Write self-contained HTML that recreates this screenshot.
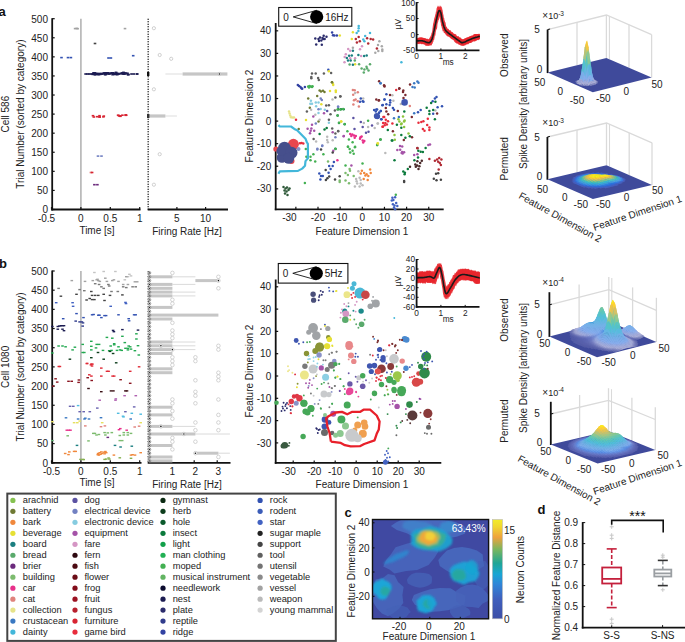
<!DOCTYPE html>
<html><head><meta charset="utf-8"><style>
html,body{margin:0;padding:0;background:#fff;width:685px;height:642px;overflow:hidden}
svg{display:block}
text{font-family:"Liberation Sans",sans-serif}
</style></head><body>
<svg width="685" height="642" viewBox="0 0 685 642">
<rect width="685" height="642" fill="#fff"/>
<text x="-1.5" y="16.0" font-size="13" text-anchor="start" fill="#111" font-weight="bold">a</text>
<text x="-1.0" y="268.0" font-size="13" text-anchor="start" fill="#111" font-weight="bold">b</text>
<text x="344.5" y="517.0" font-size="13" text-anchor="start" fill="#111" font-weight="bold">c</text>
<text x="537.5" y="514.0" font-size="13" text-anchor="start" fill="#111" font-weight="bold">d</text>
<line x1="80.90" y1="18.70" x2="80.90" y2="209.50" stroke="#b4b4b4" stroke-width="1.6"/>
<line x1="52.20" y1="18.20" x2="52.20" y2="210.50" stroke="#111" stroke-width="1.8"/>
<line x1="51.20" y1="209.50" x2="140.50" y2="209.50" stroke="#111" stroke-width="1.8"/>
<line x1="52.20" y1="209.50" x2="54.70" y2="209.50" stroke="#111" stroke-width="1.2"/>
<text x="48.0" y="213.3" font-size="10" text-anchor="end" fill="#222" font-weight="normal">0</text>
<line x1="52.20" y1="190.42" x2="54.70" y2="190.42" stroke="#111" stroke-width="1.2"/>
<text x="48.0" y="194.2" font-size="10" text-anchor="end" fill="#222" font-weight="normal">50</text>
<line x1="52.20" y1="171.34" x2="54.70" y2="171.34" stroke="#111" stroke-width="1.2"/>
<text x="48.0" y="175.1" font-size="10" text-anchor="end" fill="#222" font-weight="normal">100</text>
<line x1="52.20" y1="152.26" x2="54.70" y2="152.26" stroke="#111" stroke-width="1.2"/>
<text x="48.0" y="156.1" font-size="10" text-anchor="end" fill="#222" font-weight="normal">150</text>
<line x1="52.20" y1="133.18" x2="54.70" y2="133.18" stroke="#111" stroke-width="1.2"/>
<text x="48.0" y="137.0" font-size="10" text-anchor="end" fill="#222" font-weight="normal">200</text>
<line x1="52.20" y1="114.10" x2="54.70" y2="114.10" stroke="#111" stroke-width="1.2"/>
<text x="48.0" y="117.9" font-size="10" text-anchor="end" fill="#222" font-weight="normal">250</text>
<line x1="52.20" y1="95.02" x2="54.70" y2="95.02" stroke="#111" stroke-width="1.2"/>
<text x="48.0" y="98.8" font-size="10" text-anchor="end" fill="#222" font-weight="normal">300</text>
<line x1="52.20" y1="75.94" x2="54.70" y2="75.94" stroke="#111" stroke-width="1.2"/>
<text x="48.0" y="79.7" font-size="10" text-anchor="end" fill="#222" font-weight="normal">350</text>
<line x1="52.20" y1="56.86" x2="54.70" y2="56.86" stroke="#111" stroke-width="1.2"/>
<text x="48.0" y="60.7" font-size="10" text-anchor="end" fill="#222" font-weight="normal">400</text>
<line x1="52.20" y1="37.78" x2="54.70" y2="37.78" stroke="#111" stroke-width="1.2"/>
<text x="48.0" y="41.6" font-size="10" text-anchor="end" fill="#222" font-weight="normal">450</text>
<line x1="52.20" y1="18.70" x2="54.70" y2="18.70" stroke="#111" stroke-width="1.2"/>
<text x="48.0" y="22.5" font-size="10" text-anchor="end" fill="#222" font-weight="normal">500</text>
<line x1="51.50" y1="209.50" x2="51.50" y2="207.00" stroke="#111" stroke-width="1.2"/>
<text x="46.5" y="221.5" font-size="10" text-anchor="middle" fill="#222" font-weight="normal">-0.5</text>
<line x1="80.90" y1="209.50" x2="80.90" y2="207.00" stroke="#111" stroke-width="1.2"/>
<text x="80.9" y="221.5" font-size="10" text-anchor="middle" fill="#222" font-weight="normal">0</text>
<line x1="110.30" y1="209.50" x2="110.30" y2="207.00" stroke="#111" stroke-width="1.2"/>
<text x="110.3" y="221.5" font-size="10" text-anchor="middle" fill="#222" font-weight="normal">0.5</text>
<line x1="139.70" y1="209.50" x2="139.70" y2="207.00" stroke="#111" stroke-width="1.2"/>
<text x="139.7" y="221.5" font-size="10" text-anchor="middle" fill="#222" font-weight="normal">1</text>
<text x="97.0" y="234.0" font-size="10" text-anchor="middle" fill="#222" font-weight="normal">Time [s]</text>
<text x="24.0" y="114.1" font-size="10" text-anchor="middle" fill="#222" font-weight="normal" transform="rotate(-90 24 114.1)">Trial Number (sorted by category)</text>
<text x="9.5" y="114.1" font-size="10" text-anchor="middle" fill="#222" font-weight="normal" transform="rotate(-90 9.5 114.1)">Cell 586</text>
<line x1="148.2" y1="18.7" x2="148.2" y2="209.5" stroke="#111" stroke-width="1.5" stroke-dasharray="1.1,1.4"/>
<line x1="147.70" y1="209.50" x2="228.00" y2="209.50" stroke="#111" stroke-width="1.8"/>
<line x1="176.90" y1="209.50" x2="176.90" y2="207.00" stroke="#111" stroke-width="1.2"/>
<text x="176.9" y="221.5" font-size="10" text-anchor="middle" fill="#222" font-weight="normal">5</text>
<line x1="205.60" y1="209.50" x2="205.60" y2="207.00" stroke="#111" stroke-width="1.2"/>
<text x="205.6" y="221.5" font-size="10" text-anchor="middle" fill="#222" font-weight="normal">10</text>
<text x="187.0" y="235.0" font-size="10" text-anchor="middle" fill="#222" font-weight="normal">Firing Rate [Hz]</text>
<line x1="80.90" y1="271.00" x2="80.90" y2="462.80" stroke="#b4b4b4" stroke-width="1.6"/>
<line x1="52.20" y1="270.50" x2="52.20" y2="463.80" stroke="#111" stroke-width="1.8"/>
<line x1="51.20" y1="462.80" x2="141.50" y2="462.80" stroke="#111" stroke-width="1.8"/>
<line x1="52.20" y1="462.80" x2="54.70" y2="462.80" stroke="#111" stroke-width="1.2"/>
<text x="48.0" y="466.6" font-size="10" text-anchor="end" fill="#222" font-weight="normal">0</text>
<line x1="52.20" y1="443.62" x2="54.70" y2="443.62" stroke="#111" stroke-width="1.2"/>
<text x="48.0" y="447.4" font-size="10" text-anchor="end" fill="#222" font-weight="normal">50</text>
<line x1="52.20" y1="424.44" x2="54.70" y2="424.44" stroke="#111" stroke-width="1.2"/>
<text x="48.0" y="428.2" font-size="10" text-anchor="end" fill="#222" font-weight="normal">100</text>
<line x1="52.20" y1="405.26" x2="54.70" y2="405.26" stroke="#111" stroke-width="1.2"/>
<text x="48.0" y="409.1" font-size="10" text-anchor="end" fill="#222" font-weight="normal">150</text>
<line x1="52.20" y1="386.08" x2="54.70" y2="386.08" stroke="#111" stroke-width="1.2"/>
<text x="48.0" y="389.9" font-size="10" text-anchor="end" fill="#222" font-weight="normal">200</text>
<line x1="52.20" y1="366.90" x2="54.70" y2="366.90" stroke="#111" stroke-width="1.2"/>
<text x="48.0" y="370.7" font-size="10" text-anchor="end" fill="#222" font-weight="normal">250</text>
<line x1="52.20" y1="347.72" x2="54.70" y2="347.72" stroke="#111" stroke-width="1.2"/>
<text x="48.0" y="351.5" font-size="10" text-anchor="end" fill="#222" font-weight="normal">300</text>
<line x1="52.20" y1="328.54" x2="54.70" y2="328.54" stroke="#111" stroke-width="1.2"/>
<text x="48.0" y="332.3" font-size="10" text-anchor="end" fill="#222" font-weight="normal">350</text>
<line x1="52.20" y1="309.36" x2="54.70" y2="309.36" stroke="#111" stroke-width="1.2"/>
<text x="48.0" y="313.2" font-size="10" text-anchor="end" fill="#222" font-weight="normal">400</text>
<line x1="52.20" y1="290.18" x2="54.70" y2="290.18" stroke="#111" stroke-width="1.2"/>
<text x="48.0" y="294.0" font-size="10" text-anchor="end" fill="#222" font-weight="normal">450</text>
<line x1="52.20" y1="271.00" x2="54.70" y2="271.00" stroke="#111" stroke-width="1.2"/>
<text x="48.0" y="274.8" font-size="10" text-anchor="end" fill="#222" font-weight="normal">500</text>
<line x1="51.50" y1="462.80" x2="51.50" y2="460.30" stroke="#111" stroke-width="1.2"/>
<text x="51.5" y="474.8" font-size="10" text-anchor="middle" fill="#222" font-weight="normal">-0.5</text>
<line x1="80.90" y1="462.80" x2="80.90" y2="460.30" stroke="#111" stroke-width="1.2"/>
<text x="80.9" y="474.8" font-size="10" text-anchor="middle" fill="#222" font-weight="normal">0</text>
<line x1="110.30" y1="462.80" x2="110.30" y2="460.30" stroke="#111" stroke-width="1.2"/>
<text x="110.3" y="474.8" font-size="10" text-anchor="middle" fill="#222" font-weight="normal">0.5</text>
<line x1="139.70" y1="462.80" x2="139.70" y2="460.30" stroke="#111" stroke-width="1.2"/>
<text x="139.7" y="474.8" font-size="10" text-anchor="middle" fill="#222" font-weight="normal">1</text>
<text x="97.0" y="486.1" font-size="10" text-anchor="middle" fill="#222" font-weight="normal">Time [s]</text>
<text x="24.0" y="366.9" font-size="10" text-anchor="middle" fill="#222" font-weight="normal" transform="rotate(-90 24 366.9)">Trial Number (sorted by category)</text>
<text x="9.5" y="366.9" font-size="10" text-anchor="middle" fill="#222" font-weight="normal" transform="rotate(-90 9.5 366.9)">Cell 1080</text>
<line x1="148.2" y1="271.0" x2="148.2" y2="462.8" stroke="#111" stroke-width="1.0" stroke-dasharray="1.1,1.4"/>
<line x1="147.70" y1="462.80" x2="230.50" y2="462.80" stroke="#111" stroke-width="1.8"/>
<line x1="171.20" y1="462.80" x2="171.20" y2="460.30" stroke="#111" stroke-width="1.2"/>
<text x="172.2" y="474.8" font-size="10" text-anchor="middle" fill="#222" font-weight="normal">1</text>
<line x1="194.20" y1="462.80" x2="194.20" y2="460.30" stroke="#111" stroke-width="1.2"/>
<text x="195.2" y="474.8" font-size="10" text-anchor="middle" fill="#222" font-weight="normal">2</text>
<line x1="217.20" y1="462.80" x2="217.20" y2="460.30" stroke="#111" stroke-width="1.2"/>
<text x="218.2" y="474.8" font-size="10" text-anchor="middle" fill="#222" font-weight="normal">3</text>
<text x="187.0" y="487.5" font-size="10" text-anchor="middle" fill="#222" font-weight="normal">Firing Rate [Hz]</text>
<rect x="73.8" y="27.8" width="2.6" height="1.6" fill="#a2a2a2"/>
<rect x="76.3" y="27.9" width="2.6" height="1.6" fill="#a2a2a2"/>
<rect x="75.5" y="27.6" width="2.6" height="1.6" fill="#a2a2a2"/>
<rect x="123.7" y="27.8" width="2.6" height="1.6" fill="#a2a2a2"/>
<rect x="93.7" y="42.7" width="2.6" height="1.6" fill="#444444"/>
<rect x="60.2" y="56.8" width="2.6" height="1.6" fill="#3252b2"/>
<rect x="66.7" y="56.8" width="2.6" height="1.6" fill="#3252b2"/>
<rect x="69.6" y="56.8" width="2.6" height="1.6" fill="#3252b2"/>
<rect x="107.2" y="57.2" width="2.6" height="1.6" fill="#3252b2"/>
<rect x="109.6" y="57.2" width="2.6" height="1.6" fill="#3252b2"/>
<rect x="131.9" y="54.9" width="2.6" height="1.6" fill="#3252b2"/>
<rect x="93.5" y="72.8" width="2.6" height="1.6" fill="#1c1c52"/>
<rect x="92.7" y="73.0" width="2.6" height="1.6" fill="#1c1c52"/>
<rect x="93.9" y="73.8" width="2.6" height="1.6" fill="#1c1c52"/>
<rect x="106.8" y="72.1" width="2.6" height="1.6" fill="#1c1c52"/>
<rect x="95.9" y="73.5" width="2.6" height="1.6" fill="#1c1c52"/>
<rect x="114.2" y="71.8" width="2.6" height="1.6" fill="#1c1c52"/>
<rect x="112.4" y="73.1" width="2.6" height="1.6" fill="#1c1c52"/>
<rect x="127.0" y="73.9" width="2.6" height="1.6" fill="#1c1c52"/>
<rect x="122.7" y="73.3" width="2.6" height="1.6" fill="#1c1c52"/>
<rect x="96.6" y="73.7" width="2.6" height="1.6" fill="#1c1c52"/>
<rect x="102.6" y="72.1" width="2.6" height="1.6" fill="#1c1c52"/>
<rect x="97.9" y="72.7" width="2.6" height="1.6" fill="#1c1c52"/>
<rect x="114.7" y="73.1" width="2.6" height="1.6" fill="#1c1c52"/>
<rect x="111.3" y="73.9" width="2.6" height="1.6" fill="#1c1c52"/>
<rect x="93.5" y="73.5" width="2.6" height="1.6" fill="#1c1c52"/>
<rect x="116.2" y="73.0" width="2.6" height="1.6" fill="#1c1c52"/>
<rect x="102.8" y="72.7" width="2.6" height="1.6" fill="#1c1c52"/>
<rect x="107.9" y="73.3" width="2.6" height="1.6" fill="#1c1c52"/>
<rect x="120.3" y="72.4" width="2.6" height="1.6" fill="#1c1c52"/>
<rect x="100.3" y="72.7" width="2.6" height="1.6" fill="#1c1c52"/>
<rect x="110.5" y="72.0" width="2.6" height="1.6" fill="#1c1c52"/>
<rect x="118.0" y="73.3" width="2.6" height="1.6" fill="#1c1c52"/>
<rect x="127.1" y="73.7" width="2.6" height="1.6" fill="#1c1c52"/>
<rect x="106.6" y="72.3" width="2.6" height="1.6" fill="#1c1c52"/>
<rect x="96.9" y="72.9" width="2.6" height="1.6" fill="#1c1c52"/>
<rect x="92.8" y="72.5" width="2.6" height="1.6" fill="#1c1c52"/>
<rect x="119.2" y="72.7" width="2.6" height="1.6" fill="#1c1c52"/>
<rect x="123.3" y="73.3" width="2.6" height="1.6" fill="#1c1c52"/>
<rect x="116.7" y="72.6" width="2.6" height="1.6" fill="#1c1c52"/>
<rect x="112.5" y="73.0" width="2.6" height="1.6" fill="#1c1c52"/>
<rect x="122.0" y="71.8" width="2.6" height="1.6" fill="#1c1c52"/>
<rect x="108.6" y="72.5" width="2.6" height="1.6" fill="#1c1c52"/>
<rect x="93.6" y="72.4" width="2.6" height="1.6" fill="#1c1c52"/>
<rect x="115.0" y="71.7" width="2.6" height="1.6" fill="#1c1c52"/>
<rect x="121.3" y="73.3" width="2.6" height="1.6" fill="#1c1c52"/>
<rect x="105.4" y="72.5" width="2.6" height="1.6" fill="#1c1c52"/>
<rect x="92.2" y="72.9" width="2.6" height="1.6" fill="#1c1c52"/>
<rect x="97.5" y="73.7" width="2.6" height="1.6" fill="#1c1c52"/>
<rect x="93.5" y="72.2" width="2.6" height="1.6" fill="#1c1c52"/>
<rect x="96.1" y="73.4" width="2.6" height="1.6" fill="#1c1c52"/>
<rect x="105.6" y="72.0" width="2.6" height="1.6" fill="#1c1c52"/>
<rect x="94.3" y="73.0" width="2.6" height="1.6" fill="#1c1c52"/>
<rect x="111.4" y="72.0" width="2.6" height="1.6" fill="#1c1c52"/>
<rect x="121.2" y="72.0" width="2.6" height="1.6" fill="#1c1c52"/>
<rect x="101.5" y="73.0" width="2.6" height="1.6" fill="#1c1c52"/>
<rect x="104.4" y="72.0" width="2.6" height="1.6" fill="#1c1c52"/>
<rect x="126.3" y="73.6" width="2.6" height="1.6" fill="#1c1c52"/>
<rect x="97.8" y="73.5" width="2.6" height="1.6" fill="#1c1c52"/>
<rect x="99.9" y="72.9" width="2.6" height="1.6" fill="#1c1c52"/>
<rect x="112.8" y="73.4" width="2.6" height="1.6" fill="#1c1c52"/>
<rect x="91.5" y="73.0" width="2.6" height="1.6" fill="#1c1c52"/>
<rect x="104.8" y="72.7" width="2.6" height="1.6" fill="#1c1c52"/>
<rect x="126.1" y="72.4" width="2.6" height="1.6" fill="#1c1c52"/>
<rect x="110.2" y="72.6" width="2.6" height="1.6" fill="#1c1c52"/>
<rect x="116.0" y="73.9" width="2.6" height="1.6" fill="#1c1c52"/>
<rect x="124.2" y="72.2" width="2.6" height="1.6" fill="#1c1c52"/>
<rect x="123.2" y="72.2" width="2.6" height="1.6" fill="#1c1c52"/>
<rect x="105.7" y="73.1" width="2.6" height="1.6" fill="#1c1c52"/>
<rect x="95.1" y="72.5" width="2.6" height="1.6" fill="#1c1c52"/>
<rect x="93.6" y="73.8" width="2.6" height="1.6" fill="#1c1c52"/>
<rect x="99.0" y="73.6" width="2.6" height="1.6" fill="#1c1c52"/>
<rect x="103.8" y="73.9" width="2.6" height="1.6" fill="#1c1c52"/>
<rect x="91.4" y="73.6" width="2.6" height="1.6" fill="#1c1c52"/>
<rect x="95.1" y="73.2" width="2.6" height="1.6" fill="#1c1c52"/>
<rect x="92.3" y="72.0" width="2.6" height="1.6" fill="#1c1c52"/>
<rect x="113.7" y="73.7" width="2.6" height="1.6" fill="#1c1c52"/>
<rect x="100.6" y="73.2" width="2.6" height="1.6" fill="#1c1c52"/>
<rect x="104.6" y="73.7" width="2.6" height="1.6" fill="#1c1c52"/>
<rect x="122.3" y="71.7" width="2.6" height="1.6" fill="#1c1c52"/>
<rect x="108.3" y="72.9" width="2.6" height="1.6" fill="#1c1c52"/>
<rect x="84.3" y="73.2" width="2.6" height="1.6" fill="#1c1c52"/>
<rect x="86.1" y="73.2" width="2.6" height="1.6" fill="#1c1c52"/>
<rect x="87.8" y="73.2" width="2.6" height="1.6" fill="#1c1c52"/>
<rect x="89.6" y="73.2" width="2.6" height="1.6" fill="#1c1c52"/>
<rect x="130.2" y="73.2" width="2.6" height="1.6" fill="#1c1c52"/>
<rect x="132.5" y="73.2" width="2.6" height="1.6" fill="#1c1c52"/>
<rect x="135.5" y="73.2" width="2.6" height="1.6" fill="#1c1c52"/>
<rect x="136.0" y="73.2" width="2.6" height="1.6" fill="#1c1c52"/>
<rect x="92.5" y="116.2" width="2.6" height="1.6" fill="#d82432"/>
<rect x="95.8" y="115.9" width="2.6" height="1.6" fill="#d82432"/>
<rect x="102.1" y="116.1" width="2.6" height="1.6" fill="#d82432"/>
<rect x="91.7" y="114.9" width="2.6" height="1.6" fill="#d82432"/>
<rect x="98.2" y="116.1" width="2.6" height="1.6" fill="#d82432"/>
<rect x="98.4" y="116.3" width="2.6" height="1.6" fill="#d82432"/>
<rect x="98.2" y="114.9" width="2.6" height="1.6" fill="#d82432"/>
<rect x="102.5" y="115.3" width="2.6" height="1.6" fill="#d82432"/>
<rect x="118.0" y="115.0" width="2.6" height="1.6" fill="#d82432"/>
<rect x="116.8" y="114.4" width="2.6" height="1.6" fill="#d82432"/>
<rect x="121.1" y="114.4" width="2.6" height="1.6" fill="#d82432"/>
<rect x="118.8" y="115.2" width="2.6" height="1.6" fill="#d82432"/>
<rect x="124.4" y="114.1" width="2.6" height="1.6" fill="#d82432"/>
<rect x="124.9" y="114.4" width="2.6" height="1.6" fill="#d82432"/>
<rect x="124.5" y="114.5" width="2.6" height="1.6" fill="#d82432"/>
<rect x="117.5" y="114.8" width="2.6" height="1.6" fill="#d82432"/>
<rect x="119.1" y="115.5" width="2.6" height="1.6" fill="#d82432"/>
<rect x="96.7" y="155.3" width="2.6" height="1.6" fill="#7281c2"/>
<rect x="100.2" y="155.3" width="2.6" height="1.6" fill="#7281c2"/>
<rect x="89.6" y="171.7" width="2.6" height="1.6" fill="#e0827c"/>
<rect x="90.8" y="171.7" width="2.6" height="1.6" fill="#d82432"/>
<rect x="93.1" y="183.9" width="2.6" height="1.6" fill="#6b2a7c"/>
<rect x="96.1" y="183.9" width="2.6" height="1.6" fill="#6b2a7c"/>
<circle cx="153.9" cy="28.2" r="1.6" fill="#fff" stroke="#bdbdbd" stroke-width="0.7"/>
<circle cx="159.7" cy="55.0" r="1.6" fill="#fff" stroke="#bdbdbd" stroke-width="0.7"/>
<circle cx="171.2" cy="58.8" r="1.6" fill="#fff" stroke="#bdbdbd" stroke-width="0.7"/>
<line x1="165.4" y1="74.0" x2="182.6" y2="74.0" stroke="#d4d4d4" stroke-width="0.8"/>
<rect x="182.6" y="72.4" width="44.8" height="3.2" fill="#c6c6c6"/>
<circle cx="219.4" cy="74.0" r="1.6" fill="#fff" stroke="#bdbdbd" stroke-width="0.7"/>
<circle cx="219.4" cy="74.0" r="0.8" fill="#111"/>
<circle cx="153.9" cy="89.3" r="1.6" fill="#fff" stroke="#bdbdbd" stroke-width="0.7"/>
<line x1="165.4" y1="116.0" x2="176.9" y2="116.0" stroke="#d4d4d4" stroke-width="0.8"/>
<rect x="148.2" y="114.4" width="17.2" height="3.2" fill="#c6c6c6"/>
<circle cx="159.7" cy="154.2" r="1.6" fill="#fff" stroke="#bdbdbd" stroke-width="0.7"/>
<circle cx="153.9" cy="184.7" r="1.6" fill="#fff" stroke="#bdbdbd" stroke-width="0.7"/>
<rect x="147" y="72.0" width="2.4" height="4" fill="#111"/>
<rect x="147" y="114.0" width="2.4" height="4" fill="#333"/>
<rect x="57.5" y="365.8" width="2.6" height="1.4" fill="#e02a36"/>
<rect x="58.6" y="365.8" width="2.6" height="1.4" fill="#e02a36"/>
<rect x="85.6" y="362.9" width="2.6" height="1.4" fill="#e02a36"/>
<rect x="89.6" y="364.2" width="2.6" height="1.4" fill="#e02a36"/>
<rect x="90.7" y="365.3" width="2.6" height="1.4" fill="#e02a36"/>
<rect x="100.0" y="367.4" width="2.6" height="1.4" fill="#e02a36"/>
<rect x="105.7" y="370.6" width="2.6" height="1.4" fill="#e02a36"/>
<rect x="107.3" y="370.6" width="2.6" height="1.4" fill="#e02a36"/>
<rect x="128.9" y="370.6" width="2.6" height="1.4" fill="#e02a36"/>
<rect x="137.8" y="366.1" width="2.6" height="1.4" fill="#e02a36"/>
<rect x="88.0" y="374.1" width="2.6" height="1.4" fill="#e02a36"/>
<rect x="90.1" y="375.4" width="2.6" height="1.4" fill="#e02a36"/>
<rect x="100.0" y="375.4" width="2.6" height="1.4" fill="#e02a36"/>
<rect x="111.3" y="375.4" width="2.6" height="1.4" fill="#e02a36"/>
<rect x="112.9" y="375.4" width="2.6" height="1.4" fill="#e02a36"/>
<rect x="54.3" y="378.1" width="2.6" height="1.4" fill="#8a1420"/>
<rect x="55.9" y="381.4" width="2.6" height="1.4" fill="#8a1420"/>
<rect x="67.2" y="380.6" width="2.6" height="1.4" fill="#8a1420"/>
<rect x="70.4" y="380.6" width="2.6" height="1.4" fill="#8a1420"/>
<rect x="77.6" y="379.3" width="2.6" height="1.4" fill="#8a1420"/>
<rect x="77.3" y="381.7" width="2.6" height="1.4" fill="#8a1420"/>
<rect x="86.4" y="377.0" width="2.6" height="1.4" fill="#8a1420"/>
<rect x="90.4" y="379.8" width="2.6" height="1.4" fill="#8a1420"/>
<rect x="119.3" y="379.0" width="2.6" height="1.4" fill="#8a1420"/>
<rect x="128.9" y="382.6" width="2.6" height="1.4" fill="#8a1420"/>
<rect x="51.9" y="385.4" width="2.6" height="1.4" fill="#8a1420"/>
<rect x="87.2" y="387.8" width="2.6" height="1.4" fill="#3a1015"/>
<rect x="100.0" y="391.0" width="2.6" height="1.4" fill="#3a1015"/>
<rect x="109.7" y="390.2" width="2.6" height="1.4" fill="#3a1015"/>
<rect x="112.1" y="390.2" width="2.6" height="1.4" fill="#3a1015"/>
<rect x="124.1" y="390.2" width="2.6" height="1.4" fill="#3a1015"/>
<rect x="125.7" y="390.2" width="2.6" height="1.4" fill="#3a1015"/>
<rect x="98.4" y="399.5" width="2.6" height="1.4" fill="#b060b0"/>
<rect x="114.5" y="398.2" width="2.6" height="1.4" fill="#b060b0"/>
<rect x="114.2" y="399.5" width="2.6" height="1.4" fill="#b060b0"/>
<rect x="123.3" y="395.0" width="2.6" height="1.4" fill="#b060b0"/>
<rect x="134.5" y="395.0" width="2.6" height="1.4" fill="#b060b0"/>
<rect x="68.8" y="405.6" width="2.6" height="1.4" fill="#6a64b0"/>
<rect x="72.0" y="405.6" width="2.6" height="1.4" fill="#6a64b0"/>
<rect x="96.0" y="407.4" width="2.6" height="1.4" fill="#6a64b0"/>
<rect x="132.9" y="406.2" width="2.6" height="1.4" fill="#6a64b0"/>
<rect x="78.4" y="411.0" width="2.6" height="1.4" fill="#6a64b0"/>
<rect x="82.4" y="411.0" width="2.6" height="1.4" fill="#6a64b0"/>
<rect x="88.5" y="411.0" width="2.6" height="1.4" fill="#6a64b0"/>
<rect x="124.1" y="411.0" width="2.6" height="1.4" fill="#6a64b0"/>
<rect x="76.8" y="404.9" width="2.6" height="1.4" fill="#50bce0"/>
<rect x="116.9" y="412.6" width="2.6" height="1.4" fill="#50bce0"/>
<rect x="121.7" y="415.5" width="2.6" height="1.4" fill="#50bce0"/>
<rect x="122.2" y="416.2" width="2.6" height="1.4" fill="#50bce0"/>
<rect x="130.5" y="412.6" width="2.6" height="1.4" fill="#50bce0"/>
<rect x="139.4" y="413.5" width="2.6" height="1.4" fill="#50bce0"/>
<rect x="64.7" y="417.1" width="2.6" height="1.4" fill="#3a78c2"/>
<rect x="76.8" y="418.3" width="2.6" height="1.4" fill="#3a78c2"/>
<rect x="83.2" y="418.3" width="2.6" height="1.4" fill="#3a78c2"/>
<rect x="84.0" y="417.5" width="2.6" height="1.4" fill="#3a78c2"/>
<rect x="87.7" y="418.3" width="2.6" height="1.4" fill="#3a78c2"/>
<rect x="99.7" y="417.0" width="2.6" height="1.4" fill="#3a78c2"/>
<rect x="129.4" y="418.3" width="2.6" height="1.4" fill="#3a78c2"/>
<rect x="72.8" y="422.0" width="2.6" height="1.4" fill="#e6e060"/>
<rect x="76.0" y="422.0" width="2.6" height="1.4" fill="#e6e060"/>
<rect x="78.4" y="420.4" width="2.6" height="1.4" fill="#e6e060"/>
<rect x="100.9" y="422.0" width="2.6" height="1.4" fill="#e6e060"/>
<rect x="139.4" y="422.0" width="2.6" height="1.4" fill="#e6e060"/>
<rect x="51.1" y="421.0" width="2.6" height="1.4" fill="#e6e060"/>
<rect x="84.0" y="425.2" width="2.6" height="1.4" fill="#e0827c"/>
<rect x="99.7" y="426.0" width="2.6" height="1.4" fill="#e0827c"/>
<rect x="103.6" y="425.2" width="2.6" height="1.4" fill="#e0827c"/>
<rect x="133.4" y="426.3" width="2.6" height="1.4" fill="#e0827c"/>
<rect x="137.8" y="425.5" width="2.6" height="1.4" fill="#e0827c"/>
<rect x="65.5" y="429.5" width="2.6" height="1.4" fill="#e8308a"/>
<rect x="67.6" y="429.5" width="2.6" height="1.4" fill="#e8308a"/>
<rect x="69.2" y="429.5" width="2.6" height="1.4" fill="#e8308a"/>
<rect x="117.7" y="429.0" width="2.6" height="1.4" fill="#e8308a"/>
<rect x="119.0" y="427.9" width="2.6" height="1.4" fill="#e8308a"/>
<rect x="125.4" y="429.5" width="2.6" height="1.4" fill="#e8308a"/>
<rect x="92.0" y="432.7" width="2.6" height="1.4" fill="#7cbb6e"/>
<rect x="93.6" y="432.7" width="2.6" height="1.4" fill="#7cbb6e"/>
<rect x="95.2" y="434.3" width="2.6" height="1.4" fill="#7cbb6e"/>
<rect x="97.6" y="433.8" width="2.6" height="1.4" fill="#7cbb6e"/>
<rect x="103.3" y="431.9" width="2.6" height="1.4" fill="#7cbb6e"/>
<rect x="104.1" y="434.3" width="2.6" height="1.4" fill="#7cbb6e"/>
<rect x="106.5" y="432.2" width="2.6" height="1.4" fill="#7cbb6e"/>
<rect x="110.5" y="431.9" width="2.6" height="1.4" fill="#7cbb6e"/>
<rect x="118.5" y="434.8" width="2.6" height="1.4" fill="#7cbb6e"/>
<rect x="122.5" y="431.9" width="2.6" height="1.4" fill="#7cbb6e"/>
<rect x="122.5" y="434.3" width="2.6" height="1.4" fill="#7cbb6e"/>
<rect x="126.5" y="431.9" width="2.6" height="1.4" fill="#7cbb6e"/>
<rect x="126.5" y="434.3" width="2.6" height="1.4" fill="#7cbb6e"/>
<rect x="129.7" y="432.7" width="2.6" height="1.4" fill="#7cbb6e"/>
<rect x="66.4" y="435.1" width="2.6" height="1.4" fill="#7cbb6e"/>
<rect x="87.2" y="440.2" width="2.6" height="1.4" fill="#7cbb6e"/>
<rect x="118.5" y="439.9" width="2.6" height="1.4" fill="#7cbb6e"/>
<rect x="120.9" y="439.9" width="2.6" height="1.4" fill="#7cbb6e"/>
<rect x="106.5" y="436.7" width="2.6" height="1.4" fill="#6b2a7c"/>
<rect x="75.7" y="444.7" width="2.6" height="1.4" fill="#1b7f80"/>
<rect x="113.7" y="444.7" width="2.6" height="1.4" fill="#1b7f80"/>
<rect x="119.3" y="446.3" width="2.6" height="1.4" fill="#1b7f80"/>
<rect x="130.5" y="445.5" width="2.6" height="1.4" fill="#1b7f80"/>
<rect x="51.1" y="439.9" width="2.6" height="1.4" fill="#5aaa6c"/>
<rect x="63.9" y="452.8" width="2.6" height="1.4" fill="#f0883c"/>
<rect x="68.0" y="451.2" width="2.6" height="1.4" fill="#f0883c"/>
<rect x="67.2" y="453.9" width="2.6" height="1.4" fill="#f0883c"/>
<rect x="72.8" y="450.7" width="2.6" height="1.4" fill="#f0883c"/>
<rect x="74.4" y="450.7" width="2.6" height="1.4" fill="#f0883c"/>
<rect x="96.8" y="452.8" width="2.6" height="1.4" fill="#f0883c"/>
<rect x="97.6" y="454.4" width="2.6" height="1.4" fill="#f0883c"/>
<rect x="98.4" y="452.0" width="2.6" height="1.4" fill="#f0883c"/>
<rect x="100.0" y="451.2" width="2.6" height="1.4" fill="#f0883c"/>
<rect x="102.5" y="451.5" width="2.6" height="1.4" fill="#f0883c"/>
<rect x="103.3" y="453.1" width="2.6" height="1.4" fill="#f0883c"/>
<rect x="104.9" y="452.0" width="2.6" height="1.4" fill="#f0883c"/>
<rect x="104.1" y="450.8" width="2.6" height="1.4" fill="#f0883c"/>
<rect x="99.2" y="453.6" width="2.6" height="1.4" fill="#f0883c"/>
<rect x="96.5" y="454.0" width="2.6" height="1.4" fill="#f0883c"/>
<rect x="100.9" y="452.8" width="2.6" height="1.4" fill="#f0883c"/>
<rect x="112.6" y="454.4" width="2.6" height="1.4" fill="#f0883c"/>
<rect x="129.7" y="454.4" width="2.6" height="1.4" fill="#f0883c"/>
<rect x="131.3" y="454.0" width="2.6" height="1.4" fill="#f0883c"/>
<rect x="133.7" y="454.4" width="2.6" height="1.4" fill="#f0883c"/>
<rect x="139.4" y="452.0" width="2.6" height="1.4" fill="#f0883c"/>
<rect x="79.2" y="458.7" width="2.6" height="1.4" fill="#86b050"/>
<rect x="81.6" y="458.7" width="2.6" height="1.4" fill="#86b050"/>
<rect x="103.3" y="458.7" width="2.6" height="1.4" fill="#86b050"/>
<rect x="104.9" y="458.4" width="2.6" height="1.4" fill="#86b050"/>
<rect x="107.3" y="457.3" width="2.6" height="1.4" fill="#86b050"/>
<rect x="108.1" y="458.4" width="2.6" height="1.4" fill="#86b050"/>
<rect x="118.5" y="457.1" width="2.6" height="1.4" fill="#86b050"/>
<rect x="129.7" y="457.6" width="2.6" height="1.4" fill="#86b050"/>
<rect x="82.4" y="458.9" width="2.6" height="1.4" fill="#86b050"/>
<rect x="93.1" y="271.8" width="2.6" height="1.4" fill="#c4c4c4"/>
<rect x="102.4" y="270.8" width="2.6" height="1.4" fill="#c4c4c4"/>
<rect x="114.1" y="270.8" width="2.6" height="1.4" fill="#c4c4c4"/>
<rect x="123.5" y="279.1" width="2.6" height="1.4" fill="#c4c4c4"/>
<rect x="128.1" y="273.6" width="2.6" height="1.4" fill="#c4c4c4"/>
<rect x="129.7" y="275.2" width="2.6" height="1.4" fill="#c4c4c4"/>
<rect x="126.6" y="276.0" width="2.6" height="1.4" fill="#c4c4c4"/>
<rect x="70.5" y="279.9" width="2.6" height="1.4" fill="#a2a2a2"/>
<rect x="83.7" y="280.7" width="2.6" height="1.4" fill="#a2a2a2"/>
<rect x="91.5" y="279.9" width="2.6" height="1.4" fill="#a2a2a2"/>
<rect x="95.4" y="279.1" width="2.6" height="1.4" fill="#a2a2a2"/>
<rect x="97.0" y="279.9" width="2.6" height="1.4" fill="#a2a2a2"/>
<rect x="98.5" y="280.7" width="2.6" height="1.4" fill="#a2a2a2"/>
<rect x="96.2" y="278.6" width="2.6" height="1.4" fill="#a2a2a2"/>
<rect x="104.0" y="277.5" width="2.6" height="1.4" fill="#a2a2a2"/>
<rect x="105.6" y="280.7" width="2.6" height="1.4" fill="#a2a2a2"/>
<rect x="111.0" y="279.9" width="2.6" height="1.4" fill="#a2a2a2"/>
<rect x="112.6" y="279.1" width="2.6" height="1.4" fill="#a2a2a2"/>
<rect x="117.2" y="280.7" width="2.6" height="1.4" fill="#a2a2a2"/>
<rect x="125.0" y="276.0" width="2.6" height="1.4" fill="#a2a2a2"/>
<rect x="133.6" y="281.1" width="2.6" height="1.4" fill="#a2a2a2"/>
<rect x="135.9" y="281.1" width="2.6" height="1.4" fill="#a2a2a2"/>
<rect x="121.9" y="283.8" width="2.6" height="1.4" fill="#a2a2a2"/>
<rect x="126.6" y="283.8" width="2.6" height="1.4" fill="#a2a2a2"/>
<rect x="57.3" y="287.7" width="2.6" height="1.4" fill="#7a7a7a"/>
<rect x="78.3" y="288.9" width="2.6" height="1.4" fill="#7a7a7a"/>
<rect x="83.0" y="290.0" width="2.6" height="1.4" fill="#7a7a7a"/>
<rect x="93.9" y="283.0" width="2.6" height="1.4" fill="#7a7a7a"/>
<rect x="97.8" y="283.8" width="2.6" height="1.4" fill="#7a7a7a"/>
<rect x="107.1" y="283.8" width="2.6" height="1.4" fill="#7a7a7a"/>
<rect x="107.9" y="285.3" width="2.6" height="1.4" fill="#7a7a7a"/>
<rect x="100.1" y="286.1" width="2.6" height="1.4" fill="#7a7a7a"/>
<rect x="102.4" y="287.7" width="2.6" height="1.4" fill="#7a7a7a"/>
<rect x="110.2" y="290.8" width="2.6" height="1.4" fill="#7a7a7a"/>
<rect x="116.5" y="290.8" width="2.6" height="1.4" fill="#7a7a7a"/>
<rect x="121.9" y="286.1" width="2.6" height="1.4" fill="#7a7a7a"/>
<rect x="125.0" y="286.9" width="2.6" height="1.4" fill="#7a7a7a"/>
<rect x="131.3" y="286.1" width="2.6" height="1.4" fill="#7a7a7a"/>
<rect x="134.4" y="286.1" width="2.6" height="1.4" fill="#7a7a7a"/>
<rect x="59.6" y="295.5" width="2.6" height="1.4" fill="#444444"/>
<rect x="75.2" y="293.6" width="2.6" height="1.4" fill="#444444"/>
<rect x="85.3" y="299.3" width="2.6" height="1.4" fill="#444444"/>
<rect x="88.4" y="297.8" width="2.6" height="1.4" fill="#444444"/>
<rect x="90.0" y="290.8" width="2.6" height="1.4" fill="#444444"/>
<rect x="90.8" y="294.7" width="2.6" height="1.4" fill="#444444"/>
<rect x="93.9" y="294.7" width="2.6" height="1.4" fill="#444444"/>
<rect x="97.0" y="294.7" width="2.6" height="1.4" fill="#444444"/>
<rect x="90.8" y="298.9" width="2.6" height="1.4" fill="#444444"/>
<rect x="93.1" y="298.9" width="2.6" height="1.4" fill="#444444"/>
<rect x="102.4" y="293.6" width="2.6" height="1.4" fill="#444444"/>
<rect x="108.7" y="294.7" width="2.6" height="1.4" fill="#444444"/>
<rect x="103.2" y="299.8" width="2.6" height="1.4" fill="#444444"/>
<rect x="121.1" y="294.2" width="2.6" height="1.4" fill="#444444"/>
<rect x="54.9" y="302.0" width="2.6" height="1.4" fill="#4262c2"/>
<rect x="71.3" y="302.0" width="2.6" height="1.4" fill="#4262c2"/>
<rect x="71.8" y="305.6" width="2.6" height="1.4" fill="#4262c2"/>
<rect x="109.4" y="305.6" width="2.6" height="1.4" fill="#4262c2"/>
<rect x="124.2" y="301.7" width="2.6" height="1.4" fill="#4262c2"/>
<rect x="124.7" y="302.9" width="2.6" height="1.4" fill="#4262c2"/>
<rect x="61.9" y="318.0" width="2.6" height="1.4" fill="#3252b2"/>
<rect x="75.2" y="312.9" width="2.6" height="1.4" fill="#3252b2"/>
<rect x="82.2" y="316.9" width="2.6" height="1.4" fill="#3252b2"/>
<rect x="90.8" y="314.1" width="2.6" height="1.4" fill="#3252b2"/>
<rect x="92.3" y="313.8" width="2.6" height="1.4" fill="#3252b2"/>
<rect x="97.0" y="314.5" width="2.6" height="1.4" fill="#3252b2"/>
<rect x="98.2" y="314.5" width="2.6" height="1.4" fill="#3252b2"/>
<rect x="100.1" y="316.9" width="2.6" height="1.4" fill="#3252b2"/>
<rect x="103.2" y="314.9" width="2.6" height="1.4" fill="#3252b2"/>
<rect x="104.8" y="314.9" width="2.6" height="1.4" fill="#3252b2"/>
<rect x="117.2" y="314.1" width="2.6" height="1.4" fill="#3252b2"/>
<rect x="127.4" y="318.0" width="2.6" height="1.4" fill="#3252b2"/>
<rect x="127.8" y="320.1" width="2.6" height="1.4" fill="#3252b2"/>
<rect x="132.8" y="314.1" width="2.6" height="1.4" fill="#3252b2"/>
<rect x="134.4" y="314.1" width="2.6" height="1.4" fill="#3252b2"/>
<rect x="74.4" y="320.4" width="2.6" height="1.4" fill="#313c8c"/>
<rect x="78.3" y="321.2" width="2.6" height="1.4" fill="#313c8c"/>
<rect x="80.6" y="321.2" width="2.6" height="1.4" fill="#313c8c"/>
<rect x="81.7" y="322.2" width="2.6" height="1.4" fill="#313c8c"/>
<rect x="81.4" y="325.4" width="2.6" height="1.4" fill="#313c8c"/>
<rect x="51.0" y="325.8" width="2.6" height="1.4" fill="#1c1c52"/>
<rect x="56.5" y="325.8" width="2.6" height="1.4" fill="#1c1c52"/>
<rect x="58.0" y="325.4" width="2.6" height="1.4" fill="#1c1c52"/>
<rect x="59.6" y="325.0" width="2.6" height="1.4" fill="#1c1c52"/>
<rect x="61.2" y="325.0" width="2.6" height="1.4" fill="#1c1c52"/>
<rect x="62.7" y="325.0" width="2.6" height="1.4" fill="#1c1c52"/>
<rect x="56.5" y="328.5" width="2.6" height="1.4" fill="#1c1c52"/>
<rect x="61.2" y="328.5" width="2.6" height="1.4" fill="#1c1c52"/>
<rect x="62.7" y="330.0" width="2.6" height="1.4" fill="#1c1c52"/>
<rect x="121.1" y="328.9" width="2.6" height="1.4" fill="#1c1c52"/>
<rect x="136.7" y="329.4" width="2.6" height="1.4" fill="#1c1c52"/>
<rect x="111.8" y="329.7" width="2.6" height="1.4" fill="#1c1c52"/>
<rect x="112.6" y="331.0" width="2.6" height="1.4" fill="#1c1c52"/>
<rect x="51.0" y="352.3" width="2.6" height="1.4" fill="#22a850"/>
<rect x="57.3" y="345.3" width="2.6" height="1.4" fill="#22a850"/>
<rect x="61.2" y="345.3" width="2.6" height="1.4" fill="#22a850"/>
<rect x="64.3" y="346.1" width="2.6" height="1.4" fill="#22a850"/>
<rect x="71.3" y="349.2" width="2.6" height="1.4" fill="#22a850"/>
<rect x="73.6" y="346.5" width="2.6" height="1.4" fill="#22a850"/>
<rect x="81.4" y="343.7" width="2.6" height="1.4" fill="#22a850"/>
<rect x="90.0" y="340.6" width="2.6" height="1.4" fill="#22a850"/>
<rect x="90.0" y="345.6" width="2.6" height="1.4" fill="#22a850"/>
<rect x="90.0" y="349.2" width="2.6" height="1.4" fill="#22a850"/>
<rect x="94.7" y="347.2" width="2.6" height="1.4" fill="#22a850"/>
<rect x="95.4" y="343.7" width="2.6" height="1.4" fill="#22a850"/>
<rect x="97.8" y="343.7" width="2.6" height="1.4" fill="#22a850"/>
<rect x="101.7" y="349.7" width="2.6" height="1.4" fill="#22a850"/>
<rect x="105.6" y="336.7" width="2.6" height="1.4" fill="#22a850"/>
<rect x="109.4" y="345.3" width="2.6" height="1.4" fill="#22a850"/>
<rect x="107.9" y="350.0" width="2.6" height="1.4" fill="#22a850"/>
<rect x="110.2" y="349.7" width="2.6" height="1.4" fill="#22a850"/>
<rect x="111.0" y="337.5" width="2.6" height="1.4" fill="#22a850"/>
<rect x="112.9" y="344.1" width="2.6" height="1.4" fill="#22a850"/>
<rect x="112.9" y="343.0" width="2.6" height="1.4" fill="#22a850"/>
<rect x="117.2" y="346.1" width="2.6" height="1.4" fill="#22a850"/>
<rect x="115.7" y="349.7" width="2.6" height="1.4" fill="#22a850"/>
<rect x="118.8" y="349.2" width="2.6" height="1.4" fill="#22a850"/>
<rect x="120.4" y="349.7" width="2.6" height="1.4" fill="#22a850"/>
<rect x="121.1" y="335.6" width="2.6" height="1.4" fill="#22a850"/>
<rect x="123.5" y="341.9" width="2.6" height="1.4" fill="#22a850"/>
<rect x="124.2" y="347.6" width="2.6" height="1.4" fill="#22a850"/>
<rect x="126.6" y="347.6" width="2.6" height="1.4" fill="#22a850"/>
<rect x="127.4" y="345.3" width="2.6" height="1.4" fill="#22a850"/>
<rect x="128.9" y="346.1" width="2.6" height="1.4" fill="#22a850"/>
<rect x="126.6" y="349.2" width="2.6" height="1.4" fill="#22a850"/>
<rect x="129.7" y="348.4" width="2.6" height="1.4" fill="#22a850"/>
<rect x="133.6" y="350.0" width="2.6" height="1.4" fill="#22a850"/>
<rect x="135.1" y="338.3" width="2.6" height="1.4" fill="#22a850"/>
<rect x="135.1" y="333.1" width="2.6" height="1.4" fill="#22a850"/>
<rect x="136.7" y="345.0" width="2.6" height="1.4" fill="#22a850"/>
<rect x="137.5" y="354.3" width="2.6" height="1.4" fill="#22a850"/>
<rect x="81.4" y="351.8" width="2.6" height="1.4" fill="#22a850"/>
<rect x="83.0" y="351.8" width="2.6" height="1.4" fill="#22a850"/>
<rect x="68.6" y="358.5" width="2.6" height="1.4" fill="#0d3d1c"/>
<rect x="90.0" y="357.0" width="2.6" height="1.4" fill="#0d3d1c"/>
<rect x="96.7" y="351.8" width="2.6" height="1.4" fill="#0d3d1c"/>
<rect x="102.4" y="358.5" width="2.6" height="1.4" fill="#0d3d1c"/>
<rect x="111.8" y="352.8" width="2.6" height="1.4" fill="#0d3d1c"/>
<rect x="114.9" y="362.1" width="2.6" height="1.4" fill="#0d3d1c"/>
<rect x="108.7" y="350.7" width="2.6" height="1.4" fill="#0d3d1c"/>
<rect x="85.8" y="362.7" width="2.6" height="1.4" fill="#e02a36"/>
<rect x="90.0" y="363.4" width="2.6" height="1.4" fill="#e02a36"/>
<rect x="91.1" y="363.4" width="2.6" height="1.4" fill="#e02a36"/>
<line x1="172.4" y1="276.8" x2="195.4" y2="276.8" stroke="#d0d0d0" stroke-width="0.8"/>
<line x1="172.4" y1="284.4" x2="195.4" y2="284.4" stroke="#d0d0d0" stroke-width="0.8"/>
<line x1="172.4" y1="292.1" x2="195.4" y2="292.1" stroke="#d0d0d0" stroke-width="0.8"/>
<line x1="172.4" y1="295.9" x2="195.4" y2="295.9" stroke="#d0d0d0" stroke-width="0.8"/>
<line x1="172.4" y1="342.0" x2="195.4" y2="342.0" stroke="#d0d0d0" stroke-width="0.8"/>
<line x1="172.4" y1="345.8" x2="195.4" y2="345.8" stroke="#d0d0d0" stroke-width="0.8"/>
<line x1="172.4" y1="349.6" x2="195.4" y2="349.6" stroke="#d0d0d0" stroke-width="0.8"/>
<line x1="172.4" y1="426.4" x2="195.4" y2="426.4" stroke="#d0d0d0" stroke-width="0.8"/>
<line x1="195.4" y1="434.0" x2="229.9" y2="434.0" stroke="#d0d0d0" stroke-width="0.8"/>
<line x1="218.4" y1="453.2" x2="229.9" y2="453.2" stroke="#d0d0d0" stroke-width="0.8"/>
<rect x="149.4" y="275.3" width="23.0" height="3.0" fill="#c6c6c6"/>
<rect x="195.4" y="279.1" width="23.0" height="3.0" fill="#c6c6c6"/>
<rect x="149.4" y="282.9" width="23.0" height="3.0" fill="#c6c6c6"/>
<rect x="149.4" y="286.8" width="23.0" height="3.0" fill="#c6c6c6"/>
<rect x="149.4" y="290.6" width="23.0" height="3.0" fill="#c6c6c6"/>
<rect x="149.4" y="294.4" width="23.0" height="3.0" fill="#c6c6c6"/>
<rect x="149.4" y="305.9" width="23.0" height="3.0" fill="#c6c6c6"/>
<rect x="149.4" y="313.6" width="69.0" height="3.0" fill="#c6c6c6"/>
<rect x="149.4" y="317.5" width="23.0" height="3.0" fill="#c6c6c6"/>
<rect x="149.4" y="340.5" width="23.0" height="3.0" fill="#c6c6c6"/>
<rect x="149.4" y="344.3" width="23.0" height="3.0" fill="#c6c6c6"/>
<rect x="149.4" y="348.1" width="23.0" height="3.0" fill="#c6c6c6"/>
<rect x="149.4" y="352.0" width="23.0" height="3.0" fill="#c6c6c6"/>
<rect x="149.4" y="367.3" width="23.0" height="3.0" fill="#c6c6c6"/>
<rect x="149.4" y="371.2" width="23.0" height="3.0" fill="#c6c6c6"/>
<rect x="149.4" y="405.7" width="23.0" height="3.0" fill="#c6c6c6"/>
<rect x="149.4" y="413.4" width="23.0" height="3.0" fill="#c6c6c6"/>
<rect x="149.4" y="424.9" width="23.0" height="3.0" fill="#c6c6c6"/>
<rect x="149.4" y="432.5" width="46.0" height="3.0" fill="#c6c6c6"/>
<rect x="149.4" y="444.0" width="23.0" height="3.0" fill="#c6c6c6"/>
<rect x="195.4" y="451.7" width="23.0" height="3.0" fill="#c6c6c6"/>
<rect x="149.4" y="455.5" width="23.0" height="3.0" fill="#c6c6c6"/>
<rect x="149.4" y="459.4" width="23.0" height="3.0" fill="#c6c6c6"/>
<circle cx="172.4" cy="272.9" r="1.8" fill="#fff" stroke="#b8b8b8" stroke-width="0.6"/>
<circle cx="218.4" cy="276.8" r="1.8" fill="#fff" stroke="#b8b8b8" stroke-width="0.6"/>
<circle cx="218.4" cy="280.6" r="1.8" fill="#fff" stroke="#b8b8b8" stroke-width="0.6"/>
<circle cx="218.4" cy="280.6" r="0.8" fill="#111"/>
<circle cx="218.4" cy="288.3" r="1.8" fill="#fff" stroke="#b8b8b8" stroke-width="0.6"/>
<circle cx="172.4" cy="299.8" r="1.8" fill="#fff" stroke="#b8b8b8" stroke-width="0.6"/>
<circle cx="172.4" cy="303.6" r="1.8" fill="#fff" stroke="#b8b8b8" stroke-width="0.6"/>
<circle cx="172.4" cy="322.8" r="1.8" fill="#fff" stroke="#b8b8b8" stroke-width="0.6"/>
<circle cx="172.4" cy="330.5" r="1.8" fill="#fff" stroke="#b8b8b8" stroke-width="0.6"/>
<circle cx="172.4" cy="334.3" r="1.8" fill="#fff" stroke="#b8b8b8" stroke-width="0.6"/>
<circle cx="172.4" cy="338.1" r="1.8" fill="#fff" stroke="#b8b8b8" stroke-width="0.6"/>
<circle cx="160.9" cy="345.8" r="1.8" fill="#fff" stroke="#b8b8b8" stroke-width="0.6"/>
<circle cx="160.9" cy="345.8" r="0.8" fill="#111"/>
<circle cx="218.4" cy="345.8" r="1.8" fill="#fff" stroke="#b8b8b8" stroke-width="0.6"/>
<circle cx="172.4" cy="349.6" r="1.8" fill="#fff" stroke="#b8b8b8" stroke-width="0.6"/>
<circle cx="172.4" cy="349.6" r="0.8" fill="#111"/>
<circle cx="218.4" cy="349.6" r="1.8" fill="#fff" stroke="#b8b8b8" stroke-width="0.6"/>
<circle cx="195.4" cy="357.3" r="1.8" fill="#fff" stroke="#b8b8b8" stroke-width="0.6"/>
<circle cx="172.4" cy="357.3" r="1.8" fill="#fff" stroke="#b8b8b8" stroke-width="0.6"/>
<circle cx="172.4" cy="361.1" r="1.8" fill="#fff" stroke="#b8b8b8" stroke-width="0.6"/>
<circle cx="195.4" cy="361.1" r="1.8" fill="#fff" stroke="#b8b8b8" stroke-width="0.6"/>
<circle cx="172.4" cy="365.0" r="1.8" fill="#fff" stroke="#b8b8b8" stroke-width="0.6"/>
<circle cx="218.4" cy="372.7" r="1.8" fill="#fff" stroke="#b8b8b8" stroke-width="0.6"/>
<circle cx="218.4" cy="376.5" r="1.8" fill="#fff" stroke="#b8b8b8" stroke-width="0.6"/>
<circle cx="195.4" cy="380.3" r="1.8" fill="#fff" stroke="#b8b8b8" stroke-width="0.6"/>
<circle cx="218.4" cy="380.3" r="1.8" fill="#fff" stroke="#b8b8b8" stroke-width="0.6"/>
<circle cx="195.4" cy="391.8" r="1.8" fill="#fff" stroke="#b8b8b8" stroke-width="0.6"/>
<circle cx="195.4" cy="395.7" r="1.8" fill="#fff" stroke="#b8b8b8" stroke-width="0.6"/>
<circle cx="172.4" cy="399.5" r="1.8" fill="#fff" stroke="#b8b8b8" stroke-width="0.6"/>
<circle cx="218.4" cy="399.5" r="1.8" fill="#fff" stroke="#b8b8b8" stroke-width="0.6"/>
<circle cx="172.4" cy="403.3" r="1.8" fill="#fff" stroke="#b8b8b8" stroke-width="0.6"/>
<circle cx="195.4" cy="403.3" r="1.8" fill="#fff" stroke="#b8b8b8" stroke-width="0.6"/>
<circle cx="172.4" cy="411.0" r="1.8" fill="#fff" stroke="#b8b8b8" stroke-width="0.6"/>
<circle cx="218.4" cy="414.9" r="1.8" fill="#fff" stroke="#b8b8b8" stroke-width="0.6"/>
<circle cx="172.4" cy="418.7" r="1.8" fill="#fff" stroke="#b8b8b8" stroke-width="0.6"/>
<circle cx="195.4" cy="422.5" r="1.8" fill="#fff" stroke="#b8b8b8" stroke-width="0.6"/>
<circle cx="218.4" cy="422.5" r="1.8" fill="#fff" stroke="#b8b8b8" stroke-width="0.6"/>
<circle cx="160.9" cy="426.4" r="1.8" fill="#fff" stroke="#b8b8b8" stroke-width="0.6"/>
<circle cx="160.9" cy="426.4" r="0.8" fill="#111"/>
<circle cx="195.4" cy="430.2" r="1.8" fill="#fff" stroke="#b8b8b8" stroke-width="0.6"/>
<circle cx="218.4" cy="430.2" r="1.8" fill="#fff" stroke="#b8b8b8" stroke-width="0.6"/>
<circle cx="183.9" cy="434.0" r="1.8" fill="#fff" stroke="#b8b8b8" stroke-width="0.6"/>
<circle cx="183.9" cy="434.0" r="0.8" fill="#111"/>
<circle cx="172.4" cy="437.9" r="1.8" fill="#fff" stroke="#b8b8b8" stroke-width="0.6"/>
<circle cx="172.4" cy="441.7" r="1.8" fill="#fff" stroke="#b8b8b8" stroke-width="0.6"/>
<circle cx="195.4" cy="441.7" r="1.8" fill="#fff" stroke="#b8b8b8" stroke-width="0.6"/>
<circle cx="172.4" cy="449.4" r="1.8" fill="#fff" stroke="#b8b8b8" stroke-width="0.6"/>
<circle cx="195.4" cy="453.2" r="1.8" fill="#fff" stroke="#b8b8b8" stroke-width="0.6"/>
<circle cx="195.4" cy="453.2" r="0.8" fill="#111"/>
<circle cx="218.4" cy="457.0" r="1.8" fill="#fff" stroke="#b8b8b8" stroke-width="0.6"/>
<circle cx="149.4" cy="272.9" r="1.4" fill="#fff" stroke="#555" stroke-width="0.6"/>
<circle cx="149.4" cy="272.9" r="0.6" fill="#111"/>
<circle cx="149.4" cy="276.8" r="1.4" fill="#fff" stroke="#555" stroke-width="0.6"/>
<circle cx="149.4" cy="276.8" r="0.6" fill="#111"/>
<circle cx="149.4" cy="280.6" r="1.4" fill="#fff" stroke="#555" stroke-width="0.6"/>
<circle cx="149.4" cy="280.6" r="0.6" fill="#111"/>
<circle cx="149.4" cy="284.4" r="1.4" fill="#fff" stroke="#555" stroke-width="0.6"/>
<circle cx="149.4" cy="284.4" r="0.6" fill="#111"/>
<circle cx="149.4" cy="288.3" r="1.4" fill="#fff" stroke="#555" stroke-width="0.6"/>
<circle cx="149.4" cy="288.3" r="0.6" fill="#111"/>
<circle cx="149.4" cy="292.1" r="1.4" fill="#fff" stroke="#555" stroke-width="0.6"/>
<circle cx="149.4" cy="292.1" r="0.6" fill="#111"/>
<circle cx="149.4" cy="295.9" r="1.4" fill="#fff" stroke="#555" stroke-width="0.6"/>
<circle cx="149.4" cy="295.9" r="0.6" fill="#111"/>
<circle cx="149.4" cy="299.8" r="1.4" fill="#fff" stroke="#555" stroke-width="0.6"/>
<circle cx="149.4" cy="299.8" r="0.6" fill="#111"/>
<circle cx="149.4" cy="303.6" r="1.4" fill="#fff" stroke="#555" stroke-width="0.6"/>
<circle cx="149.4" cy="303.6" r="0.6" fill="#111"/>
<circle cx="149.4" cy="307.4" r="1.4" fill="#fff" stroke="#555" stroke-width="0.6"/>
<circle cx="149.4" cy="307.4" r="0.6" fill="#111"/>
<circle cx="149.4" cy="311.3" r="1.4" fill="#fff" stroke="#555" stroke-width="0.6"/>
<circle cx="149.4" cy="311.3" r="0.6" fill="#111"/>
<circle cx="149.4" cy="315.1" r="1.4" fill="#fff" stroke="#555" stroke-width="0.6"/>
<circle cx="149.4" cy="315.1" r="0.6" fill="#111"/>
<circle cx="149.4" cy="319.0" r="1.4" fill="#fff" stroke="#555" stroke-width="0.6"/>
<circle cx="149.4" cy="319.0" r="0.6" fill="#111"/>
<circle cx="149.4" cy="322.8" r="1.4" fill="#fff" stroke="#555" stroke-width="0.6"/>
<circle cx="149.4" cy="322.8" r="0.6" fill="#111"/>
<circle cx="149.4" cy="326.6" r="1.4" fill="#fff" stroke="#555" stroke-width="0.6"/>
<circle cx="149.4" cy="326.6" r="0.6" fill="#111"/>
<circle cx="149.4" cy="330.5" r="1.4" fill="#fff" stroke="#555" stroke-width="0.6"/>
<circle cx="149.4" cy="330.5" r="0.6" fill="#111"/>
<circle cx="149.4" cy="334.3" r="1.4" fill="#fff" stroke="#555" stroke-width="0.6"/>
<circle cx="149.4" cy="334.3" r="0.6" fill="#111"/>
<circle cx="149.4" cy="338.1" r="1.4" fill="#fff" stroke="#555" stroke-width="0.6"/>
<circle cx="149.4" cy="338.1" r="0.6" fill="#111"/>
<circle cx="149.4" cy="342.0" r="1.4" fill="#fff" stroke="#555" stroke-width="0.6"/>
<circle cx="149.4" cy="342.0" r="0.6" fill="#111"/>
<circle cx="149.4" cy="345.8" r="1.4" fill="#fff" stroke="#555" stroke-width="0.6"/>
<circle cx="149.4" cy="345.8" r="0.6" fill="#111"/>
<circle cx="149.4" cy="349.6" r="1.4" fill="#fff" stroke="#555" stroke-width="0.6"/>
<circle cx="149.4" cy="349.6" r="0.6" fill="#111"/>
<circle cx="149.4" cy="353.5" r="1.4" fill="#fff" stroke="#555" stroke-width="0.6"/>
<circle cx="149.4" cy="353.5" r="0.6" fill="#111"/>
<circle cx="149.4" cy="357.3" r="1.4" fill="#fff" stroke="#555" stroke-width="0.6"/>
<circle cx="149.4" cy="357.3" r="0.6" fill="#111"/>
<circle cx="149.4" cy="361.1" r="1.4" fill="#fff" stroke="#555" stroke-width="0.6"/>
<circle cx="149.4" cy="361.1" r="0.6" fill="#111"/>
<circle cx="149.4" cy="365.0" r="1.4" fill="#fff" stroke="#555" stroke-width="0.6"/>
<circle cx="149.4" cy="365.0" r="0.6" fill="#111"/>
<circle cx="149.4" cy="368.8" r="1.4" fill="#fff" stroke="#555" stroke-width="0.6"/>
<circle cx="149.4" cy="368.8" r="0.6" fill="#111"/>
<circle cx="149.4" cy="372.7" r="1.4" fill="#fff" stroke="#555" stroke-width="0.6"/>
<circle cx="149.4" cy="372.7" r="0.6" fill="#111"/>
<circle cx="149.4" cy="376.5" r="1.4" fill="#fff" stroke="#555" stroke-width="0.6"/>
<circle cx="149.4" cy="376.5" r="0.6" fill="#111"/>
<circle cx="149.4" cy="380.3" r="1.4" fill="#fff" stroke="#555" stroke-width="0.6"/>
<circle cx="149.4" cy="380.3" r="0.6" fill="#111"/>
<circle cx="149.4" cy="384.2" r="1.4" fill="#fff" stroke="#555" stroke-width="0.6"/>
<circle cx="149.4" cy="384.2" r="0.6" fill="#111"/>
<circle cx="149.4" cy="388.0" r="1.4" fill="#fff" stroke="#555" stroke-width="0.6"/>
<circle cx="149.4" cy="388.0" r="0.6" fill="#111"/>
<circle cx="149.4" cy="391.8" r="1.4" fill="#fff" stroke="#555" stroke-width="0.6"/>
<circle cx="149.4" cy="391.8" r="0.6" fill="#111"/>
<circle cx="149.4" cy="395.7" r="1.4" fill="#fff" stroke="#555" stroke-width="0.6"/>
<circle cx="149.4" cy="395.7" r="0.6" fill="#111"/>
<circle cx="149.4" cy="399.5" r="1.4" fill="#fff" stroke="#555" stroke-width="0.6"/>
<circle cx="149.4" cy="399.5" r="0.6" fill="#111"/>
<circle cx="149.4" cy="403.3" r="1.4" fill="#fff" stroke="#555" stroke-width="0.6"/>
<circle cx="149.4" cy="403.3" r="0.6" fill="#111"/>
<circle cx="149.4" cy="407.2" r="1.4" fill="#fff" stroke="#555" stroke-width="0.6"/>
<circle cx="149.4" cy="407.2" r="0.6" fill="#111"/>
<circle cx="149.4" cy="411.0" r="1.4" fill="#fff" stroke="#555" stroke-width="0.6"/>
<circle cx="149.4" cy="411.0" r="0.6" fill="#111"/>
<circle cx="149.4" cy="414.9" r="1.4" fill="#fff" stroke="#555" stroke-width="0.6"/>
<circle cx="149.4" cy="414.9" r="0.6" fill="#111"/>
<circle cx="149.4" cy="418.7" r="1.4" fill="#fff" stroke="#555" stroke-width="0.6"/>
<circle cx="149.4" cy="418.7" r="0.6" fill="#111"/>
<circle cx="149.4" cy="422.5" r="1.4" fill="#fff" stroke="#555" stroke-width="0.6"/>
<circle cx="149.4" cy="422.5" r="0.6" fill="#111"/>
<circle cx="149.4" cy="426.4" r="1.4" fill="#fff" stroke="#555" stroke-width="0.6"/>
<circle cx="149.4" cy="426.4" r="0.6" fill="#111"/>
<circle cx="149.4" cy="430.2" r="1.4" fill="#fff" stroke="#555" stroke-width="0.6"/>
<circle cx="149.4" cy="430.2" r="0.6" fill="#111"/>
<circle cx="149.4" cy="434.0" r="1.4" fill="#fff" stroke="#555" stroke-width="0.6"/>
<circle cx="149.4" cy="434.0" r="0.6" fill="#111"/>
<circle cx="149.4" cy="437.9" r="1.4" fill="#fff" stroke="#555" stroke-width="0.6"/>
<circle cx="149.4" cy="437.9" r="0.6" fill="#111"/>
<circle cx="149.4" cy="441.7" r="1.4" fill="#fff" stroke="#555" stroke-width="0.6"/>
<circle cx="149.4" cy="441.7" r="0.6" fill="#111"/>
<circle cx="149.4" cy="445.5" r="1.4" fill="#fff" stroke="#555" stroke-width="0.6"/>
<circle cx="149.4" cy="445.5" r="0.6" fill="#111"/>
<circle cx="149.4" cy="449.4" r="1.4" fill="#fff" stroke="#555" stroke-width="0.6"/>
<circle cx="149.4" cy="449.4" r="0.6" fill="#111"/>
<circle cx="149.4" cy="453.2" r="1.4" fill="#fff" stroke="#555" stroke-width="0.6"/>
<circle cx="149.4" cy="453.2" r="0.6" fill="#111"/>
<circle cx="149.4" cy="457.0" r="1.4" fill="#fff" stroke="#555" stroke-width="0.6"/>
<circle cx="149.4" cy="457.0" r="0.6" fill="#111"/>
<circle cx="149.4" cy="460.9" r="1.4" fill="#fff" stroke="#555" stroke-width="0.6"/>
<circle cx="149.4" cy="460.9" r="0.6" fill="#111"/>
<line x1="275.70" y1="23.00" x2="275.70" y2="210.20" stroke="#111" stroke-width="1.8"/>
<line x1="274.80" y1="209.30" x2="443.70" y2="209.30" stroke="#111" stroke-width="1.8"/>
<line x1="275.70" y1="188.81" x2="278.20" y2="188.81" stroke="#111" stroke-width="1.2"/>
<text x="271.2" y="192.4" font-size="10" text-anchor="end" fill="#222" font-weight="normal">-30</text>
<line x1="275.70" y1="166.24" x2="278.20" y2="166.24" stroke="#111" stroke-width="1.2"/>
<text x="271.2" y="169.8" font-size="10" text-anchor="end" fill="#222" font-weight="normal">-20</text>
<line x1="275.70" y1="143.67" x2="278.20" y2="143.67" stroke="#111" stroke-width="1.2"/>
<text x="271.2" y="147.3" font-size="10" text-anchor="end" fill="#222" font-weight="normal">-10</text>
<line x1="275.70" y1="121.10" x2="278.20" y2="121.10" stroke="#111" stroke-width="1.2"/>
<text x="271.2" y="124.7" font-size="10" text-anchor="end" fill="#222" font-weight="normal">0</text>
<line x1="275.70" y1="98.53" x2="278.20" y2="98.53" stroke="#111" stroke-width="1.2"/>
<text x="271.2" y="102.1" font-size="10" text-anchor="end" fill="#222" font-weight="normal">10</text>
<line x1="275.70" y1="75.96" x2="278.20" y2="75.96" stroke="#111" stroke-width="1.2"/>
<text x="271.2" y="79.6" font-size="10" text-anchor="end" fill="#222" font-weight="normal">20</text>
<line x1="275.70" y1="53.39" x2="278.20" y2="53.39" stroke="#111" stroke-width="1.2"/>
<text x="271.2" y="57.0" font-size="10" text-anchor="end" fill="#222" font-weight="normal">30</text>
<line x1="275.70" y1="30.82" x2="278.20" y2="30.82" stroke="#111" stroke-width="1.2"/>
<text x="271.2" y="34.4" font-size="10" text-anchor="end" fill="#222" font-weight="normal">40</text>
<line x1="295.85" y1="209.30" x2="295.85" y2="206.80" stroke="#111" stroke-width="1.2"/>
<text x="289.4" y="221.3" font-size="10" text-anchor="middle" fill="#222" font-weight="normal">-30</text>
<line x1="318.00" y1="209.30" x2="318.00" y2="206.80" stroke="#111" stroke-width="1.2"/>
<text x="318.0" y="221.3" font-size="10" text-anchor="middle" fill="#222" font-weight="normal">-20</text>
<line x1="340.15" y1="209.30" x2="340.15" y2="206.80" stroke="#111" stroke-width="1.2"/>
<text x="340.2" y="221.3" font-size="10" text-anchor="middle" fill="#222" font-weight="normal">-10</text>
<line x1="362.30" y1="209.30" x2="362.30" y2="206.80" stroke="#111" stroke-width="1.2"/>
<text x="362.3" y="221.3" font-size="10" text-anchor="middle" fill="#222" font-weight="normal">0</text>
<line x1="384.45" y1="209.30" x2="384.45" y2="206.80" stroke="#111" stroke-width="1.2"/>
<text x="384.4" y="221.3" font-size="10" text-anchor="middle" fill="#222" font-weight="normal">10</text>
<line x1="406.60" y1="209.30" x2="406.60" y2="206.80" stroke="#111" stroke-width="1.2"/>
<text x="406.6" y="221.3" font-size="10" text-anchor="middle" fill="#222" font-weight="normal">20</text>
<line x1="428.75" y1="209.30" x2="428.75" y2="206.80" stroke="#111" stroke-width="1.2"/>
<text x="428.8" y="221.3" font-size="10" text-anchor="middle" fill="#222" font-weight="normal">30</text>
<text x="362.0" y="234.8" font-size="10" text-anchor="middle" fill="#222" font-weight="normal">Feature Dimension 1</text>
<text x="253.0" y="116.0" font-size="10" text-anchor="middle" fill="#222" font-weight="normal" transform="rotate(-90 253 116)">Feature Dimension 2</text>
<line x1="275.70" y1="279.50" x2="275.70" y2="463.80" stroke="#111" stroke-width="1.8"/>
<line x1="274.80" y1="462.90" x2="441.30" y2="462.90" stroke="#111" stroke-width="1.8"/>
<line x1="275.70" y1="442.90" x2="278.20" y2="442.90" stroke="#111" stroke-width="1.2"/>
<text x="271.2" y="446.5" font-size="10" text-anchor="end" fill="#222" font-weight="normal">-30</text>
<line x1="275.70" y1="420.60" x2="278.20" y2="420.60" stroke="#111" stroke-width="1.2"/>
<text x="271.2" y="424.2" font-size="10" text-anchor="end" fill="#222" font-weight="normal">-20</text>
<line x1="275.70" y1="398.30" x2="278.20" y2="398.30" stroke="#111" stroke-width="1.2"/>
<text x="271.2" y="401.9" font-size="10" text-anchor="end" fill="#222" font-weight="normal">-10</text>
<line x1="275.70" y1="376.00" x2="278.20" y2="376.00" stroke="#111" stroke-width="1.2"/>
<text x="271.2" y="379.6" font-size="10" text-anchor="end" fill="#222" font-weight="normal">0</text>
<line x1="275.70" y1="353.70" x2="278.20" y2="353.70" stroke="#111" stroke-width="1.2"/>
<text x="271.2" y="357.3" font-size="10" text-anchor="end" fill="#222" font-weight="normal">10</text>
<line x1="275.70" y1="331.40" x2="278.20" y2="331.40" stroke="#111" stroke-width="1.2"/>
<text x="271.2" y="335.0" font-size="10" text-anchor="end" fill="#222" font-weight="normal">20</text>
<line x1="275.70" y1="309.10" x2="278.20" y2="309.10" stroke="#111" stroke-width="1.2"/>
<text x="271.2" y="312.7" font-size="10" text-anchor="end" fill="#222" font-weight="normal">30</text>
<line x1="275.70" y1="286.80" x2="278.20" y2="286.80" stroke="#111" stroke-width="1.2"/>
<text x="271.2" y="290.4" font-size="10" text-anchor="end" fill="#222" font-weight="normal">40</text>
<line x1="293.20" y1="462.90" x2="293.20" y2="460.40" stroke="#111" stroke-width="1.2"/>
<text x="288.7" y="474.9" font-size="10" text-anchor="middle" fill="#222" font-weight="normal">-30</text>
<line x1="314.20" y1="462.90" x2="314.20" y2="460.40" stroke="#111" stroke-width="1.2"/>
<text x="314.2" y="474.9" font-size="10" text-anchor="middle" fill="#222" font-weight="normal">-20</text>
<line x1="335.20" y1="462.90" x2="335.20" y2="460.40" stroke="#111" stroke-width="1.2"/>
<text x="335.2" y="474.9" font-size="10" text-anchor="middle" fill="#222" font-weight="normal">-10</text>
<line x1="356.20" y1="462.90" x2="356.20" y2="460.40" stroke="#111" stroke-width="1.2"/>
<text x="356.2" y="474.9" font-size="10" text-anchor="middle" fill="#222" font-weight="normal">0</text>
<line x1="377.20" y1="462.90" x2="377.20" y2="460.40" stroke="#111" stroke-width="1.2"/>
<text x="377.2" y="474.9" font-size="10" text-anchor="middle" fill="#222" font-weight="normal">10</text>
<line x1="398.20" y1="462.90" x2="398.20" y2="460.40" stroke="#111" stroke-width="1.2"/>
<text x="398.2" y="474.9" font-size="10" text-anchor="middle" fill="#222" font-weight="normal">20</text>
<line x1="419.20" y1="462.90" x2="419.20" y2="460.40" stroke="#111" stroke-width="1.2"/>
<text x="419.2" y="474.9" font-size="10" text-anchor="middle" fill="#222" font-weight="normal">30</text>
<text x="362.0" y="488.4" font-size="10" text-anchor="middle" fill="#222" font-weight="normal">Feature Dimension 1</text>
<text x="253.0" y="371.0" font-size="10" text-anchor="middle" fill="#222" font-weight="normal" transform="rotate(-90 253 371)">Feature Dimension 2</text>
<rect x="278.70" y="7.50" width="73.10" height="18.70" fill="#fff" stroke="#111" stroke-width="1.1"/>
<text x="283.2" y="20.5" font-size="10" text-anchor="start" fill="#222" font-weight="normal">0</text>
<path d="M293.2,16.9 L316.7,10.3 L316.7,23.5 Z" fill="#fff" stroke="#111" stroke-width="0.9"/>
<circle cx="316.70" cy="16.85" r="6.60" fill="#000"/>
<text x="325.2" y="20.5" font-size="10" text-anchor="start" fill="#222" font-weight="normal">16Hz</text>
<rect x="278.30" y="263.50" width="69.60" height="19.60" fill="#fff" stroke="#111" stroke-width="1.1"/>
<text x="282.8" y="276.9" font-size="10" text-anchor="start" fill="#222" font-weight="normal">0</text>
<path d="M292.8,273.3 L316.3,266.7 L316.3,279.9 Z" fill="#fff" stroke="#111" stroke-width="0.9"/>
<circle cx="316.30" cy="273.30" r="6.60" fill="#000"/>
<text x="324.8" y="276.9" font-size="10" text-anchor="start" fill="#222" font-weight="normal">5Hz</text>
<circle cx="315.3" cy="38.6" r="1.25" fill="#2b2c6c"/>
<circle cx="318.5" cy="39.0" r="1.25" fill="#2b2c6c"/>
<circle cx="319.0" cy="40.9" r="1.25" fill="#2b2c6c"/>
<circle cx="321.3" cy="40.4" r="1.25" fill="#2b2c6c"/>
<circle cx="323.2" cy="39.0" r="1.25" fill="#2b2c6c"/>
<circle cx="324.6" cy="39.0" r="1.25" fill="#2b2c6c"/>
<circle cx="323.7" cy="35.7" r="1.25" fill="#2b2c6c"/>
<circle cx="326.5" cy="36.7" r="1.25" fill="#2b2c6c"/>
<circle cx="316.2" cy="44.6" r="1.25" fill="#2b2c6c"/>
<circle cx="321.8" cy="44.8" r="1.25" fill="#2b2c6c"/>
<circle cx="320.0" cy="37.5" r="1.25" fill="#2b2c6c"/>
<circle cx="322.5" cy="38.0" r="1.25" fill="#2b2c6c"/>
<circle cx="332.1" cy="32.5" r="1.25" fill="#3242a2"/>
<circle cx="333.0" cy="35.3" r="1.25" fill="#3242a2"/>
<circle cx="334.4" cy="35.5" r="1.25" fill="#3242a2"/>
<circle cx="336.9" cy="35.5" r="1.25" fill="#3242a2"/>
<circle cx="312.0" cy="73.4" r="1.25" fill="#5f5f5f"/>
<circle cx="315.7" cy="73.4" r="1.25" fill="#5f5f5f"/>
<circle cx="323.9" cy="73.6" r="1.25" fill="#5f5f5f"/>
<circle cx="331.1" cy="73.1" r="1.25" fill="#5f5f5f"/>
<circle cx="311.3" cy="76.9" r="1.25" fill="#5f5f5f"/>
<circle cx="311.3" cy="78.3" r="1.25" fill="#5f5f5f"/>
<circle cx="318.1" cy="78.1" r="1.25" fill="#5f5f5f"/>
<circle cx="318.8" cy="80.1" r="1.25" fill="#5f5f5f"/>
<circle cx="328.3" cy="69.7" r="1.25" fill="#3252b2"/>
<circle cx="328.8" cy="71.3" r="1.25" fill="#e6e034"/>
<circle cx="333.0" cy="83.9" r="1.25" fill="#e6e034"/>
<circle cx="339.8" cy="35.5" r="1.25" fill="#e6e034"/>
<circle cx="352.9" cy="32.2" r="1.25" fill="#e6e034"/>
<circle cx="351.8" cy="39.1" r="1.25" fill="#e6e034"/>
<circle cx="355.1" cy="64.2" r="1.25" fill="#e6e034"/>
<circle cx="332.1" cy="82.2" r="1.25" fill="#6f7a33"/>
<circle cx="331.9" cy="82.2" r="1.25" fill="#6f7a33"/>
<circle cx="319.6" cy="90.4" r="1.25" fill="#6f7a33"/>
<circle cx="321.0" cy="91.5" r="1.25" fill="#6f7a33"/>
<circle cx="323.0" cy="90.8" r="1.25" fill="#6f7a33"/>
<circle cx="324.5" cy="92.0" r="1.25" fill="#6f7a33"/>
<circle cx="317.2" cy="96.1" r="1.25" fill="#6f7a33"/>
<circle cx="308.2" cy="98.5" r="1.25" fill="#6f7a33"/>
<circle cx="309.8" cy="107.8" r="1.25" fill="#6f7a33"/>
<circle cx="318.5" cy="121.4" r="1.25" fill="#6f7a33"/>
<circle cx="298.7" cy="129.1" r="1.25" fill="#6f7a33"/>
<circle cx="297.8" cy="84.9" r="1.25" fill="#3242a2"/>
<circle cx="299.0" cy="86.0" r="1.25" fill="#3242a2"/>
<circle cx="300.5" cy="87.0" r="1.25" fill="#3242a2"/>
<circle cx="301.5" cy="88.2" r="1.25" fill="#3242a2"/>
<circle cx="302.2" cy="88.7" r="1.25" fill="#3242a2"/>
<circle cx="304.9" cy="87.1" r="1.25" fill="#3242a2"/>
<circle cx="308.2" cy="86.6" r="1.25" fill="#43b052"/>
<circle cx="309.5" cy="86.0" r="1.25" fill="#43b052"/>
<circle cx="310.8" cy="86.5" r="1.25" fill="#43b052"/>
<circle cx="312.0" cy="87.0" r="1.25" fill="#43b052"/>
<circle cx="312.5" cy="86.2" r="1.25" fill="#43b052"/>
<circle cx="309.0" cy="87.6" r="1.25" fill="#43b052"/>
<circle cx="333.2" cy="84.9" r="1.25" fill="#e6e034"/>
<circle cx="330.0" cy="90.9" r="1.25" fill="#e6e034"/>
<circle cx="335.8" cy="90.5" r="1.25" fill="#e6e034"/>
<circle cx="335.8" cy="92.0" r="1.25" fill="#e6e034"/>
<circle cx="321.3" cy="104.2" r="1.25" fill="#e6e034"/>
<circle cx="306.0" cy="120.1" r="1.25" fill="#e6e034"/>
<circle cx="341.2" cy="121.4" r="1.25" fill="#e6e034"/>
<circle cx="289.0" cy="111.6" r="1.25" fill="#e6e38a"/>
<circle cx="289.6" cy="113.5" r="1.25" fill="#e6e38a"/>
<circle cx="290.2" cy="115.5" r="1.25" fill="#e6e38a"/>
<circle cx="291.0" cy="117.2" r="1.25" fill="#e6e38a"/>
<circle cx="292.5" cy="117.4" r="1.25" fill="#e6e38a"/>
<circle cx="294.0" cy="117.6" r="1.25" fill="#e6e38a"/>
<circle cx="296.0" cy="119.8" r="1.25" fill="#e82c3c"/>
<circle cx="300.0" cy="143.2" r="1.25" fill="#e82c3c"/>
<circle cx="301.6" cy="143.0" r="1.25" fill="#e82c3c"/>
<circle cx="303.3" cy="143.4" r="1.25" fill="#e82c3c"/>
<circle cx="335.4" cy="97.4" r="1.25" fill="#5f5f5f"/>
<circle cx="340.3" cy="96.4" r="1.25" fill="#5f5f5f"/>
<circle cx="326.2" cy="105.6" r="1.25" fill="#5f5f5f"/>
<circle cx="328.9" cy="105.3" r="1.25" fill="#5f5f5f"/>
<circle cx="306.9" cy="111.6" r="1.25" fill="#5f5f5f"/>
<circle cx="334.9" cy="110.5" r="1.25" fill="#5f5f5f"/>
<circle cx="330.5" cy="114.3" r="1.25" fill="#5f5f5f"/>
<circle cx="328.9" cy="119.8" r="1.25" fill="#5f5f5f"/>
<circle cx="332.2" cy="128.5" r="1.25" fill="#5f5f5f"/>
<circle cx="335.4" cy="133.4" r="1.25" fill="#5f5f5f"/>
<circle cx="338.2" cy="131.2" r="1.25" fill="#5f5f5f"/>
<circle cx="313.6" cy="138.9" r="1.25" fill="#5f5f5f"/>
<circle cx="340.4" cy="96.3" r="1.25" fill="#5f5f5f"/>
<circle cx="338.2" cy="131.0" r="1.25" fill="#5f5f5f"/>
<circle cx="332.5" cy="99.4" r="1.25" fill="#bababa"/>
<circle cx="311.1" cy="109.7" r="1.25" fill="#bababa"/>
<circle cx="315.3" cy="114.7" r="1.25" fill="#bababa"/>
<circle cx="319.6" cy="119.8" r="1.25" fill="#bababa"/>
<circle cx="327.2" cy="136.7" r="1.25" fill="#bababa"/>
<circle cx="327.2" cy="140.0" r="1.25" fill="#bababa"/>
<circle cx="332.7" cy="140.2" r="1.25" fill="#bababa"/>
<circle cx="316.1" cy="141.6" r="1.25" fill="#bababa"/>
<circle cx="327.8" cy="142.2" r="1.25" fill="#bababa"/>
<circle cx="355.1" cy="93.1" r="1.25" fill="#bababa"/>
<circle cx="363.2" cy="98.5" r="1.25" fill="#bababa"/>
<circle cx="363.8" cy="123.0" r="1.25" fill="#bababa"/>
<circle cx="368.1" cy="127.1" r="1.25" fill="#bababa"/>
<circle cx="374.7" cy="127.9" r="1.25" fill="#bababa"/>
<circle cx="377.9" cy="123.6" r="1.25" fill="#bababa"/>
<circle cx="392.4" cy="95.3" r="1.25" fill="#bababa"/>
<circle cx="393.4" cy="100.7" r="1.25" fill="#bababa"/>
<circle cx="400.9" cy="104.0" r="1.25" fill="#bababa"/>
<circle cx="377.6" cy="123.6" r="1.25" fill="#bababa"/>
<circle cx="435.4" cy="110.5" r="1.25" fill="#bababa"/>
<circle cx="385.3" cy="153.1" r="1.25" fill="#bababa"/>
<circle cx="310.9" cy="100.7" r="1.25" fill="#86cce0"/>
<circle cx="310.3" cy="103.8" r="1.25" fill="#86cce0"/>
<circle cx="312.0" cy="103.8" r="1.25" fill="#86cce0"/>
<circle cx="315.8" cy="102.4" r="1.25" fill="#86cce0"/>
<circle cx="318.5" cy="102.4" r="1.25" fill="#86cce0"/>
<circle cx="316.1" cy="106.2" r="1.25" fill="#86cce0"/>
<circle cx="320.7" cy="108.9" r="1.25" fill="#86cce0"/>
<circle cx="324.8" cy="109.7" r="1.25" fill="#86cce0"/>
<circle cx="318.5" cy="112.9" r="1.25" fill="#86cce0"/>
<circle cx="328.9" cy="122.7" r="1.25" fill="#86cce0"/>
<circle cx="320.7" cy="98.5" r="1.25" fill="#7281c2"/>
<circle cx="321.8" cy="100.0" r="1.25" fill="#7281c2"/>
<circle cx="318.5" cy="109.2" r="1.25" fill="#7281c2"/>
<circle cx="338.2" cy="106.7" r="1.25" fill="#7281c2"/>
<circle cx="315.8" cy="123.6" r="1.25" fill="#7281c2"/>
<circle cx="335.4" cy="137.2" r="1.25" fill="#7281c2"/>
<circle cx="322.3" cy="145.4" r="1.25" fill="#7281c2"/>
<circle cx="317.4" cy="148.7" r="1.25" fill="#7281c2"/>
<circle cx="338.0" cy="106.7" r="1.25" fill="#7281c2"/>
<circle cx="317.3" cy="149.4" r="1.25" fill="#7281c2"/>
<circle cx="322.2" cy="145.9" r="1.25" fill="#7281c2"/>
<circle cx="327.2" cy="111.1" r="1.25" fill="#5b52a2"/>
<circle cx="353.4" cy="118.1" r="1.25" fill="#5b52a2"/>
<circle cx="360.8" cy="121.9" r="1.25" fill="#5b52a2"/>
<circle cx="362.7" cy="127.1" r="1.25" fill="#5b52a2"/>
<circle cx="372.0" cy="125.5" r="1.25" fill="#5b52a2"/>
<circle cx="354.5" cy="129.0" r="1.25" fill="#5b52a2"/>
<circle cx="366.0" cy="132.8" r="1.25" fill="#5b52a2"/>
<circle cx="368.5" cy="131.7" r="1.25" fill="#5b52a2"/>
<circle cx="324.0" cy="113.3" r="1.25" fill="#a553a8"/>
<circle cx="313.3" cy="116.5" r="1.25" fill="#a553a8"/>
<circle cx="312.0" cy="124.7" r="1.25" fill="#a553a8"/>
<circle cx="307.6" cy="128.8" r="1.25" fill="#a553a8"/>
<circle cx="311.4" cy="128.5" r="1.25" fill="#a553a8"/>
<circle cx="314.2" cy="130.7" r="1.25" fill="#a553a8"/>
<circle cx="310.7" cy="130.7" r="1.25" fill="#a553a8"/>
<circle cx="310.0" cy="133.2" r="1.25" fill="#a553a8"/>
<circle cx="332.7" cy="132.3" r="1.25" fill="#a553a8"/>
<circle cx="343.6" cy="136.2" r="1.25" fill="#a553a8"/>
<circle cx="343.8" cy="136.1" r="1.25" fill="#a553a8"/>
<circle cx="333.3" cy="150.8" r="1.25" fill="#a553a8"/>
<circle cx="351.4" cy="165.4" r="1.25" fill="#a553a8"/>
<circle cx="338.2" cy="109.2" r="1.25" fill="#0b7a3c"/>
<circle cx="340.9" cy="109.2" r="1.25" fill="#0b7a3c"/>
<circle cx="343.6" cy="109.2" r="1.25" fill="#0b7a3c"/>
<circle cx="337.6" cy="115.4" r="1.25" fill="#0b7a3c"/>
<circle cx="339.0" cy="123.1" r="1.25" fill="#0b7a3c"/>
<circle cx="344.7" cy="124.2" r="1.25" fill="#0b7a3c"/>
<circle cx="324.5" cy="129.6" r="1.25" fill="#0b7a3c"/>
<circle cx="326.7" cy="128.0" r="1.25" fill="#0b7a3c"/>
<circle cx="319.6" cy="134.0" r="1.25" fill="#0b7a3c"/>
<circle cx="335.4" cy="148.7" r="1.25" fill="#0b7a3c"/>
<circle cx="358.7" cy="26.0" r="1.25" fill="#43b7da"/>
<circle cx="358.7" cy="28.2" r="1.25" fill="#43b7da"/>
<circle cx="358.4" cy="30.9" r="1.25" fill="#43b7da"/>
<circle cx="356.7" cy="33.1" r="1.25" fill="#43b7da"/>
<circle cx="370.0" cy="32.9" r="1.25" fill="#43b7da"/>
<circle cx="365.2" cy="36.1" r="1.25" fill="#43b7da"/>
<circle cx="363.3" cy="39.6" r="1.25" fill="#43b7da"/>
<circle cx="364.4" cy="41.3" r="1.25" fill="#43b7da"/>
<circle cx="401.4" cy="62.3" r="1.25" fill="#43b7da"/>
<circle cx="355.8" cy="39.1" r="1.25" fill="#b02a34"/>
<circle cx="358.7" cy="36.9" r="1.25" fill="#b02a34"/>
<circle cx="356.9" cy="42.4" r="1.25" fill="#b02a34"/>
<circle cx="359.8" cy="41.3" r="1.25" fill="#b02a34"/>
<circle cx="367.1" cy="38.3" r="1.25" fill="#b02a34"/>
<circle cx="370.7" cy="39.1" r="1.25" fill="#b02a34"/>
<circle cx="373.1" cy="39.4" r="1.25" fill="#b02a34"/>
<circle cx="368.2" cy="43.4" r="1.25" fill="#b02a34"/>
<circle cx="376.9" cy="48.6" r="1.25" fill="#b02a34"/>
<circle cx="379.4" cy="41.3" r="1.25" fill="#a8a8a8"/>
<circle cx="378.0" cy="44.9" r="1.25" fill="#a8a8a8"/>
<circle cx="381.8" cy="46.2" r="1.25" fill="#a8a8a8"/>
<circle cx="382.3" cy="49.4" r="1.25" fill="#a8a8a8"/>
<circle cx="378.3" cy="51.1" r="1.25" fill="#a8a8a8"/>
<circle cx="375.3" cy="52.7" r="1.25" fill="#a8a8a8"/>
<circle cx="382.3" cy="51.1" r="1.25" fill="#a8a8a8"/>
<circle cx="352.9" cy="47.8" r="1.25" fill="#a8a8a8"/>
<circle cx="362.0" cy="46.2" r="1.25" fill="#d596c4"/>
<circle cx="360.0" cy="49.2" r="1.25" fill="#d596c4"/>
<circle cx="348.2" cy="48.9" r="1.25" fill="#d596c4"/>
<circle cx="350.2" cy="50.7" r="1.25" fill="#d596c4"/>
<circle cx="345.8" cy="54.3" r="1.25" fill="#d596c4"/>
<circle cx="344.7" cy="56.9" r="1.25" fill="#d596c4"/>
<circle cx="350.2" cy="58.2" r="1.25" fill="#d596c4"/>
<circle cx="355.1" cy="58.2" r="1.25" fill="#d596c4"/>
<circle cx="361.1" cy="56.0" r="1.25" fill="#d596c4"/>
<circle cx="344.5" cy="62.3" r="1.25" fill="#d596c4"/>
<circle cx="352.9" cy="50.7" r="1.25" fill="#1b7f80"/>
<circle cx="349.1" cy="55.8" r="1.25" fill="#1b7f80"/>
<circle cx="351.8" cy="55.4" r="1.25" fill="#1b7f80"/>
<circle cx="346.9" cy="57.9" r="1.25" fill="#1b7f80"/>
<circle cx="348.0" cy="60.6" r="1.25" fill="#1b7f80"/>
<circle cx="350.7" cy="60.6" r="1.25" fill="#1b7f80"/>
<circle cx="358.4" cy="55.1" r="1.25" fill="#1b7f80"/>
<circle cx="364.1" cy="56.0" r="1.25" fill="#1b7f80"/>
<circle cx="366.7" cy="55.4" r="1.25" fill="#1b7f80"/>
<circle cx="352.9" cy="64.7" r="1.25" fill="#1b7f80"/>
<circle cx="354.8" cy="60.6" r="1.25" fill="#5aaa6c"/>
<circle cx="349.6" cy="64.5" r="1.25" fill="#5aaa6c"/>
<circle cx="359.1" cy="64.2" r="1.25" fill="#5aaa6c"/>
<circle cx="370.0" cy="64.2" r="1.25" fill="#5aaa6c"/>
<circle cx="361.6" cy="68.5" r="1.25" fill="#5aaa6c"/>
<circle cx="364.4" cy="69.6" r="1.25" fill="#5aaa6c"/>
<circle cx="366.5" cy="66.7" r="1.25" fill="#5aaa6c"/>
<circle cx="368.5" cy="70.4" r="1.25" fill="#5aaa6c"/>
<circle cx="363.8" cy="72.6" r="1.25" fill="#5aaa6c"/>
<circle cx="367.1" cy="68.5" r="1.25" fill="#5aaa6c"/>
<circle cx="379.1" cy="81.3" r="1.25" fill="#7a2a30"/>
<circle cx="384.0" cy="85.4" r="1.25" fill="#7a2a30"/>
<circle cx="384.5" cy="86.5" r="1.25" fill="#7a2a30"/>
<circle cx="399.2" cy="88.7" r="1.25" fill="#7a2a30"/>
<circle cx="384.2" cy="85.5" r="1.25" fill="#7a2a30"/>
<circle cx="399.4" cy="88.2" r="1.25" fill="#7a2a30"/>
<circle cx="403.3" cy="90.4" r="1.25" fill="#7a2a30"/>
<circle cx="403.0" cy="92.0" r="1.25" fill="#7a2a30"/>
<circle cx="410.0" cy="84.6" r="1.25" fill="#7a2a30"/>
<circle cx="405.4" cy="95.0" r="1.25" fill="#7a2a30"/>
<circle cx="403.5" cy="98.0" r="1.25" fill="#7a2a30"/>
<circle cx="390.0" cy="95.0" r="1.25" fill="#7a2a30"/>
<circle cx="378.7" cy="100.5" r="1.25" fill="#7a2a30"/>
<circle cx="385.8" cy="108.1" r="1.25" fill="#7a2a30"/>
<circle cx="386.4" cy="111.6" r="1.25" fill="#7a2a30"/>
<circle cx="388.2" cy="114.3" r="1.25" fill="#7a2a30"/>
<circle cx="397.8" cy="111.1" r="1.25" fill="#7a2a30"/>
<circle cx="411.8" cy="117.1" r="1.25" fill="#7a2a30"/>
<circle cx="392.9" cy="131.2" r="1.25" fill="#7a2a30"/>
<circle cx="403.8" cy="140.0" r="1.25" fill="#7a2a30"/>
<circle cx="412.0" cy="137.2" r="1.25" fill="#7a2a30"/>
<circle cx="437.1" cy="113.6" r="1.25" fill="#7a2a30"/>
<circle cx="417.4" cy="148.1" r="1.25" fill="#7a2a30"/>
<circle cx="376.3" cy="99.6" r="1.25" fill="#7a2a30"/>
<circle cx="379.0" cy="100.2" r="1.25" fill="#7a2a30"/>
<circle cx="380.7" cy="83.2" r="1.25" fill="#3a78c2"/>
<circle cx="380.4" cy="83.3" r="1.25" fill="#3a78c2"/>
<circle cx="414.2" cy="83.3" r="1.25" fill="#3a78c2"/>
<circle cx="417.4" cy="81.6" r="1.25" fill="#3a78c2"/>
<circle cx="418.5" cy="82.7" r="1.25" fill="#3a78c2"/>
<circle cx="412.5" cy="87.1" r="1.25" fill="#3a78c2"/>
<circle cx="414.7" cy="87.6" r="1.25" fill="#3a78c2"/>
<circle cx="414.2" cy="113.3" r="1.25" fill="#3a78c2"/>
<circle cx="394.0" cy="118.2" r="1.25" fill="#3a78c2"/>
<circle cx="398.9" cy="117.1" r="1.25" fill="#3a78c2"/>
<circle cx="386.4" cy="94.2" r="1.25" fill="#3252b2"/>
<circle cx="384.5" cy="99.6" r="1.25" fill="#3252b2"/>
<circle cx="390.2" cy="100.2" r="1.25" fill="#3252b2"/>
<circle cx="390.2" cy="102.4" r="1.25" fill="#3252b2"/>
<circle cx="386.4" cy="104.2" r="1.25" fill="#3252b2"/>
<circle cx="382.3" cy="105.3" r="1.25" fill="#3252b2"/>
<circle cx="389.6" cy="105.1" r="1.25" fill="#3252b2"/>
<circle cx="392.9" cy="108.1" r="1.25" fill="#3252b2"/>
<circle cx="394.0" cy="109.7" r="1.25" fill="#3252b2"/>
<circle cx="377.1" cy="109.4" r="1.25" fill="#3252b2"/>
<circle cx="379.1" cy="112.7" r="1.25" fill="#3252b2"/>
<circle cx="380.9" cy="111.1" r="1.25" fill="#3252b2"/>
<circle cx="381.5" cy="119.3" r="1.25" fill="#3252b2"/>
<circle cx="418.0" cy="112.2" r="1.25" fill="#3252b2"/>
<circle cx="420.7" cy="110.0" r="1.25" fill="#3252b2"/>
<circle cx="432.7" cy="101.3" r="1.25" fill="#3252b2"/>
<circle cx="434.9" cy="98.5" r="1.25" fill="#3252b2"/>
<circle cx="436.5" cy="96.9" r="1.25" fill="#3252b2"/>
<circle cx="437.6" cy="107.3" r="1.25" fill="#3252b2"/>
<circle cx="442.0" cy="106.2" r="1.25" fill="#3252b2"/>
<circle cx="433.2" cy="113.8" r="1.25" fill="#3252b2"/>
<circle cx="360.8" cy="98.5" r="1.25" fill="#3252b2"/>
<circle cx="360.0" cy="101.8" r="1.25" fill="#3252b2"/>
<circle cx="362.7" cy="101.2" r="1.25" fill="#3252b2"/>
<circle cx="363.5" cy="101.8" r="1.25" fill="#3252b2"/>
<circle cx="374.1" cy="110.0" r="1.25" fill="#3252b2"/>
<circle cx="376.3" cy="109.4" r="1.25" fill="#3252b2"/>
<circle cx="375.8" cy="111.6" r="1.25" fill="#3252b2"/>
<circle cx="379.0" cy="112.7" r="1.25" fill="#3252b2"/>
<circle cx="380.7" cy="111.0" r="1.25" fill="#3252b2"/>
<circle cx="377.4" cy="117.6" r="1.25" fill="#3252b2"/>
<circle cx="381.2" cy="119.2" r="1.25" fill="#3252b2"/>
<circle cx="384.5" cy="99.6" r="1.25" fill="#3252b2"/>
<circle cx="382.8" cy="105.1" r="1.25" fill="#3252b2"/>
<circle cx="396.2" cy="90.0" r="1.25" fill="#e82c3c"/>
<circle cx="384.2" cy="117.1" r="1.25" fill="#e82c3c"/>
<circle cx="385.8" cy="119.8" r="1.25" fill="#e82c3c"/>
<circle cx="388.0" cy="121.2" r="1.25" fill="#e82c3c"/>
<circle cx="383.1" cy="123.1" r="1.25" fill="#e82c3c"/>
<circle cx="385.3" cy="123.1" r="1.25" fill="#e82c3c"/>
<circle cx="386.9" cy="124.5" r="1.25" fill="#e82c3c"/>
<circle cx="382.5" cy="126.7" r="1.25" fill="#e82c3c"/>
<circle cx="384.7" cy="125.3" r="1.25" fill="#e82c3c"/>
<circle cx="392.4" cy="123.6" r="1.25" fill="#e82c3c"/>
<circle cx="418.5" cy="122.7" r="1.25" fill="#e82c3c"/>
<circle cx="421.3" cy="122.0" r="1.25" fill="#e82c3c"/>
<circle cx="423.4" cy="121.2" r="1.25" fill="#e82c3c"/>
<circle cx="427.8" cy="118.7" r="1.25" fill="#e82c3c"/>
<circle cx="427.2" cy="124.9" r="1.25" fill="#e82c3c"/>
<circle cx="429.4" cy="127.4" r="1.25" fill="#e82c3c"/>
<circle cx="422.9" cy="129.1" r="1.25" fill="#e82c3c"/>
<circle cx="424.5" cy="130.7" r="1.25" fill="#e82c3c"/>
<circle cx="429.4" cy="129.9" r="1.25" fill="#e82c3c"/>
<circle cx="383.4" cy="117.0" r="1.25" fill="#e82c3c"/>
<circle cx="382.8" cy="126.8" r="1.25" fill="#e82c3c"/>
<circle cx="409.8" cy="106.0" r="1.25" fill="#e0827c"/>
<circle cx="352.9" cy="90.0" r="1.25" fill="#e0827c"/>
<circle cx="354.7" cy="90.3" r="1.25" fill="#e0827c"/>
<circle cx="357.8" cy="92.2" r="1.25" fill="#e0827c"/>
<circle cx="353.2" cy="94.7" r="1.25" fill="#e0827c"/>
<circle cx="354.0" cy="100.2" r="1.25" fill="#e0827c"/>
<circle cx="355.6" cy="99.4" r="1.25" fill="#e0827c"/>
<circle cx="357.8" cy="101.2" r="1.25" fill="#e0827c"/>
<circle cx="353.4" cy="104.5" r="1.25" fill="#e0827c"/>
<circle cx="358.9" cy="106.4" r="1.25" fill="#e0827c"/>
<circle cx="398.4" cy="119.3" r="1.25" fill="#8cc43c"/>
<circle cx="399.4" cy="121.4" r="1.25" fill="#8cc43c"/>
<circle cx="401.6" cy="123.6" r="1.25" fill="#8cc43c"/>
<circle cx="404.1" cy="121.4" r="1.25" fill="#8cc43c"/>
<circle cx="404.6" cy="120.6" r="1.25" fill="#8cc43c"/>
<circle cx="403.0" cy="116.5" r="1.25" fill="#8cc43c"/>
<circle cx="401.1" cy="124.2" r="1.25" fill="#8cc43c"/>
<circle cx="404.1" cy="126.9" r="1.25" fill="#8cc43c"/>
<circle cx="394.5" cy="135.1" r="1.25" fill="#8cc43c"/>
<circle cx="394.8" cy="139.8" r="1.25" fill="#8cc43c"/>
<circle cx="408.5" cy="133.4" r="1.25" fill="#8cc43c"/>
<circle cx="404.3" cy="111.6" r="1.25" fill="#0b7a3c"/>
<circle cx="396.9" cy="124.7" r="1.25" fill="#0b7a3c"/>
<circle cx="401.3" cy="127.8" r="1.25" fill="#0b7a3c"/>
<circle cx="387.8" cy="129.9" r="1.25" fill="#0b7a3c"/>
<circle cx="401.3" cy="135.1" r="1.25" fill="#0b7a3c"/>
<circle cx="405.4" cy="137.8" r="1.25" fill="#0b7a3c"/>
<circle cx="409.8" cy="136.2" r="1.25" fill="#0b7a3c"/>
<circle cx="391.8" cy="140.5" r="1.25" fill="#0b7a3c"/>
<circle cx="380.4" cy="139.4" r="1.25" fill="#0b7a3c"/>
<circle cx="426.7" cy="107.8" r="1.25" fill="#0b7a3c"/>
<circle cx="429.4" cy="111.1" r="1.25" fill="#0b7a3c"/>
<circle cx="429.4" cy="114.0" r="1.25" fill="#0b7a3c"/>
<circle cx="433.2" cy="110.0" r="1.25" fill="#0b7a3c"/>
<circle cx="434.9" cy="119.3" r="1.25" fill="#0b7a3c"/>
<circle cx="435.4" cy="101.8" r="1.25" fill="#0b7a3c"/>
<circle cx="431.1" cy="102.9" r="1.25" fill="#0b7a3c"/>
<circle cx="377.1" cy="144.9" r="1.25" fill="#0b7a3c"/>
<circle cx="392.4" cy="140.5" r="1.25" fill="#0b7a3c"/>
<circle cx="394.5" cy="160.2" r="1.25" fill="#0b7a3c"/>
<circle cx="418.3" cy="150.7" r="1.25" fill="#0b7a3c"/>
<circle cx="420.7" cy="151.8" r="1.25" fill="#0b7a3c"/>
<circle cx="422.9" cy="152.0" r="1.25" fill="#0b7a3c"/>
<circle cx="418.0" cy="157.4" r="1.25" fill="#0b7a3c"/>
<circle cx="414.4" cy="160.2" r="1.25" fill="#0b7a3c"/>
<circle cx="425.6" cy="147.9" r="1.25" fill="#0b7a3c"/>
<circle cx="403.3" cy="171.6" r="1.25" fill="#0b7a3c"/>
<circle cx="404.9" cy="172.7" r="1.25" fill="#0b7a3c"/>
<circle cx="404.6" cy="174.3" r="1.25" fill="#0b7a3c"/>
<circle cx="407.8" cy="168.9" r="1.25" fill="#0b7a3c"/>
<circle cx="400.0" cy="146.0" r="1.25" fill="#a553a8"/>
<circle cx="402.2" cy="146.5" r="1.25" fill="#a553a8"/>
<circle cx="397.3" cy="150.0" r="1.25" fill="#a553a8"/>
<circle cx="400.2" cy="149.8" r="1.25" fill="#a553a8"/>
<circle cx="402.2" cy="152.0" r="1.25" fill="#a553a8"/>
<circle cx="404.1" cy="152.2" r="1.25" fill="#a553a8"/>
<circle cx="402.7" cy="153.6" r="1.25" fill="#a553a8"/>
<circle cx="401.6" cy="153.1" r="1.25" fill="#a553a8"/>
<circle cx="414.2" cy="155.0" r="1.25" fill="#a553a8"/>
<circle cx="417.4" cy="154.2" r="1.25" fill="#a553a8"/>
<circle cx="428.3" cy="144.9" r="1.25" fill="#a553a8"/>
<circle cx="430.0" cy="144.4" r="1.25" fill="#a553a8"/>
<circle cx="417.4" cy="148.2" r="1.25" fill="#b02a34"/>
<circle cx="429.4" cy="159.1" r="1.25" fill="#b02a34"/>
<circle cx="434.9" cy="160.7" r="1.25" fill="#b02a34"/>
<circle cx="437.1" cy="159.6" r="1.25" fill="#b02a34"/>
<circle cx="439.2" cy="158.0" r="1.25" fill="#b02a34"/>
<circle cx="441.4" cy="159.4" r="1.25" fill="#b02a34"/>
<circle cx="438.2" cy="161.8" r="1.25" fill="#b02a34"/>
<circle cx="439.8" cy="163.1" r="1.25" fill="#b02a34"/>
<circle cx="440.9" cy="165.1" r="1.25" fill="#b02a34"/>
<circle cx="438.7" cy="169.4" r="1.25" fill="#b02a34"/>
<circle cx="417.4" cy="161.3" r="1.25" fill="#4a2a2a"/>
<circle cx="420.2" cy="162.9" r="1.25" fill="#4a2a2a"/>
<circle cx="421.8" cy="160.7" r="1.25" fill="#4a2a2a"/>
<circle cx="415.3" cy="164.5" r="1.25" fill="#4a2a2a"/>
<circle cx="417.2" cy="165.6" r="1.25" fill="#4a2a2a"/>
<circle cx="419.4" cy="166.2" r="1.25" fill="#4a2a2a"/>
<circle cx="415.8" cy="166.7" r="1.25" fill="#4a2a2a"/>
<circle cx="418.5" cy="168.9" r="1.25" fill="#4a2a2a"/>
<circle cx="410.0" cy="166.7" r="1.25" fill="#4a2a2a"/>
<circle cx="436.0" cy="173.8" r="1.25" fill="#444444"/>
<circle cx="438.2" cy="173.3" r="1.25" fill="#444444"/>
<circle cx="433.8" cy="178.7" r="1.25" fill="#444444"/>
<circle cx="436.5" cy="180.3" r="1.25" fill="#444444"/>
<circle cx="440.9" cy="179.8" r="1.25" fill="#444444"/>
<circle cx="404.1" cy="180.9" r="1.25" fill="#444444"/>
<circle cx="404.1" cy="182.0" r="1.25" fill="#444444"/>
<circle cx="392.4" cy="197.8" r="1.25" fill="#4262c2"/>
<circle cx="395.1" cy="197.2" r="1.25" fill="#4262c2"/>
<circle cx="391.8" cy="200.5" r="1.25" fill="#4262c2"/>
<circle cx="393.4" cy="200.0" r="1.25" fill="#4262c2"/>
<circle cx="392.9" cy="204.3" r="1.25" fill="#4262c2"/>
<circle cx="396.2" cy="203.0" r="1.25" fill="#4262c2"/>
<circle cx="394.5" cy="205.4" r="1.25" fill="#4262c2"/>
<circle cx="397.3" cy="206.0" r="1.25" fill="#4262c2"/>
<circle cx="394.0" cy="207.6" r="1.25" fill="#4262c2"/>
<circle cx="395.1" cy="209.2" r="1.25" fill="#4262c2"/>
<circle cx="395.8" cy="194.7" r="1.25" fill="#43b052"/>
<circle cx="337.6" cy="109.4" r="1.25" fill="#43b052"/>
<circle cx="340.4" cy="109.4" r="1.25" fill="#43b052"/>
<circle cx="343.1" cy="108.9" r="1.25" fill="#43b052"/>
<circle cx="337.6" cy="115.4" r="1.25" fill="#43b052"/>
<circle cx="339.0" cy="122.7" r="1.25" fill="#43b052"/>
<circle cx="344.7" cy="124.1" r="1.25" fill="#43b052"/>
<circle cx="347.4" cy="131.2" r="1.25" fill="#43b052"/>
<circle cx="348.9" cy="139.4" r="1.25" fill="#43b052"/>
<circle cx="352.6" cy="142.3" r="1.25" fill="#43b052"/>
<circle cx="348.0" cy="146.7" r="1.25" fill="#43b052"/>
<circle cx="355.1" cy="146.7" r="1.25" fill="#43b052"/>
<circle cx="368.1" cy="120.8" r="1.25" fill="#43b052"/>
<circle cx="380.7" cy="139.4" r="1.25" fill="#43b052"/>
<circle cx="377.2" cy="145.1" r="1.25" fill="#43b052"/>
<circle cx="341.2" cy="121.4" r="1.25" fill="#e6e034"/>
<circle cx="377.9" cy="143.4" r="1.25" fill="#e6e034"/>
<circle cx="377.6" cy="143.2" r="1.25" fill="#e6e034"/>
<circle cx="350.2" cy="133.9" r="1.25" fill="#e8308a"/>
<circle cx="352.3" cy="134.5" r="1.25" fill="#e8308a"/>
<circle cx="351.3" cy="136.1" r="1.25" fill="#e8308a"/>
<circle cx="354.0" cy="135.6" r="1.25" fill="#e8308a"/>
<circle cx="355.8" cy="136.1" r="1.25" fill="#e8308a"/>
<circle cx="354.7" cy="137.7" r="1.25" fill="#e8308a"/>
<circle cx="360.5" cy="137.2" r="1.25" fill="#e8308a"/>
<circle cx="361.6" cy="136.6" r="1.25" fill="#e8308a"/>
<circle cx="360.0" cy="138.8" r="1.25" fill="#e8308a"/>
<circle cx="362.7" cy="140.5" r="1.25" fill="#e8308a"/>
<circle cx="364.3" cy="141.0" r="1.25" fill="#e8308a"/>
<circle cx="363.2" cy="142.6" r="1.25" fill="#e8308a"/>
<circle cx="337.4" cy="160.2" r="1.25" fill="#e8308a"/>
<circle cx="347.9" cy="146.8" r="1.25" fill="#43b052"/>
<circle cx="349.6" cy="149.1" r="1.25" fill="#43b052"/>
<circle cx="352.6" cy="150.8" r="1.25" fill="#43b052"/>
<circle cx="354.9" cy="147.3" r="1.25" fill="#43b052"/>
<circle cx="350.2" cy="152.6" r="1.25" fill="#43b052"/>
<circle cx="353.7" cy="153.8" r="1.25" fill="#43b052"/>
<circle cx="305.8" cy="149.1" r="1.25" fill="#43b052"/>
<circle cx="313.4" cy="154.3" r="1.25" fill="#43b052"/>
<circle cx="310.5" cy="156.7" r="1.25" fill="#43b052"/>
<circle cx="306.4" cy="156.7" r="1.25" fill="#43b052"/>
<circle cx="310.5" cy="160.2" r="1.25" fill="#43b052"/>
<circle cx="315.2" cy="161.4" r="1.25" fill="#43b052"/>
<circle cx="323.4" cy="154.3" r="1.25" fill="#43b052"/>
<circle cx="335.6" cy="149.1" r="1.25" fill="#43b052"/>
<circle cx="345.5" cy="165.4" r="1.25" fill="#43b052"/>
<circle cx="362.5" cy="163.5" r="1.25" fill="#43b052"/>
<circle cx="304.9" cy="183.0" r="1.25" fill="#43b052"/>
<circle cx="328.0" cy="161.4" r="1.25" fill="#7cbb6e"/>
<circle cx="349.6" cy="168.9" r="1.25" fill="#7cbb6e"/>
<circle cx="350.0" cy="170.7" r="1.25" fill="#7cbb6e"/>
<circle cx="345.5" cy="173.0" r="1.25" fill="#7cbb6e"/>
<circle cx="347.9" cy="175.1" r="1.25" fill="#7cbb6e"/>
<circle cx="353.7" cy="176.0" r="1.25" fill="#7cbb6e"/>
<circle cx="345.5" cy="180.6" r="1.25" fill="#7cbb6e"/>
<circle cx="349.0" cy="183.3" r="1.25" fill="#7cbb6e"/>
<circle cx="339.7" cy="180.6" r="1.25" fill="#7cbb6e"/>
<circle cx="339.7" cy="182.1" r="1.25" fill="#7cbb6e"/>
<circle cx="321.0" cy="149.4" r="1.25" fill="#444444"/>
<circle cx="325.7" cy="170.1" r="1.25" fill="#444444"/>
<circle cx="329.2" cy="176.5" r="1.25" fill="#444444"/>
<circle cx="327.4" cy="178.3" r="1.25" fill="#444444"/>
<circle cx="325.9" cy="180.0" r="1.25" fill="#444444"/>
<circle cx="335.0" cy="179.5" r="1.25" fill="#444444"/>
<circle cx="339.7" cy="176.3" r="1.25" fill="#444444"/>
<circle cx="332.7" cy="152.6" r="1.25" fill="#444444"/>
<circle cx="333.9" cy="161.9" r="1.25" fill="#3252b2"/>
<circle cx="329.2" cy="166.0" r="1.25" fill="#3252b2"/>
<circle cx="332.7" cy="166.0" r="1.25" fill="#3252b2"/>
<circle cx="330.6" cy="168.9" r="1.25" fill="#3252b2"/>
<circle cx="328.6" cy="172.8" r="1.25" fill="#3252b2"/>
<circle cx="319.3" cy="173.6" r="1.25" fill="#3252b2"/>
<circle cx="321.0" cy="175.9" r="1.25" fill="#3252b2"/>
<circle cx="322.8" cy="175.9" r="1.25" fill="#3252b2"/>
<circle cx="320.4" cy="179.5" r="1.25" fill="#3252b2"/>
<circle cx="358.4" cy="171.3" r="1.25" fill="#bababa"/>
<circle cx="356.1" cy="178.9" r="1.25" fill="#bababa"/>
<circle cx="359.6" cy="177.7" r="1.25" fill="#bababa"/>
<circle cx="360.7" cy="180.0" r="1.25" fill="#bababa"/>
<circle cx="357.2" cy="183.5" r="1.25" fill="#bababa"/>
<circle cx="362.5" cy="185.3" r="1.25" fill="#bababa"/>
<circle cx="354.9" cy="186.5" r="1.25" fill="#bababa"/>
<circle cx="359.6" cy="186.5" r="1.25" fill="#bababa"/>
<circle cx="356.6" cy="181.2" r="1.25" fill="#bababa"/>
<circle cx="360.7" cy="183.5" r="1.25" fill="#bababa"/>
<circle cx="361.9" cy="170.7" r="1.25" fill="#f0883c"/>
<circle cx="364.2" cy="173.0" r="1.25" fill="#f0883c"/>
<circle cx="366.6" cy="174.2" r="1.25" fill="#f0883c"/>
<circle cx="368.3" cy="175.9" r="1.25" fill="#f0883c"/>
<circle cx="370.1" cy="169.5" r="1.25" fill="#f0883c"/>
<circle cx="370.7" cy="173.0" r="1.25" fill="#f0883c"/>
<circle cx="363.7" cy="178.9" r="1.25" fill="#f0883c"/>
<circle cx="367.7" cy="180.0" r="1.25" fill="#f0883c"/>
<circle cx="360.7" cy="173.6" r="1.25" fill="#f0883c"/>
<circle cx="365.4" cy="175.6" r="1.25" fill="#f0883c"/>
<circle cx="283.5" cy="187.0" r="1.25" fill="#2f5a3a"/>
<circle cx="285.5" cy="188.5" r="1.25" fill="#2f5a3a"/>
<circle cx="287.0" cy="187.5" r="1.25" fill="#2f5a3a"/>
<circle cx="284.5" cy="190.5" r="1.25" fill="#2f5a3a"/>
<circle cx="286.5" cy="191.5" r="1.25" fill="#2f5a3a"/>
<circle cx="288.5" cy="190.0" r="1.25" fill="#2f5a3a"/>
<circle cx="285.0" cy="193.5" r="1.25" fill="#2f5a3a"/>
<circle cx="287.5" cy="195.0" r="1.25" fill="#2f5a3a"/>
<circle cx="289.5" cy="188.5" r="1.25" fill="#2f5a3a"/>
<circle cx="293.4" cy="144.3" r="5.5" fill="#e8474e"/>
<circle cx="291.5" cy="161.1" r="3" fill="#e8474e"/>
<circle cx="275.9" cy="149" r="2.6" fill="#e8474e"/>
<circle cx="298.5" cy="149" r="2" fill="#8a94cc"/>
<circle cx="284.5" cy="148" r="6.3" fill="#464f8c"/>
<circle cx="291.5" cy="152.7" r="6" fill="#464f8c"/>
<circle cx="282" cy="157.4" r="5.3" fill="#464f8c"/>
<circle cx="288.7" cy="158.3" r="5.5" fill="#464f8c"/>
<circle cx="281" cy="151" r="4.6" fill="#464f8c"/>
<polyline points="278.4,125.1 279.8,126.5 291,126.5 294.3,128.9 297.1,130.3 305.5,138.7 306.9,142.4 307.9,143.8 307.9,158.3 305.5,161.1 305,165.8 302.2,168.6 298,170.9 279.8,171.4 278.4,173.7" fill="none" stroke="#43b7da" stroke-width="2.2" stroke-linejoin="round"/>
<circle cx="404.6" cy="102.4" r="3.3" fill="#3f56b0"/>
<circle cx="376.8" cy="116" r="3" fill="#3f56b0"/>
<circle cx="377.3" cy="116.5" r="2.8" fill="#3f56b0"/>
<circle cx="313.1" cy="294.2" r="2.7" fill="#4a4f7a"/>
<circle cx="313.6" cy="300.2" r="2.6" fill="#4a4f7a"/>
<circle cx="313.1" cy="328.0" r="4.9" fill="#a0a3a6"/>
<circle cx="308.7" cy="332.3" r="2.5" fill="#a0a3a6"/>
<circle cx="316.3" cy="335.6" r="4.3" fill="#a0a3a6"/>
<circle cx="327.8" cy="328.5" r="2.6" fill="#a0a3a6"/>
<circle cx="296.2" cy="340.5" r="2.4" fill="#3f56b0"/>
<circle cx="328.3" cy="337.2" r="2.3" fill="#8a9436"/>
<circle cx="319.6" cy="346.5" r="4.0" fill="#8a9436"/>
<circle cx="319.6" cy="347.2" r="4.5" fill="#8a9436"/>
<circle cx="315.3" cy="351.0" r="3.0" fill="#8a9436"/>
<circle cx="306.5" cy="353.5" r="2.7" fill="#8a9436"/>
<circle cx="329.4" cy="339.4" r="2.7" fill="#e6e034"/>
<circle cx="326.7" cy="346.0" r="2.6" fill="#e6e034"/>
<circle cx="327.2" cy="346.3" r="3.0" fill="#e6e034"/>
<circle cx="304.4" cy="375.0" r="4.5" fill="#ece68a"/>
<circle cx="354.0" cy="283.8" r="2.5" fill="#4bb8d6"/>
<circle cx="352.4" cy="288.2" r="2.5" fill="#4bb8d6"/>
<circle cx="360.0" cy="293.1" r="5.5" fill="#4bb8d6"/>
<circle cx="346.9" cy="294.7" r="3.4" fill="#ece68a"/>
<circle cx="365.4" cy="294.7" r="4.3" fill="#c84646"/>
<circle cx="375.8" cy="303.4" r="4.0" fill="#a0a3a6"/>
<circle cx="370.3" cy="306.2" r="2.8" fill="#a0a3a6"/>
<circle cx="344.7" cy="311.1" r="2.5" fill="#1b8a8a"/>
<circle cx="361.1" cy="311.1" r="2.7" fill="#1b8a8a"/>
<circle cx="345.8" cy="313.8" r="3.4" fill="#d596c4"/>
<circle cx="345.3" cy="319.8" r="3.3" fill="#5aaa6c"/>
<circle cx="361.6" cy="324.2" r="2.8" fill="#5aaa6c"/>
<circle cx="404.7" cy="338.9" r="3.0" fill="#4a8ad0"/>
<circle cx="406.5" cy="339.8" r="3.0" fill="#4a8ad0"/>
<circle cx="406.0" cy="368.2" r="2.7" fill="#4a8ad0"/>
<circle cx="349.1" cy="344.9" r="3.8" fill="#e8888a"/>
<circle cx="351.0" cy="355.5" r="3.0" fill="#e8888a"/>
<circle cx="353.8" cy="361.4" r="2.7" fill="#e8888a"/>
<circle cx="402.2" cy="361.1" r="2.7" fill="#e8888a"/>
<circle cx="379.8" cy="349.6" r="2.5" fill="#3f56b0"/>
<circle cx="383.1" cy="357.5" r="2.6" fill="#3f56b0"/>
<circle cx="383.1" cy="360.0" r="2.6" fill="#3f56b0"/>
<circle cx="369.7" cy="366.0" r="2.8" fill="#3f56b0"/>
<circle cx="374.4" cy="365.6" r="2.8" fill="#3f56b0"/>
<circle cx="371.3" cy="371.5" r="2.6" fill="#3f56b0"/>
<circle cx="379.0" cy="349.7" r="2.0" fill="#3f56b0"/>
<circle cx="394.0" cy="358.9" r="4.8" fill="#c8cacc"/>
<circle cx="381.5" cy="368.7" r="4.3" fill="#8a3a3a"/>
<circle cx="390.7" cy="366.5" r="3.4" fill="#8a3a3a"/>
<circle cx="377.6" cy="371.4" r="2.8" fill="#e05050"/>
<circle cx="378.3" cy="371.5" r="2.8" fill="#e05050"/>
<circle cx="416.3" cy="382.3" r="4.5" fill="#d84848"/>
<circle cx="420.2" cy="381.8" r="3.0" fill="#d84848"/>
<circle cx="418.5" cy="373.6" r="2.3" fill="#d84848"/>
<circle cx="426.2" cy="356.7" r="5.0" fill="#2f8a4a"/>
<circle cx="420.7" cy="366.5" r="2.7" fill="#2f8a4a"/>
<circle cx="424.5" cy="373.1" r="5.3" fill="#2f8a4a"/>
<circle cx="397.3" cy="375.8" r="4.5" fill="#9cc84a"/>
<circle cx="397.8" cy="380.2" r="2.0" fill="#9cc84a"/>
<circle cx="389.6" cy="379.6" r="3.6" fill="#46a858"/>
<circle cx="394.0" cy="382.3" r="2.6" fill="#46a858"/>
<circle cx="381.5" cy="384.5" r="2.7" fill="#46a858"/>
<circle cx="394.0" cy="389.4" r="2.7" fill="#46a858"/>
<circle cx="401.6" cy="390.5" r="4.5" fill="#46a858"/>
<circle cx="319.1" cy="355.0" r="2.7" fill="#8a92c8"/>
<circle cx="334.3" cy="361.1" r="2.3" fill="#8a92c8"/>
<circle cx="296.2" cy="403.3" r="2.5" fill="#8a92c8"/>
<circle cx="325.6" cy="377.2" r="3.5" fill="#8cd0e4"/>
<circle cx="304.9" cy="366.3" r="2.7" fill="#7a7a7a"/>
<circle cx="327.2" cy="369.5" r="2.5" fill="#7a7a7a"/>
<circle cx="331.6" cy="365.2" r="3.5" fill="#7a7a7a"/>
<circle cx="313.1" cy="369.0" r="4.5" fill="#c8cacc"/>
<circle cx="324.0" cy="394.1" r="3.5" fill="#c8cacc"/>
<circle cx="328.9" cy="394.6" r="2.6" fill="#c8cacc"/>
<circle cx="358.8" cy="377.7" r="2.5" fill="#c8cacc"/>
<circle cx="321.3" cy="367.9" r="2.6" fill="#a553a8"/>
<circle cx="335.4" cy="364.1" r="2.2" fill="#46a858"/>
<circle cx="362.7" cy="375.8" r="2.7" fill="#46a858"/>
<circle cx="374.4" cy="392.9" r="2.5" fill="#46a858"/>
<circle cx="299.4" cy="398.2" r="3.2" fill="#e03a48"/>
<circle cx="291.3" cy="401.5" r="2.7" fill="#e03a48"/>
<circle cx="294.0" cy="396.5" r="2.2" fill="#e03a48"/>
<circle cx="297.0" cy="396.0" r="2.2" fill="#e03a48"/>
<circle cx="303.8" cy="403.3" r="3.5" fill="#46a858"/>
<circle cx="310.9" cy="408.8" r="3.3" fill="#46a858"/>
<circle cx="305.4" cy="411.5" r="3.0" fill="#46a858"/>
<circle cx="276.5" cy="402.8" r="2.3" fill="#46a858"/>
<circle cx="304.0" cy="403.2" r="3.5" fill="#46a858"/>
<circle cx="311.0" cy="408.4" r="3.5" fill="#46a858"/>
<circle cx="307.5" cy="412.5" r="3.0" fill="#46a858"/>
<circle cx="303.1" cy="436.5" r="2.7" fill="#46a858"/>
<circle cx="341.4" cy="419.5" r="4.0" fill="#46a858"/>
<circle cx="347.2" cy="404.9" r="3.5" fill="#46a858"/>
<circle cx="374.5" cy="393.6" r="2.7" fill="#46a858"/>
<circle cx="401.5" cy="392.2" r="4.0" fill="#46a858"/>
<circle cx="394.2" cy="390.7" r="2.5" fill="#46a858"/>
<circle cx="349.1" cy="346.6" r="3.5" fill="#e8888a"/>
<circle cx="349.9" cy="383.9" r="2.7" fill="#6a58a8"/>
<circle cx="362.7" cy="386.3" r="2.8" fill="#6a58a8"/>
<circle cx="349.9" cy="391.0" r="3.5" fill="#e84898"/>
<circle cx="348.9" cy="392.2" r="3.0" fill="#e84898"/>
<circle cx="325.0" cy="419.5" r="3.3" fill="#3f56b0"/>
<circle cx="329.1" cy="422.4" r="2.3" fill="#3f56b0"/>
<circle cx="324.5" cy="426.5" r="3.0" fill="#3f56b0"/>
<circle cx="324.5" cy="432.4" r="3.5" fill="#6a6a6a"/>
<circle cx="332.1" cy="433.0" r="2.3" fill="#6a6a6a"/>
<circle cx="428.5" cy="427.2" r="2.5" fill="#6a6a6a"/>
<circle cx="345.5" cy="426.0" r="3.5" fill="#8cc890"/>
<circle cx="340.2" cy="433.5" r="3.5" fill="#8cc890"/>
<circle cx="335.6" cy="435.3" r="2.5" fill="#8cc890"/>
<circle cx="325.0" cy="414.9" r="2.0" fill="#8cc890"/>
<circle cx="333.2" cy="413.7" r="3.0" fill="#a553a8"/>
<circle cx="397.1" cy="406.4" r="2.7" fill="#a553a8"/>
<circle cx="284.8" cy="445.2" r="3.3" fill="#3a5a40"/>
<circle cx="283.0" cy="446.0" r="2.5" fill="#3a5a40"/>
<circle cx="364.2" cy="422.8" r="3.3" fill="#f0a050"/>
<circle cx="365.0" cy="426.5" r="3.3" fill="#f0a050"/>
<circle cx="357.7" cy="425.0" r="3.5" fill="#f0a050"/>
<circle cx="362.8" cy="433.8" r="4.0" fill="#f0a050"/>
<circle cx="354.8" cy="430.1" r="2.5" fill="#f0a050"/>
<circle cx="351.9" cy="434.7" r="5.0" fill="#c8cacc"/>
<circle cx="351.8" cy="435.3" r="6.5" fill="#c8cacc"/>
<circle cx="357.7" cy="438.2" r="4.0" fill="#c8cacc"/>
<circle cx="409.5" cy="404.6" r="3.3" fill="#2f8a4a"/>
<circle cx="412.4" cy="415.5" r="5.0" fill="#5a3a3a"/>
<circle cx="427.8" cy="413.4" r="4.6" fill="#8a3a3a"/>
<circle cx="385.4" cy="462.3" r="2.5" fill="#4262c2"/>
<circle cx="320.7" cy="290.9" r="0.95" fill="#2b2c6c"/>
<circle cx="322.9" cy="292.0" r="0.95" fill="#2b2c6c"/>
<circle cx="319.6" cy="295.3" r="0.95" fill="#2b2c6c"/>
<circle cx="321.8" cy="294.7" r="0.95" fill="#2b2c6c"/>
<circle cx="319.1" cy="296.9" r="0.95" fill="#2b2c6c"/>
<circle cx="318.7" cy="300.2" r="0.95" fill="#2b2c6c"/>
<circle cx="328.9" cy="287.6" r="0.95" fill="#3f56b0"/>
<circle cx="329.4" cy="290.9" r="0.95" fill="#3f56b0"/>
<circle cx="333.2" cy="291.4" r="0.95" fill="#3f56b0"/>
<circle cx="324.9" cy="324.7" r="0.95" fill="#3f56b0"/>
<circle cx="298.9" cy="343.8" r="0.95" fill="#3f56b0"/>
<circle cx="303.3" cy="342.2" r="0.95" fill="#3f56b0"/>
<circle cx="336.0" cy="291.1" r="0.95" fill="#e6e034"/>
<circle cx="325.0" cy="326.0" r="0.95" fill="#e6e034"/>
<circle cx="320.9" cy="329.1" r="0.95" fill="#7a7a7a"/>
<circle cx="307.1" cy="342.2" r="0.95" fill="#46a858"/>
<circle cx="309.8" cy="341.9" r="0.95" fill="#46a858"/>
<circle cx="332.2" cy="345.4" r="0.95" fill="#e6e034"/>
<circle cx="332.5" cy="346.1" r="0.95" fill="#e6e034"/>
<circle cx="337.6" cy="376.6" r="0.95" fill="#e6e034"/>
<circle cx="296.9" cy="387.3" r="0.95" fill="#e6e034"/>
<circle cx="318.5" cy="359.2" r="0.95" fill="#e6e034"/>
<circle cx="337.4" cy="376.5" r="0.95" fill="#e6e034"/>
<circle cx="348.0" cy="287.9" r="0.95" fill="#e6e034"/>
<circle cx="336.5" cy="290.9" r="0.95" fill="#e6e034"/>
<circle cx="350.2" cy="319.8" r="0.95" fill="#e6e034"/>
<circle cx="351.3" cy="294.7" r="0.95" fill="#e03040"/>
<circle cx="353.4" cy="292.9" r="0.95" fill="#e03040"/>
<circle cx="355.1" cy="296.9" r="0.95" fill="#e03040"/>
<circle cx="352.1" cy="298.0" r="0.95" fill="#e03040"/>
<circle cx="362.7" cy="299.6" r="0.95" fill="#e03040"/>
<circle cx="373.1" cy="296.9" r="0.95" fill="#a0a3a6"/>
<circle cx="372.0" cy="300.7" r="0.95" fill="#a0a3a6"/>
<circle cx="348.5" cy="303.1" r="0.95" fill="#a0a3a6"/>
<circle cx="344.2" cy="304.0" r="0.95" fill="#d596c4"/>
<circle cx="346.4" cy="306.2" r="0.95" fill="#d596c4"/>
<circle cx="355.1" cy="304.9" r="0.95" fill="#d596c4"/>
<circle cx="356.7" cy="301.8" r="0.95" fill="#d596c4"/>
<circle cx="342.0" cy="309.4" r="0.95" fill="#d596c4"/>
<circle cx="340.9" cy="312.7" r="0.95" fill="#d596c4"/>
<circle cx="340.4" cy="317.6" r="0.95" fill="#d596c4"/>
<circle cx="355.6" cy="311.6" r="0.95" fill="#d596c4"/>
<circle cx="353.4" cy="310.7" r="0.95" fill="#1b8a8a"/>
<circle cx="348.5" cy="306.4" r="0.95" fill="#1b8a8a"/>
<circle cx="354.3" cy="319.5" r="0.95" fill="#5aaa6c"/>
<circle cx="364.6" cy="319.8" r="0.95" fill="#5aaa6c"/>
<circle cx="356.2" cy="324.2" r="0.95" fill="#5aaa6c"/>
<circle cx="358.4" cy="327.8" r="0.95" fill="#5aaa6c"/>
<circle cx="350.2" cy="315.4" r="0.95" fill="#5aaa6c"/>
<circle cx="394.3" cy="318.0" r="0.95" fill="#43b7da"/>
<circle cx="373.1" cy="336.7" r="0.95" fill="#7a3030"/>
<circle cx="378.0" cy="340.5" r="0.95" fill="#7a3030"/>
<circle cx="377.4" cy="342.2" r="0.95" fill="#7a3030"/>
<circle cx="392.2" cy="343.8" r="0.95" fill="#7a3030"/>
<circle cx="395.4" cy="345.4" r="0.95" fill="#7a3030"/>
<circle cx="394.9" cy="346.5" r="0.95" fill="#7a3030"/>
<circle cx="402.0" cy="340.0" r="0.95" fill="#7a3030"/>
<circle cx="378.0" cy="340.9" r="0.95" fill="#7a3030"/>
<circle cx="392.4" cy="344.0" r="0.95" fill="#7a3030"/>
<circle cx="395.6" cy="345.3" r="0.95" fill="#7a3030"/>
<circle cx="397.8" cy="350.2" r="0.95" fill="#7a3030"/>
<circle cx="396.2" cy="352.9" r="0.95" fill="#7a3030"/>
<circle cx="402.2" cy="340.0" r="0.95" fill="#7a3030"/>
<circle cx="383.6" cy="350.2" r="0.95" fill="#7a3030"/>
<circle cx="403.8" cy="372.0" r="0.95" fill="#7a3030"/>
<circle cx="396.7" cy="394.9" r="0.95" fill="#7a3030"/>
<circle cx="386.4" cy="386.2" r="0.95" fill="#7a3030"/>
<circle cx="427.8" cy="368.7" r="0.95" fill="#7a3030"/>
<circle cx="399.8" cy="339.8" r="0.95" fill="#7a3030"/>
<circle cx="374.2" cy="338.9" r="0.95" fill="#4a8ad0"/>
<circle cx="389.4" cy="345.4" r="0.95" fill="#e03040"/>
<circle cx="389.1" cy="345.3" r="0.95" fill="#e03040"/>
<circle cx="352.4" cy="346.5" r="0.95" fill="#e8888a"/>
<circle cx="348.7" cy="359.4" r="0.95" fill="#e8888a"/>
<circle cx="377.6" cy="354.9" r="0.95" fill="#3f56b0"/>
<circle cx="378.2" cy="357.3" r="0.95" fill="#3f56b0"/>
<circle cx="380.4" cy="360.0" r="0.95" fill="#3f56b0"/>
<circle cx="386.4" cy="363.3" r="0.95" fill="#3f56b0"/>
<circle cx="376.0" cy="366.0" r="0.95" fill="#3f56b0"/>
<circle cx="409.8" cy="367.1" r="0.95" fill="#3f56b0"/>
<circle cx="412.0" cy="364.9" r="0.95" fill="#3f56b0"/>
<circle cx="426.7" cy="351.8" r="0.95" fill="#3f56b0"/>
<circle cx="422.9" cy="356.2" r="0.95" fill="#3f56b0"/>
<circle cx="424.0" cy="358.9" r="0.95" fill="#3f56b0"/>
<circle cx="427.8" cy="362.2" r="0.95" fill="#3f56b0"/>
<circle cx="432.2" cy="361.4" r="0.95" fill="#3f56b0"/>
<circle cx="424.0" cy="368.7" r="0.95" fill="#3f56b0"/>
<circle cx="355.7" cy="353.6" r="0.95" fill="#3f56b0"/>
<circle cx="355.3" cy="356.7" r="0.95" fill="#3f56b0"/>
<circle cx="357.9" cy="356.7" r="0.95" fill="#3f56b0"/>
<circle cx="376.0" cy="359.8" r="0.95" fill="#3f56b0"/>
<circle cx="378.1" cy="354.7" r="0.95" fill="#3f56b0"/>
<circle cx="375.0" cy="374.2" r="0.95" fill="#3f56b0"/>
<circle cx="386.9" cy="372.5" r="0.95" fill="#3f56b0"/>
<circle cx="391.8" cy="371.7" r="0.95" fill="#3f56b0"/>
<circle cx="385.8" cy="350.2" r="0.95" fill="#c8cacc"/>
<circle cx="386.9" cy="356.2" r="0.95" fill="#c8cacc"/>
<circle cx="409.8" cy="377.4" r="0.95" fill="#e03040"/>
<circle cx="412.0" cy="376.9" r="0.95" fill="#e03040"/>
<circle cx="414.2" cy="376.3" r="0.95" fill="#e03040"/>
<circle cx="385.8" cy="378.0" r="0.95" fill="#e03040"/>
<circle cx="380.4" cy="376.3" r="0.95" fill="#e03040"/>
<circle cx="378.7" cy="379.6" r="0.95" fill="#e03040"/>
<circle cx="380.9" cy="380.2" r="0.95" fill="#e03040"/>
<circle cx="376.5" cy="377.4" r="0.95" fill="#e03040"/>
<circle cx="382.0" cy="375.8" r="0.95" fill="#e03040"/>
<circle cx="376.7" cy="377.7" r="0.95" fill="#e03040"/>
<circle cx="376.0" cy="381.0" r="0.95" fill="#e03040"/>
<circle cx="379.0" cy="379.3" r="0.95" fill="#e03040"/>
<circle cx="372.8" cy="355.5" r="0.95" fill="#e03040"/>
<circle cx="418.0" cy="362.7" r="0.95" fill="#2f8a4a"/>
<circle cx="424.5" cy="364.9" r="0.95" fill="#2f8a4a"/>
<circle cx="427.2" cy="365.4" r="0.95" fill="#2f8a4a"/>
<circle cx="421.0" cy="351.0" r="0.95" fill="#3f56b0"/>
<circle cx="424.0" cy="354.0" r="0.95" fill="#3f56b0"/>
<circle cx="425.0" cy="363.0" r="0.95" fill="#3f56b0"/>
<circle cx="390.7" cy="374.2" r="0.95" fill="#9cc84a"/>
<circle cx="387.4" cy="389.8" r="0.95" fill="#9cc84a"/>
<circle cx="387.8" cy="394.3" r="0.95" fill="#9cc84a"/>
<circle cx="396.7" cy="366.5" r="0.95" fill="#46a858"/>
<circle cx="384.7" cy="395.4" r="0.95" fill="#46a858"/>
<circle cx="376.0" cy="393.8" r="0.95" fill="#46a858"/>
<circle cx="419.6" cy="398.7" r="0.95" fill="#7a3aa0"/>
<circle cx="313.6" cy="378.3" r="0.95" fill="#8a92c8"/>
<circle cx="308.7" cy="385.9" r="0.95" fill="#8a92c8"/>
<circle cx="319.6" cy="400.1" r="0.95" fill="#8a92c8"/>
<circle cx="314.7" cy="403.9" r="0.95" fill="#8a92c8"/>
<circle cx="331.6" cy="391.9" r="0.95" fill="#8a92c8"/>
<circle cx="288.0" cy="366.3" r="0.95" fill="#ece68a"/>
<circle cx="289.1" cy="370.1" r="0.95" fill="#ece68a"/>
<circle cx="288.0" cy="371.2" r="0.95" fill="#ece68a"/>
<circle cx="292.4" cy="372.8" r="0.95" fill="#ece68a"/>
<circle cx="295.1" cy="374.4" r="0.95" fill="#e03040"/>
<circle cx="307.8" cy="362.4" r="0.95" fill="#8a9436"/>
<circle cx="316.1" cy="376.1" r="0.95" fill="#8a9436"/>
<circle cx="297.6" cy="383.7" r="0.95" fill="#8a9436"/>
<circle cx="308.7" cy="355.9" r="0.95" fill="#8cd0e4"/>
<circle cx="308.2" cy="359.2" r="0.95" fill="#8cd0e4"/>
<circle cx="309.8" cy="359.0" r="0.95" fill="#8cd0e4"/>
<circle cx="313.6" cy="357.5" r="0.95" fill="#8cd0e4"/>
<circle cx="315.8" cy="357.0" r="0.95" fill="#8cd0e4"/>
<circle cx="313.6" cy="361.1" r="0.95" fill="#8cd0e4"/>
<circle cx="317.4" cy="363.5" r="0.95" fill="#8cd0e4"/>
<circle cx="316.9" cy="366.8" r="0.95" fill="#8cd0e4"/>
<circle cx="322.9" cy="364.6" r="0.95" fill="#8cd0e4"/>
<circle cx="331.6" cy="352.6" r="0.95" fill="#7a7a7a"/>
<circle cx="336.5" cy="351.8" r="0.95" fill="#7a7a7a"/>
<circle cx="329.2" cy="354.3" r="0.95" fill="#7a7a7a"/>
<circle cx="323.4" cy="360.3" r="0.95" fill="#7a7a7a"/>
<circle cx="325.6" cy="360.3" r="0.95" fill="#7a7a7a"/>
<circle cx="310.9" cy="393.5" r="0.95" fill="#7a7a7a"/>
<circle cx="328.3" cy="383.4" r="0.95" fill="#7a7a7a"/>
<circle cx="331.6" cy="388.1" r="0.95" fill="#7a7a7a"/>
<circle cx="334.9" cy="385.9" r="0.95" fill="#7a7a7a"/>
<circle cx="318.3" cy="403.9" r="0.95" fill="#7a7a7a"/>
<circle cx="332.0" cy="352.8" r="0.95" fill="#7a7a7a"/>
<circle cx="336.6" cy="351.6" r="0.95" fill="#7a7a7a"/>
<circle cx="370.1" cy="354.7" r="0.95" fill="#7a7a7a"/>
<circle cx="334.7" cy="385.9" r="0.95" fill="#7a7a7a"/>
<circle cx="332.0" cy="388.2" r="0.95" fill="#7a7a7a"/>
<circle cx="329.4" cy="407.2" r="0.95" fill="#7a7a7a"/>
<circle cx="313.6" cy="395.7" r="0.95" fill="#c8cacc"/>
<circle cx="316.9" cy="374.4" r="0.95" fill="#c8cacc"/>
<circle cx="372.1" cy="378.5" r="0.95" fill="#c8cacc"/>
<circle cx="363.1" cy="381.6" r="0.95" fill="#c8cacc"/>
<circle cx="369.3" cy="382.8" r="0.95" fill="#c8cacc"/>
<circle cx="378.8" cy="407.5" r="0.95" fill="#c8cacc"/>
<circle cx="309.8" cy="379.9" r="0.95" fill="#a553a8"/>
<circle cx="306.0" cy="383.2" r="0.95" fill="#a553a8"/>
<circle cx="309.3" cy="383.2" r="0.95" fill="#a553a8"/>
<circle cx="312.0" cy="385.1" r="0.95" fill="#a553a8"/>
<circle cx="308.2" cy="387.7" r="0.95" fill="#a553a8"/>
<circle cx="329.4" cy="387.0" r="0.95" fill="#a553a8"/>
<circle cx="339.8" cy="390.8" r="0.95" fill="#a553a8"/>
<circle cx="339.2" cy="364.1" r="0.95" fill="#46a858"/>
<circle cx="333.8" cy="370.6" r="0.95" fill="#46a858"/>
<circle cx="335.4" cy="377.5" r="0.95" fill="#46a858"/>
<circle cx="340.3" cy="379.0" r="0.95" fill="#46a858"/>
<circle cx="324.0" cy="382.6" r="0.95" fill="#46a858"/>
<circle cx="321.6" cy="384.0" r="0.95" fill="#46a858"/>
<circle cx="317.2" cy="388.6" r="0.95" fill="#46a858"/>
<circle cx="343.6" cy="386.2" r="0.95" fill="#46a858"/>
<circle cx="332.2" cy="403.7" r="0.95" fill="#46a858"/>
<circle cx="320.7" cy="408.2" r="0.95" fill="#46a858"/>
<circle cx="339.3" cy="363.7" r="0.95" fill="#46a858"/>
<circle cx="333.9" cy="370.3" r="0.95" fill="#46a858"/>
<circle cx="335.3" cy="377.7" r="0.95" fill="#46a858"/>
<circle cx="340.5" cy="379.1" r="0.95" fill="#46a858"/>
<circle cx="343.6" cy="386.3" r="0.95" fill="#46a858"/>
<circle cx="344.8" cy="394.1" r="0.95" fill="#46a858"/>
<circle cx="293.4" cy="395.7" r="0.95" fill="#e03040"/>
<circle cx="295.1" cy="396.0" r="0.95" fill="#e03040"/>
<circle cx="288.5" cy="404.4" r="0.95" fill="#e03040"/>
<circle cx="292.4" cy="406.6" r="0.95" fill="#e03040"/>
<circle cx="291.0" cy="413.2" r="0.95" fill="#e03040"/>
<circle cx="290.6" cy="413.1" r="0.95" fill="#e03040"/>
<circle cx="292.4" cy="406.1" r="0.95" fill="#e03040"/>
<circle cx="303.8" cy="395.4" r="0.95" fill="#46a858"/>
<circle cx="312.8" cy="415.8" r="0.95" fill="#46a858"/>
<circle cx="321.0" cy="408.8" r="0.95" fill="#46a858"/>
<circle cx="332.1" cy="403.8" r="0.95" fill="#46a858"/>
<circle cx="357.7" cy="417.4" r="0.95" fill="#46a858"/>
<circle cx="370.8" cy="399.5" r="0.95" fill="#46a858"/>
<circle cx="384.7" cy="395.1" r="0.95" fill="#46a858"/>
<circle cx="388.3" cy="394.4" r="0.95" fill="#46a858"/>
<circle cx="283.6" cy="402.8" r="0.95" fill="#2b2c6c"/>
<circle cx="285.8" cy="404.4" r="0.95" fill="#2b2c6c"/>
<circle cx="285.3" cy="406.1" r="0.95" fill="#2b2c6c"/>
<circle cx="282.5" cy="406.6" r="0.95" fill="#2b2c6c"/>
<circle cx="286.9" cy="408.2" r="0.95" fill="#2b2c6c"/>
<circle cx="290.2" cy="406.1" r="0.95" fill="#2b2c6c"/>
<circle cx="284.7" cy="410.4" r="0.95" fill="#2b2c6c"/>
<circle cx="281.5" cy="411.0" r="0.95" fill="#2b2c6c"/>
<circle cx="290.7" cy="409.9" r="0.95" fill="#2b2c6c"/>
<circle cx="287.0" cy="403.0" r="0.95" fill="#2b2c6c"/>
<circle cx="283.0" cy="408.5" r="0.95" fill="#2b2c6c"/>
<circle cx="348.7" cy="373.2" r="0.95" fill="#6a58a8"/>
<circle cx="355.7" cy="376.8" r="0.95" fill="#6a58a8"/>
<circle cx="357.4" cy="381.8" r="0.95" fill="#6a58a8"/>
<circle cx="366.0" cy="380.2" r="0.95" fill="#6a58a8"/>
<circle cx="339.7" cy="391.0" r="0.95" fill="#6a58a8"/>
<circle cx="356.1" cy="391.7" r="0.95" fill="#e84898"/>
<circle cx="344.8" cy="389.0" r="0.95" fill="#e84898"/>
<circle cx="356.2" cy="392.2" r="0.95" fill="#e84898"/>
<circle cx="358.4" cy="396.6" r="0.95" fill="#e84898"/>
<circle cx="316.3" cy="428.3" r="0.95" fill="#2b2c6c"/>
<circle cx="318.6" cy="430.0" r="0.95" fill="#2b2c6c"/>
<circle cx="317.8" cy="433.0" r="0.95" fill="#2b2c6c"/>
<circle cx="316.9" cy="428.9" r="0.95" fill="#2b2c6c"/>
<circle cx="319.8" cy="429.5" r="0.95" fill="#2b2c6c"/>
<circle cx="289.4" cy="442.9" r="0.95" fill="#3a5a40"/>
<circle cx="288.8" cy="445.8" r="0.95" fill="#3a5a40"/>
<circle cx="389.8" cy="404.6" r="0.95" fill="#a553a8"/>
<circle cx="392.7" cy="401.0" r="0.95" fill="#a553a8"/>
<circle cx="394.9" cy="401.0" r="0.95" fill="#a553a8"/>
<circle cx="392.7" cy="403.9" r="0.95" fill="#a553a8"/>
<circle cx="405.9" cy="409.0" r="0.95" fill="#a553a8"/>
<circle cx="420.5" cy="399.1" r="0.95" fill="#a553a8"/>
<circle cx="416.8" cy="402.0" r="0.95" fill="#2f8a4a"/>
<circle cx="387.6" cy="414.1" r="0.95" fill="#2f8a4a"/>
<circle cx="405.9" cy="414.1" r="0.95" fill="#2f8a4a"/>
<circle cx="396.4" cy="425.8" r="0.95" fill="#2f8a4a"/>
<circle cx="397.1" cy="428.0" r="0.95" fill="#2f8a4a"/>
<circle cx="400.7" cy="422.4" r="0.95" fill="#2f8a4a"/>
<circle cx="407.3" cy="419.9" r="0.95" fill="#5a3a3a"/>
<circle cx="402.2" cy="421.0" r="0.95" fill="#5a3a3a"/>
<circle cx="410.2" cy="423.3" r="0.95" fill="#5a3a3a"/>
<circle cx="420.5" cy="412.6" r="0.95" fill="#8a3a3a"/>
<circle cx="430.7" cy="419.2" r="0.95" fill="#8a3a3a"/>
<circle cx="429.2" cy="423.6" r="0.95" fill="#8a3a3a"/>
<circle cx="424.8" cy="433.1" r="0.95" fill="#6a6a6a"/>
<circle cx="427.0" cy="433.8" r="0.95" fill="#6a6a6a"/>
<circle cx="431.4" cy="433.8" r="0.95" fill="#6a6a6a"/>
<circle cx="396.4" cy="435.3" r="0.95" fill="#6a6a6a"/>
<circle cx="388.3" cy="448.4" r="0.95" fill="#46a858"/>
<circle cx="386.7" cy="451.0" r="0.95" fill="#4262c2"/>
<circle cx="388.0" cy="453.2" r="0.95" fill="#4262c2"/>
<circle cx="385.0" cy="454.7" r="0.95" fill="#4262c2"/>
<circle cx="387.0" cy="457.8" r="0.95" fill="#4262c2"/>
<circle cx="389.8" cy="457.2" r="0.95" fill="#4262c2"/>
<circle cx="385.5" cy="460.0" r="0.95" fill="#4262c2"/>
<circle cx="388.3" cy="461.5" r="0.95" fill="#4262c2"/>
<circle cx="384.7" cy="463.0" r="0.95" fill="#4262c2"/>
<polyline points="330.9,441.7 329.7,433.5 327.4,426.5 326.2,418.4 328,416.6 335.6,412.5 342,411.9 347.2,414.3 351.8,411.9 359.9,411.9 363.5,409.7 370.1,409.7 376.7,415.5 379.6,421.4 378.8,429.4 376.7,433.8 374.5,440.4 364.2,444 359.9,446.2 350.7,446.4 344.9,445.2 340.8,442.9 330.9,441.7" fill="none" stroke="#e8202a" stroke-width="2.3" stroke-linejoin="round"/>
<clipPath id="ic50"><rect x="416.6" y="-7.4" width="63.39999999999998" height="57.8"/></clipPath><g clip-path="url(#ic50)">
<path d="M415.3 38.4 415.8 38.3 416.4 37.9 417.2 38.7 418.0 38.3 418.9 37.3 419.8 37.5 420.6 37.8 421.4 37.9 422.1 38.2 422.7 38.2 423.4 38.3 424.0 39.2 424.6 38.6 425.2 39.0 425.8 39.2 426.2 39.8 426.7 39.8 427.0 39.3 427.3 40.4 427.6 39.2 427.9 39.7 428.1 39.7 428.4 39.8 428.7 39.2 429.0 38.8 429.3 38.2 429.5 38.2 429.8 37.5 430.1 36.9 430.4 36.5 430.8 35.5 431.1 35.2 431.5 33.1 431.9 32.5 432.3 30.3 432.7 27.1 433.1 23.8 433.5 22.4 433.9 20.3 434.3 18.3 434.6 17.6 434.9 16.5 435.3 14.4 435.6 13.8 435.9 11.6 436.2 11.7 436.4 10.0 436.7 7.8 436.9 8.0 437.1 7.1 437.3 6.8 437.5 5.6 437.6 6.5 437.8 6.8 438.0 5.1 438.1 6.1 438.3 6.4 438.5 7.4 438.7 6.2 438.9 6.4 439.0 6.7 439.2 7.0 439.4 9.1 439.6 8.3 439.8 10.0 440.0 10.3 440.2 11.9 440.4 13.0 440.6 14.4 440.8 14.6 441.0 16.3 441.3 18.0 441.6 17.9 441.9 20.4 442.2 20.4 442.5 22.3 442.9 22.2 443.3 25.0 443.7 26.7 444.2 26.8 444.8 28.5 445.4 28.7 446.1 29.0 446.8 30.4 447.5 30.1 448.3 30.7 449.2 32.2 450.0 32.0 451.0 33.4 452.2 34.1 453.4 34.3 454.6 36.5 455.8 36.1 457.0 37.6 458.0 37.6 458.8 38.4 459.4 38.9 459.8 39.7 460.1 40.1 460.3 39.7 460.4 39.4 460.7 39.3 461.1 39.2 461.7 39.1 462.5 40.1 463.5 39.5 464.6 38.3 465.8 38.1 467.0 37.2 468.2 37.2 469.4 36.3 470.5 36.1 471.6 35.4 472.7 35.6 473.9 34.1 475.0 33.9 476.1 33.9 477.1 34.4 477.9 33.9 478.5 33.4 478.5 39.0 477.9 39.2 477.1 39.1 476.1 40.2 475.0 39.4 473.9 40.8 472.7 41.2 471.6 41.6 470.5 41.1 469.4 42.4 468.2 43.0 467.0 42.9 465.8 44.3 464.6 44.2 463.5 44.4 462.5 45.4 461.7 45.5 461.1 46.1 460.7 45.8 460.4 44.9 460.3 45.2 460.1 44.7 459.8 44.9 459.4 44.8 458.8 44.9 458.0 43.5 457.0 43.8 455.8 43.1 454.6 42.1 453.4 40.1 452.2 39.6 451.0 38.7 450.0 37.8 449.2 37.1 448.3 36.6 447.5 36.4 446.8 35.4 446.1 35.6 445.4 34.0 444.8 33.3 444.2 33.0 443.7 32.4 443.3 30.7 442.9 31.6 442.5 30.4 442.2 28.8 441.9 28.4 441.6 26.9 441.3 25.8 441.0 25.8 440.8 23.0 440.6 22.6 440.4 21.8 440.2 20.0 440.0 18.9 439.8 18.2 439.6 18.6 439.4 15.9 439.2 16.9 439.0 15.6 438.9 15.5 438.7 14.3 438.5 15.4 438.3 15.2 438.1 13.9 438.0 15.1 437.8 14.7 437.6 15.7 437.5 15.5 437.3 16.1 437.1 16.4 436.9 16.9 436.7 17.3 436.4 19.5 436.2 20.3 435.9 19.9 435.6 21.8 435.3 22.4 434.9 24.0 434.6 27.5 434.3 29.0 433.9 29.3 433.5 30.5 433.1 32.4 432.7 36.0 432.3 35.3 431.9 38.1 431.5 40.0 431.1 40.0 430.8 41.8 430.4 42.1 430.1 43.3 429.8 44.3 429.5 43.6 429.3 45.1 429.0 45.3 428.7 45.6 428.4 45.4 428.1 45.3 427.9 45.2 427.6 45.5 427.3 45.1 427.0 44.9 426.7 46.0 426.2 45.8 425.8 45.8 425.2 45.6 424.6 44.8 424.0 43.9 423.4 44.5 422.7 43.5 422.1 44.2 421.4 44.3 420.6 43.2 419.8 43.6 418.9 43.6 418.0 43.3 417.2 44.2 416.4 43.1 415.8 43.9 415.3 43.8Z" fill="#e8262c" opacity="0.9"/>
<path d="M417.9 38.4 418.4 38.3 419.0 37.9 419.8 38.7 420.6 38.3 421.5 37.3 422.4 37.5 423.2 37.8 424.0 37.9 424.7 38.2 425.3 38.2 426.0 38.3 426.6 39.2 427.2 38.6 427.8 39.0 428.4 39.2 428.8 39.8 429.3 39.8 429.6 39.3 429.9 40.4 430.2 39.2 430.5 39.7 430.7 39.7 431.0 39.8 431.3 39.2 431.6 38.8 431.9 38.2 432.1 38.2 432.4 37.5 432.7 36.9 433.0 36.5 433.4 35.5 433.7 35.2 434.1 33.1 434.5 32.5 434.9 30.3 435.3 27.1 435.7 23.8 436.1 22.4 436.5 20.3 436.9 18.3 437.2 17.6 437.5 16.5 437.9 14.4 438.2 13.8 438.5 11.6 438.8 11.7 439.0 10.0 439.3 7.8 439.5 8.0 439.7 7.1 439.9 6.8 440.1 5.6 440.2 6.5 440.4 6.8 440.6 5.1 440.7 6.1 440.9 6.4 441.1 7.4 441.3 6.2 441.5 6.4 441.6 6.7 441.8 7.0 442.0 9.1 442.2 8.3 442.4 10.0 442.6 10.3 442.8 11.9 443.0 13.0 443.2 14.4 443.4 14.6 443.6 16.3 443.9 18.0 444.2 17.9 444.5 20.4 444.8 20.4 445.1 22.3 445.5 22.2 445.9 25.0 446.3 26.7 446.8 26.8 447.4 28.5 448.0 28.7 448.7 29.0 449.4 30.4 450.1 30.1 450.9 30.7 451.8 32.2 452.6 32.0 453.6 33.4 454.8 34.1 456.0 34.3 457.2 36.5 458.4 36.1 459.6 37.6 460.6 37.6 461.4 38.4 462.0 38.9 462.4 39.7 462.7 40.1 462.9 39.7 463.0 39.4 463.3 39.3 463.7 39.2 464.3 39.1 465.1 40.1 466.1 39.5 467.2 38.3 468.4 38.1 469.6 37.2 470.8 37.2 472.0 36.3 473.1 36.1 474.2 35.4 475.3 35.6 476.5 34.1 477.6 33.9 478.7 33.9 479.7 34.4 480.5 33.9 481.1 33.4 481.1 39.0 480.5 39.2 479.7 39.1 478.7 40.2 477.6 39.4 476.5 40.8 475.3 41.2 474.2 41.6 473.1 41.1 472.0 42.4 470.8 43.0 469.6 42.9 468.4 44.3 467.2 44.2 466.1 44.4 465.1 45.4 464.3 45.5 463.7 46.1 463.3 45.8 463.0 44.9 462.9 45.2 462.7 44.7 462.4 44.9 462.0 44.8 461.4 44.9 460.6 43.5 459.6 43.8 458.4 43.1 457.2 42.1 456.0 40.1 454.8 39.6 453.6 38.7 452.6 37.8 451.8 37.1 450.9 36.6 450.1 36.4 449.4 35.4 448.7 35.6 448.0 34.0 447.4 33.3 446.8 33.0 446.3 32.4 445.9 30.7 445.5 31.6 445.1 30.4 444.8 28.8 444.5 28.4 444.2 26.9 443.9 25.8 443.6 25.8 443.4 23.0 443.2 22.6 443.0 21.8 442.8 20.0 442.6 18.9 442.4 18.2 442.2 18.6 442.0 15.9 441.8 16.9 441.6 15.6 441.5 15.5 441.3 14.3 441.1 15.4 440.9 15.2 440.7 13.9 440.6 15.1 440.4 14.7 440.2 15.7 440.1 15.5 439.9 16.1 439.7 16.4 439.5 16.9 439.3 17.3 439.0 19.5 438.8 20.3 438.5 19.9 438.2 21.8 437.9 22.4 437.5 24.0 437.2 27.5 436.9 29.0 436.5 29.3 436.1 30.5 435.7 32.4 435.3 36.0 434.9 35.3 434.5 38.1 434.1 40.0 433.7 40.0 433.4 41.8 433.0 42.1 432.7 43.3 432.4 44.3 432.1 43.6 431.9 45.1 431.6 45.3 431.3 45.6 431.0 45.4 430.7 45.3 430.5 45.2 430.2 45.5 429.9 45.1 429.6 44.9 429.3 46.0 428.8 45.8 428.4 45.8 427.8 45.6 427.2 44.8 426.6 43.9 426.0 44.5 425.3 43.5 424.7 44.2 424.0 44.3 423.2 43.2 422.4 43.6 421.5 43.6 420.6 43.3 419.8 44.2 419.0 43.1 418.4 43.9 417.9 43.8Z" fill="#e8262c" opacity="0.9"/>
<path d="M416.6 38.4 417.1 38.3 417.7 37.9 418.5 38.7 419.3 38.3 420.2 37.3 421.1 37.5 421.9 37.8 422.7 37.9 423.4 38.2 424.0 38.2 424.7 38.3 425.3 39.2 425.9 38.6 426.5 39.0 427.1 39.2 427.5 39.8 428.0 39.8 428.3 39.3 428.6 40.4 428.9 39.2 429.2 39.7 429.4 39.7 429.7 39.8 430.0 39.2 430.3 38.8 430.6 38.2 430.8 38.2 431.1 37.5 431.4 36.9 431.7 36.5 432.1 35.5 432.4 35.2 432.8 33.1 433.2 32.5 433.6 30.3 434.0 27.1 434.4 23.8 434.8 22.4 435.2 20.3 435.6 18.3 435.9 17.6 436.2 16.5 436.6 14.4 436.9 13.8 437.2 11.6 437.5 11.7 437.7 10.0 438.0 7.8 438.2 8.0 438.4 7.1 438.6 6.8 438.8 5.6 438.9 6.5 439.1 6.8 439.3 5.1 439.4 6.1 439.6 6.4 439.8 7.4 440.0 6.2 440.2 6.4 440.3 6.7 440.5 7.0 440.7 9.1 440.9 8.3 441.1 10.0 441.3 10.3 441.5 11.9 441.7 13.0 441.9 14.4 442.1 14.6 442.3 16.3 442.6 18.0 442.9 17.9 443.2 20.4 443.5 20.4 443.8 22.3 444.2 22.2 444.6 25.0 445.0 26.7 445.5 26.8 446.1 28.5 446.7 28.7 447.4 29.0 448.1 30.4 448.8 30.1 449.6 30.7 450.5 32.2 451.3 32.0 452.3 33.4 453.5 34.1 454.7 34.3 455.9 36.5 457.1 36.1 458.3 37.6 459.3 37.6 460.1 38.4 460.7 38.9 461.1 39.7 461.4 40.1 461.6 39.7 461.7 39.4 462.0 39.3 462.4 39.2 463.0 39.1 463.8 40.1 464.8 39.5 465.9 38.3 467.1 38.1 468.3 37.2 469.5 37.2 470.7 36.3 471.8 36.1 472.9 35.4 474.0 35.6 475.2 34.1 476.3 33.9 477.4 33.9 478.4 34.4 479.2 33.9 479.8 33.4 479.8 39.0 479.2 39.2 478.4 39.1 477.4 40.2 476.3 39.4 475.2 40.8 474.0 41.2 472.9 41.6 471.8 41.1 470.7 42.4 469.5 43.0 468.3 42.9 467.1 44.3 465.9 44.2 464.8 44.4 463.8 45.4 463.0 45.5 462.4 46.1 462.0 45.8 461.7 44.9 461.6 45.2 461.4 44.7 461.1 44.9 460.7 44.8 460.1 44.9 459.3 43.5 458.3 43.8 457.1 43.1 455.9 42.1 454.7 40.1 453.5 39.6 452.3 38.7 451.3 37.8 450.5 37.1 449.6 36.6 448.8 36.4 448.1 35.4 447.4 35.6 446.7 34.0 446.1 33.3 445.5 33.0 445.0 32.4 444.6 30.7 444.2 31.6 443.8 30.4 443.5 28.8 443.2 28.4 442.9 26.9 442.6 25.8 442.3 25.8 442.1 23.0 441.9 22.6 441.7 21.8 441.5 20.0 441.3 18.9 441.1 18.2 440.9 18.6 440.7 15.9 440.5 16.9 440.3 15.6 440.2 15.5 440.0 14.3 439.8 15.4 439.6 15.2 439.4 13.9 439.3 15.1 439.1 14.7 438.9 15.7 438.8 15.5 438.6 16.1 438.4 16.4 438.2 16.9 438.0 17.3 437.7 19.5 437.5 20.3 437.2 19.9 436.9 21.8 436.6 22.4 436.2 24.0 435.9 27.5 435.6 29.0 435.2 29.3 434.8 30.5 434.4 32.4 434.0 36.0 433.6 35.3 433.2 38.1 432.8 40.0 432.4 40.0 432.1 41.8 431.7 42.1 431.4 43.3 431.1 44.3 430.8 43.6 430.6 45.1 430.3 45.3 430.0 45.6 429.7 45.4 429.4 45.3 429.2 45.2 428.9 45.5 428.6 45.1 428.3 44.9 428.0 46.0 427.5 45.8 427.1 45.8 426.5 45.6 425.9 44.8 425.3 43.9 424.7 44.5 424.0 43.5 423.4 44.2 422.7 44.3 421.9 43.2 421.1 43.6 420.2 43.6 419.3 43.3 418.5 44.2 417.7 43.1 417.1 43.9 416.6 43.8Z" fill="#e8262c" opacity="0.9"/>
</g>
<polyline points="416.6,40.9 417.1,40.9 417.7,40.9 418.5,40.9 419.3,40.8 420.2,40.8 421.1,40.8 421.9,40.8 422.7,40.9 423.4,41.1 424.0,41.2 424.7,41.5 425.3,41.7 425.9,42.0 426.5,42.2 427.1,42.4 427.5,42.5 428.0,42.6 428.3,42.7 428.6,42.7 428.9,42.7 429.2,42.7 429.4,42.6 429.7,42.4 430.0,42.2 430.3,41.9 430.6,41.6 430.8,41.3 431.1,40.8 431.4,40.3 431.7,39.7 432.1,38.8 432.4,37.8 432.8,36.4 433.2,34.8 433.6,33.0 434.0,31.0 434.4,29.0 434.8,27.1 435.2,25.2 435.6,23.5 435.9,22.0 436.2,20.5 436.6,19.0 436.9,17.6 437.2,16.3 437.5,15.1 437.7,14.0 438.0,13.1 438.2,12.4 438.4,11.8 438.6,11.4 438.8,11.0 438.9,10.8 439.1,10.7 439.3,10.6 439.4,10.6 439.6,10.6 439.8,10.7 440.0,10.9 440.2,11.1 440.3,11.5 440.5,11.9 440.7,12.5 440.9,13.1 441.1,13.9 441.3,14.9 441.5,16.0 441.7,17.2 441.9,18.4 442.1,19.6 442.3,20.8 442.6,22.0 442.9,23.0 443.2,24.1 443.5,25.2 443.8,26.3 444.2,27.4 444.6,28.4 445.0,29.3 445.5,30.2 446.1,31.0 446.7,31.6 447.4,32.2 448.1,32.8 448.8,33.4 449.6,34.0 450.5,34.6 451.3,35.2 452.3,36.0 453.5,36.8 454.7,37.7 455.9,38.6 457.1,39.5 458.3,40.3 459.3,41.0 460.1,41.6 460.7,42.0 461.1,42.3 461.4,42.5 461.6,42.7 461.7,42.7 462.0,42.7 462.4,42.6 463.0,42.5 463.8,42.2 464.8,41.9 465.9,41.4 467.1,40.8 468.3,40.2 469.5,39.7 470.7,39.2 471.8,38.7 472.9,38.3 474.0,37.9 475.2,37.6 476.3,37.2 477.4,36.9 478.4,36.6 479.2,36.4 479.8,36.2" fill="none" stroke="#1a1a1a" stroke-width="1.6" stroke-linejoin="round"/>
<line x1="416.60" y1="2.10" x2="416.60" y2="51.20" stroke="#111" stroke-width="1.8"/>
<line x1="415.80" y1="50.40" x2="479.50" y2="50.40" stroke="#111" stroke-width="1.8"/>
<line x1="416.60" y1="2.60" x2="418.60" y2="2.60" stroke="#111" stroke-width="1"/>
<text x="415.1" y="5.5" font-size="8.3" text-anchor="end" fill="#222" font-weight="normal">100</text>
<line x1="416.60" y1="18.50" x2="418.60" y2="18.50" stroke="#111" stroke-width="1"/>
<text x="415.1" y="21.4" font-size="8.3" text-anchor="end" fill="#222" font-weight="normal">50</text>
<line x1="416.60" y1="34.60" x2="418.60" y2="34.60" stroke="#111" stroke-width="1"/>
<text x="415.1" y="37.5" font-size="8.3" text-anchor="end" fill="#222" font-weight="normal">0</text>
<line x1="416.60" y1="50.40" x2="418.60" y2="50.40" stroke="#111" stroke-width="1"/>
<text x="415.1" y="53.3" font-size="8.3" text-anchor="end" fill="#222" font-weight="normal">-50</text>
<line x1="416.60" y1="50.40" x2="416.60" y2="48.40" stroke="#111" stroke-width="1"/>
<text x="416.6" y="59.2" font-size="8.3" text-anchor="middle" fill="#222" font-weight="normal">0</text>
<line x1="440.90" y1="50.40" x2="440.90" y2="48.40" stroke="#111" stroke-width="1"/>
<text x="440.9" y="59.2" font-size="8.3" text-anchor="middle" fill="#222" font-weight="normal">1</text>
<line x1="465.20" y1="50.40" x2="465.20" y2="48.40" stroke="#111" stroke-width="1"/>
<text x="465.2" y="59.2" font-size="8.3" text-anchor="middle" fill="#222" font-weight="normal">2</text>
<text x="448.2" y="65.4" font-size="8.3" text-anchor="middle" fill="#222" font-weight="normal">ms</text>
<text x="400.5" y="24.0" font-size="8.3" text-anchor="middle" fill="#222" font-weight="normal" transform="rotate(-90 400.5 24)">µV</text>
<clipPath id="ic306"><rect x="416.6" y="249.5" width="63.39999999999998" height="57.39999999999998"/></clipPath><g clip-path="url(#ic306)">
<path d="M415.3 273.0 415.9 272.6 416.6 272.0 417.6 273.6 418.6 273.0 419.6 271.0 420.7 271.5 421.7 272.0 422.6 271.9 423.4 272.1 424.2 271.6 425.0 271.2 425.8 272.2 426.6 270.6 427.3 270.8 428.0 270.8 428.7 271.6 429.3 271.6 429.9 270.7 430.4 272.9 431.0 271.0 431.5 272.2 431.9 272.8 432.4 273.2 432.8 272.5 433.2 272.0 433.5 271.1 433.8 271.0 434.1 269.9 434.3 269.0 434.6 268.8 434.9 267.8 435.2 268.5 435.6 266.3 436.0 267.4 436.4 265.5 436.8 266.1 437.2 264.1 437.6 263.9 438.0 263.3 438.4 262.9 438.7 264.0 439.0 264.9 439.3 265.1 439.6 266.8 439.8 267.2 440.1 269.6 440.5 270.6 440.8 271.0 441.2 273.8 441.6 275.8 442.0 278.6 442.5 280.7 443.0 282.9 443.4 285.7 443.9 285.6 444.5 287.9 445.0 288.7 445.6 289.6 446.2 287.4 446.8 286.4 447.4 285.2 448.1 283.9 448.7 284.5 449.3 281.8 449.9 282.0 450.5 280.1 451.1 279.6 451.7 278.5 452.3 277.6 452.9 275.3 453.5 274.9 454.2 274.7 454.9 272.6 455.6 273.4 456.3 271.4 457.0 271.7 457.7 269.8 458.5 269.2 459.4 270.1 460.3 268.4 461.2 270.0 462.2 269.1 463.2 268.5 464.3 270.3 465.4 268.8 466.5 269.1 467.6 271.1 468.8 269.6 470.0 271.0 471.3 271.1 472.7 270.2 474.2 272.9 475.5 271.0 476.7 272.5 477.7 271.4 478.5 272.1 478.5 284.1 477.7 282.3 476.7 284.0 475.5 283.7 474.2 283.3 472.7 280.9 471.3 281.2 470.0 280.9 468.8 280.3 467.6 280.1 466.5 280.0 465.4 280.5 464.3 279.4 463.2 280.7 462.2 278.9 461.2 278.7 460.3 279.8 459.4 280.6 458.5 279.8 457.7 281.0 457.0 281.3 456.3 281.4 455.6 283.0 454.9 283.2 454.2 284.0 453.5 286.2 452.9 285.3 452.3 287.3 451.7 288.9 451.1 289.3 450.5 290.4 449.9 291.8 449.3 294.0 448.7 292.6 448.1 295.6 447.4 295.8 446.8 297.2 446.2 297.0 445.6 299.1 445.0 299.2 444.5 297.2 443.9 297.4 443.4 295.0 443.0 293.8 442.5 289.1 442.0 286.6 441.6 283.9 441.2 281.4 440.8 279.2 440.5 278.7 440.1 277.1 439.8 274.4 439.6 273.7 439.3 272.0 439.0 271.3 438.7 272.6 438.4 272.2 438.0 271.1 437.6 270.9 437.2 271.6 436.8 273.9 436.4 274.9 436.0 277.6 435.6 279.0 435.2 277.3 434.9 279.4 434.6 279.1 434.3 280.8 434.1 282.5 433.8 281.1 433.5 283.8 433.2 284.1 432.8 284.3 432.4 283.6 431.9 283.0 431.5 282.5 431.0 282.6 430.4 281.7 429.9 281.1 429.3 283.1 428.7 282.6 428.0 282.9 427.3 282.9 426.6 282.0 425.8 281.0 425.0 282.6 424.2 281.4 423.4 283.3 422.6 283.7 421.7 281.9 420.7 282.8 419.6 282.8 418.6 282.1 417.6 283.7 416.6 281.7 415.9 283.1 415.3 282.9Z" fill="#e8262c" opacity="0.9"/>
<path d="M417.9 273.0 418.5 272.6 419.2 272.0 420.2 273.6 421.2 273.0 422.2 271.0 423.3 271.5 424.3 272.0 425.2 271.9 426.0 272.1 426.8 271.6 427.6 271.2 428.4 272.2 429.2 270.6 429.9 270.8 430.6 270.8 431.3 271.6 431.9 271.6 432.5 270.7 433.0 272.9 433.6 271.0 434.1 272.2 434.5 272.8 435.0 273.2 435.4 272.5 435.8 272.0 436.1 271.1 436.4 271.0 436.7 269.9 436.9 269.0 437.2 268.8 437.5 267.8 437.8 268.5 438.2 266.3 438.6 267.4 439.0 265.5 439.4 266.1 439.8 264.1 440.2 263.9 440.6 263.3 441.0 262.9 441.3 264.0 441.6 264.9 441.9 265.1 442.2 266.8 442.4 267.2 442.7 269.6 443.1 270.6 443.4 271.0 443.8 273.8 444.2 275.8 444.6 278.6 445.1 280.7 445.6 282.9 446.0 285.7 446.5 285.6 447.1 287.9 447.6 288.7 448.2 289.6 448.8 287.4 449.4 286.4 450.0 285.2 450.7 283.9 451.3 284.5 451.9 281.8 452.5 282.0 453.1 280.1 453.7 279.6 454.3 278.5 454.9 277.6 455.5 275.3 456.1 274.9 456.8 274.7 457.5 272.6 458.2 273.4 458.9 271.4 459.6 271.7 460.3 269.8 461.1 269.2 462.0 270.1 462.9 268.4 463.8 270.0 464.8 269.1 465.8 268.5 466.9 270.3 468.0 268.8 469.1 269.1 470.2 271.1 471.4 269.6 472.6 271.0 473.9 271.1 475.3 270.2 476.8 272.9 478.1 271.0 479.3 272.5 480.3 271.4 481.1 272.1 481.1 284.1 480.3 282.3 479.3 284.0 478.1 283.7 476.8 283.3 475.3 280.9 473.9 281.2 472.6 280.9 471.4 280.3 470.2 280.1 469.1 280.0 468.0 280.5 466.9 279.4 465.8 280.7 464.8 278.9 463.8 278.7 462.9 279.8 462.0 280.6 461.1 279.8 460.3 281.0 459.6 281.3 458.9 281.4 458.2 283.0 457.5 283.2 456.8 284.0 456.1 286.2 455.5 285.3 454.9 287.3 454.3 288.9 453.7 289.3 453.1 290.4 452.5 291.8 451.9 294.0 451.3 292.6 450.7 295.6 450.0 295.8 449.4 297.2 448.8 297.0 448.2 299.1 447.6 299.2 447.1 297.2 446.5 297.4 446.0 295.0 445.6 293.8 445.1 289.1 444.6 286.6 444.2 283.9 443.8 281.4 443.4 279.2 443.1 278.7 442.7 277.1 442.4 274.4 442.2 273.7 441.9 272.0 441.6 271.3 441.3 272.6 441.0 272.2 440.6 271.1 440.2 270.9 439.8 271.6 439.4 273.9 439.0 274.9 438.6 277.6 438.2 279.0 437.8 277.3 437.5 279.4 437.2 279.1 436.9 280.8 436.7 282.5 436.4 281.1 436.1 283.8 435.8 284.1 435.4 284.3 435.0 283.6 434.5 283.0 434.1 282.5 433.6 282.6 433.0 281.7 432.5 281.1 431.9 283.1 431.3 282.6 430.6 282.9 429.9 282.9 429.2 282.0 428.4 281.0 427.6 282.6 426.8 281.4 426.0 283.3 425.2 283.7 424.3 281.9 423.3 282.8 422.2 282.8 421.2 282.1 420.2 283.7 419.2 281.7 418.5 283.1 417.9 282.9Z" fill="#e8262c" opacity="0.9"/>
<path d="M416.6 273.0 417.2 272.6 417.9 272.0 418.9 273.6 419.9 273.0 420.9 271.0 422.0 271.5 423.0 272.0 423.9 271.9 424.7 272.1 425.5 271.6 426.3 271.2 427.1 272.2 427.9 270.6 428.6 270.8 429.3 270.8 430.0 271.6 430.6 271.6 431.2 270.7 431.7 272.9 432.3 271.0 432.8 272.2 433.2 272.8 433.7 273.2 434.1 272.5 434.5 272.0 434.8 271.1 435.1 271.0 435.4 269.9 435.6 269.0 435.9 268.8 436.2 267.8 436.5 268.5 436.9 266.3 437.3 267.4 437.7 265.5 438.1 266.1 438.5 264.1 438.9 263.9 439.3 263.3 439.7 262.9 440.0 264.0 440.3 264.9 440.6 265.1 440.9 266.8 441.1 267.2 441.4 269.6 441.8 270.6 442.1 271.0 442.5 273.8 442.9 275.8 443.3 278.6 443.8 280.7 444.3 282.9 444.7 285.7 445.2 285.6 445.8 287.9 446.3 288.7 446.9 289.6 447.5 287.4 448.1 286.4 448.7 285.2 449.4 283.9 450.0 284.5 450.6 281.8 451.2 282.0 451.8 280.1 452.4 279.6 453.0 278.5 453.6 277.6 454.2 275.3 454.8 274.9 455.5 274.7 456.2 272.6 456.9 273.4 457.6 271.4 458.3 271.7 459.0 269.8 459.8 269.2 460.7 270.1 461.6 268.4 462.5 270.0 463.5 269.1 464.5 268.5 465.6 270.3 466.7 268.8 467.8 269.1 468.9 271.1 470.1 269.6 471.3 271.0 472.6 271.1 474.0 270.2 475.5 272.9 476.8 271.0 478.0 272.5 479.0 271.4 479.8 272.1 479.8 284.1 479.0 282.3 478.0 284.0 476.8 283.7 475.5 283.3 474.0 280.9 472.6 281.2 471.3 280.9 470.1 280.3 468.9 280.1 467.8 280.0 466.7 280.5 465.6 279.4 464.5 280.7 463.5 278.9 462.5 278.7 461.6 279.8 460.7 280.6 459.8 279.8 459.0 281.0 458.3 281.3 457.6 281.4 456.9 283.0 456.2 283.2 455.5 284.0 454.8 286.2 454.2 285.3 453.6 287.3 453.0 288.9 452.4 289.3 451.8 290.4 451.2 291.8 450.6 294.0 450.0 292.6 449.4 295.6 448.7 295.8 448.1 297.2 447.5 297.0 446.9 299.1 446.3 299.2 445.8 297.2 445.2 297.4 444.7 295.0 444.3 293.8 443.8 289.1 443.3 286.6 442.9 283.9 442.5 281.4 442.1 279.2 441.8 278.7 441.4 277.1 441.1 274.4 440.9 273.7 440.6 272.0 440.3 271.3 440.0 272.6 439.7 272.2 439.3 271.1 438.9 270.9 438.5 271.6 438.1 273.9 437.7 274.9 437.3 277.6 436.9 279.0 436.5 277.3 436.2 279.4 435.9 279.1 435.6 280.8 435.4 282.5 435.1 281.1 434.8 283.8 434.5 284.1 434.1 284.3 433.7 283.6 433.2 283.0 432.8 282.5 432.3 282.6 431.7 281.7 431.2 281.1 430.6 283.1 430.0 282.6 429.3 282.9 428.6 282.9 427.9 282.0 427.1 281.0 426.3 282.6 425.5 281.4 424.7 283.3 423.9 283.7 423.0 281.9 422.0 282.8 420.9 282.8 419.9 282.1 418.9 283.7 417.9 281.7 417.2 283.1 416.6 282.9Z" fill="#e8262c" opacity="0.9"/>
</g>
<polyline points="416.6,277.5 417.2,277.5 417.9,277.5 418.9,277.6 419.9,277.6 420.9,277.6 422.0,277.6 423.0,277.6 423.9,277.5 424.7,277.4 425.5,277.3 426.3,277.1 427.1,277.0 427.9,276.8 428.6,276.7 429.3,276.6 430.0,276.6 430.6,276.7 431.2,276.9 431.7,277.2 432.3,277.5 432.8,277.8 433.2,278.0 433.7,278.1 434.1,278.0 434.5,277.7 434.8,277.3 435.1,276.7 435.4,276.1 435.6,275.4 435.9,274.6 436.2,273.9 436.5,273.2 436.9,272.5 437.3,271.5 437.7,270.5 438.1,269.6 438.5,268.7 438.9,268.0 439.3,267.6 439.7,267.5 440.0,267.8 440.3,268.3 440.6,269.1 440.9,270.1 441.1,271.3 441.4,272.6 441.8,274.0 442.1,275.6 442.5,277.5 442.9,279.9 443.3,282.6 443.8,285.3 444.3,287.9 444.7,290.3 445.2,292.1 445.8,293.3 446.3,293.7 446.9,293.5 447.5,292.9 448.1,292.0 448.7,290.9 449.4,289.7 450.0,288.5 450.6,287.6 451.2,286.6 451.8,285.6 452.4,284.5 453.0,283.4 453.6,282.3 454.2,281.3 454.8,280.3 455.5,279.4 456.2,278.6 456.9,277.9 457.6,277.1 458.3,276.5 459.0,275.9 459.8,275.4 460.7,275.0 461.6,274.7 462.5,274.5 463.5,274.5 464.5,274.5 465.6,274.7 466.7,274.9 467.8,275.1 468.9,275.4 470.1,275.6 471.3,275.9 472.6,276.2 474.0,276.5 475.5,276.9 476.8,277.2 478.0,277.5 479.0,277.8 479.8,278.0" fill="none" stroke="#1a1a1a" stroke-width="1.6" stroke-linejoin="round"/>
<line x1="416.60" y1="259.00" x2="416.60" y2="307.70" stroke="#111" stroke-width="1.8"/>
<line x1="415.80" y1="306.90" x2="479.50" y2="306.90" stroke="#111" stroke-width="1.8"/>
<line x1="416.60" y1="259.50" x2="418.60" y2="259.50" stroke="#111" stroke-width="1"/>
<text x="415.1" y="262.4" font-size="8.3" text-anchor="end" fill="#222" font-weight="normal">40</text>
<line x1="416.60" y1="269.00" x2="418.60" y2="269.00" stroke="#111" stroke-width="1"/>
<text x="415.1" y="271.9" font-size="8.3" text-anchor="end" fill="#222" font-weight="normal">20</text>
<line x1="416.60" y1="278.00" x2="418.60" y2="278.00" stroke="#111" stroke-width="1"/>
<text x="415.1" y="280.9" font-size="8.3" text-anchor="end" fill="#222" font-weight="normal">0</text>
<line x1="416.60" y1="287.70" x2="418.60" y2="287.70" stroke="#111" stroke-width="1"/>
<text x="415.1" y="290.6" font-size="8.3" text-anchor="end" fill="#222" font-weight="normal">-20</text>
<line x1="416.60" y1="297.30" x2="418.60" y2="297.30" stroke="#111" stroke-width="1"/>
<text x="415.1" y="300.2" font-size="8.3" text-anchor="end" fill="#222" font-weight="normal">-40</text>
<line x1="416.60" y1="306.90" x2="418.60" y2="306.90" stroke="#111" stroke-width="1"/>
<text x="415.1" y="309.8" font-size="8.3" text-anchor="end" fill="#222" font-weight="normal">-60</text>
<line x1="416.60" y1="306.90" x2="416.60" y2="304.90" stroke="#111" stroke-width="1"/>
<text x="416.6" y="315.7" font-size="8.3" text-anchor="middle" fill="#222" font-weight="normal">0</text>
<line x1="440.90" y1="306.90" x2="440.90" y2="304.90" stroke="#111" stroke-width="1"/>
<text x="440.9" y="315.7" font-size="8.3" text-anchor="middle" fill="#222" font-weight="normal">1</text>
<line x1="465.20" y1="306.90" x2="465.20" y2="304.90" stroke="#111" stroke-width="1"/>
<text x="465.2" y="315.7" font-size="8.3" text-anchor="middle" fill="#222" font-weight="normal">2</text>
<text x="448.2" y="321.9" font-size="8.3" text-anchor="middle" fill="#222" font-weight="normal">ms</text>
<text x="400.5" y="281.0" font-size="8.3" text-anchor="middle" fill="#222" font-weight="normal" transform="rotate(-90 400.5 281)">µV</text>
<polyline points="547.6,29.6 606.4,15.0 651.6,34.6" fill="none" stroke="#dadada" stroke-width="1.3"/>
<line x1="577.0" y1="65.3" x2="577.0" y2="22.3" stroke="#dadada" stroke-width="1.3"/>
<line x1="606.4" y1="58.0" x2="606.4" y2="15.0" stroke="#dadada" stroke-width="1.3"/>
<line x1="629.0" y1="67.8" x2="629.0" y2="24.8" stroke="#dadada" stroke-width="1.3"/>
<line x1="651.6" y1="77.6" x2="651.6" y2="34.6" stroke="#dadada" stroke-width="1.3"/>
<line x1="609.4" y1="59.0" x2="609.4" y2="16.0" stroke="#dadada" stroke-width="1.1"/>
<line x1="547.6" y1="73.1" x2="547.6" y2="29.6" stroke="#111" stroke-width="1.8"/>
<line x1="547.6" y1="29.6" x2="550.1" y2="29.0" stroke="#111" stroke-width="1"/>
<polygon points="547.6,72.6 592.8,92.2 651.6,77.6 606.4,58.0" fill="#3f4a9b"/>
<path d="M588.0 79.0 589.9 78.9 588.8 78.2 587.0 78.7Z" fill="#6971b1"/>
<path d="M584.3 78.5 586.2 78.8 585.2 78.5 583.3 78.9Z" fill="#8d93c4"/>
<path d="M586.8 78.0 588.6 78.9 587.5 78.9 585.6 78.8Z" fill="#afb3d5"/>
<path d="M589.2 78.2 590.9 79.2 589.9 78.9 588.0 78.8Z" fill="#aaaed3"/>
<path d="M591.4 79.3 593.3 79.5 592.2 78.8 590.4 79.1Z" fill="#7a81b9"/>
<path d="M583.1 78.2 584.9 78.6 583.8 79.1 581.9 79.2Z" fill="#afb3d5"/>
<path d="M585.6 76.7 587.3 78.3 586.0 79.1 584.3 78.8Z" fill="#abafd6"/>
<path d="M588.0 76.2 589.6 78.6 588.3 79.1 586.7 78.3Z" fill="#aaaed6"/>
<path d="M590.3 77.5 592.0 79.4 590.8 79.4 589.0 78.5Z" fill="#acb0d5"/>
<path d="M592.4 79.3 594.3 79.9 593.3 79.3 591.4 79.2Z" fill="#9398c6"/>
<path d="M581.8 78.3 583.5 78.4 582.4 79.4 580.6 79.5Z" fill="#aeb1d5"/>
<path d="M584.3 75.3 585.9 76.9 584.6 79.0 583.0 78.7Z" fill="#a4acda"/>
<path d="M586.6 72.5 588.3 76.6 587.0 78.6 585.4 77.2Z" fill="#94ace4"/>
<path d="M589.0 73.4 590.6 78.0 589.3 78.8 587.7 76.5Z" fill="#99ace0"/>
<path d="M591.3 76.9 592.9 79.6 591.7 79.5 590.1 77.7Z" fill="#a9aed7"/>
<path d="M593.4 79.8 595.4 80.3 594.3 79.8 592.4 79.3Z" fill="#989dc9"/>
<path d="M580.3 78.9 582.2 78.4 581.1 79.6 579.3 79.9Z" fill="#aeb1d5"/>
<path d="M582.9 74.8 584.5 75.4 583.3 78.8 581.7 78.8Z" fill="#9bacdf"/>
<path d="M585.3 68.4 586.9 72.7 585.6 77.3 584.1 75.9Z" fill="#7eafeb"/>
<path d="M587.7 66.1 589.2 73.9 588.0 76.8 586.4 73.0Z" fill="#79b0e9"/>
<path d="M590.0 70.9 591.5 77.5 590.4 78.1 588.8 73.5Z" fill="#83aeed"/>
<path d="M592.4 77.2 593.9 80.0 592.8 79.7 591.2 77.0Z" fill="#a6add9"/>
<path d="M594.5 80.6 596.4 80.8 595.4 80.1 593.5 79.7Z" fill="#989dc9"/>
<path d="M579.0 80.1 580.8 79.0 579.9 79.8 577.9 80.3Z" fill="#afb2d5"/>
<path d="M581.6 75.8 583.1 74.8 582.0 78.9 580.4 79.4Z" fill="#9bacdf"/>
<path d="M584.0 66.5 585.4 68.4 584.3 75.9 582.8 75.4Z" fill="#75b1e8"/>
<path d="M586.3 57.9 588.0 66.3 586.7 73.1 585.2 69.0Z" fill="#57bcdd"/>
<path d="M588.7 60.3 590.1 71.5 589.0 74.0 587.5 66.1Z" fill="#60b9e0"/>
<path d="M591.0 70.7 592.5 77.7 591.4 77.5 589.9 71.0Z" fill="#7eafeb"/>
<path d="M593.3 78.4 595.0 80.7 593.8 80.1 592.2 77.2Z" fill="#a7add8"/>
<path d="M595.7 81.5 597.4 81.3 596.3 80.5 594.5 80.3Z" fill="#868cc0"/>
<path d="M577.8 81.0 579.5 79.8 578.4 80.0 576.6 80.7Z" fill="#959ac8"/>
<path d="M580.1 77.8 581.7 75.8 580.6 79.4 579.1 80.2Z" fill="#a2acdb"/>
<path d="M582.6 68.5 584.0 66.5 583.0 75.4 581.5 76.3Z" fill="#74b1e7"/>
<path d="M585.0 53.9 586.4 57.9 585.3 69.0 583.9 67.1Z" fill="#58c5c1"/>
<path d="M587.4 48.4 588.8 60.8 587.7 66.7 586.0 58.1Z" fill="#74c7a4"/>
<path d="M589.7 59.3 591.1 71.3 590.0 71.5 588.6 60.3Z" fill="#51c0d8"/>
<path d="M592.1 73.3 593.5 78.9 592.4 77.7 591.0 70.7Z" fill="#80afec"/>
<path d="M594.2 80.4 596.0 81.4 594.9 80.7 593.2 78.4Z" fill="#abafd6"/>
<path d="M596.7 82.2 598.4 81.8 597.3 81.0 595.5 81.1Z" fill="#6a71b1"/>
<path d="M576.5 81.6 578.2 80.7 577.0 80.4 575.2 81.1Z" fill="#6a72b1"/>
<path d="M578.8 80.3 580.4 77.8 579.4 80.2 577.7 80.9Z" fill="#aaafd6"/>
<path d="M581.2 73.1 582.7 68.5 581.6 76.4 580.2 78.3Z" fill="#7cafea"/>
<path d="M583.7 57.4 585.0 53.9 584.0 67.1 582.6 69.1Z" fill="#59c5be"/>
<path d="M586.0 42.6 587.5 48.4 586.3 58.5 584.9 54.5Z" fill="#cdc06a"/>
<path d="M588.4 46.7 589.8 59.9 588.7 60.9 587.3 48.4Z" fill="#acc57d"/>
<path d="M590.7 64.3 592.1 73.9 591.1 71.3 589.7 59.3Z" fill="#56bddc"/>
<path d="M592.8 77.3 594.6 80.5 593.5 78.9 592.0 73.3Z" fill="#8cadea"/>
<path d="M595.4 81.9 597.1 82.0 596.1 81.1 594.2 80.1Z" fill="#aeb2d5"/>
<path d="M577.5 81.7 579.2 79.9 578.1 80.5 576.3 81.5Z" fill="#afb2d5"/>
<path d="M579.9 78.3 581.4 73.1 580.3 78.4 578.8 80.3Z" fill="#8eade8"/>
<path d="M582.2 66.0 583.7 57.4 582.7 69.1 581.2 73.7Z" fill="#52bfda"/>
<path d="M584.7 47.5 586.1 42.7 585.0 54.5 583.6 58.0Z" fill="#d5bf65"/>
<path d="M587.0 40.5 588.5 47.2 587.4 49.0 585.9 42.7Z" fill="#fdd230"/>
<path d="M589.4 54.3 590.8 64.9 589.7 59.9 588.4 46.7Z" fill="#96c88b"/>
<path d="M591.6 72.5 593.2 77.7 592.1 73.9 590.7 64.3Z" fill="#70b3e6"/>
<path d="M594.1 80.9 595.7 81.9 594.6 80.5 593.0 77.1Z" fill="#a5add9"/>
<path d="M596.4 82.9 598.1 82.6 597.0 81.6 595.2 81.5Z" fill="#8187bd"/>
<path d="M576.2 82.4 577.9 81.3 576.7 81.1 574.9 81.8Z" fill="#7178b5"/>
<path d="M578.6 81.2 580.1 77.7 579.2 80.0 577.4 81.6Z" fill="#a8aed7"/>
<path d="M581.0 75.0 582.4 66.0 581.4 73.7 579.9 78.3Z" fill="#75b1e8"/>
<path d="M583.3 60.2 584.7 47.5 583.9 57.5 582.3 66.6Z" fill="#86c797"/>
<path d="M585.7 46.2 587.1 40.5 586.1 42.7 584.6 48.1Z" fill="#fcd92a"/>
<path d="M588.1 50.0 589.5 54.9 588.4 46.7 587.0 40.5Z" fill="#efc648"/>
<path d="M590.4 66.7 591.8 72.5 591.0 64.8 589.4 54.3Z" fill="#56c3c8"/>
<path d="M592.8 78.8 594.2 80.9 593.3 77.7 591.7 71.9Z" fill="#84aeed"/>
<path d="M595.1 82.8 596.8 82.8 595.7 81.4 593.9 80.4Z" fill="#adb1d5"/>
<path d="M577.2 82.6 578.9 80.7 577.7 81.1 576.0 82.2Z" fill="#afb3d5"/>
<path d="M579.6 80.3 581.1 74.4 580.1 77.7 578.5 81.2Z" fill="#91ace6"/>
<path d="M582.0 72.1 583.4 59.6 582.4 66.0 580.9 75.0Z" fill="#57bcdc"/>
<path d="M584.4 59.1 585.8 45.7 584.7 47.5 583.3 60.2Z" fill="#c1c271"/>
<path d="M586.7 54.2 588.2 50.0 587.1 40.5 585.5 45.7Z" fill="#f5c741"/>
<path d="M589.1 63.9 590.5 66.7 589.4 54.3 588.0 49.4Z" fill="#86c797"/>
<path d="M591.5 76.4 592.9 78.8 591.8 71.9 590.4 66.1Z" fill="#72b2e7"/>
<path d="M593.8 82.3 595.4 82.7 594.3 80.3 592.7 78.2Z" fill="#a6add9"/>
<path d="M596.1 83.8 597.8 83.3 596.6 82.3 594.9 82.4Z" fill="#7e85bc"/>
<path d="M578.3 82.7 579.8 79.7 578.7 80.6 577.1 82.5Z" fill="#abafd6"/>
<path d="M580.7 79.5 582.1 71.5 581.0 74.4 579.6 80.3Z" fill="#80afeb"/>
<path d="M583.0 71.8 584.4 58.5 583.4 59.6 582.0 72.1Z" fill="#54c2cc"/>
<path d="M585.4 64.5 586.9 53.7 585.7 45.6 584.3 59.1Z" fill="#a9c57f"/>
<path d="M587.8 66.5 589.2 63.9 588.1 49.4 586.7 53.6Z" fill="#8cc892"/>
<path d="M590.1 75.3 591.5 76.4 590.5 66.1 589.1 63.3Z" fill="#5fb9df"/>
<path d="M592.5 81.7 594.0 82.3 592.9 78.2 591.4 75.8Z" fill="#93ace5"/>
<path d="M594.8 83.9 596.5 83.6 595.3 82.2 593.6 81.8Z" fill="#afb2d5"/>
<path d="M576.9 83.6 578.6 82.3 577.4 82.0 575.7 83.0Z" fill="#888ec1"/>
<path d="M579.3 82.8 580.8 78.9 579.7 79.7 578.1 82.6Z" fill="#a6add9"/>
<path d="M581.7 79.7 583.1 71.2 582.0 71.5 580.6 79.5Z" fill="#7ab0e9"/>
<path d="M584.1 74.6 585.5 63.9 584.4 58.5 583.0 71.7Z" fill="#52c0d4"/>
<path d="M586.4 72.8 587.9 66.5 586.7 53.6 585.1 64.2Z" fill="#59c5bf"/>
<path d="M588.8 76.7 590.2 75.3 589.1 63.3 587.7 66.0Z" fill="#5dbadf"/>
<path d="M591.1 81.6 592.6 81.7 591.5 75.8 590.0 74.8Z" fill="#85aeed"/>
<path d="M593.5 84.0 595.1 83.8 593.9 81.7 592.3 81.2Z" fill="#acb0d5"/>
<path d="M577.9 84.0 579.6 82.4 578.4 82.1 576.7 83.4Z" fill="#a7abd1"/>
<path d="M580.3 83.2 581.9 79.1 580.7 78.9 579.2 82.7Z" fill="#a2acdb"/>
<path d="M582.7 81.0 584.2 74.1 583.1 71.2 581.6 79.6Z" fill="#7cafea"/>
<path d="M585.1 79.0 586.7 72.5 585.4 63.9 583.9 74.6Z" fill="#68b5e3"/>
<path d="M587.5 79.6 588.9 76.7 587.8 65.9 586.2 72.3Z" fill="#6fb3e5"/>
<path d="M589.8 82.3 591.3 81.6 590.1 74.7 588.7 76.1Z" fill="#84aeed"/>
<path d="M592.2 84.2 593.7 83.9 592.5 81.1 591.0 81.1Z" fill="#aaaed6"/>
<path d="M594.5 84.9 596.2 84.4 595.0 83.3 593.2 83.6Z" fill="#787fb8"/>
<path d="M579.0 84.5 580.7 82.8 579.4 82.2 577.7 83.8Z" fill="#adb1d5"/>
<path d="M581.4 83.9 583.0 80.5 581.7 79.1 580.2 83.1Z" fill="#a4acda"/>
<path d="M583.8 82.9 585.4 78.6 584.1 74.0 582.6 80.9Z" fill="#85aeed"/>
<path d="M586.1 82.5 587.7 79.5 586.4 72.2 584.8 78.8Z" fill="#81aeec"/>
<path d="M588.5 83.5 590.0 82.2 588.8 76.1 587.2 79.2Z" fill="#8fade8"/>
<path d="M590.8 84.6 592.4 84.1 591.2 81.0 589.6 81.8Z" fill="#a9aed6"/>
<path d="M593.1 85.3 594.8 84.7 593.6 83.4 591.9 83.8Z" fill="#8389be"/>
<path d="M580.0 85.0 581.7 83.5 580.4 82.6 578.7 84.2Z" fill="#aeb2d5"/>
<path d="M582.4 84.7 584.1 82.5 582.8 80.4 581.1 83.7Z" fill="#a9aed7"/>
<path d="M584.8 84.5 586.4 82.3 585.1 78.4 583.5 82.7Z" fill="#a1acdb"/>
<path d="M587.1 84.7 588.7 83.4 587.5 79.0 585.8 82.2Z" fill="#a3acda"/>
<path d="M589.5 85.2 591.1 84.5 589.9 81.7 588.2 83.1Z" fill="#abb0d5"/>
<path d="M591.8 85.6 593.5 85.0 592.3 83.6 590.6 84.3Z" fill="#8389be"/>
<path d="M581.0 85.5 582.7 84.4 581.5 83.3 579.8 84.7Z" fill="#989dc9"/>
<path d="M583.4 85.5 585.1 84.2 583.8 82.3 582.1 84.5Z" fill="#adb1d5"/>
<path d="M585.8 85.5 587.4 84.5 586.2 81.9 584.5 84.2Z" fill="#acb0d5"/>
<path d="M588.1 85.7 589.8 85.0 588.5 82.9 586.9 84.3Z" fill="#aeb2d5"/>
<path d="M590.5 86.0 592.2 85.4 590.9 84.1 589.2 84.9Z" fill="#7b82ba"/>
<path d="M582.0 86.0 583.8 85.2 582.5 84.1 580.8 85.2Z" fill="#747bb6"/>
<path d="M584.4 86.1 586.1 85.3 584.8 83.9 583.2 85.2Z" fill="#8d93c3"/>
<path d="M586.8 86.2 588.5 85.5 587.2 84.1 585.5 85.2Z" fill="#888ec1"/>
<text x="539.5" y="73.4" font-size="10" text-anchor="middle" fill="#222" font-weight="normal">0</text>
<text x="537.0" y="33.0" font-size="10" text-anchor="middle" fill="#222" font-weight="normal">5</text>
<text x="542.3" y="19.3" font-size="9" fill="#222"><tspan font-size="10">×</tspan>10<tspan font-size="6.5" dy="-3.3">-3</tspan></text>
<text x="539.8" y="85.6" font-size="10" text-anchor="middle" fill="#222" font-weight="normal">50</text>
<text x="560.4" y="94.8" font-size="10" text-anchor="middle" fill="#222" font-weight="normal">0</text>
<text x="577.0" y="103.8" font-size="10" text-anchor="middle" fill="#222" font-weight="normal">-50</text>
<text x="603.3" y="101.6" font-size="10" text-anchor="middle" fill="#222" font-weight="normal">-50</text>
<text x="626.3" y="94.8" font-size="10" text-anchor="middle" fill="#222" font-weight="normal">0</text>
<text x="657.0" y="87.8" font-size="10" text-anchor="middle" fill="#222" font-weight="normal">50</text>
<polyline points="547.4,137.0 606.5,123.0 652.0,142.8" fill="none" stroke="#dadada" stroke-width="1.3"/>
<line x1="577.0" y1="172.2" x2="577.0" y2="130.0" stroke="#dadada" stroke-width="1.3"/>
<line x1="606.5" y1="165.2" x2="606.5" y2="123.0" stroke="#dadada" stroke-width="1.3"/>
<line x1="629.2" y1="175.1" x2="629.2" y2="132.9" stroke="#dadada" stroke-width="1.3"/>
<line x1="652.0" y1="185.0" x2="652.0" y2="142.8" stroke="#dadada" stroke-width="1.3"/>
<line x1="609.5" y1="166.2" x2="609.5" y2="124.0" stroke="#dadada" stroke-width="1.1"/>
<line x1="547.4" y1="179.7" x2="547.4" y2="137.0" stroke="#111" stroke-width="1.8"/>
<line x1="547.4" y1="137.0" x2="549.9" y2="136.4" stroke="#111" stroke-width="1"/>
<polygon points="547.4,179.2 592.9,199.0 652.0,185.0 606.5,165.2" fill="#3f4a9b"/>
<path d="M597.9 173.8 600.1 173.2 598.5 172.3 596.3 173.0Z" fill="#495eba"/>
<path d="M601.1 174.0 603.4 173.3 601.8 172.5 599.5 173.1Z" fill="#495ebb"/>
<path d="M592.7 174.0 595.0 173.4 593.4 172.6 591.1 173.2Z" fill="#4660be"/>
<path d="M596.0 174.1 598.3 173.5 596.7 172.7 594.4 173.3Z" fill="#4162c4"/>
<path d="M599.3 174.3 601.6 173.7 600.0 172.9 597.7 173.5Z" fill="#3f63c6"/>
<path d="M602.5 174.5 604.8 173.9 603.2 173.1 601.0 173.7Z" fill="#4162c4"/>
<path d="M605.8 174.7 608.1 174.1 606.5 173.3 604.2 173.9Z" fill="#4560c0"/>
<path d="M587.6 174.3 589.9 173.6 588.3 172.8 586.0 173.5Z" fill="#485fbb"/>
<path d="M590.9 174.3 593.2 173.7 591.6 173.0 589.3 173.6Z" fill="#3d63c8"/>
<path d="M594.1 174.4 596.4 173.8 594.9 173.1 592.6 173.7Z" fill="#3169d6"/>
<path d="M597.4 174.5 599.7 174.0 598.1 173.2 595.8 173.8Z" fill="#2c6ddc"/>
<path d="M600.7 174.7 603.0 174.2 601.4 173.4 599.1 174.0Z" fill="#2d6cdb"/>
<path d="M604.0 175.0 606.2 174.5 604.7 173.6 602.4 174.2Z" fill="#3567d2"/>
<path d="M607.2 175.3 609.5 174.7 607.9 173.8 605.6 174.4Z" fill="#3e63c8"/>
<path d="M610.5 175.5 612.8 174.9 611.2 174.1 608.9 174.7Z" fill="#4560c0"/>
<path d="M585.8 174.7 588.1 174.0 586.5 173.2 584.2 173.9Z" fill="#4560bf"/>
<path d="M589.0 174.6 591.3 174.0 589.7 173.3 587.5 174.0Z" fill="#3169d6"/>
<path d="M592.3 174.6 594.6 174.1 593.0 173.5 590.7 174.0Z" fill="#2d75e0"/>
<path d="M595.5 174.6 597.9 174.3 596.3 173.6 594.0 174.1Z" fill="#2e7adf"/>
<path d="M598.8 174.8 601.1 174.5 599.6 173.7 597.3 174.2Z" fill="#2c79df"/>
<path d="M602.1 175.1 604.4 174.7 602.8 174.0 600.5 174.4Z" fill="#2974df"/>
<path d="M605.4 175.5 607.7 175.0 606.1 174.2 603.8 174.7Z" fill="#296fe0"/>
<path d="M608.6 175.7 610.9 175.3 609.4 174.4 607.1 175.0Z" fill="#3169d6"/>
<path d="M611.9 175.9 614.2 175.5 612.6 174.7 610.3 175.2Z" fill="#3a65cc"/>
<path d="M615.2 176.2 617.5 175.8 615.9 174.9 613.6 175.5Z" fill="#4560bf"/>
<path d="M583.9 175.1 586.2 174.4 584.6 173.7 582.3 174.4Z" fill="#4261c2"/>
<path d="M587.2 174.9 589.5 174.4 587.9 173.7 585.6 174.4Z" fill="#2c72e1"/>
<path d="M590.4 174.7 592.7 174.3 591.2 173.8 588.9 174.4Z" fill="#3682e0"/>
<path d="M593.6 174.6 596.0 174.4 594.5 173.9 592.1 174.3Z" fill="#388cde"/>
<path d="M596.9 174.7 599.3 174.6 597.8 174.0 595.4 174.4Z" fill="#358ddd"/>
<path d="M600.2 175.0 602.5 174.9 601.0 174.2 598.7 174.5Z" fill="#368ade"/>
<path d="M603.5 175.5 605.8 175.2 604.3 174.5 602.0 174.8Z" fill="#3181df"/>
<path d="M606.7 175.8 609.1 175.5 607.5 174.7 605.2 175.2Z" fill="#2f7bdf"/>
<path d="M610.0 175.9 612.4 175.7 610.8 175.0 608.5 175.4Z" fill="#357de1"/>
<path d="M613.3 176.2 615.6 176.0 614.1 175.2 611.8 175.7Z" fill="#397ce2"/>
<path d="M616.6 176.7 618.9 176.4 617.3 175.5 615.0 176.0Z" fill="#3f69cd"/>
<path d="M582.1 175.5 584.4 174.8 582.8 174.1 580.5 174.8Z" fill="#4162c4"/>
<path d="M585.3 175.3 587.6 174.7 586.1 174.1 583.8 174.8Z" fill="#3077e0"/>
<path d="M588.5 175.0 590.9 174.5 589.4 174.1 587.0 174.7Z" fill="#3c8ddf"/>
<path d="M591.7 174.6 594.2 174.4 592.7 174.2 590.3 174.5Z" fill="#3d9ddc"/>
<path d="M595.0 174.4 597.4 174.6 596.0 174.3 593.6 174.4Z" fill="#35a3d8"/>
<path d="M598.3 174.7 600.7 174.9 599.3 174.4 596.8 174.5Z" fill="#35a2d8"/>
<path d="M601.5 175.2 604.0 175.3 602.5 174.7 600.1 174.8Z" fill="#3a9bdb"/>
<path d="M604.8 175.6 607.2 175.6 605.8 175.0 603.4 175.2Z" fill="#3992dd"/>
<path d="M608.1 175.6 610.5 175.7 609.1 175.3 606.6 175.5Z" fill="#3f94de"/>
<path d="M611.3 175.6 613.8 176.0 612.3 175.6 609.9 175.7Z" fill="#4697e0"/>
<path d="M614.6 176.2 617.0 176.5 615.6 175.8 613.2 175.9Z" fill="#4991e2"/>
<path d="M618.0 177.2 620.3 177.0 618.8 176.1 616.4 176.4Z" fill="#3b76de"/>
<path d="M580.2 176.0 582.5 175.2 580.9 174.5 578.6 175.3Z" fill="#4361c2"/>
<path d="M583.5 175.7 585.8 175.0 584.2 174.5 581.9 175.3Z" fill="#3179e0"/>
<path d="M586.7 175.3 589.0 174.7 587.5 174.5 585.2 175.1Z" fill="#4095de"/>
<path d="M589.9 174.7 592.3 174.5 590.9 174.4 588.5 174.8Z" fill="#39abd8"/>
<path d="M593.2 174.3 595.6 174.4 594.2 174.5 591.7 174.5Z" fill="#34b6cc"/>
<path d="M596.4 174.3 598.9 174.7 597.4 174.6 595.0 174.4Z" fill="#35b6c5"/>
<path d="M599.7 174.7 602.1 175.1 600.7 174.8 598.3 174.6Z" fill="#32b5ce"/>
<path d="M602.9 175.2 605.4 175.5 604.0 175.2 601.5 175.1Z" fill="#31acd5"/>
<path d="M606.3 175.2 608.7 175.6 607.2 175.6 604.8 175.4Z" fill="#37acd7"/>
<path d="M609.6 175.2 611.9 175.7 610.5 175.8 608.1 175.6Z" fill="#37b0d6"/>
<path d="M612.8 175.6 615.2 176.2 613.8 176.0 611.3 175.7Z" fill="#41add9"/>
<path d="M616.0 176.6 618.5 177.0 617.0 176.3 614.6 176.1Z" fill="#509ee1"/>
<path d="M619.4 177.8 621.7 177.6 620.2 176.7 617.9 176.9Z" fill="#3979e1"/>
<path d="M578.4 176.5 580.7 175.7 579.1 175.0 576.8 175.7Z" fill="#465fbe"/>
<path d="M581.6 176.2 583.9 175.5 582.4 175.0 580.1 175.7Z" fill="#3178e0"/>
<path d="M584.8 175.7 587.2 175.0 585.7 174.8 583.3 175.5Z" fill="#4098de"/>
<path d="M588.0 174.9 590.5 174.6 589.0 174.7 586.6 175.1Z" fill="#35b4d4"/>
<path d="M591.3 174.3 593.7 174.4 592.3 174.5 589.9 174.7Z" fill="#48bfb5"/>
<path d="M594.6 174.1 597.0 174.4 595.6 174.5 593.1 174.4Z" fill="#5ec1a0"/>
<path d="M597.9 174.4 600.3 174.8 598.8 174.7 596.4 174.4Z" fill="#5bc1a3"/>
<path d="M601.1 174.8 603.5 175.3 602.1 175.2 599.7 174.8Z" fill="#45beb3"/>
<path d="M604.4 174.9 606.8 175.3 605.3 175.6 602.9 175.2Z" fill="#42bdb8"/>
<path d="M607.7 174.9 610.1 175.4 608.6 175.8 606.2 175.3Z" fill="#4ac0b3"/>
<path d="M611.0 175.3 613.4 175.8 611.9 175.9 609.5 175.3Z" fill="#45bfb3"/>
<path d="M614.2 176.0 616.6 176.6 615.2 176.2 612.8 175.7Z" fill="#3db9cd"/>
<path d="M617.5 177.3 619.9 177.6 618.4 176.8 616.0 176.4Z" fill="#4ea1e0"/>
<path d="M620.9 178.6 623.2 178.3 621.6 177.3 619.3 177.5Z" fill="#3d75dc"/>
<path d="M576.6 177.0 578.8 176.2 577.2 175.5 575.0 176.2Z" fill="#4b5eb8"/>
<path d="M579.8 176.8 582.1 175.9 580.5 175.4 578.2 176.2Z" fill="#2f75e1"/>
<path d="M583.0 176.2 585.4 175.4 583.8 175.3 581.5 176.0Z" fill="#4197de"/>
<path d="M586.2 175.4 588.6 174.8 587.2 174.9 584.8 175.5Z" fill="#38b7cf"/>
<path d="M589.4 174.6 591.9 174.4 590.5 174.6 588.0 174.9Z" fill="#63c2a2"/>
<path d="M592.7 174.2 595.2 174.3 593.7 174.4 591.3 174.4Z" fill="#96c37f"/>
<path d="M596.0 174.2 598.4 174.5 597.0 174.5 594.6 174.3Z" fill="#a3c176"/>
<path d="M599.3 174.6 601.7 175.0 600.3 174.9 597.8 174.5Z" fill="#94c480"/>
<path d="M602.6 174.8 605.0 175.1 603.5 175.4 601.1 174.9Z" fill="#84c389"/>
<path d="M605.9 174.7 608.2 175.1 606.7 175.6 604.4 175.1Z" fill="#93c583"/>
<path d="M609.1 175.1 611.5 175.4 610.1 175.5 607.6 175.1Z" fill="#92c480"/>
<path d="M612.3 176.0 614.8 176.1 613.4 175.7 610.9 175.4Z" fill="#6fc297"/>
<path d="M615.6 176.8 618.0 177.2 616.6 176.4 614.2 176.0Z" fill="#42bcc5"/>
<path d="M619.0 178.2 621.3 178.4 619.8 177.3 617.5 177.0Z" fill="#519fe1"/>
<path d="M622.3 179.4 624.6 178.9 623.0 178.0 620.7 178.2Z" fill="#4669c9"/>
<path d="M578.0 177.4 580.2 176.5 578.7 175.9 576.4 176.7Z" fill="#336bd7"/>
<path d="M581.2 176.9 583.5 175.9 582.0 175.7 579.6 176.6Z" fill="#4092df"/>
<path d="M584.4 176.0 586.8 175.2 585.3 175.3 582.9 176.0Z" fill="#37b6d0"/>
<path d="M587.6 175.1 590.0 174.6 588.6 174.8 586.2 175.3Z" fill="#72c398"/>
<path d="M590.9 174.5 593.3 174.3 591.9 174.4 589.4 174.6Z" fill="#b8c06e"/>
<path d="M594.1 174.4 596.6 174.3 595.2 174.2 592.7 174.3Z" fill="#d7bd5a"/>
<path d="M597.4 174.6 599.9 174.7 598.4 174.5 596.0 174.3Z" fill="#d6bd5b"/>
<path d="M600.7 174.9 603.1 174.9 601.7 175.0 599.3 174.6Z" fill="#c8be65"/>
<path d="M604.0 174.7 606.4 174.9 604.9 175.3 602.5 174.9Z" fill="#d3bd61"/>
<path d="M607.2 175.0 609.7 175.2 608.2 175.2 605.8 174.8Z" fill="#d6bd5c"/>
<path d="M610.6 176.0 612.9 175.9 611.5 175.2 609.1 175.2Z" fill="#b3c06e"/>
<path d="M613.9 176.8 616.2 176.8 614.7 175.8 612.3 175.8Z" fill="#79c28e"/>
<path d="M617.1 177.8 619.4 178.1 618.0 176.9 615.6 176.6Z" fill="#3db9cc"/>
<path d="M620.5 179.3 622.7 179.2 621.2 178.1 618.9 177.9Z" fill="#4c92e3"/>
<path d="M623.7 180.2 626.0 179.6 624.4 178.6 622.1 179.1Z" fill="#4c5db7"/>
<path d="M576.1 177.9 578.4 177.1 576.8 176.4 574.5 177.2Z" fill="#3f62c6"/>
<path d="M579.4 177.5 581.7 176.6 580.1 176.3 577.8 177.1Z" fill="#3c89e0"/>
<path d="M582.6 176.7 584.9 175.7 583.4 175.8 581.1 176.7Z" fill="#37b1d6"/>
<path d="M585.8 175.7 588.2 174.9 586.7 175.1 584.3 175.9Z" fill="#6fc39a"/>
<path d="M589.1 175.0 591.5 174.4 590.0 174.5 587.6 175.0Z" fill="#c7be66"/>
<path d="M592.4 174.8 594.7 174.4 593.3 174.1 590.9 174.5Z" fill="#eec444"/>
<path d="M595.6 174.9 598.0 174.6 596.5 174.2 594.1 174.3Z" fill="#f9c73a"/>
<path d="M598.9 175.1 601.3 174.9 599.8 174.6 597.4 174.5Z" fill="#f2c540"/>
<path d="M602.1 175.1 604.5 174.8 603.1 174.9 600.7 174.8Z" fill="#f5c63e"/>
<path d="M605.4 175.1 607.8 175.0 606.4 174.8 603.9 174.8Z" fill="#fecb34"/>
<path d="M608.7 175.9 611.1 175.9 609.6 175.0 607.2 175.0Z" fill="#e8c24a"/>
<path d="M612.1 176.9 614.3 176.6 612.8 175.6 610.5 175.7Z" fill="#b2bf6d"/>
<path d="M615.3 177.7 617.6 177.7 616.0 176.4 613.8 176.4Z" fill="#65c099"/>
<path d="M618.6 179.1 620.9 179.2 619.3 177.8 617.0 177.5Z" fill="#40add9"/>
<path d="M621.9 180.4 624.1 180.0 622.6 178.8 620.3 179.0Z" fill="#3d7ce2"/>
<path d="M574.3 178.5 576.5 177.6 574.9 176.9 572.7 177.7Z" fill="#4a5eb9"/>
<path d="M577.5 178.2 579.8 177.2 578.2 176.8 575.9 177.7Z" fill="#347ce1"/>
<path d="M580.8 177.5 583.1 176.4 581.5 176.4 579.2 177.3Z" fill="#3da6da"/>
<path d="M584.0 176.5 586.3 175.5 584.8 175.6 582.5 176.6Z" fill="#59c2a8"/>
<path d="M587.3 175.7 589.6 174.8 588.1 174.8 585.8 175.6Z" fill="#c3be68"/>
<path d="M590.6 175.3 592.9 174.6 591.4 174.3 589.0 174.9Z" fill="#f8c73b"/>
<path d="M593.8 175.2 596.2 174.7 594.6 174.1 592.3 174.6Z" fill="#fcd829"/>
<path d="M597.1 175.4 599.4 174.9 597.9 174.3 595.6 174.6Z" fill="#fcd928"/>
<path d="M600.4 175.6 602.7 175.0 601.2 174.7 598.8 174.9Z" fill="#fdd72a"/>
<path d="M603.6 175.5 606.0 175.0 604.5 174.6 602.1 175.0Z" fill="#fbe61e"/>
<path d="M606.9 175.9 609.2 175.7 607.7 174.8 605.4 174.9Z" fill="#fcdc26"/>
<path d="M610.2 176.9 612.5 176.7 610.9 175.5 608.6 175.6Z" fill="#dfc052"/>
<path d="M613.5 177.8 615.8 177.5 614.2 176.3 611.9 176.5Z" fill="#9cc176"/>
<path d="M616.8 178.9 619.0 178.9 617.4 177.3 615.2 177.3Z" fill="#3cbbb7"/>
<path d="M620.1 180.4 622.3 180.2 620.7 178.8 618.5 178.7Z" fill="#4696e0"/>
<path d="M623.3 181.2 625.6 180.6 624.0 179.6 621.7 180.0Z" fill="#475fbd"/>
<path d="M575.7 178.9 578.0 177.9 576.4 177.4 574.1 178.2Z" fill="#336bd6"/>
<path d="M579.0 178.4 581.2 177.2 579.7 177.0 577.4 178.0Z" fill="#3f96de"/>
<path d="M582.2 177.4 584.5 176.2 582.9 176.2 580.6 177.4Z" fill="#41bcbe"/>
<path d="M585.5 176.4 587.8 175.4 586.2 175.3 583.9 176.4Z" fill="#adc173"/>
<path d="M588.7 175.8 591.0 175.0 589.5 174.6 587.2 175.5Z" fill="#f5c63e"/>
<path d="M592.0 175.7 594.3 175.0 592.7 174.3 590.4 175.0Z" fill="#fcdf24"/>
<path d="M595.3 175.7 597.6 175.1 596.0 174.4 593.7 174.9Z" fill="#fbe91c"/>
<path d="M598.6 175.9 600.8 175.3 599.3 174.7 597.0 175.1Z" fill="#fbe71e"/>
<path d="M601.8 176.1 604.1 175.3 602.5 174.7 600.3 175.3Z" fill="#faee18"/>
<path d="M605.1 176.2 607.4 175.7 605.8 174.7 603.5 175.2Z" fill="#faf413"/>
<path d="M608.4 176.9 610.6 176.7 609.1 175.4 606.8 175.5Z" fill="#fecd32"/>
<path d="M611.7 177.9 613.9 177.6 612.3 176.3 610.1 176.5Z" fill="#c4bd64"/>
<path d="M615.0 179.0 617.2 178.7 615.6 177.1 613.3 177.4Z" fill="#69c196"/>
<path d="M618.2 180.4 620.4 180.2 618.8 178.5 616.6 178.5Z" fill="#40add9"/>
<path d="M621.5 181.5 623.7 181.0 622.1 179.8 619.9 180.0Z" fill="#3b7be3"/>
<path d="M573.9 179.5 576.1 178.6 574.5 177.9 572.3 178.7Z" fill="#4660be"/>
<path d="M577.1 179.2 579.4 178.1 577.8 177.7 575.5 178.7Z" fill="#3783e0"/>
<path d="M580.4 178.4 582.6 177.1 581.1 177.0 578.8 178.2Z" fill="#31b0d4"/>
<path d="M583.6 177.4 585.9 176.1 584.3 176.0 582.1 177.3Z" fill="#83c38a"/>
<path d="M586.9 176.5 589.2 175.5 587.6 175.2 585.3 176.2Z" fill="#e6c24c"/>
<path d="M590.2 176.2 592.5 175.4 590.9 174.7 588.6 175.6Z" fill="#fcdc26"/>
<path d="M593.5 176.2 595.7 175.5 594.1 174.7 591.9 175.4Z" fill="#faed19"/>
<path d="M596.7 176.3 599.0 175.7 597.4 174.9 595.1 175.5Z" fill="#faf017"/>
<path d="M600.0 176.6 602.3 175.8 600.7 175.1 598.4 175.7Z" fill="#faee18"/>
<path d="M603.3 176.9 605.5 176.0 603.9 175.0 601.7 175.8Z" fill="#faf314"/>
<path d="M606.6 177.3 608.8 176.7 607.2 175.3 604.9 175.9Z" fill="#fce122"/>
<path d="M609.8 178.3 612.1 177.7 610.5 176.3 608.2 176.5Z" fill="#dfc053"/>
<path d="M613.1 179.3 615.3 178.8 613.7 177.2 611.5 177.6Z" fill="#8dc484"/>
<path d="M616.4 180.6 618.6 180.2 617.0 178.4 614.8 178.6Z" fill="#3fbacc"/>
<path d="M619.7 181.7 621.9 181.3 620.3 179.8 618.0 180.0Z" fill="#4a91e2"/>
<path d="M622.9 182.3 625.2 181.7 623.5 180.7 621.3 181.2Z" fill="#495eba"/>
<path d="M575.3 180.0 577.5 178.9 575.9 178.4 573.7 179.3Z" fill="#2d6fde"/>
<path d="M578.6 179.4 580.8 178.1 579.2 177.9 577.0 179.0Z" fill="#3a9adb"/>
<path d="M581.8 178.5 584.1 177.0 582.5 176.9 580.2 178.3Z" fill="#46bfaf"/>
<path d="M585.1 177.5 587.3 176.2 585.7 175.9 583.5 177.2Z" fill="#c5bd64"/>
<path d="M588.4 176.8 590.6 175.9 589.0 175.3 586.8 176.3Z" fill="#fdcf30"/>
<path d="M591.6 176.7 593.9 175.9 592.3 175.1 590.0 175.9Z" fill="#fbea1b"/>
<path d="M594.9 176.8 597.2 176.1 595.5 175.2 593.3 175.9Z" fill="#faf215"/>
<path d="M598.2 177.0 600.4 176.4 598.8 175.4 596.6 176.0Z" fill="#faf017"/>
<path d="M601.5 177.5 603.7 176.6 602.1 175.5 599.8 176.3Z" fill="#fbe81d"/>
<path d="M604.7 178.0 607.0 177.1 605.3 175.7 603.1 176.5Z" fill="#fcdb27"/>
<path d="M608.0 178.8 610.2 178.0 608.6 176.4 606.4 177.0Z" fill="#e7c34d"/>
<path d="M611.3 179.9 613.5 179.1 611.8 177.4 609.6 177.9Z" fill="#9cc580"/>
<path d="M614.6 181.0 616.8 180.4 615.1 178.4 612.9 178.9Z" fill="#49bfc1"/>
<path d="M617.8 182.0 620.0 181.5 618.4 179.8 616.2 180.2Z" fill="#4f9fe0"/>
<path d="M621.1 182.7 623.3 182.1 621.7 180.9 619.4 181.4Z" fill="#3e69ce"/>
<path d="M573.4 180.6 575.7 179.7 574.1 179.0 571.8 179.8Z" fill="#4560bf"/>
<path d="M576.7 180.3 579.0 179.1 577.4 178.7 575.1 179.7Z" fill="#3684df"/>
<path d="M580.0 179.6 582.2 178.1 580.6 177.9 578.4 179.2Z" fill="#2eb1d3"/>
<path d="M583.3 178.6 585.5 177.1 583.9 176.8 581.6 178.3Z" fill="#89c384"/>
<path d="M586.5 177.7 588.8 176.5 587.2 176.0 584.9 177.2Z" fill="#eac348"/>
<path d="M589.8 177.3 592.0 176.4 590.4 175.6 588.2 176.6Z" fill="#fcdf24"/>
<path d="M593.1 177.3 595.3 176.5 593.7 175.6 591.4 176.4Z" fill="#faee18"/>
<path d="M596.3 177.5 598.6 176.8 597.0 175.8 594.7 176.5Z" fill="#faf016"/>
<path d="M599.6 177.9 601.8 177.2 600.2 176.1 598.0 176.7Z" fill="#fbe420"/>
<path d="M602.9 178.6 605.1 177.8 603.5 176.3 601.3 177.1Z" fill="#fecc33"/>
<path d="M606.2 179.5 608.4 178.6 606.7 176.8 604.5 177.7Z" fill="#dcc058"/>
<path d="M609.5 180.5 611.6 179.6 610.0 177.7 607.8 178.4Z" fill="#96c686"/>
<path d="M612.7 181.5 614.9 180.8 613.3 178.8 611.1 179.5Z" fill="#4bbfc1"/>
<path d="M616.0 182.4 618.2 181.8 616.5 180.0 614.3 180.6Z" fill="#4ba3de"/>
<path d="M619.2 183.0 621.5 182.4 619.8 181.2 617.6 181.7Z" fill="#3477e1"/>
<path d="M574.9 181.1 577.1 180.0 575.5 179.4 573.3 180.3Z" fill="#316dda"/>
<path d="M578.1 180.7 580.4 179.2 578.8 178.9 576.5 180.1Z" fill="#3f99dd"/>
<path d="M581.4 179.8 583.6 178.2 582.0 177.9 579.8 179.4Z" fill="#44beb7"/>
<path d="M584.7 178.8 586.9 177.4 585.3 176.9 583.1 178.4Z" fill="#b9bf6c"/>
<path d="M588.0 178.2 590.2 177.0 588.6 176.3 586.3 177.5Z" fill="#fcc837"/>
<path d="M591.2 177.9 593.5 177.0 591.8 176.1 589.6 177.1Z" fill="#fbe420"/>
<path d="M594.5 178.0 596.7 177.2 595.1 176.2 592.9 177.0Z" fill="#faed19"/>
<path d="M597.8 178.3 600.0 177.6 598.4 176.5 596.1 177.2Z" fill="#fbe51f"/>
<path d="M601.0 179.0 603.3 178.4 601.6 176.9 599.4 177.5Z" fill="#fcc837"/>
<path d="M604.3 180.0 606.5 179.3 604.9 177.4 602.7 178.3Z" fill="#cdbe64"/>
<path d="M607.6 181.1 609.8 180.3 608.1 178.2 605.9 179.1Z" fill="#80c595"/>
<path d="M610.9 182.1 613.1 181.3 611.4 179.3 609.2 180.1Z" fill="#46bdca"/>
<path d="M614.1 182.9 616.3 182.2 614.7 180.4 612.5 181.1Z" fill="#4ba3df"/>
<path d="M617.4 183.4 619.6 182.8 618.0 181.4 615.7 182.1Z" fill="#347ae1"/>
<path d="M620.6 183.8 622.9 183.1 621.3 182.1 619.0 182.7Z" fill="#485fbb"/>
<path d="M573.0 181.7 575.3 180.8 573.7 180.0 571.4 180.9Z" fill="#495eba"/>
<path d="M576.3 181.5 578.5 180.3 576.9 179.8 574.7 180.8Z" fill="#3680e1"/>
<path d="M579.6 181.0 581.8 179.4 580.2 179.0 577.9 180.4Z" fill="#39aad8"/>
<path d="M582.9 180.1 585.1 178.4 583.4 178.0 581.2 179.6Z" fill="#6bc29b"/>
<path d="M586.1 179.3 588.3 177.8 586.7 177.1 584.5 178.6Z" fill="#d5bd5d"/>
<path d="M589.4 178.8 591.6 177.6 590.0 176.8 587.7 177.9Z" fill="#fece31"/>
<path d="M592.6 178.7 594.9 177.7 593.3 176.7 591.0 177.6Z" fill="#fce122"/>
<path d="M595.9 178.9 598.2 178.1 596.5 176.9 594.3 177.7Z" fill="#fce123"/>
<path d="M599.2 179.4 601.4 178.8 599.8 177.3 597.6 178.0Z" fill="#fec936"/>
<path d="M602.5 180.4 604.7 179.8 603.0 178.0 600.8 178.6Z" fill="#cbbe65"/>
<path d="M605.7 181.6 607.9 181.0 606.3 178.9 604.1 179.7Z" fill="#71c49c"/>
<path d="M609.0 182.6 611.2 181.9 609.6 179.9 607.4 180.8Z" fill="#3fb9d3"/>
<path d="M612.3 183.4 614.5 182.7 612.8 180.9 610.6 181.8Z" fill="#499ddf"/>
<path d="M615.5 183.9 617.8 183.2 616.1 181.8 613.9 182.6Z" fill="#337be1"/>
<path d="M618.8 184.2 621.0 183.5 619.4 182.5 617.2 183.1Z" fill="#4361c1"/>
<path d="M574.4 182.2 576.7 181.2 575.1 180.5 572.8 181.4Z" fill="#3c64ca"/>
<path d="M577.7 182.0 580.0 180.6 578.3 180.1 576.1 181.3Z" fill="#3f8fdf"/>
<path d="M581.0 181.4 583.2 179.7 581.6 179.2 579.4 180.8Z" fill="#38b7cf"/>
<path d="M584.3 180.5 586.5 178.9 584.9 178.2 582.6 179.9Z" fill="#89c489"/>
<path d="M587.5 179.9 589.8 178.4 588.1 177.6 585.9 179.0Z" fill="#dcbf56"/>
<path d="M590.8 179.6 593.0 178.4 591.4 177.4 589.2 178.5Z" fill="#fec935"/>
<path d="M594.1 179.6 596.3 178.6 594.7 177.4 592.4 178.4Z" fill="#fdd22e"/>
<path d="M597.4 180.0 599.6 179.2 597.9 177.8 595.7 178.5Z" fill="#f9c73a"/>
<path d="M600.6 180.8 602.8 180.2 601.2 178.4 599.0 179.1Z" fill="#cfbd62"/>
<path d="M603.9 181.9 606.1 181.4 604.5 179.5 602.3 180.0Z" fill="#73c398"/>
<path d="M607.2 183.0 609.4 182.4 607.7 180.6 605.5 181.2Z" fill="#37b6d3"/>
<path d="M610.4 183.8 612.6 183.1 611.0 181.5 608.8 182.3Z" fill="#4196de"/>
<path d="M613.7 184.3 615.9 183.6 614.3 182.3 612.1 183.0Z" fill="#2e77e0"/>
<path d="M616.9 184.6 619.2 183.9 617.6 182.9 615.3 183.5Z" fill="#3f63c6"/>
<path d="M575.9 182.8 578.1 181.7 576.5 181.0 574.2 182.0Z" fill="#3172df"/>
<path d="M579.2 182.5 581.4 181.0 579.7 180.4 577.5 181.8Z" fill="#439ade"/>
<path d="M582.4 181.8 584.6 180.2 583.0 179.5 580.8 181.1Z" fill="#41bcc3"/>
<path d="M585.7 181.2 587.9 179.5 586.3 178.7 584.1 180.3Z" fill="#94c482"/>
<path d="M589.0 180.7 591.2 179.2 589.5 178.2 587.3 179.6Z" fill="#d6be5c"/>
<path d="M592.2 180.5 594.5 179.3 592.8 178.1 590.6 179.3Z" fill="#ecc446"/>
<path d="M595.5 180.8 597.7 179.7 596.1 178.3 593.9 179.3Z" fill="#e9c348"/>
<path d="M598.8 181.4 601.0 180.6 599.3 178.9 597.1 179.6Z" fill="#c9be65"/>
<path d="M602.1 182.3 604.3 181.7 602.6 179.8 600.4 180.4Z" fill="#7ac493"/>
<path d="M605.3 183.3 607.5 182.8 605.9 181.0 603.7 181.5Z" fill="#37b7ce"/>
<path d="M608.6 184.1 610.8 183.5 609.2 182.0 606.9 182.6Z" fill="#3b94dd"/>
<path d="M611.8 184.7 614.1 184.0 612.4 182.8 610.2 183.4Z" fill="#2974df"/>
<path d="M615.1 185.0 617.3 184.3 615.7 183.3 613.5 183.9Z" fill="#3b65cb"/>
<path d="M574.0 183.4 576.3 182.5 574.7 181.7 572.4 182.5Z" fill="#495eba"/>
<path d="M577.3 183.3 579.5 182.1 577.9 181.4 575.7 182.5Z" fill="#357ce1"/>
<path d="M580.6 183.0 582.8 181.5 581.2 180.8 578.9 182.2Z" fill="#40a1dc"/>
<path d="M583.9 182.5 586.1 180.8 584.4 179.9 582.2 181.6Z" fill="#44bdbe"/>
<path d="M587.1 181.9 589.3 180.3 587.7 179.3 585.5 180.9Z" fill="#8ac488"/>
<path d="M590.4 181.6 592.6 180.2 591.0 179.0 588.7 180.4Z" fill="#bbbf6b"/>
<path d="M593.7 181.7 595.9 180.5 594.2 179.0 592.0 180.2Z" fill="#c9bd62"/>
<path d="M596.9 182.1 599.1 181.1 597.5 179.4 595.3 180.4Z" fill="#b2c070"/>
<path d="M600.2 182.8 602.4 182.1 600.8 180.2 598.6 181.0Z" fill="#75c396"/>
<path d="M603.5 183.7 605.7 183.1 604.0 181.3 601.8 181.9Z" fill="#3ab8ca"/>
<path d="M606.7 184.5 608.9 183.9 607.3 182.4 605.1 182.9Z" fill="#3b99dc"/>
<path d="M610.0 185.1 612.2 184.4 610.6 183.2 608.4 183.8Z" fill="#2b78df"/>
<path d="M613.2 185.4 615.5 184.8 613.9 183.7 611.6 184.3Z" fill="#3767d0"/>
<path d="M616.5 185.7 618.8 185.0 617.1 184.0 614.9 184.7Z" fill="#485fbb"/>
<path d="M575.4 184.0 577.7 183.0 576.1 182.2 573.8 183.1Z" fill="#4361c2"/>
<path d="M578.7 183.9 581.0 182.7 579.3 181.9 577.1 183.1Z" fill="#3882e0"/>
<path d="M582.0 183.6 584.2 182.1 582.6 181.3 580.4 182.8Z" fill="#3ea3db"/>
<path d="M585.3 183.2 587.5 181.6 585.8 180.6 583.6 182.2Z" fill="#42bcc2"/>
<path d="M588.6 182.9 590.8 181.3 589.1 180.1 586.9 181.7Z" fill="#6dc39a"/>
<path d="M591.8 182.8 594.0 181.4 592.4 179.9 590.2 181.4Z" fill="#8dc382"/>
<path d="M595.1 183.0 597.3 181.9 595.6 180.2 593.4 181.4Z" fill="#88c387"/>
<path d="M598.4 183.5 600.6 182.6 598.9 180.8 596.7 181.8Z" fill="#5ec2a4"/>
<path d="M601.6 184.2 603.8 183.5 602.2 181.7 600.0 182.5Z" fill="#39b7cc"/>
<path d="M604.9 184.9 607.1 184.3 605.5 182.7 603.2 183.4Z" fill="#3b9bdb"/>
<path d="M608.1 185.5 610.4 184.8 608.7 183.6 606.5 184.2Z" fill="#2e7cdf"/>
<path d="M611.4 185.8 613.6 185.2 612.0 184.1 609.8 184.7Z" fill="#3269d5"/>
<path d="M614.7 186.1 616.9 185.5 615.3 184.4 613.0 185.1Z" fill="#4660be"/>
<path d="M576.9 184.6 579.1 183.6 577.5 182.8 575.2 183.7Z" fill="#3e63c8"/>
<path d="M580.2 184.5 582.4 183.3 580.7 182.4 578.5 183.6Z" fill="#3783e0"/>
<path d="M583.4 184.3 585.6 182.9 584.0 181.9 581.8 183.4Z" fill="#40a1dc"/>
<path d="M586.7 184.1 588.9 182.5 587.3 181.3 585.1 182.9Z" fill="#38b7ce"/>
<path d="M590.0 183.9 592.2 182.5 590.5 181.1 588.3 182.6Z" fill="#45beb5"/>
<path d="M593.3 184.0 595.5 182.7 593.8 181.1 591.6 182.5Z" fill="#49bfac"/>
<path d="M596.5 184.3 598.7 183.3 597.1 181.5 594.9 182.7Z" fill="#43bdba"/>
<path d="M599.8 184.9 602.0 184.0 600.3 182.2 598.1 183.2Z" fill="#33b3d4"/>
<path d="M603.0 185.4 605.3 184.7 603.6 183.1 601.4 183.9Z" fill="#3c9adc"/>
<path d="M606.3 185.9 608.5 185.2 606.9 183.9 604.7 184.6Z" fill="#2f7edf"/>
<path d="M609.6 186.3 611.8 185.6 610.2 184.5 607.9 185.2Z" fill="#2e6bd9"/>
<path d="M612.8 186.6 615.1 185.9 613.5 184.9 611.2 185.5Z" fill="#4461c1"/>
<path d="M578.3 185.2 580.5 184.2 578.9 183.3 576.7 184.3Z" fill="#3b65cb"/>
<path d="M581.6 185.2 583.8 184.0 582.2 183.0 579.9 184.3Z" fill="#3882e0"/>
<path d="M584.9 185.1 587.1 183.7 585.4 182.6 583.2 184.0Z" fill="#429bde"/>
<path d="M588.1 185.0 590.3 183.6 588.7 182.3 586.5 183.8Z" fill="#38abd7"/>
<path d="M591.4 185.0 593.6 183.7 591.9 182.2 589.7 183.6Z" fill="#2db2d2"/>
<path d="M594.7 185.2 596.9 184.1 595.2 182.4 593.0 183.7Z" fill="#2fb2d3"/>
<path d="M597.9 185.5 600.1 184.6 598.5 182.9 596.3 184.0Z" fill="#39a8d8"/>
<path d="M601.2 186.0 603.4 185.2 601.8 183.7 599.6 184.5Z" fill="#3d95dd"/>
<path d="M604.5 186.4 606.7 185.7 605.0 184.4 602.8 185.1Z" fill="#2f7ddf"/>
<path d="M607.7 186.7 610.0 186.0 608.3 184.9 606.1 185.6Z" fill="#2e6bda"/>
<path d="M611.0 187.0 613.2 186.3 611.6 185.3 609.4 186.0Z" fill="#4361c2"/>
<path d="M579.7 185.8 582.0 184.9 580.3 183.9 578.1 184.9Z" fill="#3c64c9"/>
<path d="M583.0 185.9 585.2 184.8 583.6 183.7 581.4 184.9Z" fill="#357de1"/>
<path d="M586.3 185.8 588.5 184.7 586.8 183.5 584.6 184.8Z" fill="#3e8fdf"/>
<path d="M589.5 185.9 591.8 184.7 590.1 183.3 587.9 184.7Z" fill="#3d9adc"/>
<path d="M592.8 186.0 595.0 184.9 593.4 183.4 591.2 184.7Z" fill="#379bda"/>
<path d="M596.1 186.2 598.3 185.3 596.6 183.7 594.4 184.9Z" fill="#3c98dd"/>
<path d="M599.3 186.6 601.6 185.7 599.9 184.3 597.7 185.2Z" fill="#398bde"/>
<path d="M602.6 186.9 604.8 186.1 603.2 184.9 601.0 185.7Z" fill="#2d79df"/>
<path d="M605.9 187.2 608.1 186.5 606.5 185.3 604.2 186.1Z" fill="#316ad7"/>
<path d="M609.1 187.4 611.4 186.7 609.8 185.7 607.5 186.4Z" fill="#4361c1"/>
<path d="M581.1 186.5 583.4 185.6 581.7 184.6 579.5 185.5Z" fill="#4162c4"/>
<path d="M584.4 186.5 586.6 185.6 585.0 184.5 582.8 185.6Z" fill="#2f74e1"/>
<path d="M587.7 186.6 589.9 185.6 588.3 184.4 586.0 185.6Z" fill="#3681e0"/>
<path d="M591.0 186.7 593.2 185.7 591.5 184.4 589.3 185.6Z" fill="#3686df"/>
<path d="M594.2 186.9 596.5 186.0 594.8 184.6 592.6 185.7Z" fill="#3585df"/>
<path d="M597.5 187.1 599.7 186.3 598.1 185.0 595.9 185.9Z" fill="#327fdf"/>
<path d="M600.8 187.4 603.0 186.6 601.4 185.4 599.1 186.2Z" fill="#2972e0"/>
<path d="M604.0 187.7 606.3 186.9 604.6 185.8 602.4 186.6Z" fill="#3767d0"/>
<path d="M607.3 187.9 609.5 187.2 607.9 186.2 605.7 186.9Z" fill="#4560bf"/>
<path d="M582.6 187.1 584.8 186.3 583.2 185.3 580.9 186.2Z" fill="#4660be"/>
<path d="M585.8 187.2 588.1 186.3 586.4 185.3 584.2 186.3Z" fill="#3667d1"/>
<path d="M589.1 187.3 591.3 186.4 589.7 185.3 587.5 186.3Z" fill="#2c71e0"/>
<path d="M592.4 187.5 594.6 186.6 593.0 185.4 590.7 186.4Z" fill="#2a72e0"/>
<path d="M595.6 187.7 597.9 186.9 596.2 185.7 594.0 186.6Z" fill="#2970e0"/>
<path d="M598.9 187.9 601.1 187.1 599.5 186.0 597.3 186.8Z" fill="#306ad7"/>
<path d="M602.2 188.1 604.4 187.4 602.8 186.3 600.5 187.1Z" fill="#3e63c7"/>
<path d="M605.4 188.4 607.7 187.6 606.1 186.6 603.8 187.3Z" fill="#485fbc"/>
<path d="M584.0 187.8 586.2 187.0 584.6 186.0 582.4 186.8Z" fill="#4b5eb8"/>
<path d="M587.2 187.9 589.5 187.1 587.9 186.0 585.6 186.9Z" fill="#4361c1"/>
<path d="M590.5 188.1 592.8 187.2 591.1 186.1 588.9 187.1Z" fill="#3d64c8"/>
<path d="M593.8 188.2 596.0 187.4 594.4 186.3 592.2 187.2Z" fill="#3c64ca"/>
<path d="M597.1 188.4 599.3 187.6 597.7 186.6 595.4 187.4Z" fill="#4062c5"/>
<path d="M600.3 188.6 602.6 187.9 600.9 186.8 598.7 187.6Z" fill="#4560bf"/>
<path d="M588.7 188.6 590.9 187.8 589.3 186.8 587.0 187.6Z" fill="#4c5db7"/>
<path d="M591.9 188.7 594.2 188.0 592.6 186.9 590.3 187.8Z" fill="#495eba"/>
<path d="M595.2 188.9 597.4 188.1 595.8 187.1 593.6 187.9Z" fill="#495eba"/>
<text x="539.5" y="180.0" font-size="10" text-anchor="middle" fill="#222" font-weight="normal">0</text>
<text x="537.0" y="140.5" font-size="10" text-anchor="middle" fill="#222" font-weight="normal">5</text>
<text x="542.3" y="126.3" font-size="9" fill="#222"><tspan font-size="10">×</tspan>10<tspan font-size="6.5" dy="-3.3">-3</tspan></text>
<text x="542.5" y="192.8" font-size="10" text-anchor="middle" fill="#222" font-weight="normal">50</text>
<text x="564.7" y="200.9" font-size="10" text-anchor="middle" fill="#222" font-weight="normal">0</text>
<text x="580.8" y="208.2" font-size="10" text-anchor="middle" fill="#222" font-weight="normal">-50</text>
<text x="603.3" y="208.2" font-size="10" text-anchor="middle" fill="#222" font-weight="normal">-50</text>
<text x="626.6" y="201.2" font-size="10" text-anchor="middle" fill="#222" font-weight="normal">0</text>
<text x="657.5" y="194.4" font-size="10" text-anchor="middle" fill="#222" font-weight="normal">50</text>
<polyline points="549.4,304.8 608.8,289.6 656.4,310.4" fill="none" stroke="#dadada" stroke-width="1.3"/>
<line x1="579.1" y1="328.8" x2="579.1" y2="284.6" stroke="#dadada" stroke-width="1.3"/>
<line x1="608.8" y1="321.2" x2="608.8" y2="277.0" stroke="#dadada" stroke-width="1.3"/>
<line x1="632.6" y1="331.6" x2="632.6" y2="287.4" stroke="#dadada" stroke-width="1.3"/>
<line x1="656.4" y1="342.0" x2="656.4" y2="297.8" stroke="#dadada" stroke-width="1.3"/>
<line x1="611.8" y1="322.2" x2="611.8" y2="278.0" stroke="#dadada" stroke-width="1.1"/>
<line x1="549.4" y1="336.9" x2="549.4" y2="292.2" stroke="#111" stroke-width="1.8"/>
<line x1="549.4" y1="304.8" x2="551.9" y2="304.2" stroke="#111" stroke-width="1"/>
<polygon points="549.4,336.4 597.0,357.2 656.4,342.0 608.8,321.2" fill="#3f4a9b"/>
<path d="M600.6 326.4 602.4 326.0 601.1 325.4 599.3 325.8Z" fill="#5f67ac"/>
<path d="M603.0 326.5 604.8 326.1 603.5 325.5 601.8 326.0Z" fill="#5e65ab"/>
<path d="M594.4 326.5 596.1 326.0 594.9 325.4 593.1 326.0Z" fill="#666daf"/>
<path d="M596.8 326.5 598.6 326.1 597.3 325.5 595.5 326.0Z" fill="#686fb1"/>
<path d="M599.2 326.6 601.0 326.2 599.8 325.6 598.0 326.1Z" fill="#6870b1"/>
<path d="M601.6 326.7 603.4 326.3 602.2 325.7 600.4 326.1Z" fill="#666db0"/>
<path d="M604.1 326.8 605.9 326.5 604.6 325.8 602.8 326.3Z" fill="#676eb0"/>
<path d="M606.5 327.0 608.3 326.6 607.1 326.0 605.3 326.4Z" fill="#656db0"/>
<path d="M608.9 327.2 610.7 326.8 609.5 326.2 607.7 326.6Z" fill="#6269ae"/>
<path d="M590.6 326.7 592.4 326.2 591.1 325.6 589.3 326.2Z" fill="#6970b1"/>
<path d="M593.0 326.7 594.8 326.2 593.6 325.7 591.8 326.2Z" fill="#6d74b4"/>
<path d="M595.4 326.6 597.2 326.3 596.0 325.7 594.2 326.2Z" fill="#7278b6"/>
<path d="M597.8 326.6 599.7 326.3 598.4 325.8 596.6 326.2Z" fill="#747bb8"/>
<path d="M600.2 326.7 602.1 326.4 600.9 325.9 599.1 326.3Z" fill="#737ab8"/>
<path d="M602.7 326.8 604.5 326.6 603.3 326.0 601.5 326.4Z" fill="#7279b7"/>
<path d="M605.1 327.0 607.0 326.8 605.7 326.2 603.9 326.5Z" fill="#7278b7"/>
<path d="M607.6 327.3 609.4 327.0 608.2 326.4 606.4 326.7Z" fill="#6e75b4"/>
<path d="M610.0 327.6 611.8 327.2 610.6 326.5 608.8 326.9Z" fill="#686fb1"/>
<path d="M612.5 327.8 614.2 327.4 613.0 326.7 611.2 327.2Z" fill="#6169ad"/>
<path d="M586.8 326.9 588.6 326.4 587.3 325.9 585.6 326.4Z" fill="#6c73b3"/>
<path d="M589.2 326.9 591.0 326.4 589.8 325.9 588.0 326.4Z" fill="#7178b6"/>
<path d="M591.6 326.8 593.4 326.4 592.2 325.9 590.4 326.4Z" fill="#777db9"/>
<path d="M594.0 326.8 595.9 326.4 594.7 326.0 592.8 326.4Z" fill="#7d83bd"/>
<path d="M596.4 326.7 598.3 326.4 597.1 326.0 595.3 326.4Z" fill="#8389c1"/>
<path d="M598.8 326.6 600.7 326.5 599.6 326.1 597.7 326.4Z" fill="#868cc3"/>
<path d="M601.2 326.7 603.2 326.6 602.0 326.2 600.1 326.5Z" fill="#8389c1"/>
<path d="M603.7 326.9 605.6 326.8 604.4 326.3 602.6 326.6Z" fill="#838ac1"/>
<path d="M606.2 327.2 608.0 327.1 606.8 326.5 605.0 326.8Z" fill="#7e85be"/>
<path d="M608.6 327.6 610.5 327.3 609.3 326.7 607.4 327.0Z" fill="#767dba"/>
<path d="M611.1 327.9 612.9 327.6 611.7 326.9 609.9 327.3Z" fill="#6e75b5"/>
<path d="M613.5 328.2 615.3 327.8 614.1 327.1 612.3 327.5Z" fill="#656db0"/>
<path d="M616.0 328.5 617.8 328.1 616.5 327.3 614.7 327.8Z" fill="#5e65ab"/>
<path d="M585.4 327.1 587.2 326.6 586.0 326.2 584.2 326.7Z" fill="#767cb8"/>
<path d="M587.8 327.0 589.7 326.6 588.5 326.2 586.6 326.6Z" fill="#7c82bc"/>
<path d="M590.2 326.9 592.1 326.6 590.9 326.2 589.1 326.6Z" fill="#8288c0"/>
<path d="M592.6 326.8 594.5 326.5 593.4 326.2 591.5 326.6Z" fill="#898fc4"/>
<path d="M595.0 326.6 597.0 326.5 595.8 326.2 593.9 326.5Z" fill="#9399ca"/>
<path d="M597.4 326.4 599.4 326.5 598.3 326.3 596.4 326.5Z" fill="#9fa4d1"/>
<path d="M599.9 326.2 601.8 326.6 600.7 326.5 598.8 326.5Z" fill="#a2a7d3"/>
<path d="M602.3 326.4 604.3 326.8 603.2 326.6 601.2 326.6Z" fill="#a1a7d2"/>
<path d="M604.7 326.9 606.7 327.1 605.6 326.7 603.7 326.7Z" fill="#9a9fce"/>
<path d="M607.2 327.4 609.1 327.4 608.0 326.8 606.1 327.0Z" fill="#8c92c6"/>
<path d="M609.7 327.9 611.5 327.7 610.4 327.1 608.5 327.3Z" fill="#7f85bf"/>
<path d="M612.2 328.2 614.0 328.0 612.8 327.3 611.0 327.6Z" fill="#737ab8"/>
<path d="M614.6 328.6 616.4 328.2 615.2 327.5 613.4 327.9Z" fill="#686fb2"/>
<path d="M617.1 328.9 618.8 328.5 617.6 327.8 615.8 328.2Z" fill="#6067ad"/>
<path d="M619.5 329.1 621.3 328.6 620.0 328.0 618.2 328.4Z" fill="#5b63aa"/>
<path d="M584.0 327.2 585.9 326.8 584.7 326.4 582.9 326.9Z" fill="#8187be"/>
<path d="M586.4 327.1 588.3 326.8 587.1 326.4 585.3 326.8Z" fill="#898fc3"/>
<path d="M588.8 326.9 590.7 326.7 589.6 326.4 587.7 326.8Z" fill="#8f95c7"/>
<path d="M591.2 326.8 593.2 326.6 592.1 326.4 590.1 326.7Z" fill="#969bcc"/>
<path d="M593.7 326.5 595.6 326.5 594.5 326.5 592.6 326.7Z" fill="#a3a8d3"/>
<path d="M596.2 326.1 598.0 326.4 596.9 326.6 595.0 326.6Z" fill="#a8aed7"/>
<path d="M598.7 325.8 600.5 326.4 599.3 326.7 597.4 326.4Z" fill="#a7add8"/>
<path d="M601.1 325.8 602.9 326.6 601.7 326.8 599.9 326.4Z" fill="#a6add9"/>
<path d="M603.5 326.1 605.3 326.9 604.2 327.0 602.3 326.5Z" fill="#a7add8"/>
<path d="M605.9 326.7 607.8 327.3 606.7 327.1 604.7 326.8Z" fill="#a8aed7"/>
<path d="M608.3 327.5 610.2 327.7 609.1 327.2 607.2 327.2Z" fill="#9aa0cf"/>
<path d="M610.8 328.1 612.6 328.0 611.4 327.4 609.6 327.6Z" fill="#868dc3"/>
<path d="M613.2 328.6 615.1 328.4 613.8 327.7 612.0 328.0Z" fill="#777eba"/>
<path d="M615.7 329.0 617.5 328.6 616.3 327.9 614.5 328.3Z" fill="#6a71b3"/>
<path d="M618.1 329.2 619.9 328.8 618.7 328.2 616.9 328.6Z" fill="#6169ae"/>
<path d="M620.6 329.4 622.4 329.0 621.1 328.3 619.3 328.8Z" fill="#5f67ad"/>
<path d="M623.0 329.4 624.8 329.1 623.6 328.5 621.8 328.9Z" fill="#686fb1"/>
<path d="M625.4 329.5 627.2 329.2 626.0 328.7 624.2 329.1Z" fill="#757bb8"/>
<path d="M627.8 329.6 629.7 329.5 628.4 328.9 626.6 329.2Z" fill="#8086bd"/>
<path d="M582.7 327.4 584.5 327.0 583.3 326.7 581.5 327.1Z" fill="#8c91c5"/>
<path d="M585.0 327.1 587.0 326.9 585.8 326.7 583.9 327.0Z" fill="#989dcc"/>
<path d="M587.4 326.8 589.4 326.8 588.3 326.7 586.4 326.9Z" fill="#9fa4d1"/>
<path d="M589.9 326.6 591.8 326.7 590.7 326.7 588.8 326.8Z" fill="#a5aad5"/>
<path d="M592.4 326.3 594.3 326.5 593.2 326.7 591.2 326.7Z" fill="#a8add8"/>
<path d="M594.9 325.9 596.7 326.3 595.5 326.8 593.7 326.6Z" fill="#a5add9"/>
<path d="M597.4 325.4 599.1 326.1 597.9 326.7 596.1 326.4Z" fill="#a2acdb"/>
<path d="M599.8 325.0 601.6 326.1 600.3 326.7 598.5 326.1Z" fill="#9facdd"/>
<path d="M602.3 325.1 604.0 326.5 602.7 326.8 601.0 326.1Z" fill="#9facdc"/>
<path d="M604.7 325.8 606.4 327.0 605.2 327.1 603.4 326.4Z" fill="#a2acdb"/>
<path d="M607.0 326.7 608.8 327.5 607.7 327.4 605.8 326.9Z" fill="#a6add9"/>
<path d="M609.3 327.7 611.3 328.0 610.2 327.5 608.3 327.4Z" fill="#a6abd5"/>
<path d="M611.8 328.5 613.7 328.4 612.5 327.8 610.7 327.9Z" fill="#8c92c7"/>
<path d="M614.3 329.0 616.1 328.7 614.9 328.1 613.1 328.3Z" fill="#7980bc"/>
<path d="M616.8 329.3 618.6 329.0 617.3 328.3 615.5 328.7Z" fill="#6a71b3"/>
<path d="M619.2 329.5 621.0 329.1 619.8 328.5 618.0 328.9Z" fill="#6269af"/>
<path d="M621.6 329.6 623.4 329.2 622.2 328.7 620.4 329.1Z" fill="#6e75b5"/>
<path d="M624.0 329.5 625.9 329.3 624.7 328.9 622.8 329.2Z" fill="#8187bf"/>
<path d="M626.4 329.3 628.3 329.5 627.2 329.1 625.3 329.3Z" fill="#9095c7"/>
<path d="M628.8 329.5 630.7 329.7 629.6 329.3 627.7 329.4Z" fill="#9ea3ce"/>
<path d="M581.3 327.6 583.2 327.2 582.0 326.9 580.2 327.4Z" fill="#959bca"/>
<path d="M583.7 327.1 585.6 327.0 584.5 326.9 582.6 327.2Z" fill="#a6abd4"/>
<path d="M586.1 326.7 588.0 326.8 587.0 326.9 585.0 327.0Z" fill="#a9aed7"/>
<path d="M588.6 326.4 590.5 326.7 589.4 326.9 587.4 326.8Z" fill="#a7add8"/>
<path d="M591.1 326.2 592.9 326.5 591.8 326.9 589.9 326.7Z" fill="#a5add9"/>
<path d="M593.6 325.8 595.3 326.1 594.1 326.8 592.3 326.6Z" fill="#a2acdb"/>
<path d="M596.1 325.0 597.8 325.6 596.5 326.6 594.8 326.2Z" fill="#9cacdf"/>
<path d="M598.5 324.0 600.2 325.2 598.9 326.4 597.2 325.7Z" fill="#94ace4"/>
<path d="M601.0 323.5 602.6 325.5 601.3 326.4 599.6 325.3Z" fill="#8face7"/>
<path d="M603.4 324.2 605.0 326.2 603.7 326.7 602.0 325.4Z" fill="#94ace4"/>
<path d="M605.8 325.5 607.5 327.1 606.2 327.2 604.5 326.0Z" fill="#9dacde"/>
<path d="M608.1 326.8 609.9 327.8 608.7 327.7 606.9 326.9Z" fill="#a4acda"/>
<path d="M610.4 328.0 612.4 328.3 611.3 327.9 609.3 327.6Z" fill="#a8add8"/>
<path d="M612.9 328.8 614.8 328.8 613.6 328.1 611.8 328.2Z" fill="#8f95c9"/>
<path d="M615.4 329.3 617.2 329.1 616.0 328.4 614.2 328.7Z" fill="#7980bd"/>
<path d="M617.8 329.6 619.7 329.3 618.4 328.7 616.6 329.0Z" fill="#6a71b4"/>
<path d="M620.3 329.7 622.1 329.3 620.9 328.9 619.1 329.2Z" fill="#6f76b7"/>
<path d="M622.6 329.5 624.5 329.3 623.4 329.0 621.5 329.3Z" fill="#8c92c6"/>
<path d="M625.0 329.1 627.0 329.3 625.9 329.3 623.9 329.3Z" fill="#a4a9d3"/>
<path d="M627.5 329.0 629.4 329.6 628.3 329.5 626.4 329.3Z" fill="#aaafd6"/>
<path d="M630.0 329.3 631.8 330.0 630.7 329.8 628.8 329.5Z" fill="#abb0d6"/>
<path d="M580.0 327.8 581.8 327.3 580.7 327.2 578.8 327.7Z" fill="#9ba0cd"/>
<path d="M582.3 327.2 584.3 327.0 583.2 327.1 581.2 327.4Z" fill="#a9aed7"/>
<path d="M584.8 326.6 586.7 326.8 585.6 327.1 583.7 327.1Z" fill="#a7add8"/>
<path d="M587.3 326.2 589.1 326.6 587.9 327.0 586.1 326.8Z" fill="#a4acda"/>
<path d="M589.8 326.0 591.6 326.4 590.3 326.9 588.5 326.6Z" fill="#a1acdb"/>
<path d="M592.2 325.6 594.0 326.0 592.7 326.8 591.0 326.5Z" fill="#9dacde"/>
<path d="M594.7 324.8 596.4 325.2 595.1 326.5 593.4 326.1Z" fill="#95ace3"/>
<path d="M597.2 323.2 598.8 324.2 597.5 326.0 595.9 325.4Z" fill="#87aeed"/>
<path d="M599.6 321.6 601.3 323.8 599.9 325.6 598.3 324.4Z" fill="#82aeec"/>
<path d="M602.0 321.5 603.7 324.6 602.4 325.7 600.7 323.8Z" fill="#82aeec"/>
<path d="M604.5 323.1 606.1 326.0 604.8 326.4 603.1 324.3Z" fill="#86aeed"/>
<path d="M606.9 325.3 608.5 327.2 607.3 327.3 605.6 325.7Z" fill="#96ace2"/>
<path d="M609.2 327.0 611.0 328.1 609.8 327.9 608.0 327.0Z" fill="#a1acdb"/>
<path d="M611.5 328.3 613.4 328.7 612.4 328.2 610.4 327.9Z" fill="#a7add8"/>
<path d="M614.0 329.2 615.9 329.1 614.7 328.5 612.9 328.5Z" fill="#8e95ca"/>
<path d="M616.5 329.6 618.3 329.4 617.1 328.8 615.3 329.0Z" fill="#787fbd"/>
<path d="M618.9 329.8 620.7 329.5 619.5 329.0 617.7 329.4Z" fill="#6e75b8"/>
<path d="M621.3 329.6 623.2 329.3 622.0 329.2 620.1 329.5Z" fill="#8c93c8"/>
<path d="M623.7 329.0 625.6 329.2 624.5 329.4 622.6 329.4Z" fill="#a9aed7"/>
<path d="M626.3 328.6 628.0 329.2 626.8 329.6 625.0 329.2Z" fill="#a7add8"/>
<path d="M628.7 328.7 630.5 329.6 629.2 329.8 627.4 329.2Z" fill="#a8add8"/>
<path d="M631.1 329.2 632.9 330.2 631.7 330.1 629.9 329.5Z" fill="#a9aed7"/>
<path d="M578.6 328.2 580.5 327.6 579.3 327.4 577.5 328.1Z" fill="#9ca1ce"/>
<path d="M581.0 327.4 582.9 327.1 581.8 327.3 579.9 327.7Z" fill="#a8aed7"/>
<path d="M583.5 326.6 585.3 326.7 584.2 327.2 582.3 327.2Z" fill="#a5add9"/>
<path d="M586.0 326.0 587.8 326.4 586.6 327.1 584.7 326.8Z" fill="#a0acdc"/>
<path d="M588.5 325.7 590.2 326.2 589.0 326.9 587.2 326.5Z" fill="#9cacdf"/>
<path d="M590.9 325.4 592.6 325.9 591.4 326.7 589.6 326.3Z" fill="#97ace2"/>
<path d="M593.3 324.7 595.1 325.0 593.8 326.3 592.1 326.0Z" fill="#8eade8"/>
<path d="M595.8 322.9 597.5 323.3 596.2 325.6 594.5 325.2Z" fill="#83aeed"/>
<path d="M598.3 320.2 599.9 321.8 598.6 324.6 597.0 323.7Z" fill="#7cafea"/>
<path d="M600.7 318.3 602.4 321.8 601.0 324.1 599.4 322.0Z" fill="#77b0e9"/>
<path d="M603.1 319.2 604.7 323.6 603.4 324.8 601.8 321.6Z" fill="#7ab0ea"/>
<path d="M605.6 322.4 607.1 325.9 605.9 326.1 604.3 323.2Z" fill="#82aeec"/>
<path d="M608.0 325.4 609.6 327.5 608.3 327.4 606.7 325.5Z" fill="#91ace6"/>
<path d="M610.3 327.4 612.1 328.4 610.9 328.2 609.1 327.2Z" fill="#9facdc"/>
<path d="M612.6 328.8 614.5 329.0 613.4 328.5 611.5 328.2Z" fill="#a6add9"/>
<path d="M615.1 329.6 617.0 329.5 615.8 328.9 613.9 328.9Z" fill="#8d94ca"/>
<path d="M617.6 329.9 619.4 329.6 618.2 329.1 616.4 329.4Z" fill="#737bbc"/>
<path d="M620.0 329.9 621.8 329.5 620.7 329.3 618.8 329.6Z" fill="#8c92c9"/>
<path d="M622.3 329.2 624.3 329.1 623.2 329.4 621.2 329.5Z" fill="#a7add8"/>
<path d="M624.9 328.4 626.7 328.8 625.5 329.5 623.7 329.2Z" fill="#a3acda"/>
<path d="M627.4 328.0 629.1 329.0 627.8 329.5 626.1 328.9Z" fill="#a1acdb"/>
<path d="M629.8 328.3 631.5 329.5 630.3 329.8 628.5 328.9Z" fill="#a2acdb"/>
<path d="M632.2 329.1 634.0 330.4 632.7 330.4 631.0 329.4Z" fill="#a7add8"/>
<path d="M577.3 328.6 579.1 327.9 577.9 327.8 576.1 328.4Z" fill="#9ca1ce"/>
<path d="M579.6 327.8 581.6 327.3 580.5 327.5 578.5 328.0Z" fill="#a8aed7"/>
<path d="M582.1 326.8 584.0 326.7 582.9 327.4 581.0 327.5Z" fill="#a3acda"/>
<path d="M584.7 326.0 586.4 326.3 585.2 327.0 583.4 326.9Z" fill="#9cacde"/>
<path d="M587.1 325.4 588.9 325.9 587.6 326.7 585.8 326.4Z" fill="#95ace3"/>
<path d="M589.6 325.0 591.3 325.6 590.0 326.5 588.3 326.0Z" fill="#8face7"/>
<path d="M592.0 324.6 593.7 324.9 592.4 326.2 590.7 325.7Z" fill="#88aeec"/>
<path d="M594.5 323.1 596.1 323.1 594.8 325.4 593.2 325.1Z" fill="#82aeec"/>
<path d="M596.9 319.9 598.5 320.3 597.2 323.8 595.7 323.5Z" fill="#78b0e9"/>
<path d="M599.4 316.0 601.0 318.4 599.7 322.2 598.1 320.7Z" fill="#6cb4e4"/>
<path d="M601.8 314.7 603.4 319.7 602.1 322.1 600.4 318.5Z" fill="#68b6e3"/>
<path d="M604.2 317.6 605.7 322.9 604.5 323.7 602.9 319.3Z" fill="#73b2e7"/>
<path d="M606.6 322.3 608.2 326.0 607.0 325.9 605.4 322.5Z" fill="#7fafeb"/>
<path d="M609.0 325.9 610.7 327.8 609.4 327.6 607.8 325.5Z" fill="#8eade9"/>
<path d="M611.3 327.9 613.2 328.8 612.0 328.5 610.2 327.5Z" fill="#9eacdd"/>
<path d="M613.7 329.2 615.6 329.4 614.5 328.9 612.6 328.6Z" fill="#a5add9"/>
<path d="M616.2 329.9 618.0 329.7 616.9 329.2 615.0 329.3Z" fill="#868ec8"/>
<path d="M618.6 330.1 620.5 329.7 619.3 329.4 617.4 329.7Z" fill="#8189c5"/>
<path d="M621.0 329.7 622.9 329.2 621.8 329.4 619.9 329.7Z" fill="#a6add9"/>
<path d="M623.5 328.6 625.3 328.6 624.1 329.4 622.3 329.4Z" fill="#a0acdc"/>
<path d="M626.0 327.7 627.8 328.3 626.5 329.2 624.7 328.7Z" fill="#99ace0"/>
<path d="M628.5 327.4 630.2 328.6 628.9 329.2 627.2 328.3Z" fill="#97ace2"/>
<path d="M630.9 327.9 632.6 329.5 631.3 329.7 629.6 328.5Z" fill="#9bacdf"/>
<path d="M633.3 329.2 635.0 330.7 633.8 330.6 632.1 329.3Z" fill="#a4acda"/>
<path d="M576.0 329.1 577.8 328.3 576.6 328.1 574.8 328.9Z" fill="#979dcb"/>
<path d="M578.3 328.4 580.2 327.6 579.1 327.8 577.2 328.5Z" fill="#a8aed7"/>
<path d="M580.7 327.2 582.6 326.9 581.5 327.5 579.6 327.8Z" fill="#a2acdb"/>
<path d="M583.3 326.1 585.1 326.2 583.8 327.1 582.1 327.1Z" fill="#98ace1"/>
<path d="M585.8 325.2 587.5 325.6 586.2 326.6 584.5 326.3Z" fill="#8eade8"/>
<path d="M588.2 324.7 589.9 325.3 588.6 326.3 586.9 325.7Z" fill="#87aeed"/>
<path d="M590.7 324.3 592.4 324.8 591.1 326.0 589.3 325.4Z" fill="#85aeed"/>
<path d="M593.1 323.4 594.8 323.3 593.5 325.3 591.8 325.0Z" fill="#80afec"/>
<path d="M595.5 320.7 597.1 320.0 595.9 323.5 594.3 323.7Z" fill="#77b1e8"/>
<path d="M598.0 315.8 599.5 316.0 598.3 320.8 596.8 320.5Z" fill="#64b7e1"/>
<path d="M600.4 311.4 602.1 314.9 600.7 318.9 599.1 316.5Z" fill="#52bfda"/>
<path d="M602.9 312.0 604.4 318.1 603.2 319.8 601.6 314.8Z" fill="#56bddc"/>
<path d="M605.3 317.2 606.8 322.9 605.6 323.0 604.1 317.6Z" fill="#6db4e5"/>
<path d="M607.7 323.0 609.3 326.4 608.0 326.0 606.5 322.3Z" fill="#7eafeb"/>
<path d="M610.1 326.5 611.8 328.2 610.5 327.9 608.9 326.0Z" fill="#8eade9"/>
<path d="M612.3 328.5 614.2 329.2 613.1 328.8 611.3 327.9Z" fill="#9eacdd"/>
<path d="M614.8 329.7 616.7 329.8 615.6 329.2 613.7 329.0Z" fill="#a2abd9"/>
<path d="M617.3 330.2 619.1 329.9 618.0 329.5 616.1 329.7Z" fill="#7982c4"/>
<path d="M619.7 330.1 621.6 329.5 620.4 329.5 618.5 329.9Z" fill="#a3abd8"/>
<path d="M622.0 329.2 624.0 328.7 622.9 329.4 621.0 329.6Z" fill="#9facdd"/>
<path d="M624.7 327.8 626.4 327.9 625.2 329.0 623.4 328.9Z" fill="#94ace4"/>
<path d="M627.1 326.8 628.8 327.6 627.5 328.6 625.8 328.0Z" fill="#8aadec"/>
<path d="M629.6 326.7 631.3 328.3 630.0 328.9 628.3 327.6Z" fill="#89adec"/>
<path d="M632.0 327.8 633.7 329.6 632.4 329.7 630.7 328.1Z" fill="#94ace4"/>
<path d="M634.4 329.5 636.1 331.0 634.9 330.8 633.2 329.3Z" fill="#a2acdb"/>
<path d="M574.7 329.7 576.4 328.8 575.2 328.6 573.4 329.4Z" fill="#8e94c6"/>
<path d="M577.0 329.0 578.9 328.1 577.7 328.1 575.8 328.9Z" fill="#a9aed7"/>
<path d="M579.4 327.9 581.3 327.2 580.2 327.7 578.3 328.3Z" fill="#a2acdb"/>
<path d="M581.9 326.4 583.7 326.2 582.5 327.2 580.7 327.4Z" fill="#97ace2"/>
<path d="M584.4 325.3 586.1 325.4 584.9 326.5 583.1 326.4Z" fill="#89adec"/>
<path d="M586.9 324.4 588.6 324.9 587.3 326.0 585.6 325.6Z" fill="#84aeed"/>
<path d="M589.3 323.9 591.0 324.5 589.7 325.6 588.0 325.0Z" fill="#82aeec"/>
<path d="M591.7 323.4 593.4 323.5 592.1 325.1 590.4 324.7Z" fill="#7fafeb"/>
<path d="M594.2 321.7 595.8 320.7 594.5 323.7 592.9 323.9Z" fill="#78b0e9"/>
<path d="M596.6 317.4 598.1 315.8 597.0 320.5 595.4 321.2Z" fill="#64b7e2"/>
<path d="M599.1 311.3 600.6 311.5 599.4 316.6 597.9 316.3Z" fill="#53c1d0"/>
<path d="M601.5 308.0 603.2 312.4 601.8 315.3 600.2 311.7Z" fill="#58c4c2"/>
<path d="M604.0 311.3 605.4 317.8 604.2 318.2 602.8 312.0Z" fill="#52c0d4"/>
<path d="M606.4 318.4 607.9 323.5 606.7 322.9 605.2 317.3Z" fill="#6cb4e4"/>
<path d="M608.8 324.2 610.4 327.1 609.1 326.4 607.6 323.0Z" fill="#7fafeb"/>
<path d="M611.1 327.4 612.9 328.7 611.7 328.3 609.9 326.6Z" fill="#8face7"/>
<path d="M613.4 329.2 615.3 329.6 614.3 329.1 612.3 328.5Z" fill="#9eacdd"/>
<path d="M615.9 330.2 617.8 330.0 616.6 329.5 614.7 329.5Z" fill="#939dd3"/>
<path d="M618.4 330.5 620.2 329.9 619.0 329.7 617.2 330.0Z" fill="#8691cd"/>
<path d="M620.8 330.0 622.6 329.1 621.5 329.5 619.6 330.0Z" fill="#a0acdc"/>
<path d="M623.1 328.5 625.0 327.9 623.9 329.0 622.1 329.3Z" fill="#93ace5"/>
<path d="M625.8 326.9 627.5 327.0 626.2 328.3 624.5 328.2Z" fill="#85aeed"/>
<path d="M628.2 326.0 629.9 327.0 628.6 328.0 626.9 327.1Z" fill="#83aeec"/>
<path d="M630.7 326.3 632.3 328.2 631.0 328.5 629.4 326.9Z" fill="#84aeed"/>
<path d="M633.1 327.9 634.7 329.9 633.5 329.8 631.8 327.9Z" fill="#8fade8"/>
<path d="M635.5 330.0 637.2 331.6 636.0 331.2 634.2 329.6Z" fill="#a1acdb"/>
<path d="M573.3 330.2 575.1 329.4 573.8 329.0 572.1 329.8Z" fill="#8288bf"/>
<path d="M575.7 329.7 577.5 328.7 576.3 328.6 574.5 329.5Z" fill="#a8add5"/>
<path d="M578.1 328.7 579.9 327.7 578.8 328.0 576.9 328.9Z" fill="#a4acda"/>
<path d="M580.4 327.2 582.3 326.5 581.3 327.4 579.4 327.9Z" fill="#98ace1"/>
<path d="M583.0 325.6 584.8 325.4 583.6 326.6 581.8 326.8Z" fill="#88aeed"/>
<path d="M585.5 324.4 587.2 324.6 586.0 325.8 584.2 325.6Z" fill="#82aeec"/>
<path d="M588.0 323.6 589.7 324.1 588.4 325.3 586.6 324.8Z" fill="#7fafeb"/>
<path d="M590.4 323.1 592.1 323.6 590.8 324.9 589.1 324.2Z" fill="#7cafea"/>
<path d="M592.8 322.3 594.5 321.8 593.2 324.0 591.5 323.8Z" fill="#78b0e9"/>
<path d="M595.2 319.7 596.8 317.4 595.6 321.3 594.1 322.2Z" fill="#6bb5e4"/>
<path d="M597.7 314.0 599.2 311.3 598.1 316.4 596.5 318.0Z" fill="#52c0d4"/>
<path d="M600.2 307.9 601.7 308.1 600.5 312.0 598.9 311.8Z" fill="#63c7b2"/>
<path d="M602.6 307.2 604.1 311.9 602.9 312.6 601.4 308.1Z" fill="#65c7b1"/>
<path d="M605.0 313.1 606.5 319.0 605.3 317.8 603.9 311.3Z" fill="#52c0d4"/>
<path d="M607.4 320.6 609.0 324.8 607.8 323.6 606.3 318.4Z" fill="#71b3e6"/>
<path d="M609.8 325.7 611.5 327.8 610.2 327.1 608.7 324.3Z" fill="#82aeec"/>
<path d="M612.0 328.4 614.0 329.3 612.8 328.8 611.0 327.4Z" fill="#92ace5"/>
<path d="M614.6 329.9 616.4 330.0 615.3 329.4 613.4 329.0Z" fill="#9eacdd"/>
<path d="M617.0 330.6 618.9 330.2 617.7 329.8 615.8 329.9Z" fill="#7b89cb"/>
<path d="M619.5 330.6 621.3 329.7 620.1 329.7 618.3 330.3Z" fill="#a0acdc"/>
<path d="M621.9 329.7 623.7 328.5 622.6 329.1 620.7 329.9Z" fill="#96ace2"/>
<path d="M624.2 327.8 626.1 327.0 625.0 328.3 623.2 328.8Z" fill="#86aeed"/>
<path d="M626.8 326.0 628.6 326.2 627.3 327.4 625.6 327.3Z" fill="#80afec"/>
<path d="M629.3 325.4 631.0 326.7 629.7 327.3 628.0 326.2Z" fill="#7eafeb"/>
<path d="M631.7 326.4 633.4 328.4 632.1 328.4 630.5 326.5Z" fill="#82aeec"/>
<path d="M634.1 328.5 635.8 330.5 634.6 330.0 632.9 328.0Z" fill="#8dade9"/>
<path d="M636.5 330.8 638.3 332.2 637.1 331.6 635.3 330.1Z" fill="#a3acda"/>
<path d="M572.0 330.8 573.7 329.9 572.5 329.5 570.7 330.3Z" fill="#747bb7"/>
<path d="M574.4 330.3 576.2 329.3 574.9 329.1 573.1 330.0Z" fill="#979dcb"/>
<path d="M576.8 329.5 578.6 328.3 577.4 328.5 575.6 329.5Z" fill="#a7add8"/>
<path d="M579.2 328.2 581.0 327.1 579.9 327.6 578.0 328.6Z" fill="#9bacdf"/>
<path d="M581.5 326.4 583.4 325.7 582.3 326.8 580.5 327.4Z" fill="#89aeec"/>
<path d="M584.1 324.7 585.9 324.5 584.6 325.8 582.9 326.0Z" fill="#81aeec"/>
<path d="M586.6 323.5 588.3 323.8 587.0 325.0 585.3 324.8Z" fill="#7dafeb"/>
<path d="M589.0 322.8 590.7 323.3 589.4 324.5 587.7 323.9Z" fill="#7ab0e9"/>
<path d="M591.4 322.4 593.2 322.5 591.9 323.9 590.2 323.5Z" fill="#77b0e9"/>
<path d="M593.7 321.4 595.5 319.7 594.3 322.3 592.7 322.8Z" fill="#70b3e6"/>
<path d="M596.3 318.1 597.9 314.0 596.8 318.0 595.2 320.2Z" fill="#58bcdd"/>
<path d="M598.7 312.0 600.3 308.0 599.3 311.8 597.6 314.5Z" fill="#5bc6ba"/>
<path d="M601.2 307.2 602.9 307.4 601.6 308.6 599.9 308.3Z" fill="#7dc79d"/>
<path d="M603.6 309.4 605.2 313.7 604.0 311.9 602.5 307.2Z" fill="#63c7b2"/>
<path d="M606.1 316.5 607.6 321.2 606.4 319.0 605.0 313.1Z" fill="#55bddc"/>
<path d="M608.4 323.2 610.1 326.2 608.9 324.8 607.4 320.6Z" fill="#76b1e8"/>
<path d="M610.7 327.2 612.6 328.6 611.4 327.9 609.7 325.7Z" fill="#84aeed"/>
<path d="M613.2 329.4 615.0 329.8 614.0 329.2 612.1 328.3Z" fill="#95ace3"/>
<path d="M615.7 330.5 617.5 330.4 616.4 329.8 614.5 329.6Z" fill="#9dabdd"/>
<path d="M618.2 331.0 619.9 330.3 618.7 330.0 616.9 330.3Z" fill="#7485cb"/>
<path d="M620.6 330.6 622.3 329.3 621.2 329.5 619.3 330.4Z" fill="#9bacdf"/>
<path d="M623.0 329.3 624.7 327.7 623.6 328.4 621.8 329.6Z" fill="#89aeec"/>
<path d="M625.3 327.3 627.2 326.1 626.1 327.2 624.2 328.0Z" fill="#80afec"/>
<path d="M627.9 325.5 629.7 325.7 628.4 326.5 626.6 326.4Z" fill="#7bafea"/>
<path d="M630.4 325.4 632.1 326.8 630.8 326.9 629.1 325.6Z" fill="#7bafea"/>
<path d="M632.8 326.9 634.5 328.9 633.2 328.5 631.6 326.5Z" fill="#81aeec"/>
<path d="M635.2 329.4 636.9 331.2 635.7 330.5 634.0 328.5Z" fill="#90ace6"/>
<path d="M637.4 332.0 639.3 332.9 638.3 332.2 636.4 330.8Z" fill="#a5add9"/>
<path d="M573.1 331.0 574.8 330.0 573.5 329.7 571.8 330.6Z" fill="#858bc1"/>
<path d="M575.5 330.3 577.2 329.1 576.0 329.1 574.2 330.1Z" fill="#a9aed7"/>
<path d="M577.9 329.2 579.6 327.9 578.5 328.2 576.7 329.4Z" fill="#a0acdc"/>
<path d="M580.3 327.7 582.1 326.4 581.0 327.1 579.1 328.2Z" fill="#8eade8"/>
<path d="M582.6 325.7 584.5 324.8 583.4 326.0 581.6 326.7Z" fill="#82aeec"/>
<path d="M585.2 323.9 586.9 323.7 585.7 324.9 584.0 325.1Z" fill="#7cafea"/>
<path d="M587.7 322.8 589.4 323.0 588.1 324.1 586.4 323.9Z" fill="#78b0e9"/>
<path d="M590.1 322.3 591.8 322.6 590.5 323.7 588.8 323.1Z" fill="#75b1e8"/>
<path d="M592.4 321.9 594.2 321.3 593.0 322.9 591.3 322.8Z" fill="#72b2e7"/>
<path d="M595.0 320.8 596.6 317.6 595.6 319.9 593.8 321.7Z" fill="#65b7e2"/>
<path d="M597.5 316.7 598.9 311.5 597.8 314.0 596.3 318.1Z" fill="#53c1d0"/>
<path d="M599.9 311.5 601.4 307.2 600.2 307.9 598.7 312.0Z" fill="#6ec7a9"/>
<path d="M602.3 309.9 603.9 309.9 602.7 307.2 601.0 307.3Z" fill="#7bc79f"/>
<path d="M604.7 314.2 606.2 317.1 605.3 313.3 603.6 309.4Z" fill="#57c4c3"/>
<path d="M607.0 320.9 608.7 323.7 607.6 321.2 606.0 316.5Z" fill="#64b7e1"/>
<path d="M609.4 325.9 611.2 327.5 610.0 326.2 608.4 323.2Z" fill="#7cafea"/>
<path d="M611.8 328.6 613.7 329.4 612.6 328.6 610.8 327.1Z" fill="#87aeed"/>
<path d="M614.3 330.2 616.1 330.4 615.0 329.5 613.2 329.1Z" fill="#97ace2"/>
<path d="M616.8 331.1 618.6 330.7 617.4 330.1 615.6 330.2Z" fill="#7f91d2"/>
<path d="M619.3 331.3 621.0 330.3 619.8 330.1 618.0 330.7Z" fill="#8597d5"/>
<path d="M621.7 330.5 623.4 328.9 622.2 329.2 620.4 330.4Z" fill="#92ace5"/>
<path d="M624.1 328.9 625.8 327.0 624.6 327.6 622.9 329.2Z" fill="#83aeed"/>
<path d="M626.5 327.0 628.3 325.6 627.1 326.1 625.3 327.4Z" fill="#7cafea"/>
<path d="M628.8 325.6 630.7 325.7 629.7 325.8 627.7 325.8Z" fill="#6ca9e7"/>
<path d="M631.4 326.0 633.1 327.4 632.0 326.9 630.2 325.5Z" fill="#7bb0ea"/>
<path d="M633.8 328.0 635.5 329.9 634.4 329.0 632.7 327.0Z" fill="#82aeec"/>
<path d="M636.1 330.8 638.0 332.2 636.9 331.2 635.1 329.4Z" fill="#97ace2"/>
<path d="M638.6 333.2 640.4 333.7 639.4 332.6 637.5 331.8Z" fill="#a8aed7"/>
<path d="M571.7 331.6 573.5 330.6 572.2 330.2 570.4 331.1Z" fill="#737ab7"/>
<path d="M574.2 331.1 575.9 329.9 574.6 329.8 572.9 330.8Z" fill="#969ccc"/>
<path d="M576.6 330.2 578.3 328.8 577.1 329.0 575.3 330.1Z" fill="#a5add9"/>
<path d="M579.0 328.8 580.7 327.3 579.5 327.8 577.8 329.1Z" fill="#96ace2"/>
<path d="M581.4 327.1 583.1 325.6 582.0 326.3 580.2 327.6Z" fill="#84aeed"/>
<path d="M583.7 325.1 585.6 324.0 584.5 325.0 582.6 325.9Z" fill="#7dafeb"/>
<path d="M586.2 323.3 588.0 323.0 586.9 324.0 585.0 324.3Z" fill="#77b0e9"/>
<path d="M588.7 322.4 590.5 322.5 589.2 323.4 587.5 323.1Z" fill="#74b2e7"/>
<path d="M591.1 322.1 592.9 322.1 591.7 322.9 589.9 322.6Z" fill="#72b2e6"/>
<path d="M593.6 322.1 595.3 320.3 594.3 321.5 592.4 322.3Z" fill="#6cb4e4"/>
<path d="M596.1 320.3 597.6 316.1 596.4 317.5 594.9 320.8Z" fill="#5bbbde"/>
<path d="M598.5 316.5 600.0 311.0 598.9 311.4 597.4 316.7Z" fill="#56c3c6"/>
<path d="M601.0 313.3 602.6 309.5 601.3 307.2 599.7 311.4Z" fill="#6cc7ab"/>
<path d="M603.4 314.1 604.9 314.2 603.7 309.4 602.2 309.4Z" fill="#60c7b5"/>
<path d="M605.8 319.0 607.3 320.9 606.2 316.5 604.7 313.6Z" fill="#51bfda"/>
<path d="M608.2 324.3 609.8 326.0 608.9 323.5 607.1 320.4Z" fill="#72b2e7"/>
<path d="M610.6 327.7 612.3 328.7 611.3 327.4 609.5 325.5Z" fill="#80afec"/>
<path d="M613.0 329.7 614.8 330.1 613.7 329.1 611.8 328.3Z" fill="#8cadea"/>
<path d="M615.4 330.9 617.2 330.9 616.0 330.0 614.2 329.8Z" fill="#99ace0"/>
<path d="M617.9 331.6 619.7 331.0 618.4 330.4 616.6 330.8Z" fill="#6077c8"/>
<path d="M620.4 331.5 622.1 330.2 620.8 330.0 619.1 331.0Z" fill="#99ace0"/>
<path d="M622.8 330.5 624.5 328.5 623.2 328.8 621.5 330.4Z" fill="#89aeec"/>
<path d="M625.3 328.8 626.9 326.6 625.7 326.9 624.0 328.8Z" fill="#80afeb"/>
<path d="M627.7 327.1 629.4 325.6 628.1 325.5 626.4 326.9Z" fill="#79b0e9"/>
<path d="M630.1 326.5 631.8 326.3 630.6 325.4 628.8 325.6Z" fill="#4996e1"/>
<path d="M632.4 327.6 634.2 328.5 633.1 327.1 631.3 326.0Z" fill="#7cafea"/>
<path d="M634.8 329.9 636.6 331.1 635.6 329.7 633.8 328.1Z" fill="#85aeed"/>
<path d="M637.3 332.4 639.1 333.2 638.0 331.9 636.2 330.6Z" fill="#9eacdd"/>
<path d="M639.8 334.3 641.5 334.5 640.4 333.3 638.6 332.8Z" fill="#aaafd6"/>
<path d="M570.4 332.1 572.1 331.3 570.8 330.7 569.1 331.5Z" fill="#656caf"/>
<path d="M572.8 331.8 574.5 330.7 573.3 330.4 571.5 331.3Z" fill="#8086bf"/>
<path d="M575.2 331.1 577.0 329.8 575.7 329.7 574.0 330.9Z" fill="#a6abd6"/>
<path d="M577.7 330.0 579.4 328.4 578.1 328.7 576.4 330.1Z" fill="#9eacdd"/>
<path d="M580.1 328.4 581.8 326.7 580.6 327.2 578.9 328.7Z" fill="#89aeec"/>
<path d="M582.5 326.5 584.2 324.8 583.0 325.5 581.3 327.0Z" fill="#80afeb"/>
<path d="M584.9 324.7 586.7 323.4 585.6 324.0 583.7 325.2Z" fill="#78b0e9"/>
<path d="M587.2 323.2 589.1 322.5 588.1 323.1 586.1 323.6Z" fill="#73b2e7"/>
<path d="M589.6 322.5 591.6 322.2 590.5 322.7 588.5 322.7Z" fill="#70b3e6"/>
<path d="M592.2 322.6 594.0 321.7 592.9 322.1 591.0 322.3Z" fill="#6db4e5"/>
<path d="M594.7 322.2 596.4 319.8 595.1 320.2 593.4 322.0Z" fill="#66b6e2"/>
<path d="M597.2 320.5 598.7 316.0 597.5 316.1 596.0 320.2Z" fill="#55bddc"/>
<path d="M599.6 317.8 601.2 312.7 599.9 310.9 598.4 316.5Z" fill="#56c3c6"/>
<path d="M602.1 316.6 603.7 313.9 602.4 309.3 600.7 312.9Z" fill="#5ac6bd"/>
<path d="M604.5 318.8 606.0 318.9 604.8 313.6 603.3 313.5Z" fill="#53c1d0"/>
<path d="M606.9 323.0 608.4 324.2 607.3 320.3 605.7 318.4Z" fill="#65b6e2"/>
<path d="M609.3 326.7 610.9 327.7 609.8 325.5 608.1 323.7Z" fill="#7ab0e9"/>
<path d="M611.7 329.1 613.4 329.6 612.3 328.3 610.5 327.3Z" fill="#84aeed"/>
<path d="M614.1 330.6 615.9 330.8 614.7 329.7 612.9 329.3Z" fill="#91ace6"/>
<path d="M616.6 331.6 618.3 331.4 617.1 330.5 615.3 330.6Z" fill="#8599d8"/>
<path d="M619.0 332.1 620.7 331.2 619.5 330.7 617.7 331.3Z" fill="#6078ca"/>
<path d="M621.5 331.8 623.2 330.1 621.9 330.0 620.2 331.3Z" fill="#95ace3"/>
<path d="M623.9 330.6 625.6 328.3 624.3 328.4 622.6 330.4Z" fill="#85aeed"/>
<path d="M626.4 328.9 628.0 326.6 626.7 326.5 625.1 328.6Z" fill="#7dafeb"/>
<path d="M628.8 327.7 630.5 326.2 629.1 325.4 627.5 326.9Z" fill="#78b0e9"/>
<path d="M631.2 327.8 632.9 327.5 631.6 326.0 629.9 326.1Z" fill="#79b0e9"/>
<path d="M633.6 329.3 635.3 329.9 634.1 328.0 632.4 327.2Z" fill="#80afeb"/>
<path d="M636.0 331.7 637.7 332.4 636.6 330.6 634.8 329.5Z" fill="#8eade8"/>
<path d="M638.4 333.8 640.2 334.2 639.0 332.7 637.2 332.0Z" fill="#a5add9"/>
<path d="M640.9 335.2 642.6 335.2 641.4 334.1 639.6 333.9Z" fill="#acb0d5"/>
<path d="M571.5 332.4 573.2 331.5 571.9 331.0 570.2 331.9Z" fill="#6f76b5"/>
<path d="M573.9 331.9 575.6 330.8 574.3 330.5 572.6 331.6Z" fill="#9399ca"/>
<path d="M576.3 331.1 578.0 329.6 576.8 329.6 575.1 331.0Z" fill="#a5add9"/>
<path d="M578.8 329.8 580.4 328.0 579.2 328.3 577.5 329.9Z" fill="#95ace3"/>
<path d="M581.2 328.0 582.9 326.1 581.6 326.6 579.9 328.3Z" fill="#83aeed"/>
<path d="M583.6 326.1 585.3 324.3 584.1 324.7 582.4 326.4Z" fill="#7bafea"/>
<path d="M586.0 324.4 587.7 323.0 586.5 323.2 584.8 324.6Z" fill="#75b1e8"/>
<path d="M588.4 323.4 590.2 322.4 589.0 322.4 587.2 323.2Z" fill="#70b3e6"/>
<path d="M590.9 323.0 592.6 322.3 591.4 322.0 589.6 322.5Z" fill="#52a6e0"/>
<path d="M593.4 323.0 595.1 321.8 593.8 321.5 592.1 322.4Z" fill="#5cade1"/>
<path d="M595.8 322.7 597.5 320.0 596.2 319.7 594.5 322.0Z" fill="#64b7e1"/>
<path d="M598.3 321.4 599.9 317.3 598.6 315.9 597.0 320.4Z" fill="#56bddc"/>
<path d="M600.7 320.1 602.4 316.2 601.0 312.7 599.4 317.7Z" fill="#53c1d1"/>
<path d="M603.1 320.4 604.7 318.7 603.4 313.5 601.8 316.1Z" fill="#52c0d4"/>
<path d="M605.6 322.8 607.1 323.0 605.9 318.4 604.4 318.3Z" fill="#5eb9df"/>
<path d="M608.0 326.0 609.5 326.7 608.3 323.7 606.8 322.5Z" fill="#74b2e7"/>
<path d="M610.4 328.5 612.0 329.0 610.9 327.2 609.2 326.2Z" fill="#7fafeb"/>
<path d="M612.8 330.2 614.5 330.5 613.3 329.2 611.6 328.6Z" fill="#87aeed"/>
<path d="M615.2 331.4 616.9 331.4 615.7 330.4 614.0 330.2Z" fill="#95ace3"/>
<path d="M617.7 332.3 619.4 331.8 618.1 331.0 616.4 331.3Z" fill="#657ecc"/>
<path d="M620.1 332.6 621.8 331.4 620.5 330.9 618.8 331.8Z" fill="#8095d6"/>
<path d="M622.6 332.1 624.2 330.1 622.9 329.9 621.3 331.6Z" fill="#91ace6"/>
<path d="M625.0 330.9 626.6 328.4 625.4 328.2 623.7 330.4Z" fill="#83aeed"/>
<path d="M627.4 329.5 629.1 327.2 627.8 326.5 626.1 328.7Z" fill="#7dafea"/>
<path d="M629.9 328.8 631.6 327.5 630.2 326.0 628.5 327.4Z" fill="#7ab0e9"/>
<path d="M632.3 329.4 633.9 329.2 632.7 327.1 631.0 327.3Z" fill="#7dafeb"/>
<path d="M634.7 331.2 636.3 331.6 635.1 329.5 633.5 328.8Z" fill="#84aeed"/>
<path d="M637.1 333.3 638.8 333.7 637.6 331.9 635.9 331.2Z" fill="#9bacdf"/>
<path d="M639.5 335.0 641.3 335.1 640.0 333.7 638.3 333.4Z" fill="#a9aed7"/>
<path d="M642.0 336.1 643.7 335.8 642.5 334.8 640.7 334.9Z" fill="#9297c7"/>
<path d="M570.1 332.9 571.8 332.1 570.6 331.5 568.8 332.3Z" fill="#6168ad"/>
<path d="M572.5 332.7 574.3 331.6 573.0 331.2 571.2 332.2Z" fill="#7f85be"/>
<path d="M575.0 332.1 576.7 330.7 575.4 330.5 573.7 331.7Z" fill="#a9aed7"/>
<path d="M577.4 331.1 579.1 329.4 577.8 329.4 576.1 331.0Z" fill="#9facdc"/>
<path d="M579.9 329.6 581.5 327.6 580.3 327.8 578.6 329.7Z" fill="#8aadeb"/>
<path d="M582.3 327.8 583.9 325.7 582.7 326.0 581.0 327.9Z" fill="#80afec"/>
<path d="M584.7 326.0 586.4 324.0 585.1 324.2 583.5 326.0Z" fill="#78b0e9"/>
<path d="M587.1 324.5 588.8 323.0 587.6 322.8 585.9 324.3Z" fill="#72b2e7"/>
<path d="M589.6 323.7 591.3 322.7 590.0 322.2 588.3 323.1Z" fill="#4da2df"/>
<path d="M592.0 323.6 593.7 322.7 592.4 322.0 590.7 322.7Z" fill="#399adb"/>
<path d="M594.5 323.8 596.2 322.3 594.8 321.6 593.1 322.7Z" fill="#6bb5e4"/>
<path d="M596.9 323.6 598.6 321.0 597.2 319.9 595.6 322.5Z" fill="#65b6e2"/>
<path d="M599.4 323.0 601.0 319.7 599.7 317.2 598.1 321.3Z" fill="#5cbade"/>
<path d="M601.8 322.7 603.4 320.2 602.1 316.0 600.4 319.8Z" fill="#57bcdc"/>
<path d="M604.2 323.7 605.8 322.8 604.5 318.2 602.9 319.9Z" fill="#5fb9e0"/>
<path d="M606.6 325.8 608.2 325.9 607.0 322.4 605.4 322.3Z" fill="#70b3e6"/>
<path d="M609.0 328.0 610.7 328.4 609.4 326.1 607.8 325.5Z" fill="#7bb0ea"/>
<path d="M611.4 329.8 613.1 330.1 611.9 328.5 610.2 328.0Z" fill="#83aeed"/>
<path d="M613.8 331.1 615.6 331.3 614.4 330.1 612.6 329.8Z" fill="#8cadea"/>
<path d="M616.3 332.2 618.0 332.1 616.8 331.1 615.0 331.1Z" fill="#899fdd"/>
<path d="M618.7 332.9 620.5 332.3 619.2 331.5 617.5 332.0Z" fill="#6078c9"/>
<path d="M621.2 333.1 622.9 331.7 621.6 331.2 619.9 332.3Z" fill="#9aacdf"/>
<path d="M623.7 332.5 625.3 330.4 624.0 330.0 622.3 331.9Z" fill="#8eade8"/>
<path d="M626.1 331.5 627.7 329.0 626.4 328.3 624.8 330.7Z" fill="#83aeed"/>
<path d="M628.5 330.5 630.2 328.4 628.9 327.1 627.2 329.3Z" fill="#7eafeb"/>
<path d="M631.0 330.3 632.6 329.2 631.3 327.2 629.6 328.4Z" fill="#7dafeb"/>
<path d="M633.4 331.3 635.0 331.1 633.7 328.8 632.1 329.0Z" fill="#82aeec"/>
<path d="M635.8 333.0 637.4 333.2 636.2 331.1 634.6 330.7Z" fill="#90ace7"/>
<path d="M638.2 334.8 639.9 334.9 638.6 333.2 637.0 332.8Z" fill="#a4acda"/>
<path d="M640.6 336.1 642.3 335.9 641.1 334.7 639.4 334.6Z" fill="#a6abd3"/>
<path d="M643.1 336.8 644.8 336.4 643.5 335.5 641.8 335.7Z" fill="#767cb7"/>
<path d="M571.2 333.2 572.9 332.3 571.6 331.8 569.9 332.7Z" fill="#6c73b3"/>
<path d="M573.6 332.9 575.3 331.7 574.1 331.4 572.3 332.4Z" fill="#9197c9"/>
<path d="M576.1 332.2 577.8 330.7 576.5 330.5 574.8 331.9Z" fill="#a6add9"/>
<path d="M578.5 331.1 580.2 329.1 578.9 329.2 577.2 330.9Z" fill="#99ace1"/>
<path d="M581.0 329.5 582.6 327.3 581.3 327.5 579.7 329.5Z" fill="#85aeed"/>
<path d="M583.4 327.7 585.0 325.5 583.8 325.5 582.1 327.7Z" fill="#7dafeb"/>
<path d="M585.8 326.1 587.5 324.1 586.2 323.9 584.5 325.8Z" fill="#76b1e8"/>
<path d="M588.2 324.9 589.9 323.4 588.6 322.8 586.9 324.3Z" fill="#71b3e6"/>
<path d="M590.7 324.5 592.4 323.3 591.1 322.4 589.4 323.5Z" fill="#5eabe2"/>
<path d="M593.1 324.5 594.8 323.5 593.5 322.4 591.8 323.3Z" fill="#54a7e0"/>
<path d="M595.6 324.8 597.2 323.3 595.9 322.1 594.2 323.5Z" fill="#6cb4e5"/>
<path d="M598.0 324.8 599.7 322.6 598.3 320.8 596.7 323.4Z" fill="#69b5e3"/>
<path d="M600.4 324.7 602.1 322.4 600.7 319.5 599.1 322.7Z" fill="#65b7e2"/>
<path d="M602.9 325.0 604.5 323.6 603.2 319.8 601.5 322.3Z" fill="#66b6e2"/>
<path d="M605.3 326.2 606.9 325.7 605.6 322.2 604.0 323.2Z" fill="#6fb3e5"/>
<path d="M607.7 327.8 609.3 327.9 608.1 325.4 606.5 325.3Z" fill="#78b0e9"/>
<path d="M610.1 329.4 611.8 329.6 610.5 327.9 608.9 327.5Z" fill="#7fafeb"/>
<path d="M612.5 330.8 614.2 331.0 613.0 329.6 611.3 329.3Z" fill="#85aeed"/>
<path d="M614.9 332.0 616.7 332.1 615.5 330.9 613.7 330.7Z" fill="#91ace6"/>
<path d="M617.4 333.0 619.1 332.7 617.9 331.7 616.1 331.9Z" fill="#748bd3"/>
<path d="M619.8 333.5 621.6 332.8 620.3 332.0 618.5 332.6Z" fill="#6076c8"/>
<path d="M622.3 333.6 624.0 332.1 622.7 331.5 621.0 332.8Z" fill="#9aace0"/>
<path d="M624.7 333.1 626.4 331.0 625.1 330.3 623.4 332.3Z" fill="#8eade8"/>
<path d="M627.2 332.3 628.8 330.1 627.5 328.9 625.9 331.3Z" fill="#84aeed"/>
<path d="M629.6 331.8 631.3 330.0 629.9 328.2 628.3 330.2Z" fill="#81aeec"/>
<path d="M632.0 332.1 633.7 331.1 632.4 328.8 630.7 329.9Z" fill="#82aeec"/>
<path d="M634.5 333.2 636.1 332.9 634.8 330.6 633.2 330.9Z" fill="#8aadec"/>
<path d="M636.9 334.7 638.5 334.7 637.3 332.7 635.6 332.6Z" fill="#9eacdd"/>
<path d="M639.3 336.0 641.0 335.9 639.7 334.4 638.0 334.3Z" fill="#a9aed6"/>
<path d="M641.7 336.9 643.4 336.6 642.2 335.5 640.4 335.7Z" fill="#888ec2"/>
<path d="M572.3 333.6 574.0 332.5 572.7 332.1 571.0 333.0Z" fill="#797fbb"/>
<path d="M574.7 333.1 576.4 331.8 575.1 331.5 573.4 332.7Z" fill="#a4a9d4"/>
<path d="M577.2 332.3 578.8 330.6 577.6 330.5 575.9 332.0Z" fill="#a2acdb"/>
<path d="M579.6 331.1 581.3 329.0 580.0 329.0 578.3 330.9Z" fill="#92ace5"/>
<path d="M582.0 329.6 583.7 327.3 582.4 327.2 580.8 329.4Z" fill="#83aeec"/>
<path d="M584.5 327.9 586.1 325.6 584.8 325.4 583.2 327.6Z" fill="#7bafea"/>
<path d="M586.9 326.5 588.6 324.5 587.3 323.9 585.6 325.9Z" fill="#75b1e8"/>
<path d="M589.3 325.7 591.0 324.1 589.7 323.2 588.0 324.7Z" fill="#72b2e6"/>
<path d="M591.8 325.5 593.5 324.2 592.1 323.0 590.4 324.2Z" fill="#6fb2e6"/>
<path d="M594.2 325.7 595.9 324.5 594.6 323.2 592.9 324.2Z" fill="#70b3e6"/>
<path d="M596.6 326.0 598.3 324.5 597.0 323.0 595.3 324.5Z" fill="#70b3e6"/>
<path d="M599.1 326.1 600.8 324.4 599.4 322.4 597.7 324.5Z" fill="#6eb3e5"/>
<path d="M601.5 326.4 603.2 324.8 601.8 322.1 600.2 324.4Z" fill="#6eb3e5"/>
<path d="M603.9 327.0 605.6 326.0 604.3 323.1 602.6 324.6Z" fill="#72b2e6"/>
<path d="M606.4 328.0 608.0 327.7 606.7 325.2 605.1 325.7Z" fill="#77b1e8"/>
<path d="M608.8 329.3 610.4 329.3 609.2 327.4 607.5 327.4Z" fill="#7dafeb"/>
<path d="M611.2 330.6 612.9 330.7 611.6 329.2 609.9 329.0Z" fill="#83aeec"/>
<path d="M613.6 331.8 615.3 331.9 614.1 330.6 612.4 330.4Z" fill="#89adec"/>
<path d="M616.0 332.9 617.8 332.8 616.5 331.7 614.8 331.6Z" fill="#8aa2df"/>
<path d="M618.5 333.7 620.2 333.3 618.9 332.4 617.2 332.6Z" fill="#6279ca"/>
<path d="M620.9 334.2 622.6 333.3 621.3 332.5 619.6 333.2Z" fill="#6075c6"/>
<path d="M623.4 334.2 625.1 332.7 623.7 331.9 622.1 333.4Z" fill="#9bacdf"/>
<path d="M625.8 333.8 627.5 331.9 626.2 330.9 624.5 332.9Z" fill="#91ace6"/>
<path d="M628.3 333.4 629.9 331.5 628.6 329.9 626.9 332.1Z" fill="#87aeed"/>
<path d="M630.7 333.3 632.4 331.8 631.0 329.7 629.3 331.5Z" fill="#86aeed"/>
<path d="M633.1 333.8 634.8 333.0 633.5 330.7 631.8 331.7Z" fill="#8aadeb"/>
<path d="M635.5 334.9 637.2 334.6 635.9 332.5 634.2 332.8Z" fill="#9bacdf"/>
<path d="M638.0 336.1 639.6 335.9 638.4 334.2 636.7 334.3Z" fill="#a7add8"/>
<path d="M640.4 337.0 642.1 336.7 640.8 335.5 639.1 335.6Z" fill="#a1a6d0"/>
<path d="M570.9 334.1 572.7 333.2 571.4 332.7 569.6 333.5Z" fill="#656caf"/>
<path d="M573.4 333.8 575.1 332.8 573.8 332.3 572.1 333.3Z" fill="#858cc2"/>
<path d="M575.8 333.3 577.5 331.9 576.2 331.6 574.5 332.9Z" fill="#a8aed7"/>
<path d="M578.3 332.5 579.9 330.7 578.6 330.5 577.0 332.1Z" fill="#9eacdd"/>
<path d="M580.7 331.2 582.3 329.1 581.1 328.9 579.4 331.0Z" fill="#8badea"/>
<path d="M583.1 329.8 584.8 327.4 583.5 327.1 581.8 329.4Z" fill="#81aeec"/>
<path d="M585.6 328.4 587.2 326.1 585.9 325.5 584.3 327.8Z" fill="#7ab0ea"/>
<path d="M588.0 327.3 589.7 325.3 588.3 324.3 586.7 326.3Z" fill="#76b1e8"/>
<path d="M590.4 326.7 592.1 325.2 590.8 323.9 589.1 325.4Z" fill="#73b2e7"/>
<path d="M592.9 326.7 594.5 325.4 593.2 323.9 591.5 325.2Z" fill="#73b2e7"/>
<path d="M595.3 326.9 597.0 325.7 595.6 324.2 593.9 325.3Z" fill="#73b2e7"/>
<path d="M597.7 327.2 599.4 325.9 598.1 324.2 596.4 325.6Z" fill="#73b2e7"/>
<path d="M600.2 327.5 601.8 326.1 600.5 324.1 598.8 325.8Z" fill="#73b2e7"/>
<path d="M602.6 327.8 604.3 326.7 602.9 324.4 601.2 326.0Z" fill="#74b1e7"/>
<path d="M605.0 328.5 606.7 327.8 605.4 325.6 603.7 326.5Z" fill="#77b0e9"/>
<path d="M607.4 329.4 609.1 329.1 607.8 327.2 606.1 327.6Z" fill="#7bafea"/>
<path d="M609.8 330.4 611.5 330.4 610.3 328.8 608.6 328.9Z" fill="#80afec"/>
<path d="M612.2 331.6 614.0 331.6 612.7 330.3 611.0 330.2Z" fill="#85aeed"/>
<path d="M614.7 332.6 616.4 332.7 615.2 331.5 613.4 331.4Z" fill="#8cabe7"/>
<path d="M617.1 333.6 618.8 333.5 617.6 332.4 615.8 332.5Z" fill="#8097d9"/>
<path d="M619.6 334.3 621.3 333.9 620.0 333.0 618.3 333.3Z" fill="#6075c6"/>
<path d="M622.0 334.8 623.7 333.9 622.4 333.0 620.7 333.9Z" fill="#5f73c4"/>
<path d="M624.5 334.9 626.2 333.5 624.8 332.5 623.1 334.0Z" fill="#9dacde"/>
<path d="M626.9 334.7 628.6 333.0 627.2 331.7 625.6 333.6Z" fill="#96ace2"/>
<path d="M629.3 334.5 631.0 333.0 629.7 331.2 628.0 333.1Z" fill="#91ace6"/>
<path d="M631.8 334.7 633.4 333.6 632.1 331.5 630.4 332.9Z" fill="#92ace5"/>
<path d="M634.2 335.4 635.9 334.7 634.5 332.6 632.9 333.4Z" fill="#9bacdf"/>
<path d="M636.6 336.3 638.3 335.9 637.0 334.1 635.3 334.5Z" fill="#a5add9"/>
<path d="M639.0 337.2 640.7 336.9 639.4 335.4 637.7 335.7Z" fill="#abafd6"/>
<path d="M641.5 337.9 643.2 337.5 641.9 336.4 640.2 336.7Z" fill="#7f85bd"/>
<path d="M572.0 334.5 573.7 333.5 572.4 333.0 570.7 333.9Z" fill="#6d74b4"/>
<path d="M574.4 334.1 576.2 333.0 574.9 332.5 573.1 333.6Z" fill="#9197c9"/>
<path d="M576.9 333.6 578.6 332.1 577.3 331.7 575.6 333.1Z" fill="#a6add9"/>
<path d="M579.3 332.7 581.0 330.8 579.7 330.5 578.0 332.3Z" fill="#9bacdf"/>
<path d="M581.8 331.5 583.4 329.3 582.1 329.0 580.5 331.1Z" fill="#88aeec"/>
<path d="M584.2 330.2 585.9 327.9 584.6 327.3 582.9 329.6Z" fill="#80afec"/>
<path d="M586.6 329.1 588.3 326.9 587.0 325.9 585.3 328.2Z" fill="#7bafea"/>
<path d="M589.1 328.3 590.8 326.4 589.4 325.1 587.7 327.1Z" fill="#77b0e9"/>
<path d="M591.5 327.9 593.2 326.4 591.8 324.9 590.2 326.4Z" fill="#76b1e8"/>
<path d="M593.9 328.0 595.6 326.7 594.3 325.1 592.6 326.4Z" fill="#76b1e8"/>
<path d="M596.4 328.2 598.1 326.9 596.7 325.4 595.0 326.6Z" fill="#76b1e8"/>
<path d="M598.8 328.4 600.5 327.2 599.1 325.5 597.5 326.9Z" fill="#76b1e8"/>
<path d="M601.2 328.7 602.9 327.6 601.6 325.8 599.9 327.1Z" fill="#77b0e8"/>
<path d="M603.7 329.1 605.3 328.2 604.0 326.4 602.3 327.5Z" fill="#78b0e9"/>
<path d="M606.1 329.7 607.8 329.2 606.5 327.4 604.8 328.1Z" fill="#7bafea"/>
<path d="M608.5 330.5 610.2 330.3 608.9 328.7 607.2 329.0Z" fill="#7fafeb"/>
<path d="M610.9 331.4 612.6 331.4 611.4 330.0 609.6 330.0Z" fill="#72a4ea"/>
<path d="M613.3 332.4 615.1 332.5 613.8 331.2 612.1 331.2Z" fill="#81aaec"/>
<path d="M615.7 333.4 617.5 333.4 616.3 332.3 614.5 332.3Z" fill="#89a4e2"/>
<path d="M618.2 334.3 619.9 334.1 618.7 333.1 616.9 333.2Z" fill="#7a8fd4"/>
<path d="M620.6 335.0 622.4 334.5 621.1 333.6 619.4 334.0Z" fill="#5f73c3"/>
<path d="M623.1 335.4 624.8 334.6 623.5 333.6 621.8 334.5Z" fill="#5f71c1"/>
<path d="M625.5 335.6 627.2 334.4 625.9 333.2 624.2 334.6Z" fill="#a0acdc"/>
<path d="M628.0 335.6 629.7 334.2 628.3 332.8 626.6 334.4Z" fill="#9cacde"/>
<path d="M630.4 335.7 632.1 334.5 630.8 332.7 629.1 334.2Z" fill="#9bacdf"/>
<path d="M632.8 336.1 634.5 335.2 633.2 333.2 631.5 334.4Z" fill="#9eacdd"/>
<path d="M635.3 336.7 636.9 336.1 635.6 334.3 634.0 335.0Z" fill="#a5add9"/>
<path d="M637.7 337.4 639.4 337.0 638.1 335.5 636.4 335.9Z" fill="#aaafd6"/>
<path d="M640.1 338.1 641.8 337.7 640.5 336.5 638.8 336.8Z" fill="#8a90c3"/>
<path d="M570.7 335.0 572.4 334.1 571.1 333.5 569.4 334.3Z" fill="#5d65ab"/>
<path d="M573.1 334.8 574.8 333.8 573.5 333.3 571.8 334.2Z" fill="#757cb9"/>
<path d="M575.5 334.4 577.2 333.2 575.9 332.7 574.2 333.9Z" fill="#9ba1cf"/>
<path d="M578.0 333.9 579.7 332.3 578.4 331.9 576.7 333.4Z" fill="#a4acda"/>
<path d="M580.4 333.0 582.1 331.1 580.8 330.7 579.1 332.5Z" fill="#98ace1"/>
<path d="M582.9 331.9 584.5 329.8 583.2 329.2 581.6 331.4Z" fill="#87aeed"/>
<path d="M585.3 330.8 587.0 328.6 585.6 327.8 584.0 330.1Z" fill="#81aeec"/>
<path d="M587.7 329.9 589.4 327.9 588.1 326.7 586.4 328.9Z" fill="#7cafea"/>
<path d="M590.2 329.4 591.8 327.6 590.5 326.1 588.8 328.0Z" fill="#7ab0e9"/>
<path d="M592.6 329.2 594.3 327.7 592.9 326.1 591.2 327.6Z" fill="#79b0e9"/>
<path d="M595.0 329.3 596.7 327.9 595.4 326.3 593.7 327.6Z" fill="#79b0e9"/>
<path d="M597.5 329.4 599.1 328.2 597.8 326.6 596.1 327.9Z" fill="#79b0e9"/>
<path d="M599.9 329.6 601.6 328.4 600.2 326.9 598.5 328.1Z" fill="#79b0e9"/>
<path d="M602.3 329.8 604.0 328.8 602.7 327.2 601.0 328.4Z" fill="#7ab0ea"/>
<path d="M604.7 330.1 606.4 329.4 605.1 327.9 603.4 328.7Z" fill="#7cafea"/>
<path d="M607.2 330.7 608.9 330.3 607.5 328.8 605.8 329.3Z" fill="#7eafeb"/>
<path d="M609.6 331.4 611.3 331.2 610.0 329.9 608.3 330.1Z" fill="#6ea2e9"/>
<path d="M612.0 332.2 613.7 332.3 612.5 331.0 610.7 331.0Z" fill="#79a7eb"/>
<path d="M614.4 333.1 616.1 333.2 614.9 332.1 613.2 332.0Z" fill="#8aadea"/>
<path d="M616.8 334.0 618.6 334.1 617.4 333.1 615.6 333.0Z" fill="#8ea5e0"/>
<path d="M619.2 334.9 621.0 334.7 619.8 333.8 618.0 333.9Z" fill="#7c8fd2"/>
<path d="M621.7 335.5 623.5 335.2 622.2 334.2 620.4 334.6Z" fill="#5f70c1"/>
<path d="M624.2 336.0 625.9 335.3 624.6 334.3 622.9 335.1Z" fill="#6070bf"/>
<path d="M626.6 336.3 628.3 335.3 627.0 334.1 625.3 335.3Z" fill="#96a1d5"/>
<path d="M629.1 336.5 630.8 335.4 629.4 334.0 627.7 335.3Z" fill="#a2acdb"/>
<path d="M631.5 336.8 633.2 335.8 631.8 334.1 630.2 335.4Z" fill="#a3acda"/>
<path d="M633.9 337.2 635.6 336.5 634.3 334.8 632.6 335.7Z" fill="#a6add9"/>
<path d="M636.3 337.8 638.0 337.2 636.7 335.7 635.0 336.3Z" fill="#aaafd6"/>
<path d="M638.8 338.3 640.5 337.9 639.2 336.6 637.5 337.1Z" fill="#8d92c5"/>
<path d="M571.7 335.3 573.5 334.5 572.2 333.9 570.4 334.7Z" fill="#6269ae"/>
<path d="M574.2 335.1 575.9 334.1 574.6 333.6 572.9 334.5Z" fill="#7c82bd"/>
<path d="M576.6 334.8 578.3 333.5 577.0 333.0 575.3 334.2Z" fill="#a1a7d4"/>
<path d="M579.1 334.2 580.8 332.6 579.4 332.1 577.8 333.7Z" fill="#a2acdb"/>
<path d="M581.5 333.4 583.2 331.5 581.9 330.9 580.2 332.8Z" fill="#97ace2"/>
<path d="M583.9 332.5 585.6 330.4 584.3 329.6 582.6 331.8Z" fill="#87aeed"/>
<path d="M586.4 331.6 588.0 329.5 586.7 328.5 585.1 330.6Z" fill="#82aeec"/>
<path d="M588.8 330.9 590.5 329.0 589.1 327.7 587.5 329.7Z" fill="#7eafeb"/>
<path d="M591.2 330.5 592.9 328.9 591.6 327.3 589.9 329.1Z" fill="#7cafea"/>
<path d="M593.7 330.4 595.4 329.0 594.0 327.4 592.3 328.9Z" fill="#7cafea"/>
<path d="M596.1 330.5 597.8 329.1 596.4 327.6 594.8 328.9Z" fill="#7cafea"/>
<path d="M598.5 330.5 600.2 329.3 598.9 327.8 597.2 329.1Z" fill="#7cafea"/>
<path d="M601.0 330.6 602.7 329.5 601.3 328.1 599.6 329.3Z" fill="#7cafea"/>
<path d="M603.4 330.7 605.1 329.9 603.8 328.5 602.1 329.5Z" fill="#7aaeea"/>
<path d="M605.8 331.0 607.5 330.4 606.2 329.1 604.5 329.8Z" fill="#70a6e9"/>
<path d="M608.2 331.5 609.9 331.2 608.6 329.9 606.9 330.3Z" fill="#619be7"/>
<path d="M610.6 332.1 612.4 332.0 611.1 330.8 609.4 331.0Z" fill="#6ca0e9"/>
<path d="M613.0 332.8 614.8 333.0 613.6 331.9 611.8 331.8Z" fill="#86aeed"/>
<path d="M615.4 333.7 617.2 333.9 616.0 332.9 614.2 332.8Z" fill="#8eade8"/>
<path d="M617.8 334.6 619.7 334.7 618.5 333.7 616.7 333.7Z" fill="#98ace1"/>
<path d="M620.3 335.4 622.1 335.3 620.9 334.4 619.1 334.5Z" fill="#8595d3"/>
<path d="M622.8 336.1 624.5 335.8 623.3 334.8 621.5 335.2Z" fill="#6272c0"/>
<path d="M625.2 336.6 627.0 336.1 625.7 335.0 623.9 335.7Z" fill="#6774bf"/>
<path d="M627.7 337.0 629.4 336.2 628.1 335.0 626.4 336.0Z" fill="#8790cc"/>
<path d="M630.1 337.4 631.8 336.5 630.5 335.1 628.8 336.2Z" fill="#a7add8"/>
<path d="M632.6 337.7 634.3 337.0 632.9 335.5 631.2 336.4Z" fill="#a8aed7"/>
<path d="M635.0 338.2 636.7 337.6 635.4 336.1 633.7 336.9Z" fill="#aaaed6"/>
<path d="M637.4 338.7 639.1 338.1 637.8 336.9 636.1 337.4Z" fill="#8c92c5"/>
<path d="M639.8 339.1 641.6 338.6 640.3 337.5 638.5 338.0Z" fill="#6f76b4"/>
<path d="M570.4 335.8 572.1 335.0 570.8 334.4 569.1 335.1Z" fill="#565ea7"/>
<path d="M572.8 335.7 574.6 334.8 573.3 334.2 571.5 335.1Z" fill="#666db1"/>
<path d="M575.3 335.5 577.0 334.4 575.7 333.9 574.0 334.9Z" fill="#8087c0"/>
<path d="M577.7 335.1 579.4 333.8 578.1 333.3 576.4 334.5Z" fill="#a4aad6"/>
<path d="M580.1 334.6 581.8 333.0 580.5 332.4 578.8 334.0Z" fill="#a1acdb"/>
<path d="M582.6 333.8 584.3 332.1 582.9 331.3 581.3 333.2Z" fill="#96ace2"/>
<path d="M585.0 333.1 586.7 331.2 585.4 330.2 583.7 332.3Z" fill="#89aeec"/>
<path d="M587.5 332.4 589.1 330.5 587.8 329.3 586.1 331.4Z" fill="#83aeed"/>
<path d="M589.9 331.9 591.6 330.2 590.2 328.8 588.6 330.7Z" fill="#81afec"/>
<path d="M592.3 331.7 594.0 330.1 592.7 328.6 591.0 330.3Z" fill="#7fafeb"/>
<path d="M594.8 331.6 596.4 330.2 595.1 328.7 593.4 330.1Z" fill="#7fafeb"/>
<path d="M597.2 331.5 598.9 330.2 597.5 328.8 595.8 330.2Z" fill="#7eafeb"/>
<path d="M599.6 331.5 601.3 330.3 600.0 329.0 598.3 330.2Z" fill="#7daeeb"/>
<path d="M602.0 331.5 603.7 330.5 602.4 329.2 600.7 330.3Z" fill="#67a0e7"/>
<path d="M604.5 331.5 606.2 330.8 604.8 329.5 603.1 330.4Z" fill="#5b99e6"/>
<path d="M606.9 331.7 608.6 331.2 607.3 330.1 605.6 330.7Z" fill="#4d8fe4"/>
<path d="M609.3 332.0 611.0 331.9 609.8 330.8 608.0 331.1Z" fill="#5b96e6"/>
<path d="M611.6 332.5 613.4 332.7 612.2 331.7 610.4 331.7Z" fill="#83aeed"/>
<path d="M614.0 333.2 615.9 333.6 614.7 332.7 612.9 332.5Z" fill="#87aeed"/>
<path d="M616.4 334.0 618.3 334.4 617.2 333.6 615.3 333.4Z" fill="#8face7"/>
<path d="M618.9 335.0 620.7 335.2 619.6 334.4 617.7 334.2Z" fill="#99ace1"/>
<path d="M621.4 335.9 623.2 335.9 622.0 335.0 620.2 335.1Z" fill="#909ed7"/>
<path d="M623.9 336.7 625.6 336.4 624.3 335.4 622.6 335.8Z" fill="#6f7dc4"/>
<path d="M626.3 337.3 628.0 336.8 626.7 335.7 625.0 336.3Z" fill="#6873bd"/>
<path d="M628.8 337.7 630.5 337.1 629.2 335.9 627.5 336.7Z" fill="#8089c5"/>
<path d="M631.2 338.2 632.9 337.5 631.6 336.2 629.9 337.0Z" fill="#9399cc"/>
<path d="M633.6 338.6 635.3 337.9 634.0 336.6 632.3 337.4Z" fill="#959bcb"/>
<path d="M636.1 339.0 637.8 338.4 636.5 337.2 634.8 337.8Z" fill="#868cc2"/>
<path d="M638.5 339.4 640.2 338.8 638.9 337.8 637.2 338.3Z" fill="#6f76b5"/>
<path d="M571.5 336.2 573.2 335.4 571.9 334.8 570.2 335.5Z" fill="#5961a9"/>
<path d="M573.9 336.1 575.6 335.2 574.3 334.5 572.6 335.4Z" fill="#6970b3"/>
<path d="M576.3 335.8 578.1 334.8 576.8 334.2 575.0 335.2Z" fill="#8289c2"/>
<path d="M578.8 335.5 580.5 334.2 579.2 333.6 577.5 334.9Z" fill="#a3a9d6"/>
<path d="M581.2 335.0 582.9 333.5 581.6 332.8 579.9 334.3Z" fill="#a1acdc"/>
<path d="M583.7 334.4 585.4 332.7 584.0 331.9 582.3 333.6Z" fill="#97ace2"/>
<path d="M586.1 333.8 587.8 332.0 586.4 331.0 584.8 332.9Z" fill="#8badea"/>
<path d="M588.5 333.3 590.2 331.6 588.9 330.3 587.2 332.2Z" fill="#85aeed"/>
<path d="M591.0 332.9 592.7 331.3 591.3 329.9 589.6 331.7Z" fill="#83aeed"/>
<path d="M593.4 332.7 595.1 331.3 593.7 329.8 592.1 331.4Z" fill="#82aeec"/>
<path d="M595.8 332.6 597.5 331.2 596.2 329.9 594.5 331.3Z" fill="#81aeec"/>
<path d="M598.3 332.4 600.0 331.2 598.6 329.9 596.9 331.2Z" fill="#81afec"/>
<path d="M600.7 332.3 602.4 331.2 601.1 330.0 599.4 331.2Z" fill="#74a7ea"/>
<path d="M603.1 332.1 604.8 331.2 603.5 330.1 601.8 331.2Z" fill="#5695e5"/>
<path d="M605.5 332.0 607.2 331.4 605.9 330.4 604.2 331.2Z" fill="#4489e2"/>
<path d="M607.9 332.1 609.7 331.8 608.4 330.9 606.7 331.4Z" fill="#488be3"/>
<path d="M610.2 332.2 612.1 332.4 610.9 331.6 609.1 331.7Z" fill="#80aeec"/>
<path d="M612.6 332.5 614.5 333.2 613.4 332.5 611.5 332.2Z" fill="#83aeed"/>
<path d="M615.1 333.2 617.0 334.0 615.9 333.5 614.0 333.0Z" fill="#86aeed"/>
<path d="M617.5 334.2 619.4 334.9 618.3 334.3 616.4 333.8Z" fill="#8face7"/>
<path d="M619.9 335.3 621.8 335.8 620.7 335.0 618.8 334.7Z" fill="#99ace0"/>
<path d="M622.4 336.4 624.3 336.5 623.1 335.6 621.3 335.6Z" fill="#9ca8da"/>
<path d="M624.9 337.2 626.7 337.0 625.4 336.1 623.7 336.3Z" fill="#7d88c8"/>
<path d="M627.4 337.9 629.1 337.5 627.8 336.5 626.1 336.9Z" fill="#656fb9"/>
<path d="M629.8 338.4 631.6 337.9 630.3 336.8 628.5 337.4Z" fill="#757dbd"/>
<path d="M632.3 338.9 634.0 338.3 632.7 337.2 631.0 337.8Z" fill="#7d84bf"/>
<path d="M634.7 339.3 636.4 338.7 635.1 337.6 633.4 338.2Z" fill="#7980bb"/>
<path d="M637.1 339.7 638.9 339.1 637.6 338.1 635.8 338.6Z" fill="#6c73b3"/>
<path d="M572.5 336.6 574.3 335.8 573.0 335.1 571.3 335.9Z" fill="#5b63ab"/>
<path d="M575.0 336.4 576.7 335.5 575.4 334.9 573.7 335.8Z" fill="#6b72b5"/>
<path d="M577.4 336.2 579.1 335.1 577.8 334.5 576.1 335.6Z" fill="#8289c3"/>
<path d="M579.9 335.9 581.6 334.6 580.3 334.0 578.6 335.2Z" fill="#a1a8d6"/>
<path d="M582.3 335.4 584.0 334.0 582.7 333.3 581.0 334.8Z" fill="#a1acdc"/>
<path d="M584.8 334.9 586.4 333.4 585.1 332.5 583.4 334.2Z" fill="#99ace1"/>
<path d="M587.2 334.5 588.9 332.9 587.5 331.8 585.9 333.5Z" fill="#90ace7"/>
<path d="M589.6 334.1 591.3 332.6 590.0 331.3 588.3 333.0Z" fill="#88aeec"/>
<path d="M592.1 333.8 593.7 332.4 592.4 331.1 590.7 332.6Z" fill="#85aeed"/>
<path d="M594.5 333.6 596.2 332.2 594.8 331.0 593.1 332.4Z" fill="#84aeed"/>
<path d="M596.9 333.4 598.6 332.1 597.3 330.9 595.6 332.3Z" fill="#83aeed"/>
<path d="M599.3 333.1 601.0 332.0 599.7 330.9 598.0 332.2Z" fill="#7fadec"/>
<path d="M601.8 332.8 603.5 331.8 602.1 330.9 600.4 332.0Z" fill="#679ee8"/>
<path d="M604.2 332.5 605.9 331.7 604.6 330.9 602.9 331.8Z" fill="#4489e2"/>
<path d="M606.5 332.2 608.3 331.8 607.1 331.1 605.3 331.7Z" fill="#4389e2"/>
<path d="M608.8 331.8 610.8 332.1 609.6 331.6 607.7 331.8Z" fill="#76a9ea"/>
<path d="M611.4 331.8 613.2 332.7 612.1 332.4 610.2 332.0Z" fill="#80afec"/>
<path d="M613.9 332.3 615.6 333.5 614.4 333.3 612.6 332.5Z" fill="#83aeec"/>
<path d="M616.3 333.2 618.0 334.4 616.9 334.1 615.0 333.3Z" fill="#86aeed"/>
<path d="M618.6 334.3 620.5 335.4 619.4 335.0 617.5 334.2Z" fill="#8eade8"/>
<path d="M621.0 335.6 622.9 336.3 621.8 335.6 619.9 335.1Z" fill="#99ace1"/>
<path d="M623.5 336.8 625.3 337.0 624.2 336.2 622.3 336.1Z" fill="#a1acdc"/>
<path d="M626.0 337.8 627.8 337.7 626.5 336.7 624.8 336.9Z" fill="#8791cc"/>
<path d="M628.5 338.5 630.2 338.2 628.9 337.2 627.2 337.5Z" fill="#6b73ba"/>
<path d="M630.9 339.1 632.6 338.6 631.3 337.6 629.6 338.1Z" fill="#6971b6"/>
<path d="M633.4 339.5 635.1 339.1 633.8 338.0 632.1 338.5Z" fill="#6b72b4"/>
<path d="M635.8 339.9 637.5 339.4 636.2 338.4 634.5 339.0Z" fill="#656db0"/>
<path d="M571.2 337.0 572.9 336.3 571.6 335.6 569.9 336.4Z" fill="#545ca6"/>
<path d="M573.6 336.9 575.4 336.1 574.1 335.5 572.3 336.3Z" fill="#5d65ac"/>
<path d="M576.1 336.8 577.8 335.9 576.5 335.2 574.8 336.2Z" fill="#6b73b6"/>
<path d="M578.5 336.6 580.2 335.5 578.9 334.9 577.2 335.9Z" fill="#8188c3"/>
<path d="M581.0 336.3 582.7 335.1 581.3 334.4 579.6 335.6Z" fill="#9ca3d4"/>
<path d="M583.4 335.9 585.1 334.6 583.8 333.8 582.1 335.2Z" fill="#a1acdb"/>
<path d="M585.8 335.5 587.5 334.1 586.2 333.2 584.5 334.7Z" fill="#9aacdf"/>
<path d="M588.3 335.1 590.0 333.7 588.6 332.7 586.9 334.2Z" fill="#94ace4"/>
<path d="M590.7 334.8 592.4 333.5 591.0 332.3 589.4 333.8Z" fill="#8dade9"/>
<path d="M593.1 334.6 594.8 333.3 593.5 332.1 591.8 333.5Z" fill="#89aeec"/>
<path d="M595.6 334.3 597.3 333.1 595.9 332.0 594.2 333.3Z" fill="#86aeee"/>
<path d="M598.0 334.0 599.7 332.8 598.4 331.8 596.7 333.1Z" fill="#84aeed"/>
<path d="M600.4 333.6 602.1 332.5 600.8 331.7 599.1 332.9Z" fill="#73a4ea"/>
<path d="M602.8 333.1 604.5 332.2 603.2 331.5 601.5 332.6Z" fill="#5693e6"/>
<path d="M605.2 332.6 607.0 331.9 605.7 331.5 604.0 332.3Z" fill="#5c98e6"/>
<path d="M607.5 331.6 609.4 331.9 608.3 331.7 606.4 332.0Z" fill="#7eafeb"/>
<path d="M610.1 331.2 611.8 332.1 610.6 332.3 608.8 331.9Z" fill="#7dafeb"/>
<path d="M612.6 331.3 614.3 332.7 613.0 332.9 611.2 332.0Z" fill="#7eafeb"/>
<path d="M615.0 332.1 616.7 333.6 615.4 333.6 613.7 332.5Z" fill="#81aeec"/>
<path d="M617.4 333.3 619.1 334.7 617.9 334.6 616.1 333.4Z" fill="#84aeed"/>
<path d="M619.8 334.6 621.5 335.8 620.4 335.5 618.6 334.5Z" fill="#8cadea"/>
<path d="M622.1 336.0 624.0 336.8 622.9 336.2 621.0 335.5Z" fill="#99ace1"/>
<path d="M624.5 337.4 626.4 337.6 625.3 336.7 623.4 336.5Z" fill="#a1acdb"/>
<path d="M627.1 338.4 628.9 338.3 627.6 337.3 625.8 337.4Z" fill="#8e96cd"/>
<path d="M629.5 339.1 631.3 338.9 630.0 337.8 628.3 338.1Z" fill="#7279bb"/>
<path d="M632.0 339.7 633.7 339.3 632.4 338.3 630.7 338.7Z" fill="#6068af"/>
<path d="M634.4 340.2 636.2 339.7 634.9 338.7 633.1 339.2Z" fill="#5e66ad"/>
<path d="M572.3 337.4 574.0 336.6 572.7 336.0 571.0 336.8Z" fill="#555da8"/>
<path d="M574.7 337.3 576.4 336.5 575.2 335.8 573.4 336.7Z" fill="#5e66ad"/>
<path d="M577.2 337.2 578.9 336.3 577.6 335.6 575.9 336.5Z" fill="#6b73b6"/>
<path d="M579.6 337.0 581.3 335.9 580.0 335.3 578.3 336.3Z" fill="#7e86c3"/>
<path d="M582.0 336.7 583.7 335.6 582.4 334.8 580.7 336.0Z" fill="#949cd1"/>
<path d="M584.5 336.4 586.2 335.2 584.8 334.3 583.2 335.7Z" fill="#a1acdb"/>
<path d="M586.9 336.1 588.6 334.8 587.3 333.9 585.6 335.3Z" fill="#9cacde"/>
<path d="M589.3 335.8 591.0 334.5 589.7 333.5 588.0 334.9Z" fill="#97ace2"/>
<path d="M591.8 335.5 593.5 334.3 592.1 333.2 590.4 334.6Z" fill="#91ace6"/>
<path d="M594.2 335.2 595.9 334.0 594.6 333.0 592.9 334.3Z" fill="#8cadea"/>
<path d="M596.6 334.9 598.3 333.7 597.0 332.8 595.3 334.1Z" fill="#87aded"/>
<path d="M599.1 334.5 600.8 333.3 599.4 332.5 597.7 333.8Z" fill="#79a6eb"/>
<path d="M601.5 333.9 603.2 332.8 601.9 332.3 600.2 333.4Z" fill="#659be8"/>
<path d="M603.8 333.1 605.6 332.2 604.4 332.0 602.6 332.9Z" fill="#70a5e9"/>
<path d="M606.2 331.6 608.1 331.7 607.0 332.0 605.0 332.4Z" fill="#7dafeb"/>
<path d="M608.8 330.6 610.5 331.4 609.2 332.1 607.5 331.8Z" fill="#7ab0ea"/>
<path d="M611.2 330.1 612.9 331.7 611.6 332.3 609.9 331.5Z" fill="#7ab0e9"/>
<path d="M613.7 330.4 615.3 332.5 614.0 332.9 612.3 331.6Z" fill="#7bafea"/>
<path d="M616.1 331.7 617.8 333.7 616.5 333.8 614.8 332.3Z" fill="#7eafeb"/>
<path d="M618.5 333.3 620.2 335.0 618.9 334.9 617.2 333.4Z" fill="#83aeed"/>
<path d="M620.9 334.9 622.6 336.2 621.4 335.9 619.7 334.7Z" fill="#8aadeb"/>
<path d="M623.2 336.4 625.1 337.3 624.0 336.7 622.1 336.0Z" fill="#99ace1"/>
<path d="M625.6 337.9 627.5 338.2 626.4 337.3 624.5 337.1Z" fill="#a2acdb"/>
<path d="M628.2 339.0 629.9 338.9 628.7 338.0 626.9 338.0Z" fill="#9198cd"/>
<path d="M630.6 339.7 632.4 339.5 631.1 338.5 629.4 338.8Z" fill="#747bbb"/>
<path d="M633.1 340.3 634.8 339.9 633.5 339.0 631.8 339.4Z" fill="#6068ae"/>
<path d="M635.5 340.8 637.2 340.3 636.0 339.4 634.2 339.8Z" fill="#565ea8"/>
<path d="M570.9 337.9 572.7 337.1 571.4 336.5 569.6 337.2Z" fill="#5159a5"/>
<path d="M573.4 337.8 575.1 337.0 573.8 336.4 572.1 337.1Z" fill="#565ea9"/>
<path d="M575.8 337.7 577.5 336.9 576.2 336.2 574.5 337.1Z" fill="#5e66ae"/>
<path d="M578.2 337.6 580.0 336.7 578.7 336.0 576.9 336.9Z" fill="#6a72b7"/>
<path d="M580.7 337.4 582.4 336.4 581.1 335.7 579.4 336.7Z" fill="#7a82c2"/>
<path d="M583.1 337.1 584.8 336.1 583.5 335.3 581.8 336.5Z" fill="#8a93cd"/>
<path d="M585.5 336.9 587.3 335.7 585.9 334.9 584.2 336.1Z" fill="#96a1d6"/>
<path d="M588.0 336.6 589.7 335.5 588.4 334.6 586.7 335.8Z" fill="#9ba9dc"/>
<path d="M590.4 336.4 592.1 335.2 590.8 334.2 589.1 335.5Z" fill="#99abe0"/>
<path d="M592.9 336.1 594.6 334.9 593.2 334.0 591.5 335.3Z" fill="#91a9e3"/>
<path d="M595.3 335.8 597.0 334.6 595.7 333.7 594.0 335.0Z" fill="#87a7e6"/>
<path d="M597.7 335.3 599.4 334.1 598.1 333.4 596.4 334.7Z" fill="#7ba5ea"/>
<path d="M600.1 334.7 601.8 333.5 600.5 333.0 598.8 334.2Z" fill="#6ea0ea"/>
<path d="M602.5 333.8 604.3 332.7 603.0 332.6 601.3 333.7Z" fill="#79a9eb"/>
<path d="M604.8 332.1 606.7 331.7 605.6 332.3 603.7 332.9Z" fill="#7dafeb"/>
<path d="M607.4 330.3 609.1 330.8 607.8 332.0 606.1 332.0Z" fill="#78b0e9"/>
<path d="M609.9 328.7 611.6 330.3 610.2 331.7 608.6 331.0Z" fill="#75b1e8"/>
<path d="M612.3 328.2 614.0 330.8 612.7 331.9 611.0 330.4Z" fill="#74b2e7"/>
<path d="M614.8 329.1 616.4 332.1 615.1 332.7 613.4 330.6Z" fill="#76b1e8"/>
<path d="M617.2 331.2 618.8 333.7 617.5 333.8 615.9 331.8Z" fill="#7cafea"/>
<path d="M619.6 333.3 621.3 335.3 620.0 335.1 618.3 333.4Z" fill="#82aeec"/>
<path d="M622.0 335.3 623.7 336.7 622.5 336.3 620.7 335.0Z" fill="#8aadec"/>
<path d="M624.2 337.0 626.1 337.9 625.1 337.2 623.2 336.4Z" fill="#99ace0"/>
<path d="M626.7 338.5 628.6 338.8 627.4 337.9 625.6 337.6Z" fill="#a3acda"/>
<path d="M629.2 339.6 631.0 339.5 629.8 338.6 628.0 338.6Z" fill="#9299cd"/>
<path d="M631.7 340.4 633.5 340.1 632.2 339.1 630.4 339.4Z" fill="#747bba"/>
<path d="M634.1 340.9 635.9 340.5 634.6 339.6 632.9 340.0Z" fill="#6068ae"/>
<path d="M572.0 338.3 573.7 337.5 572.5 336.8 570.7 337.6Z" fill="#535ba6"/>
<path d="M574.4 338.2 576.2 337.4 574.9 336.7 573.2 337.5Z" fill="#575faa"/>
<path d="M576.9 338.1 578.6 337.3 577.3 336.6 575.6 337.4Z" fill="#5e66af"/>
<path d="M579.3 337.9 581.0 337.1 579.7 336.4 578.0 337.3Z" fill="#6871b6"/>
<path d="M581.8 337.8 583.5 336.8 582.2 336.1 580.4 337.1Z" fill="#757ec0"/>
<path d="M584.2 337.6 585.9 336.6 584.6 335.8 582.9 336.9Z" fill="#808ac9"/>
<path d="M586.6 337.4 588.3 336.3 587.0 335.5 585.3 336.6Z" fill="#8894d0"/>
<path d="M589.1 337.1 590.8 336.0 589.4 335.2 587.7 336.4Z" fill="#8a9ad6"/>
<path d="M591.5 336.9 593.2 335.8 591.9 334.9 590.2 336.1Z" fill="#889cda"/>
<path d="M593.9 336.6 595.6 335.4 594.3 334.6 592.6 335.8Z" fill="#839ede"/>
<path d="M596.4 336.1 598.1 335.0 596.7 334.3 595.0 335.5Z" fill="#7c9fe4"/>
<path d="M598.8 335.5 600.5 334.3 599.2 333.9 597.5 335.1Z" fill="#73a1ea"/>
<path d="M601.2 334.6 602.9 333.4 601.7 333.3 599.9 334.5Z" fill="#7aa9eb"/>
<path d="M603.4 333.0 605.3 332.1 604.3 332.7 602.4 333.6Z" fill="#7eafeb"/>
<path d="M606.1 330.4 607.7 330.4 606.5 332.1 604.8 332.4Z" fill="#77b0e9"/>
<path d="M608.6 327.7 610.2 328.9 608.9 331.2 607.3 330.7Z" fill="#70b3e6"/>
<path d="M611.0 325.6 612.7 328.5 611.3 330.6 609.7 329.1Z" fill="#68b5e3"/>
<path d="M613.4 325.5 615.0 329.6 613.7 331.0 612.1 328.4Z" fill="#68b5e3"/>
<path d="M615.9 327.7 617.4 331.7 616.2 332.3 614.5 329.3Z" fill="#71b3e6"/>
<path d="M618.3 330.8 619.9 333.9 618.6 333.9 617.0 331.3Z" fill="#79b0e9"/>
<path d="M620.7 333.6 622.3 335.7 621.1 335.4 619.4 333.5Z" fill="#81aeec"/>
<path d="M623.0 335.8 624.8 337.2 623.6 336.8 621.8 335.4Z" fill="#8aadec"/>
<path d="M625.3 337.7 627.2 338.5 626.2 337.8 624.3 336.9Z" fill="#9bacdf"/>
<path d="M627.8 339.2 629.7 339.4 628.5 338.5 626.7 338.2Z" fill="#a4acd9"/>
<path d="M630.3 340.3 632.1 340.2 630.9 339.2 629.1 339.2Z" fill="#9197cb"/>
<path d="M632.8 341.0 634.5 340.7 633.3 339.8 631.5 340.0Z" fill="#737ab9"/>
<path d="M635.2 341.5 637.0 341.1 635.7 340.2 634.0 340.6Z" fill="#5f67ad"/>
<path d="M573.1 338.7 574.8 337.9 573.5 337.2 571.8 338.0Z" fill="#545ca7"/>
<path d="M575.5 338.6 577.3 337.8 576.0 337.1 574.2 337.9Z" fill="#5860ab"/>
<path d="M578.0 338.5 579.7 337.6 578.4 337.0 576.7 337.8Z" fill="#5e66af"/>
<path d="M580.4 338.3 582.1 337.5 580.8 336.8 579.1 337.7Z" fill="#666fb6"/>
<path d="M582.8 338.2 584.6 337.3 583.3 336.6 581.5 337.5Z" fill="#7079be"/>
<path d="M585.3 338.0 587.0 337.0 585.7 336.3 584.0 337.3Z" fill="#7782c5"/>
<path d="M587.7 337.8 589.4 336.8 588.1 336.0 586.4 337.1Z" fill="#7c89cb"/>
<path d="M590.1 337.6 591.9 336.6 590.5 335.8 588.8 336.9Z" fill="#7d8ed0"/>
<path d="M592.6 337.3 594.3 336.2 593.0 335.5 591.3 336.6Z" fill="#7d92d6"/>
<path d="M595.0 336.9 596.7 335.8 595.4 335.2 593.7 336.3Z" fill="#7a97dc"/>
<path d="M597.4 336.4 599.1 335.2 597.8 334.7 596.1 335.9Z" fill="#7aa0e6"/>
<path d="M599.8 335.5 601.6 334.2 600.3 334.1 598.6 335.3Z" fill="#7ea9ec"/>
<path d="M602.2 334.1 604.0 332.8 602.8 333.3 601.0 334.5Z" fill="#80afeb"/>
<path d="M604.7 331.2 606.4 330.5 605.2 332.5 603.5 333.1Z" fill="#78b0e9"/>
<path d="M607.2 327.6 608.8 327.8 607.5 330.9 606.0 331.0Z" fill="#6cb4e4"/>
<path d="M609.6 323.5 611.3 325.7 609.9 329.3 608.4 328.2Z" fill="#5cbade"/>
<path d="M612.1 321.2 613.7 325.9 612.4 328.8 610.7 326.0Z" fill="#54bedb"/>
<path d="M614.5 322.5 616.1 328.2 614.8 329.7 613.2 325.7Z" fill="#59bbdd"/>
<path d="M616.9 326.5 618.5 331.3 617.2 331.8 615.7 327.8Z" fill="#69b5e3"/>
<path d="M619.4 330.8 620.9 334.1 619.7 333.9 618.1 330.9Z" fill="#77b0e9"/>
<path d="M621.8 334.1 623.4 336.2 622.2 335.8 620.5 333.7Z" fill="#81afec"/>
<path d="M624.1 336.5 625.8 337.9 624.7 337.3 622.9 335.9Z" fill="#8badea"/>
<path d="M626.4 338.5 628.3 339.1 627.2 338.3 625.3 337.6Z" fill="#9dacde"/>
<path d="M628.9 340.0 630.7 340.1 629.6 339.1 627.8 338.9Z" fill="#a6add9"/>
<path d="M631.4 340.9 633.2 340.8 631.9 339.8 630.2 339.9Z" fill="#8c92c7"/>
<path d="M633.9 341.6 635.6 341.3 634.4 340.4 632.6 340.6Z" fill="#6f76b6"/>
<path d="M636.3 342.1 638.1 341.7 636.8 340.8 635.0 341.2Z" fill="#5c64ab"/>
<path d="M571.7 339.1 573.5 338.4 572.2 337.7 570.5 338.4Z" fill="#525aa6"/>
<path d="M574.2 339.1 575.9 338.3 574.6 337.6 572.9 338.4Z" fill="#555da8"/>
<path d="M576.6 339.0 578.3 338.2 577.1 337.5 575.3 338.3Z" fill="#5961ac"/>
<path d="M579.0 338.9 580.8 338.0 579.5 337.4 577.7 338.2Z" fill="#5d66b0"/>
<path d="M581.5 338.7 583.2 337.9 581.9 337.2 580.2 338.1Z" fill="#646db6"/>
<path d="M583.9 338.6 585.6 337.7 584.3 337.0 582.6 337.9Z" fill="#6b74bc"/>
<path d="M586.3 338.4 588.1 337.5 586.8 336.8 585.0 337.7Z" fill="#707bc2"/>
<path d="M588.8 338.3 590.5 337.3 589.2 336.5 587.5 337.5Z" fill="#7381c8"/>
<path d="M591.2 338.0 592.9 337.0 591.6 336.3 589.9 337.3Z" fill="#7587cd"/>
<path d="M593.6 337.7 595.4 336.6 594.1 336.0 592.3 337.1Z" fill="#768ed4"/>
<path d="M596.1 337.2 597.8 336.0 596.5 335.6 594.8 336.7Z" fill="#7d9bdf"/>
<path d="M598.5 336.5 600.2 335.1 598.9 335.0 597.2 336.2Z" fill="#85acec"/>
<path d="M600.9 335.2 602.6 333.7 601.4 334.1 599.7 335.4Z" fill="#82aeec"/>
<path d="M603.1 332.8 605.0 331.3 603.9 333.1 602.1 334.1Z" fill="#7ab0ea"/>
<path d="M605.8 328.6 607.4 327.6 606.2 331.0 604.6 331.8Z" fill="#6cb4e5"/>
<path d="M608.3 322.9 609.8 323.5 608.6 328.3 607.1 328.1Z" fill="#54bedb"/>
<path d="M610.7 317.7 612.3 321.4 611.0 326.2 609.5 324.0Z" fill="#56c3c7"/>
<path d="M613.2 316.3 614.7 323.0 613.5 326.1 611.8 321.5Z" fill="#58c4c2"/>
<path d="M615.6 320.0 617.1 327.1 615.9 328.3 614.3 322.6Z" fill="#52c0d4"/>
<path d="M618.0 326.0 619.5 331.4 618.3 331.4 616.8 326.5Z" fill="#63b7e1"/>
<path d="M620.4 331.3 622.0 334.6 620.8 334.2 619.2 330.9Z" fill="#77b1e8"/>
<path d="M622.8 334.8 624.5 336.9 623.2 336.3 621.6 334.2Z" fill="#81aeec"/>
<path d="M625.1 337.3 626.9 338.6 625.8 337.9 624.0 336.5Z" fill="#8eade8"/>
<path d="M627.5 339.4 629.4 339.8 628.3 338.9 626.4 338.3Z" fill="#9facdd"/>
<path d="M630.0 340.7 631.8 340.8 630.6 339.7 628.8 339.6Z" fill="#a8add8"/>
<path d="M632.5 341.6 634.3 341.4 633.0 340.4 631.3 340.6Z" fill="#858bc3"/>
<path d="M635.0 342.3 636.7 341.9 635.4 341.0 633.7 341.3Z" fill="#6a71b2"/>
<path d="M572.8 339.5 574.6 338.8 573.3 338.1 571.5 338.8Z" fill="#535ba7"/>
<path d="M575.3 339.5 577.0 338.7 575.7 338.0 574.0 338.8Z" fill="#565ea9"/>
<path d="M577.7 339.4 579.4 338.6 578.1 337.9 576.4 338.7Z" fill="#5962ac"/>
<path d="M580.1 339.3 581.9 338.4 580.6 337.8 578.8 338.6Z" fill="#5d66b0"/>
<path d="M582.6 339.2 584.3 338.3 583.0 337.6 581.3 338.5Z" fill="#626bb5"/>
<path d="M585.0 339.0 586.7 338.1 585.4 337.4 583.7 338.3Z" fill="#6771bb"/>
<path d="M587.4 338.9 589.2 337.9 587.8 337.2 586.1 338.2Z" fill="#6a77c0"/>
<path d="M589.9 338.7 591.6 337.7 590.3 337.0 588.6 338.0Z" fill="#6d7dc6"/>
<path d="M592.3 338.4 594.0 337.4 592.7 336.7 591.0 337.8Z" fill="#7285cd"/>
<path d="M594.7 338.0 596.4 336.9 595.1 336.4 593.4 337.5Z" fill="#7b94d8"/>
<path d="M597.2 337.4 598.9 336.1 597.6 335.8 595.9 337.0Z" fill="#88a7e6"/>
<path d="M599.6 336.3 601.3 334.8 600.0 335.0 598.3 336.3Z" fill="#85aeed"/>
<path d="M602.0 334.5 603.7 332.6 602.6 333.7 600.8 335.1Z" fill="#7dafeb"/>
<path d="M604.4 330.5 606.0 328.6 604.9 331.8 603.3 333.0Z" fill="#71b2e6"/>
<path d="M606.9 324.3 608.4 322.9 607.3 328.2 605.8 329.2Z" fill="#55bddc"/>
<path d="M609.4 316.5 610.9 317.7 609.7 324.1 608.2 323.5Z" fill="#5cc7b8"/>
<path d="M611.8 311.1 613.5 316.6 612.1 321.8 610.5 318.2Z" fill="#81c79b"/>
<path d="M614.2 312.2 615.7 320.6 614.5 323.1 613.0 316.4Z" fill="#75c7a4"/>
<path d="M616.7 318.9 618.1 326.6 617.0 327.1 615.5 320.1Z" fill="#56c3c8"/>
<path d="M619.1 326.6 620.6 331.9 619.4 331.4 617.9 326.1Z" fill="#62b8e0"/>
<path d="M621.5 332.3 623.1 335.4 621.9 334.7 620.3 331.3Z" fill="#77b0e9"/>
<path d="M623.8 335.8 625.6 337.7 624.4 337.0 622.7 334.9Z" fill="#83aeec"/>
<path d="M626.1 338.4 628.0 339.3 627.0 338.5 625.1 337.3Z" fill="#93ace5"/>
<path d="M628.7 340.2 630.5 340.6 629.3 339.5 627.5 339.0Z" fill="#a2acdb"/>
<path d="M631.1 341.5 632.9 341.4 631.7 340.4 629.9 340.3Z" fill="#a2a7d4"/>
<path d="M633.6 342.3 635.4 342.0 634.1 341.1 632.3 341.3Z" fill="#7d83bd"/>
<path d="M636.0 342.9 637.8 342.5 636.5 341.5 634.8 341.9Z" fill="#646baf"/>
<path d="M571.5 340.0 573.2 339.2 571.9 338.5 570.2 339.3Z" fill="#525aa5"/>
<path d="M573.9 339.9 575.6 339.2 574.4 338.5 572.6 339.2Z" fill="#545ca8"/>
<path d="M576.3 339.9 578.1 339.1 576.8 338.4 575.0 339.2Z" fill="#575faa"/>
<path d="M578.8 339.8 580.5 339.0 579.2 338.3 577.5 339.1Z" fill="#5a62ad"/>
<path d="M581.2 339.7 582.9 338.8 581.6 338.2 579.9 339.0Z" fill="#5d66b1"/>
<path d="M583.6 339.6 585.4 338.7 584.1 338.0 582.3 338.9Z" fill="#606ab5"/>
<path d="M586.1 339.4 587.8 338.6 586.5 337.9 584.8 338.7Z" fill="#646fbb"/>
<path d="M588.5 339.3 590.2 338.4 588.9 337.7 587.2 338.6Z" fill="#6774c0"/>
<path d="M590.9 339.1 592.7 338.1 591.4 337.4 589.6 338.4Z" fill="#6d7dc7"/>
<path d="M593.4 338.8 595.1 337.7 593.8 337.1 592.1 338.2Z" fill="#778bd1"/>
<path d="M595.8 338.2 597.5 337.0 596.2 336.6 594.5 337.8Z" fill="#87a0de"/>
<path d="M598.2 337.4 599.9 335.9 598.7 335.9 597.0 337.2Z" fill="#89adec"/>
<path d="M600.7 336.0 602.3 334.0 601.1 334.7 599.4 336.2Z" fill="#81aeec"/>
<path d="M603.0 333.2 604.7 330.5 603.7 333.0 601.9 334.5Z" fill="#77b1e8"/>
<path d="M605.5 327.2 607.1 324.3 605.9 329.2 604.4 331.0Z" fill="#5dbadf"/>
<path d="M608.0 318.4 609.5 316.5 608.3 323.5 606.9 324.9Z" fill="#5bc7b9"/>
<path d="M610.5 309.2 612.0 311.1 610.8 318.3 609.3 317.0Z" fill="#a5c682"/>
<path d="M612.9 305.4 614.5 312.6 613.2 316.9 611.5 311.3Z" fill="#c0c272"/>
<path d="M615.3 310.1 616.8 319.5 615.6 320.6 614.1 312.2Z" fill="#96c88b"/>
<path d="M617.8 319.6 619.2 327.2 618.0 326.6 616.6 318.9Z" fill="#57c4c4"/>
<path d="M620.2 328.1 621.7 332.8 620.5 331.9 619.0 326.6Z" fill="#64b7e1"/>
<path d="M622.6 333.6 624.2 336.3 623.0 335.4 621.4 332.3Z" fill="#79b0e9"/>
<path d="M624.8 337.0 626.6 338.6 625.5 337.7 623.8 335.9Z" fill="#84aeed"/>
<path d="M627.3 339.5 629.1 340.2 628.1 339.1 626.2 338.2Z" fill="#98ace1"/>
<path d="M629.8 341.1 631.5 341.3 630.4 340.2 628.6 339.9Z" fill="#a5add9"/>
<path d="M632.2 342.2 634.0 342.1 632.8 341.1 631.0 341.1Z" fill="#969bcc"/>
<path d="M634.7 343.0 636.4 342.7 635.2 341.7 633.4 341.9Z" fill="#747ab8"/>
<path d="M572.6 340.4 574.3 339.6 573.0 338.9 571.3 339.7Z" fill="#535ba6"/>
<path d="M575.0 340.3 576.7 339.6 575.4 338.9 573.7 339.6Z" fill="#555da8"/>
<path d="M577.4 340.3 579.2 339.5 577.9 338.8 576.1 339.6Z" fill="#5860ab"/>
<path d="M579.9 340.2 581.6 339.4 580.3 338.7 578.6 339.5Z" fill="#5a63ae"/>
<path d="M582.3 340.1 584.0 339.3 582.7 338.6 581.0 339.4Z" fill="#5d66b2"/>
<path d="M584.7 340.0 586.5 339.1 585.2 338.4 583.4 339.3Z" fill="#6069b6"/>
<path d="M587.2 339.9 588.9 339.0 587.6 338.3 585.9 339.2Z" fill="#636fbb"/>
<path d="M589.6 339.7 591.3 338.8 590.0 338.1 588.3 339.0Z" fill="#6976c1"/>
<path d="M592.0 339.5 593.7 338.4 592.4 337.8 590.7 338.8Z" fill="#7283ca"/>
<path d="M594.5 339.1 596.2 337.9 594.9 337.4 593.2 338.5Z" fill="#8296d7"/>
<path d="M596.9 338.4 598.6 337.0 597.3 336.8 595.6 338.0Z" fill="#92ace6"/>
<path d="M599.3 337.3 601.0 335.5 599.8 335.8 598.0 337.3Z" fill="#85aeed"/>
<path d="M601.8 335.3 603.4 332.7 602.3 334.0 600.5 335.9Z" fill="#7cafea"/>
<path d="M604.2 331.1 605.7 327.2 604.7 331.0 603.0 333.2Z" fill="#6ab5e4"/>
<path d="M606.6 322.8 608.1 318.4 607.0 324.9 605.5 327.8Z" fill="#56c3c8"/>
<path d="M609.1 311.8 610.5 309.2 609.4 317.1 608.0 319.0Z" fill="#a5c682"/>
<path d="M611.5 302.9 613.1 305.5 611.8 311.7 610.3 309.7Z" fill="#e9c44f"/>
<path d="M614.0 302.6 615.5 310.7 614.3 312.8 612.8 305.5Z" fill="#e6c451"/>
<path d="M616.4 311.1 617.8 320.2 616.7 319.5 615.3 310.1Z" fill="#9fc785"/>
<path d="M618.8 322.0 620.3 328.7 619.1 327.2 617.7 319.6Z" fill="#55c2ca"/>
<path d="M621.2 330.3 622.8 334.2 621.6 332.9 620.1 328.1Z" fill="#6ab5e4"/>
<path d="M623.6 335.2 625.3 337.4 624.1 336.4 622.5 333.7Z" fill="#7cafea"/>
<path d="M625.9 338.5 627.7 339.5 626.7 338.5 624.8 337.0Z" fill="#88aeed"/>
<path d="M628.4 340.6 630.2 341.0 629.1 339.8 627.2 339.2Z" fill="#9dacde"/>
<path d="M630.9 342.0 632.6 342.1 631.4 340.9 629.7 340.7Z" fill="#a7add8"/>
<path d="M633.3 343.0 635.1 342.8 633.8 341.7 632.1 341.9Z" fill="#898fc4"/>
<path d="M635.8 343.6 637.5 343.3 636.2 342.3 634.5 342.6Z" fill="#6a71b2"/>
<path d="M573.6 340.8 575.4 340.0 574.1 339.4 572.3 340.1Z" fill="#545ca7"/>
<path d="M576.1 340.8 577.8 340.0 576.5 339.3 574.8 340.1Z" fill="#565fa9"/>
<path d="M578.5 340.7 580.2 339.9 578.9 339.2 577.2 340.0Z" fill="#5961ac"/>
<path d="M580.9 340.6 582.7 339.8 581.4 339.1 579.6 339.9Z" fill="#5b64af"/>
<path d="M583.4 340.5 585.1 339.7 583.8 339.0 582.1 339.8Z" fill="#5d66b2"/>
<path d="M585.8 340.4 587.5 339.6 586.2 338.9 584.5 339.7Z" fill="#606ab7"/>
<path d="M588.2 340.3 590.0 339.4 588.7 338.7 586.9 339.6Z" fill="#6571bc"/>
<path d="M590.7 340.1 592.4 339.1 591.1 338.5 589.4 339.4Z" fill="#6d7bc4"/>
<path d="M593.1 339.8 594.8 338.7 593.5 338.2 591.8 339.2Z" fill="#7b8ccf"/>
<path d="M595.5 339.3 597.3 338.0 596.0 337.7 594.2 338.8Z" fill="#91a6df"/>
<path d="M598.0 338.5 599.7 336.9 598.4 336.8 596.7 338.2Z" fill="#8badea"/>
<path d="M600.4 337.0 602.0 334.8 600.8 335.4 599.2 337.2Z" fill="#81aeec"/>
<path d="M602.9 334.2 604.4 330.6 603.3 332.7 601.7 335.2Z" fill="#75b1e8"/>
<path d="M605.3 328.4 606.8 322.8 605.8 327.7 604.2 331.1Z" fill="#55bddc"/>
<path d="M607.5 318.3 609.2 311.8 608.1 319.0 606.6 323.4Z" fill="#80c79c"/>
<path d="M610.2 306.1 611.6 302.9 610.5 309.8 609.0 312.4Z" fill="#e9c44f"/>
<path d="M612.6 299.8 614.3 302.9 612.9 306.0 611.3 303.3Z" fill="#fcde26"/>
<path d="M615.1 303.8 616.5 311.7 615.3 310.7 613.9 302.6Z" fill="#f0c647"/>
<path d="M617.5 314.8 618.9 322.6 617.8 320.2 616.4 311.1Z" fill="#8fc890"/>
<path d="M619.9 325.6 621.4 330.9 620.2 328.7 618.8 322.0Z" fill="#52c0d6"/>
<path d="M622.2 332.7 623.9 335.7 622.7 334.2 621.2 330.3Z" fill="#72b2e6"/>
<path d="M624.5 337.1 626.3 338.6 625.2 337.4 623.5 335.2Z" fill="#80afec"/>
<path d="M627.0 339.8 628.8 340.5 627.8 339.2 625.9 338.2Z" fill="#8face7"/>
<path d="M629.5 341.6 631.3 341.9 630.1 340.6 628.3 340.2Z" fill="#a1acdb"/>
<path d="M632.0 342.9 633.7 342.8 632.5 341.7 630.7 341.6Z" fill="#a2a7d3"/>
<path d="M634.4 343.7 636.2 343.4 634.9 342.4 633.2 342.6Z" fill="#7b82bc"/>
<path d="M636.9 344.3 638.6 343.8 637.3 342.9 635.6 343.3Z" fill="#6269ad"/>
<path d="M572.3 341.3 574.0 340.5 572.7 339.8 571.0 340.6Z" fill="#535ba6"/>
<path d="M574.7 341.2 576.5 340.5 575.2 339.8 573.4 340.5Z" fill="#555da8"/>
<path d="M577.2 341.2 578.9 340.4 577.6 339.7 575.9 340.5Z" fill="#5760aa"/>
<path d="M579.6 341.1 581.3 340.3 580.0 339.6 578.3 340.4Z" fill="#5962ad"/>
<path d="M582.0 341.0 583.8 340.2 582.5 339.5 580.7 340.3Z" fill="#5b64b0"/>
<path d="M584.5 341.0 586.2 340.1 584.9 339.4 583.2 340.2Z" fill="#5e67b3"/>
<path d="M586.9 340.8 588.6 340.0 587.3 339.3 585.6 340.1Z" fill="#626cb8"/>
<path d="M589.3 340.7 591.0 339.8 589.7 339.1 588.0 340.0Z" fill="#6874be"/>
<path d="M591.8 340.5 593.5 339.5 592.2 338.9 590.5 339.8Z" fill="#7482c8"/>
<path d="M594.2 340.1 595.9 339.0 594.6 338.5 592.9 339.6Z" fill="#8798d5"/>
<path d="M596.6 339.5 598.3 338.1 597.0 337.8 595.3 339.1Z" fill="#95ace3"/>
<path d="M599.1 338.5 600.7 336.6 599.5 336.7 597.8 338.3Z" fill="#86aeee"/>
<path d="M601.5 336.6 603.1 333.7 601.9 334.7 600.3 336.9Z" fill="#7dafeb"/>
<path d="M604.0 332.8 605.4 327.8 604.3 330.6 602.8 334.2Z" fill="#6ab5e4"/>
<path d="M606.4 325.3 607.8 317.8 606.8 322.8 605.3 328.4Z" fill="#57c4c3"/>
<path d="M608.8 314.2 610.3 306.1 609.2 311.8 607.7 318.4Z" fill="#bfc272"/>
<path d="M611.2 303.9 612.7 299.8 611.8 303.0 610.1 306.7Z" fill="#fcde26"/>
<path d="M613.7 301.1 615.2 304.3 614.0 303.2 612.5 299.9Z" fill="#fbea1c"/>
<path d="M616.1 308.6 617.6 315.3 616.4 311.7 615.0 303.8Z" fill="#dec25a"/>
<path d="M618.5 320.1 620.0 326.1 618.9 322.6 617.4 314.8Z" fill="#6cc7ab"/>
<path d="M620.8 329.4 622.5 333.2 621.3 330.9 619.8 325.6Z" fill="#5cbade"/>
<path d="M623.2 335.4 625.0 337.3 623.8 335.7 622.2 332.7Z" fill="#77b0e9"/>
<path d="M625.7 338.8 627.4 339.8 626.4 338.3 624.6 336.8Z" fill="#84aeed"/>
<path d="M628.2 341.1 629.9 341.5 628.8 340.1 627.0 339.4Z" fill="#98ace1"/>
<path d="M630.6 342.6 632.4 342.7 631.1 341.5 629.4 341.2Z" fill="#a5add9"/>
<path d="M633.1 343.7 634.8 343.5 633.6 342.4 631.8 342.5Z" fill="#9096c9"/>
<path d="M635.5 344.4 637.2 344.1 636.0 343.1 634.2 343.4Z" fill="#6f76b5"/>
<path d="M573.4 341.7 575.1 340.9 573.8 340.2 572.1 341.0Z" fill="#545ca7"/>
<path d="M575.8 341.7 577.5 340.9 576.2 340.2 574.5 341.0Z" fill="#565ea9"/>
<path d="M578.2 341.6 580.0 340.8 578.7 340.1 576.9 340.9Z" fill="#5860ab"/>
<path d="M580.7 341.5 582.4 340.7 581.1 340.0 579.4 340.8Z" fill="#5a63ae"/>
<path d="M583.1 341.5 584.8 340.7 583.5 339.9 581.8 340.8Z" fill="#5c65b0"/>
<path d="M585.5 341.4 587.3 340.5 586.0 339.8 584.2 340.7Z" fill="#5f69b4"/>
<path d="M588.0 341.3 589.7 340.4 588.4 339.7 586.7 340.6Z" fill="#646fba"/>
<path d="M590.4 341.1 592.1 340.2 590.8 339.5 589.1 340.4Z" fill="#6d79c1"/>
<path d="M592.8 340.9 594.6 339.8 593.3 339.2 591.5 340.3Z" fill="#7d8bcd"/>
<path d="M595.3 340.5 597.0 339.2 595.7 338.7 594.0 339.9Z" fill="#98a8dd"/>
<path d="M597.7 339.7 599.4 338.1 598.1 337.9 596.4 339.3Z" fill="#90ace7"/>
<path d="M600.2 338.4 601.8 336.1 600.5 336.4 598.9 338.4Z" fill="#83aeed"/>
<path d="M602.6 336.0 604.1 332.2 603.0 333.6 601.4 336.5Z" fill="#78b0e9"/>
<path d="M605.1 331.2 606.5 324.8 605.4 327.8 603.9 332.7Z" fill="#5bbbde"/>
<path d="M607.5 322.8 608.9 313.6 607.8 317.8 606.4 325.3Z" fill="#74c7a4"/>
<path d="M609.9 312.1 611.4 303.3 610.2 306.1 608.8 314.2Z" fill="#e6c352"/>
<path d="M612.4 305.1 613.9 301.2 612.7 299.8 611.1 303.8Z" fill="#fbe91c"/>
<path d="M614.8 306.9 616.2 309.1 615.1 303.8 613.6 301.1Z" fill="#fdd330"/>
<path d="M617.2 316.0 618.6 320.6 617.8 315.2 616.1 308.6Z" fill="#afc47c"/>
<path d="M619.6 326.2 621.1 329.9 620.0 326.1 618.5 320.1Z" fill="#56c3c8"/>
<path d="M622.0 333.3 623.6 335.5 622.5 333.2 620.9 329.3Z" fill="#6ab5e4"/>
<path d="M624.4 337.6 626.1 338.8 625.1 337.0 623.3 335.0Z" fill="#7dafeb"/>
<path d="M626.8 340.3 628.5 341.0 627.4 339.3 625.7 338.4Z" fill="#89aeec"/>
<path d="M629.3 342.2 631.0 342.5 629.8 341.1 628.1 340.6Z" fill="#9facdd"/>
<path d="M631.7 343.6 633.4 343.5 632.2 342.3 630.5 342.2Z" fill="#a6acd6"/>
<path d="M634.2 344.5 635.9 344.2 634.6 343.1 632.9 343.3Z" fill="#7f86bf"/>
<path d="M636.6 345.1 638.3 344.7 637.1 343.7 635.3 344.1Z" fill="#646caf"/>
<path d="M574.5 342.1 576.2 341.4 574.9 340.7 573.2 341.4Z" fill="#555da7"/>
<path d="M576.9 342.1 578.6 341.3 577.3 340.6 575.6 341.4Z" fill="#575fa9"/>
<path d="M579.3 342.0 581.1 341.3 579.8 340.5 578.0 341.3Z" fill="#5961ac"/>
<path d="M581.8 342.0 583.5 341.2 582.2 340.5 580.5 341.3Z" fill="#5b63ae"/>
<path d="M584.2 341.9 585.9 341.1 584.6 340.4 582.9 341.2Z" fill="#5d66b1"/>
<path d="M586.6 341.8 588.3 341.0 587.0 340.3 585.3 341.1Z" fill="#616ab5"/>
<path d="M589.1 341.7 590.8 340.8 589.5 340.1 587.8 341.0Z" fill="#6872bc"/>
<path d="M591.5 341.6 593.2 340.6 591.9 339.9 590.2 340.9Z" fill="#7480c5"/>
<path d="M593.9 341.3 595.6 340.1 594.3 339.6 592.6 340.6Z" fill="#8997d3"/>
<path d="M596.4 340.7 598.1 339.3 596.8 338.9 595.1 340.2Z" fill="#99ace0"/>
<path d="M598.8 339.8 600.5 338.0 599.2 337.9 597.5 339.5Z" fill="#8aadeb"/>
<path d="M601.2 338.3 602.8 335.5 601.6 336.0 600.0 338.3Z" fill="#80afec"/>
<path d="M603.7 335.4 605.2 330.6 604.0 332.2 602.5 335.9Z" fill="#72b2e6"/>
<path d="M606.1 330.0 607.6 322.2 606.4 324.7 605.0 331.2Z" fill="#52c0d4"/>
<path d="M608.6 321.6 610.0 311.5 608.9 313.6 607.4 322.8Z" fill="#96c88c"/>
<path d="M611.0 313.1 612.5 304.5 611.3 303.3 609.8 312.1Z" fill="#f0c647"/>
<path d="M613.4 309.9 615.0 306.8 613.7 301.1 612.1 304.6Z" fill="#fdd230"/>
<path d="M615.9 314.4 617.3 316.0 616.2 308.6 614.7 306.3Z" fill="#d9c060"/>
<path d="M618.3 323.2 619.7 326.2 618.6 320.0 617.2 315.4Z" fill="#71c7a7"/>
<path d="M620.7 331.0 622.2 333.3 621.2 329.4 619.6 325.6Z" fill="#57bcdd"/>
<path d="M623.1 336.2 624.7 337.6 623.6 335.0 622.0 332.8Z" fill="#75b1e8"/>
<path d="M625.5 339.5 627.2 340.3 626.0 338.3 624.3 337.1Z" fill="#82aeec"/>
<path d="M627.9 341.8 629.6 342.1 628.4 340.5 626.7 339.9Z" fill="#94ace4"/>
<path d="M630.4 343.4 632.1 343.4 630.9 342.1 629.1 341.8Z" fill="#a4acda"/>
<path d="M632.8 344.5 634.5 344.3 633.3 343.1 631.5 343.2Z" fill="#9197ca"/>
<path d="M635.2 345.2 637.0 344.9 635.7 343.8 634.0 344.1Z" fill="#7177b6"/>
<path d="M575.5 342.6 577.3 341.8 576.0 341.1 574.2 341.8Z" fill="#555ea8"/>
<path d="M578.0 342.5 579.7 341.8 578.4 341.0 576.7 341.8Z" fill="#5860aa"/>
<path d="M580.4 342.5 582.1 341.7 580.8 341.0 579.1 341.8Z" fill="#5a62ac"/>
<path d="M582.8 342.4 584.6 341.6 583.3 340.9 581.5 341.7Z" fill="#5c64af"/>
<path d="M585.3 342.4 587.0 341.5 585.7 340.8 584.0 341.6Z" fill="#5e67b2"/>
<path d="M587.7 342.3 589.4 341.4 588.1 340.7 586.4 341.6Z" fill="#636db7"/>
<path d="M590.1 342.2 591.9 341.3 590.6 340.6 588.8 341.5Z" fill="#6d77be"/>
<path d="M592.6 342.0 594.3 340.9 593.0 340.3 591.3 341.3Z" fill="#7d88c9"/>
<path d="M595.0 341.7 596.7 340.4 595.4 339.9 593.7 341.0Z" fill="#98a5d9"/>
<path d="M597.5 341.0 599.1 339.4 597.8 339.1 596.1 340.5Z" fill="#96ace2"/>
<path d="M599.9 340.0 601.5 337.8 600.3 337.8 598.6 339.7Z" fill="#86aeee"/>
<path d="M602.3 338.2 603.9 334.8 602.7 335.4 601.1 338.2Z" fill="#7dafea"/>
<path d="M604.8 335.0 606.3 329.4 605.1 330.6 603.6 335.4Z" fill="#6ab5e4"/>
<path d="M607.2 329.5 608.7 321.0 607.5 322.2 606.1 329.9Z" fill="#55c3c9"/>
<path d="M609.7 322.3 611.1 312.5 609.9 311.5 608.5 321.6Z" fill="#9fc786"/>
<path d="M612.1 316.7 613.7 309.3 612.4 304.5 610.9 313.0Z" fill="#dec25a"/>
<path d="M614.5 316.7 616.0 314.4 614.8 306.3 613.3 309.3Z" fill="#d9c060"/>
<path d="M617.0 322.2 618.4 323.1 617.2 315.4 615.8 313.8Z" fill="#91c88f"/>
<path d="M619.4 329.2 620.8 331.0 619.7 325.6 618.2 322.6Z" fill="#54c2ce"/>
<path d="M621.8 334.9 623.3 336.2 622.2 332.8 620.6 330.5Z" fill="#6ab5e4"/>
<path d="M624.2 338.6 625.8 339.5 624.6 337.1 623.0 335.7Z" fill="#7cafea"/>
<path d="M626.6 341.2 628.3 341.7 627.1 339.8 625.4 339.0Z" fill="#88aeed"/>
<path d="M629.0 343.1 630.7 343.2 629.5 341.7 627.8 341.3Z" fill="#9dacde"/>
<path d="M631.5 344.4 633.2 344.3 631.9 343.0 630.2 342.9Z" fill="#a1a7d4"/>
<path d="M633.9 345.3 635.6 345.0 634.4 343.9 632.6 344.1Z" fill="#7f85bf"/>
<path d="M636.3 345.9 638.1 345.5 636.8 344.5 635.0 344.9Z" fill="#666eb0"/>
<path d="M574.2 343.0 575.9 342.3 574.6 341.6 572.9 342.3Z" fill="#545ca7"/>
<path d="M576.6 343.0 578.4 342.2 577.1 341.5 575.3 342.3Z" fill="#565ea8"/>
<path d="M579.1 343.0 580.8 342.2 579.5 341.5 577.8 342.3Z" fill="#5860aa"/>
<path d="M581.5 343.0 583.2 342.1 581.9 341.4 580.2 342.2Z" fill="#5a62ad"/>
<path d="M583.9 342.9 585.6 342.1 584.3 341.3 582.6 342.2Z" fill="#5c65af"/>
<path d="M586.4 342.9 588.1 342.0 586.8 341.3 585.1 342.1Z" fill="#6069b3"/>
<path d="M588.8 342.8 590.5 341.9 589.2 341.2 587.5 342.0Z" fill="#666fb8"/>
<path d="M591.2 342.7 592.9 341.7 591.6 341.0 589.9 341.9Z" fill="#727cc1"/>
<path d="M593.7 342.4 595.4 341.3 594.1 340.7 592.3 341.8Z" fill="#8692ce"/>
<path d="M596.1 342.0 597.8 340.7 596.5 340.2 594.8 341.4Z" fill="#9eacdd"/>
<path d="M598.5 341.3 600.2 339.6 598.9 339.3 597.2 340.8Z" fill="#93ace5"/>
<path d="M601.0 340.1 602.6 337.7 601.3 337.7 599.7 339.9Z" fill="#84aeed"/>
<path d="M603.4 338.2 605.0 334.4 603.8 334.8 602.2 338.1Z" fill="#7ab0e9"/>
<path d="M605.9 334.9 607.4 328.9 606.2 329.4 604.7 334.9Z" fill="#64b7e1"/>
<path d="M608.3 330.0 609.8 321.7 608.6 321.0 607.1 329.4Z" fill="#57c4c5"/>
<path d="M610.7 324.7 612.2 316.2 611.0 312.5 609.6 322.3Z" fill="#8fc890"/>
<path d="M613.2 322.0 614.8 316.5 613.5 309.3 611.8 316.5Z" fill="#afc47c"/>
<path d="M615.6 323.8 617.1 322.1 615.9 313.8 614.4 316.2Z" fill="#91c88f"/>
<path d="M618.0 328.8 619.5 329.2 618.3 322.6 616.9 321.6Z" fill="#58c4c1"/>
<path d="M620.5 333.9 622.0 334.9 620.8 330.4 619.3 328.7Z" fill="#5fb9e0"/>
<path d="M622.9 337.9 624.4 338.6 623.2 335.7 621.7 334.3Z" fill="#77b1e8"/>
<path d="M625.3 340.7 626.9 341.1 625.7 338.9 624.1 338.1Z" fill="#82aeec"/>
<path d="M627.7 342.7 629.4 342.9 628.1 341.2 626.5 340.7Z" fill="#94ace4"/>
<path d="M630.1 344.3 631.8 344.2 630.6 342.8 628.9 342.6Z" fill="#a4acda"/>
<path d="M632.6 345.3 634.3 345.1 633.0 343.9 631.3 344.0Z" fill="#9298ca"/>
<path d="M635.0 346.1 636.7 345.7 635.4 344.7 633.7 344.9Z" fill="#747ab7"/>
<path d="M575.3 343.5 577.0 342.7 575.7 342.0 574.0 342.8Z" fill="#545da7"/>
<path d="M577.7 343.5 579.4 342.7 578.1 342.0 576.4 342.7Z" fill="#575fa9"/>
<path d="M580.1 343.4 581.9 342.7 580.6 341.9 578.8 342.7Z" fill="#5961ab"/>
<path d="M582.6 343.4 584.3 342.6 583.0 341.9 581.3 342.7Z" fill="#5a63ad"/>
<path d="M585.0 343.4 586.7 342.6 585.4 341.8 583.7 342.6Z" fill="#5d65b0"/>
<path d="M587.4 343.3 589.2 342.5 587.9 341.7 586.1 342.6Z" fill="#616ab3"/>
<path d="M589.9 343.3 591.6 342.4 590.3 341.6 588.6 342.5Z" fill="#6973ba"/>
<path d="M592.3 343.1 594.0 342.1 592.7 341.4 591.0 342.4Z" fill="#7982c4"/>
<path d="M594.7 342.9 596.5 341.7 595.1 341.1 593.4 342.2Z" fill="#919cd3"/>
<path d="M597.2 342.4 598.9 340.9 597.6 340.4 595.9 341.8Z" fill="#9dacde"/>
<path d="M599.6 341.6 601.3 339.7 600.0 339.4 598.3 341.1Z" fill="#8face7"/>
<path d="M602.1 340.4 603.7 337.7 602.4 337.6 600.8 340.0Z" fill="#82aeec"/>
<path d="M604.5 338.4 606.1 334.4 604.8 334.4 603.3 338.1Z" fill="#77b0e9"/>
<path d="M607.0 335.4 608.5 329.4 607.2 328.9 605.8 334.9Z" fill="#62b8e1"/>
<path d="M609.4 331.5 610.9 324.1 609.7 321.7 608.2 330.0Z" fill="#55c2ca"/>
<path d="M611.8 328.2 613.4 321.6 612.1 316.1 610.6 324.7Z" fill="#6bc7ab"/>
<path d="M614.3 327.6 615.8 323.8 614.5 316.1 612.9 321.6Z" fill="#71c7a7"/>
<path d="M616.7 329.9 618.2 328.7 617.0 321.6 615.5 323.3Z" fill="#58c4c1"/>
<path d="M619.1 333.8 620.6 333.9 619.4 328.6 617.9 328.2Z" fill="#58bcdd"/>
<path d="M621.5 337.4 623.1 337.8 621.9 334.3 620.3 333.4Z" fill="#72b2e6"/>
<path d="M623.9 340.2 625.5 340.6 624.3 338.1 622.7 337.3Z" fill="#7eafeb"/>
<path d="M626.4 342.4 628.0 342.6 626.8 340.6 625.1 340.2Z" fill="#8aadec"/>
<path d="M628.8 344.1 630.5 344.1 629.2 342.5 627.5 342.3Z" fill="#9eacdd"/>
<path d="M631.2 345.3 632.9 345.2 631.6 343.8 629.9 343.8Z" fill="#a8aed7"/>
<path d="M633.6 346.2 635.4 345.9 634.1 344.7 632.4 345.0Z" fill="#848ac1"/>
<path d="M636.1 346.8 637.8 346.3 636.5 345.3 634.8 345.7Z" fill="#6970b1"/>
<path d="M576.4 343.9 578.1 343.2 576.8 342.4 575.1 343.2Z" fill="#555da7"/>
<path d="M578.8 343.9 580.5 343.2 579.2 342.4 577.5 343.2Z" fill="#575fa9"/>
<path d="M581.2 343.9 582.9 343.1 581.6 342.4 579.9 343.2Z" fill="#5961ab"/>
<path d="M583.7 343.9 585.4 343.1 584.1 342.3 582.4 343.1Z" fill="#5b63ad"/>
<path d="M586.1 343.9 587.8 343.0 586.5 342.3 584.8 343.1Z" fill="#5e66b0"/>
<path d="M588.5 343.8 590.2 343.0 588.9 342.2 587.2 343.1Z" fill="#636cb4"/>
<path d="M591.0 343.8 592.7 342.8 591.4 342.1 589.6 343.0Z" fill="#6d76bb"/>
<path d="M593.4 343.6 595.1 342.5 593.8 341.9 592.1 342.9Z" fill="#7f89c7"/>
<path d="M595.8 343.3 597.5 342.1 596.2 341.4 594.5 342.6Z" fill="#9ca6d8"/>
<path d="M598.3 342.8 600.0 341.2 598.6 340.7 597.0 342.2Z" fill="#9bacdf"/>
<path d="M600.7 342.0 602.4 339.9 601.1 339.5 599.4 341.5Z" fill="#8cade9"/>
<path d="M603.2 340.7 604.8 337.9 603.5 337.6 601.9 340.3Z" fill="#81aeec"/>
<path d="M605.6 338.9 607.2 334.8 605.9 334.3 604.3 338.3Z" fill="#77b1e8"/>
<path d="M608.0 336.3 609.6 330.9 608.3 329.4 606.8 335.3Z" fill="#64b7e1"/>
<path d="M610.5 333.6 612.0 327.7 610.8 324.1 609.2 331.5Z" fill="#52c0d6"/>
<path d="M612.9 332.0 614.6 327.3 613.2 321.4 611.6 328.1Z" fill="#56c3c8"/>
<path d="M615.3 332.4 616.9 329.9 615.6 323.2 614.0 327.1Z" fill="#54c2ce"/>
<path d="M617.8 334.6 619.3 333.7 618.1 328.2 616.5 329.4Z" fill="#58bcdd"/>
<path d="M620.2 337.4 621.7 337.3 620.5 333.3 619.0 333.2Z" fill="#6eb3e5"/>
<path d="M622.6 340.0 624.2 340.2 622.9 337.3 621.4 336.9Z" fill="#7bafea"/>
<path d="M625.0 342.2 626.7 342.3 625.4 340.1 623.8 339.7Z" fill="#85aeed"/>
<path d="M627.4 343.9 629.1 344.0 627.8 342.1 626.2 341.9Z" fill="#98ace1"/>
<path d="M629.9 345.3 631.6 345.2 630.3 343.7 628.6 343.7Z" fill="#a5add9"/>
<path d="M632.3 346.3 634.0 346.0 632.7 344.8 631.0 344.9Z" fill="#959bcb"/>
<path d="M634.7 347.0 636.4 346.6 635.2 345.5 633.4 345.8Z" fill="#757cb8"/>
<path d="M577.4 344.4 579.2 343.6 577.9 342.9 576.1 343.7Z" fill="#555da7"/>
<path d="M579.9 344.4 581.6 343.6 580.3 342.9 578.6 343.6Z" fill="#575fa9"/>
<path d="M582.3 344.4 584.0 343.6 582.7 342.8 581.0 343.6Z" fill="#5961ab"/>
<path d="M584.7 344.4 586.5 343.6 585.2 342.8 583.4 343.6Z" fill="#5b63ad"/>
<path d="M587.2 344.4 588.9 343.5 587.6 342.8 585.9 343.6Z" fill="#5e67b0"/>
<path d="M589.6 344.3 591.3 343.5 590.0 342.7 588.3 343.5Z" fill="#656db5"/>
<path d="M592.0 344.3 593.8 343.3 592.4 342.5 590.7 343.5Z" fill="#717abd"/>
<path d="M594.5 344.1 596.2 343.0 594.9 342.3 593.2 343.3Z" fill="#868fca"/>
<path d="M596.9 343.8 598.6 342.5 597.3 341.8 595.6 343.1Z" fill="#a2acdb"/>
<path d="M599.4 343.3 601.0 341.6 599.7 341.0 598.0 342.6Z" fill="#9aace0"/>
<path d="M601.8 342.4 603.5 340.3 602.1 339.8 600.5 341.8Z" fill="#8badeb"/>
<path d="M604.2 341.2 605.9 338.4 604.6 337.8 602.9 340.6Z" fill="#81aeec"/>
<path d="M606.7 339.6 608.3 335.8 607.0 334.8 605.4 338.8Z" fill="#77b0e9"/>
<path d="M609.1 337.7 610.7 333.1 609.4 330.9 607.9 336.3Z" fill="#6ab5e4"/>
<path d="M611.6 336.0 613.2 331.6 611.8 327.6 610.3 333.6Z" fill="#5cbade"/>
<path d="M614.0 335.4 615.6 332.2 614.3 327.0 612.6 331.7Z" fill="#57bcdd"/>
<path d="M616.4 336.3 618.0 334.5 616.7 329.3 615.1 331.9Z" fill="#5fb9e0"/>
<path d="M618.8 338.1 620.4 337.4 619.1 333.2 617.6 334.1Z" fill="#6eb3e5"/>
<path d="M621.3 340.2 622.8 340.0 621.6 336.8 620.0 336.9Z" fill="#79b0e9"/>
<path d="M623.7 342.2 625.3 342.1 624.0 339.6 622.4 339.5Z" fill="#82aeec"/>
<path d="M626.1 343.9 627.8 343.8 626.5 341.8 624.8 341.7Z" fill="#91ace6"/>
<path d="M628.5 345.3 630.2 345.2 628.9 343.5 627.2 343.5Z" fill="#a2acdb"/>
<path d="M630.9 346.4 632.6 346.1 631.4 344.8 629.7 344.9Z" fill="#a8add6"/>
<path d="M633.4 347.1 635.1 346.8 633.8 345.6 632.1 345.9Z" fill="#8389c0"/>
<path d="M578.5 344.9 580.2 344.1 579.0 343.4 577.2 344.1Z" fill="#555da8"/>
<path d="M581.0 344.9 582.7 344.1 581.4 343.3 579.7 344.1Z" fill="#575fa9"/>
<path d="M583.4 344.9 585.1 344.1 583.8 343.3 582.1 344.1Z" fill="#5961ab"/>
<path d="M585.8 344.9 587.5 344.1 586.2 343.3 584.5 344.1Z" fill="#5b63ad"/>
<path d="M588.3 344.9 590.0 344.0 588.7 343.2 586.9 344.1Z" fill="#5f67b0"/>
<path d="M590.7 344.8 592.4 344.0 591.1 343.2 589.4 344.0Z" fill="#676fb6"/>
<path d="M593.1 344.8 594.8 343.8 593.5 343.0 591.8 344.0Z" fill="#757dbf"/>
<path d="M595.6 344.6 597.3 343.5 596.0 342.7 594.2 343.8Z" fill="#8d95cd"/>
<path d="M598.0 344.3 599.7 342.9 598.4 342.2 596.7 343.6Z" fill="#a2acdb"/>
<path d="M600.4 343.7 602.1 342.0 600.8 341.4 599.1 343.1Z" fill="#9aace0"/>
<path d="M602.9 342.9 604.5 340.8 603.2 340.1 601.6 342.3Z" fill="#8aadeb"/>
<path d="M605.3 341.9 607.0 339.1 605.6 338.3 604.0 341.1Z" fill="#81aeec"/>
<path d="M607.8 340.5 609.4 337.2 608.1 335.7 606.5 339.5Z" fill="#79b0e9"/>
<path d="M610.2 339.2 611.8 335.6 610.5 333.0 608.9 337.6Z" fill="#72b2e6"/>
<path d="M612.6 338.3 614.3 335.1 612.9 331.4 611.3 335.8Z" fill="#6ab5e4"/>
<path d="M615.1 338.3 616.7 336.1 615.4 331.8 613.7 335.1Z" fill="#6ab5e4"/>
<path d="M617.5 339.2 619.1 338.0 617.8 334.0 616.2 335.8Z" fill="#72b2e6"/>
<path d="M619.9 340.7 621.5 340.1 620.2 336.8 618.6 337.6Z" fill="#79b0e9"/>
<path d="M622.3 342.4 624.0 342.1 622.7 339.4 621.1 339.7Z" fill="#81aeec"/>
<path d="M624.8 344.0 626.4 343.8 625.1 341.6 623.5 341.7Z" fill="#8badea"/>
<path d="M627.2 345.4 628.8 345.2 627.6 343.4 625.9 343.4Z" fill="#9eacdd"/>
<path d="M629.6 346.5 631.3 346.2 630.0 344.7 628.3 344.9Z" fill="#a8add8"/>
<path d="M632.0 347.3 633.7 346.9 632.4 345.7 630.7 346.0Z" fill="#9297c8"/>
<path d="M579.6 345.4 581.3 344.6 580.0 343.8 578.3 344.6Z" fill="#555da8"/>
<path d="M582.0 345.4 583.8 344.6 582.5 343.8 580.7 344.6Z" fill="#575fa9"/>
<path d="M584.5 345.4 586.2 344.6 584.9 343.8 583.2 344.6Z" fill="#5961ab"/>
<path d="M586.9 345.4 588.6 344.6 587.3 343.8 585.6 344.6Z" fill="#5b63ad"/>
<path d="M589.3 345.4 591.1 344.5 589.8 343.7 588.0 344.6Z" fill="#6068b0"/>
<path d="M591.8 345.4 593.5 344.5 592.2 343.7 590.5 344.6Z" fill="#6971b6"/>
<path d="M594.2 345.3 595.9 344.3 594.6 343.5 592.9 344.5Z" fill="#7981c0"/>
<path d="M596.6 345.1 598.4 343.9 597.0 343.2 595.3 344.3Z" fill="#929acf"/>
<path d="M599.1 344.8 600.8 343.4 599.5 342.7 597.8 344.0Z" fill="#a2acdb"/>
<path d="M601.5 344.3 603.2 342.5 601.9 341.8 600.2 343.5Z" fill="#9aace0"/>
<path d="M604.0 343.5 605.6 341.4 604.3 340.6 602.6 342.8Z" fill="#8badea"/>
<path d="M606.4 342.6 608.0 340.1 606.7 339.0 605.1 341.7Z" fill="#83aeec"/>
<path d="M608.8 341.6 610.5 338.8 609.2 337.1 607.5 340.4Z" fill="#7cafea"/>
<path d="M611.3 340.8 612.9 338.0 611.6 335.4 609.9 339.0Z" fill="#77b0e9"/>
<path d="M613.7 340.4 615.4 338.1 614.0 334.8 612.3 338.1Z" fill="#75b1e8"/>
<path d="M616.1 340.7 617.8 339.1 616.4 335.7 614.8 338.0Z" fill="#77b1e8"/>
<path d="M618.6 341.6 620.2 340.6 618.9 337.5 617.2 338.8Z" fill="#7bafea"/>
<path d="M621.0 342.9 622.6 342.2 621.3 339.6 619.7 340.3Z" fill="#81aeec"/>
<path d="M623.4 344.2 625.1 343.8 623.8 341.6 622.1 341.9Z" fill="#89aeec"/>
<path d="M625.8 345.5 627.5 345.2 626.2 343.3 624.5 343.5Z" fill="#9bacdf"/>
<path d="M628.3 346.6 629.9 346.3 628.6 344.7 627.0 344.9Z" fill="#a6add9"/>
<path d="M630.7 347.5 632.4 347.1 631.1 345.8 629.4 346.1Z" fill="#9fa4d0"/>
<path d="M580.7 345.8 582.4 345.1 581.1 344.3 579.4 345.1Z" fill="#555da8"/>
<path d="M583.1 345.9 584.8 345.1 583.5 344.3 581.8 345.1Z" fill="#575fa9"/>
<path d="M585.5 345.9 587.3 345.1 586.0 344.3 584.2 345.1Z" fill="#5961ab"/>
<path d="M588.0 345.9 589.7 345.1 588.4 344.3 586.7 345.1Z" fill="#5b63ad"/>
<path d="M590.4 345.9 592.1 345.1 590.8 344.3 589.1 345.1Z" fill="#6169b0"/>
<path d="M592.9 345.9 594.6 345.0 593.3 344.2 591.5 345.1Z" fill="#6a72b7"/>
<path d="M595.3 345.8 597.0 344.8 595.7 344.0 594.0 345.0Z" fill="#7c83c1"/>
<path d="M597.7 345.6 599.4 344.5 598.1 343.7 596.4 344.9Z" fill="#969dd0"/>
<path d="M600.2 345.3 601.9 343.9 600.5 343.1 598.8 344.6Z" fill="#a3acda"/>
<path d="M602.6 344.9 604.3 343.2 603.0 342.3 601.3 344.1Z" fill="#9bacdf"/>
<path d="M605.0 344.2 606.7 342.2 605.4 341.3 603.7 343.4Z" fill="#8eade8"/>
<path d="M607.5 343.5 609.1 341.2 607.8 339.9 606.2 342.4Z" fill="#84aeed"/>
<path d="M609.9 342.8 611.6 340.4 610.2 338.6 608.6 341.4Z" fill="#80afec"/>
<path d="M612.4 342.3 614.0 340.1 612.7 337.7 611.0 340.6Z" fill="#7dafeb"/>
<path d="M614.8 342.3 616.5 340.5 615.1 337.7 613.4 340.1Z" fill="#7cafea"/>
<path d="M617.2 342.7 618.9 341.4 617.5 338.6 615.9 340.3Z" fill="#7eafeb"/>
<path d="M619.6 343.6 621.3 342.7 620.0 340.1 618.3 341.2Z" fill="#82aeec"/>
<path d="M622.1 344.7 623.7 344.1 622.4 341.8 620.8 342.4Z" fill="#89aeec"/>
<path d="M624.5 345.8 626.2 345.3 624.8 343.4 623.2 343.8Z" fill="#99ace1"/>
<path d="M626.9 346.8 628.6 346.4 627.3 344.8 625.6 345.1Z" fill="#a4acda"/>
<path d="M629.3 347.7 631.0 347.3 629.7 345.9 628.0 346.2Z" fill="#aaaed6"/>
<path d="M581.8 346.3 583.5 345.6 582.2 344.8 580.5 345.5Z" fill="#555da7"/>
<path d="M584.2 346.4 585.9 345.6 584.6 344.8 582.9 345.6Z" fill="#575fa9"/>
<path d="M586.6 346.4 588.4 345.6 587.1 344.8 585.3 345.6Z" fill="#5860aa"/>
<path d="M589.1 346.4 590.8 345.6 589.5 344.8 587.8 345.6Z" fill="#5b63ac"/>
<path d="M591.5 346.4 593.2 345.6 591.9 344.8 590.2 345.6Z" fill="#6169b0"/>
<path d="M593.9 346.4 595.7 345.5 594.3 344.7 592.6 345.6Z" fill="#6c73b7"/>
<path d="M596.4 346.4 598.1 345.3 596.8 344.5 595.1 345.5Z" fill="#7d85c1"/>
<path d="M598.8 346.2 600.5 345.0 599.2 344.2 597.5 345.4Z" fill="#979ed1"/>
<path d="M601.3 345.9 602.9 344.5 601.6 343.7 599.9 345.1Z" fill="#a3acda"/>
<path d="M603.7 345.5 605.4 343.9 604.0 343.0 602.4 344.7Z" fill="#9dacde"/>
<path d="M606.1 345.0 607.8 343.1 606.5 342.0 604.8 344.0Z" fill="#93ace5"/>
<path d="M608.6 344.5 610.2 342.4 608.9 341.0 607.2 343.3Z" fill="#88aeed"/>
<path d="M611.0 344.0 612.7 342.0 611.3 340.2 609.7 342.6Z" fill="#84aeed"/>
<path d="M613.4 343.8 615.1 342.0 613.7 339.8 612.1 342.1Z" fill="#82aeec"/>
<path d="M615.9 344.0 617.5 342.5 616.2 340.1 614.5 342.0Z" fill="#82aeec"/>
<path d="M618.3 344.5 620.0 343.4 618.6 341.0 617.0 342.3Z" fill="#85aeed"/>
<path d="M620.7 345.3 622.4 344.5 621.1 342.3 619.4 343.2Z" fill="#8badea"/>
<path d="M623.1 346.2 624.8 345.6 623.5 343.6 621.8 344.2Z" fill="#99ace1"/>
<path d="M625.6 347.1 627.2 346.6 625.9 344.9 624.3 345.4Z" fill="#a3acda"/>
<path d="M628.0 347.9 629.7 347.5 628.4 346.0 626.7 346.4Z" fill="#a9aed7"/>
<path d="M582.8 346.8 584.6 346.1 583.3 345.3 581.5 346.0Z" fill="#555da7"/>
<path d="M585.3 346.9 587.0 346.1 585.7 345.3 584.0 346.1Z" fill="#565ea8"/>
<path d="M587.7 346.9 589.4 346.1 588.1 345.3 586.4 346.1Z" fill="#5860aa"/>
<path d="M590.1 346.9 591.9 346.1 590.6 345.3 588.8 346.1Z" fill="#5b63ac"/>
<path d="M592.6 347.0 594.3 346.1 593.0 345.3 591.3 346.1Z" fill="#6169b0"/>
<path d="M595.0 347.0 596.7 346.1 595.4 345.2 593.7 346.1Z" fill="#6c74b7"/>
<path d="M597.5 346.9 599.2 345.9 597.8 345.1 596.1 346.1Z" fill="#7e85c1"/>
<path d="M599.9 346.8 601.6 345.6 600.3 344.8 598.6 345.9Z" fill="#989ed0"/>
<path d="M602.3 346.5 604.0 345.2 602.7 344.3 601.0 345.7Z" fill="#a5add9"/>
<path d="M604.8 346.2 606.5 344.7 605.1 343.6 603.4 345.3Z" fill="#9facdc"/>
<path d="M607.2 345.8 608.9 344.1 607.5 342.9 605.9 344.8Z" fill="#98ace1"/>
<path d="M609.6 345.5 611.3 343.7 610.0 342.2 608.3 344.2Z" fill="#8face7"/>
<path d="M612.1 345.2 613.8 343.5 612.4 341.7 610.7 343.8Z" fill="#89aeec"/>
<path d="M614.5 345.2 616.2 343.7 614.8 341.7 613.2 343.5Z" fill="#88aeed"/>
<path d="M616.9 345.5 618.6 344.3 617.3 342.1 615.6 343.6Z" fill="#8aadec"/>
<path d="M619.4 346.0 621.0 345.1 619.7 343.0 618.0 344.1Z" fill="#91ace6"/>
<path d="M621.8 346.7 623.5 346.0 622.1 344.1 620.5 344.9Z" fill="#9bacdf"/>
<path d="M624.2 347.5 625.9 346.9 624.6 345.2 622.9 345.8Z" fill="#a3acda"/>
<path d="M626.6 348.3 628.3 347.7 627.0 346.2 625.3 346.7Z" fill="#a8aed7"/>
<path d="M583.9 347.3 585.7 346.6 584.4 345.8 582.6 346.5Z" fill="#545ca7"/>
<path d="M586.4 347.4 588.1 346.6 586.8 345.8 585.1 346.6Z" fill="#565ea8"/>
<path d="M588.8 347.4 590.5 346.6 589.2 345.8 587.5 346.6Z" fill="#5860a9"/>
<path d="M591.2 347.5 593.0 346.7 591.6 345.8 589.9 346.6Z" fill="#5b63ac"/>
<path d="M593.7 347.5 595.4 346.7 594.1 345.8 592.4 346.7Z" fill="#6169af"/>
<path d="M596.1 347.5 597.8 346.6 596.5 345.8 594.8 346.7Z" fill="#6c74b6"/>
<path d="M598.5 347.5 600.2 346.5 598.9 345.6 597.2 346.6Z" fill="#7e85c0"/>
<path d="M601.0 347.4 602.7 346.2 601.4 345.3 599.7 346.5Z" fill="#979dcf"/>
<path d="M603.4 347.2 605.1 345.9 603.8 344.9 602.1 346.3Z" fill="#a6add9"/>
<path d="M605.9 347.0 607.5 345.5 606.2 344.4 604.5 346.0Z" fill="#a2acdb"/>
<path d="M608.3 346.7 610.0 345.1 608.6 343.9 607.0 345.6Z" fill="#9dacde"/>
<path d="M610.7 346.5 612.4 344.9 611.1 343.4 609.4 345.2Z" fill="#98ace1"/>
<path d="M613.2 346.4 614.8 344.9 613.5 343.2 611.8 344.9Z" fill="#94ace4"/>
<path d="M615.6 346.5 617.3 345.2 615.9 343.4 614.2 344.9Z" fill="#94ace4"/>
<path d="M618.0 346.9 619.7 345.8 618.4 343.9 616.7 345.1Z" fill="#98ace1"/>
<path d="M620.4 347.4 622.1 346.5 620.8 344.7 619.1 345.7Z" fill="#9eacdd"/>
<path d="M622.9 348.0 624.6 347.3 623.2 345.6 621.5 346.4Z" fill="#a4acda"/>
<path d="M625.3 348.6 627.0 348.1 625.7 346.5 624.0 347.1Z" fill="#a8aed7"/>
<path d="M585.0 347.8 586.7 347.1 585.4 346.3 583.7 347.0Z" fill="#545ca6"/>
<path d="M587.4 347.9 589.2 347.1 587.9 346.3 586.1 347.1Z" fill="#555da7"/>
<path d="M589.9 347.9 591.6 347.2 590.3 346.4 588.6 347.1Z" fill="#575fa9"/>
<path d="M592.3 348.0 594.0 347.2 592.7 346.4 591.0 347.2Z" fill="#5a62ab"/>
<path d="M594.7 348.0 596.5 347.2 595.2 346.4 593.4 347.2Z" fill="#6169af"/>
<path d="M597.2 348.1 598.9 347.2 597.6 346.3 595.9 347.2Z" fill="#6c73b5"/>
<path d="M599.6 348.1 601.3 347.1 600.0 346.2 598.3 347.2Z" fill="#7d84bf"/>
<path d="M602.1 348.0 603.8 346.9 602.4 346.0 600.7 347.1Z" fill="#9399cc"/>
<path d="M604.5 347.9 606.2 346.6 604.9 345.6 603.2 346.9Z" fill="#a8add8"/>
<path d="M606.9 347.7 608.6 346.4 607.3 345.2 605.6 346.7Z" fill="#a5add9"/>
<path d="M609.4 347.6 611.1 346.2 609.7 344.9 608.0 346.4Z" fill="#a1acdb"/>
<path d="M611.8 347.5 613.5 346.1 612.1 344.6 610.5 346.2Z" fill="#9facdd"/>
<path d="M614.2 347.5 615.9 346.3 614.6 344.6 612.9 346.1Z" fill="#9dacde"/>
<path d="M616.7 347.7 618.4 346.6 617.0 344.9 615.3 346.2Z" fill="#9eacdd"/>
<path d="M619.1 348.1 620.8 347.1 619.4 345.4 617.8 346.5Z" fill="#a2acdb"/>
<path d="M621.5 348.5 623.2 347.8 621.9 346.1 620.2 347.0Z" fill="#a6add9"/>
<path d="M623.9 349.1 625.6 348.4 624.3 346.9 622.6 347.6Z" fill="#a9aed7"/>
<path d="M588.5 348.4 590.3 347.7 589.0 346.8 587.2 347.6Z" fill="#545ca7"/>
<path d="M591.0 348.5 592.7 347.7 591.4 346.9 589.7 347.6Z" fill="#565ea8"/>
<path d="M593.4 348.5 595.1 347.8 593.8 346.9 592.1 347.7Z" fill="#5a61aa"/>
<path d="M595.8 348.6 597.5 347.8 596.2 346.9 594.5 347.8Z" fill="#6068ae"/>
<path d="M598.3 348.6 600.0 347.8 598.7 346.9 597.0 347.8Z" fill="#6b72b4"/>
<path d="M600.7 348.6 602.4 347.7 601.1 346.8 599.4 347.8Z" fill="#7a81bd"/>
<path d="M603.1 348.6 604.8 347.6 603.5 346.6 601.8 347.7Z" fill="#8d93c8"/>
<path d="M605.6 348.5 607.3 347.4 605.9 346.4 604.2 347.6Z" fill="#a2a8d4"/>
<path d="M608.0 348.5 609.7 347.2 608.4 346.1 606.7 347.4Z" fill="#a7add8"/>
<path d="M610.4 348.4 612.1 347.2 610.8 345.9 609.1 347.3Z" fill="#a5add9"/>
<path d="M612.9 348.4 614.6 347.2 613.2 345.8 611.5 347.2Z" fill="#a4acda"/>
<path d="M615.3 348.5 617.0 347.5 615.7 345.9 614.0 347.2Z" fill="#a4acda"/>
<path d="M617.7 348.8 619.4 347.8 618.1 346.3 616.4 347.4Z" fill="#a5add9"/>
<path d="M620.2 349.1 621.9 348.3 620.5 346.8 618.8 347.7Z" fill="#a8add8"/>
<path d="M622.6 349.6 624.3 348.8 623.0 347.4 621.3 348.2Z" fill="#aaaed6"/>
<path d="M592.0 349.0 593.8 348.3 592.5 347.4 590.7 348.2Z" fill="#555da7"/>
<path d="M594.5 349.1 596.2 348.3 594.9 347.5 593.2 348.2Z" fill="#5960a9"/>
<path d="M596.9 349.1 598.6 348.3 597.3 347.5 595.6 348.3Z" fill="#5f66ad"/>
<path d="M599.3 349.2 601.1 348.4 599.7 347.5 598.0 348.3Z" fill="#6870b2"/>
<path d="M601.8 349.2 603.5 348.3 602.2 347.4 600.5 348.4Z" fill="#767cba"/>
<path d="M604.2 349.2 605.9 348.2 604.6 347.3 602.9 348.3Z" fill="#868cc3"/>
<path d="M606.7 349.2 608.4 348.2 607.0 347.1 605.3 348.3Z" fill="#969ccc"/>
<path d="M609.1 349.2 610.8 348.1 609.5 347.0 607.8 348.2Z" fill="#a2a7d3"/>
<path d="M611.5 349.2 613.2 348.1 611.9 346.9 610.2 348.1Z" fill="#a6acd6"/>
<path d="M614.0 349.3 615.7 348.3 614.3 346.9 612.6 348.1Z" fill="#a1a7d4"/>
<path d="M616.4 349.5 618.1 348.5 616.7 347.1 615.1 348.2Z" fill="#a8aed7"/>
<path d="M618.8 349.8 620.5 348.9 619.2 347.5 617.5 348.5Z" fill="#a8add6"/>
<path d="M621.2 350.1 622.9 349.3 621.6 348.0 619.9 348.8Z" fill="#9fa4d0"/>
<path d="M595.6 349.6 597.3 348.9 596.0 348.0 594.3 348.8Z" fill="#575fa8"/>
<path d="M598.0 349.7 599.7 348.9 598.4 348.1 596.7 348.9Z" fill="#5d64ab"/>
<path d="M600.4 349.8 602.1 348.9 600.8 348.1 599.1 348.9Z" fill="#656cb0"/>
<path d="M602.9 349.8 604.6 348.9 603.3 348.0 601.5 348.9Z" fill="#7077b6"/>
<path d="M605.3 349.9 607.0 348.9 605.7 348.0 604.0 348.9Z" fill="#7d83be"/>
<path d="M607.7 349.9 609.4 348.9 608.1 347.9 606.4 348.9Z" fill="#898fc4"/>
<path d="M610.2 349.9 611.9 348.9 610.5 347.8 608.8 348.9Z" fill="#9096c9"/>
<path d="M612.6 350.0 614.3 349.0 613.0 347.8 611.3 348.9Z" fill="#9197ca"/>
<path d="M615.0 350.2 616.7 349.2 615.4 348.0 613.7 349.0Z" fill="#9298ca"/>
<path d="M617.5 350.3 619.2 349.5 617.8 348.2 616.1 349.2Z" fill="#959bcb"/>
<path d="M619.9 350.6 621.6 349.8 620.3 348.6 618.6 349.4Z" fill="#9297c8"/>
<path d="M599.1 350.3 600.8 349.5 599.5 348.6 597.8 349.4Z" fill="#5a62aa"/>
<path d="M601.5 350.3 603.2 349.5 601.9 348.6 600.2 349.5Z" fill="#6169ae"/>
<path d="M603.9 350.4 605.7 349.6 604.3 348.7 602.6 349.5Z" fill="#6a71b3"/>
<path d="M606.4 350.5 608.1 349.6 606.8 348.6 605.1 349.6Z" fill="#747ab8"/>
<path d="M608.8 350.6 610.5 349.7 609.2 348.6 607.5 349.6Z" fill="#7c82bc"/>
<path d="M611.2 350.6 613.0 349.7 611.6 348.6 609.9 349.6Z" fill="#7f86bf"/>
<path d="M613.7 350.8 615.4 349.9 614.1 348.7 612.4 349.7Z" fill="#7f85bf"/>
<path d="M616.1 350.9 617.8 350.1 616.5 348.9 614.8 349.8Z" fill="#848ac1"/>
<path d="M618.5 351.1 620.2 350.3 618.9 349.2 617.2 350.0Z" fill="#8389c0"/>
<path d="M602.6 350.9 604.3 350.1 603.0 349.2 601.3 350.0Z" fill="#5d65ab"/>
<path d="M605.0 351.0 606.7 350.2 605.4 349.3 603.7 350.1Z" fill="#646baf"/>
<path d="M607.5 351.1 609.2 350.3 607.9 349.3 606.1 350.2Z" fill="#6a71b2"/>
<path d="M609.9 351.2 611.6 350.4 610.3 349.4 608.6 350.3Z" fill="#6f76b5"/>
<path d="M612.3 351.3 614.0 350.5 612.7 349.4 611.0 350.3Z" fill="#7177b6"/>
<path d="M614.8 351.4 616.5 350.6 615.1 349.6 613.4 350.4Z" fill="#747ab7"/>
<path d="M617.2 351.6 618.9 350.9 617.6 349.8 615.9 350.6Z" fill="#757cb8"/>
<path d="M608.5 351.7 610.3 350.9 608.9 350.0 607.2 350.8Z" fill="#6269ad"/>
<path d="M611.0 351.8 612.7 351.0 611.4 350.1 609.7 350.9Z" fill="#646caf"/>
<path d="M613.4 351.9 615.1 351.2 613.8 350.2 612.1 351.0Z" fill="#666eb0"/>
<path d="M615.8 352.1 617.5 351.4 616.2 350.3 614.5 351.1Z" fill="#6970b1"/>
<text x="539.5" y="338.0" font-size="10" text-anchor="middle" fill="#222" font-weight="normal">0</text>
<text x="537.0" y="307.8" font-size="10" text-anchor="middle" fill="#222" font-weight="normal">5</text>
<text x="542.3" y="285.5" font-size="9" fill="#222"><tspan font-size="10">×</tspan>10<tspan font-size="6.5" dy="-3.3">-4</tspan></text>
<text x="544.7" y="347.2" font-size="10" text-anchor="middle" fill="#222" font-weight="normal">50</text>
<text x="567.5" y="355.9" font-size="10" text-anchor="middle" fill="#222" font-weight="normal">0</text>
<text x="584.1" y="365.3" font-size="10" text-anchor="middle" fill="#222" font-weight="normal">-50</text>
<text x="608.7" y="366.0" font-size="10" text-anchor="middle" fill="#222" font-weight="normal">-50</text>
<text x="632.8" y="359.4" font-size="10" text-anchor="middle" fill="#222" font-weight="normal">0</text>
<text x="664.0" y="352.2" font-size="10" text-anchor="middle" fill="#222" font-weight="normal">50</text>
<polyline points="550.8,414.0 608.5,400.4 655.3,419.5" fill="none" stroke="#dadada" stroke-width="1.3"/>
<line x1="579.6" y1="437.7" x2="579.6" y2="395.0" stroke="#dadada" stroke-width="1.3"/>
<line x1="608.5" y1="430.9" x2="608.5" y2="388.2" stroke="#dadada" stroke-width="1.3"/>
<line x1="631.9" y1="440.4" x2="631.9" y2="397.8" stroke="#dadada" stroke-width="1.3"/>
<line x1="655.3" y1="450.0" x2="655.3" y2="407.3" stroke="#dadada" stroke-width="1.3"/>
<line x1="611.5" y1="431.9" x2="611.5" y2="389.2" stroke="#dadada" stroke-width="1.1"/>
<line x1="550.8" y1="445.0" x2="550.8" y2="401.8" stroke="#111" stroke-width="1.8"/>
<line x1="550.8" y1="414.0" x2="553.3" y2="413.4" stroke="#111" stroke-width="1"/>
<polygon points="550.8,444.5 597.6,463.6 655.3,450.0 608.5,430.9" fill="#3f4a9b"/>
<path d="M600.4 436.3 602.5 435.9 601.0 435.2 599.0 435.7Z" fill="#565fac"/>
<path d="M603.3 436.4 605.4 436.0 603.9 435.3 601.9 435.8Z" fill="#5760ad"/>
<path d="M606.2 436.6 608.3 436.1 606.8 435.5 604.8 436.0Z" fill="#5861ad"/>
<path d="M609.1 436.7 611.2 436.3 609.7 435.6 607.7 436.1Z" fill="#5760ad"/>
<path d="M612.0 437.0 614.1 436.5 612.6 435.8 610.6 436.3Z" fill="#565fac"/>
<path d="M595.9 436.5 598.0 436.0 596.5 435.4 594.5 435.9Z" fill="#5760ad"/>
<path d="M598.8 436.6 600.9 436.1 599.4 435.5 597.4 436.0Z" fill="#5a63b0"/>
<path d="M601.7 436.6 603.8 436.2 602.3 435.6 600.3 436.1Z" fill="#5c66b3"/>
<path d="M604.6 436.7 606.7 436.3 605.2 435.7 603.2 436.2Z" fill="#5d67b4"/>
<path d="M607.5 436.9 609.6 436.5 608.1 435.9 606.1 436.3Z" fill="#5d67b4"/>
<path d="M610.4 437.1 612.5 436.7 611.0 436.0 609.0 436.5Z" fill="#5c66b3"/>
<path d="M613.3 437.3 615.4 436.9 613.9 436.2 611.9 436.7Z" fill="#5a63b0"/>
<path d="M616.2 437.6 618.3 437.2 616.8 436.5 614.8 436.9Z" fill="#5760ad"/>
<path d="M591.4 436.8 593.5 436.2 592.0 435.6 590.0 436.2Z" fill="#565fac"/>
<path d="M594.3 436.8 596.4 436.3 594.9 435.7 592.9 436.2Z" fill="#5a64b1"/>
<path d="M597.2 436.8 599.3 436.3 597.8 435.7 595.8 436.3Z" fill="#5e68b5"/>
<path d="M600.1 436.8 602.2 436.4 600.7 435.8 598.7 436.3Z" fill="#616cb9"/>
<path d="M603.0 436.9 605.1 436.5 603.6 435.9 601.6 436.4Z" fill="#626ebb"/>
<path d="M605.9 437.0 608.0 436.6 606.5 436.1 604.5 436.5Z" fill="#626fbc"/>
<path d="M608.8 437.2 610.9 436.9 609.4 436.2 607.4 436.6Z" fill="#626ebb"/>
<path d="M611.7 437.4 613.8 437.1 612.3 436.4 610.3 436.8Z" fill="#616cb9"/>
<path d="M614.6 437.7 616.7 437.4 615.2 436.7 613.2 437.0Z" fill="#5e68b5"/>
<path d="M617.5 438.0 619.6 437.6 618.1 436.9 616.1 437.3Z" fill="#5a64b1"/>
<path d="M620.5 438.3 622.5 437.9 621.0 437.2 619.0 437.6Z" fill="#565fac"/>
<path d="M589.8 437.1 591.9 436.5 590.4 436.0 588.4 436.5Z" fill="#5962ae"/>
<path d="M592.7 437.0 594.8 436.5 593.3 436.0 591.3 436.5Z" fill="#5d67b5"/>
<path d="M595.6 437.0 597.7 436.5 596.2 436.0 594.2 436.5Z" fill="#616dba"/>
<path d="M598.5 437.0 600.6 436.6 599.1 436.1 597.1 436.5Z" fill="#6472bf"/>
<path d="M601.4 437.0 603.5 436.6 602.1 436.1 600.0 436.5Z" fill="#6575c3"/>
<path d="M604.3 437.1 606.4 436.8 605.0 436.2 602.9 436.6Z" fill="#6677c4"/>
<path d="M607.2 437.2 609.3 436.9 607.9 436.4 605.8 436.7Z" fill="#6677c4"/>
<path d="M610.1 437.4 612.2 437.2 610.8 436.6 608.7 436.9Z" fill="#6575c3"/>
<path d="M613.0 437.7 615.1 437.5 613.7 436.8 611.6 437.1Z" fill="#6472bf"/>
<path d="M615.9 438.1 618.0 437.8 616.5 437.1 614.5 437.4Z" fill="#626dba"/>
<path d="M618.8 438.4 620.9 438.1 619.4 437.3 617.4 437.7Z" fill="#5e68b5"/>
<path d="M621.8 438.8 623.8 438.4 622.3 437.6 620.3 438.0Z" fill="#5962af"/>
<path d="M588.2 437.4 590.3 436.8 588.8 436.3 586.8 436.9Z" fill="#5a64b1"/>
<path d="M591.1 437.3 593.2 436.8 591.7 436.3 589.7 436.8Z" fill="#606bb8"/>
<path d="M594.0 437.2 596.1 436.7 594.6 436.3 592.6 436.8Z" fill="#6472bf"/>
<path d="M596.9 437.1 599.0 436.7 597.5 436.3 595.5 436.7Z" fill="#6778c5"/>
<path d="M599.8 437.1 601.9 436.8 600.5 436.3 598.4 436.7Z" fill="#687eca"/>
<path d="M602.6 437.1 604.8 436.9 603.4 436.4 601.3 436.7Z" fill="#6981ce"/>
<path d="M605.5 437.2 607.7 437.0 606.3 436.5 604.2 436.8Z" fill="#6a82cf"/>
<path d="M608.5 437.4 610.6 437.2 609.2 436.7 607.1 437.0Z" fill="#6981ce"/>
<path d="M611.4 437.7 613.5 437.5 612.1 436.9 610.0 437.2Z" fill="#687eca"/>
<path d="M614.3 438.0 616.4 437.8 615.0 437.2 612.9 437.5Z" fill="#6778c5"/>
<path d="M617.2 438.4 619.3 438.2 617.9 437.5 615.8 437.8Z" fill="#6472bf"/>
<path d="M620.1 438.8 622.2 438.5 620.7 437.8 618.7 438.1Z" fill="#606bb8"/>
<path d="M623.1 439.2 625.1 438.9 623.6 438.1 621.6 438.5Z" fill="#5b64b1"/>
<path d="M586.6 437.7 588.7 437.1 587.2 436.6 585.2 437.2Z" fill="#5c66b3"/>
<path d="M589.5 437.6 591.6 437.0 590.1 436.6 588.1 437.1Z" fill="#626ebb"/>
<path d="M592.4 437.4 594.5 437.0 593.0 436.5 591.0 437.1Z" fill="#6676c3"/>
<path d="M595.3 437.3 597.4 436.9 596.0 436.5 593.9 437.0Z" fill="#697fcc"/>
<path d="M598.1 437.2 600.3 436.9 598.9 436.5 596.8 436.9Z" fill="#6783d2"/>
<path d="M601.0 437.1 603.2 436.9 601.8 436.6 599.7 436.9Z" fill="#6284d6"/>
<path d="M603.9 437.2 606.1 437.0 604.7 436.7 602.6 436.9Z" fill="#6084d8"/>
<path d="M606.8 437.3 609.0 437.2 607.6 436.8 605.5 437.0Z" fill="#6084d8"/>
<path d="M609.7 437.6 611.9 437.5 610.5 437.0 608.4 437.2Z" fill="#6284d6"/>
<path d="M612.6 437.9 614.8 437.8 613.4 437.3 611.3 437.5Z" fill="#6783d2"/>
<path d="M615.6 438.4 617.7 438.2 616.3 437.6 614.2 437.8Z" fill="#697fcc"/>
<path d="M618.5 438.8 620.6 438.6 619.2 437.9 617.1 438.1Z" fill="#6677c4"/>
<path d="M621.4 439.2 623.5 439.0 622.0 438.2 620.0 438.5Z" fill="#626ebc"/>
<path d="M624.3 439.7 626.4 439.4 624.9 438.6 622.9 438.9Z" fill="#5c66b3"/>
<path d="M585.0 438.1 587.1 437.5 585.6 436.9 583.6 437.6Z" fill="#5d67b4"/>
<path d="M587.9 437.9 590.0 437.3 588.5 436.9 586.5 437.5Z" fill="#6370bd"/>
<path d="M590.8 437.7 592.9 437.2 591.4 436.8 589.4 437.4Z" fill="#677ac7"/>
<path d="M593.7 437.5 595.8 437.1 594.4 436.7 592.3 437.2Z" fill="#6883d1"/>
<path d="M596.5 437.3 598.7 437.0 597.3 436.7 595.2 437.1Z" fill="#6084d8"/>
<path d="M599.4 437.2 601.6 437.0 600.2 436.7 598.1 437.0Z" fill="#5987de"/>
<path d="M602.3 437.1 604.5 437.1 603.1 436.8 601.0 437.0Z" fill="#5488e3"/>
<path d="M605.2 437.2 607.4 437.2 606.0 436.9 603.9 437.0Z" fill="#5389e3"/>
<path d="M608.1 437.4 610.3 437.5 608.9 437.1 606.8 437.2Z" fill="#5488e3"/>
<path d="M611.0 437.8 613.2 437.8 611.8 437.3 609.7 437.4Z" fill="#5987de"/>
<path d="M613.9 438.2 616.1 438.2 614.7 437.6 612.6 437.7Z" fill="#6085d8"/>
<path d="M616.9 438.7 619.0 438.6 617.6 438.0 615.5 438.1Z" fill="#6783d1"/>
<path d="M619.8 439.2 621.9 439.0 620.5 438.3 618.4 438.5Z" fill="#687bc8"/>
<path d="M622.7 439.7 624.8 439.5 623.4 438.7 621.3 438.9Z" fill="#6471bf"/>
<path d="M625.6 440.2 627.7 439.9 626.2 439.1 624.2 439.4Z" fill="#5e68b5"/>
<path d="M583.4 438.4 585.5 437.8 584.0 437.3 582.0 437.9Z" fill="#5d67b5"/>
<path d="M586.3 438.2 588.4 437.6 586.9 437.2 584.9 437.8Z" fill="#6472bf"/>
<path d="M589.2 438.0 591.3 437.4 589.8 437.1 587.8 437.7Z" fill="#687eca"/>
<path d="M592.0 437.7 594.2 437.3 592.8 437.0 590.7 437.5Z" fill="#6484d4"/>
<path d="M594.9 437.5 597.1 437.1 595.7 436.9 593.6 437.3Z" fill="#5987de"/>
<path d="M597.8 437.2 600.0 437.0 598.6 436.9 596.5 437.1Z" fill="#518ae5"/>
<path d="M600.7 437.1 602.9 437.0 601.6 436.9 599.4 437.1Z" fill="#508be5"/>
<path d="M603.6 437.1 605.8 437.2 604.5 437.0 602.3 437.0Z" fill="#4f8be5"/>
<path d="M606.5 437.2 608.7 437.4 607.4 437.1 605.2 437.1Z" fill="#4f8be5"/>
<path d="M609.4 437.5 611.6 437.7 610.3 437.4 608.1 437.3Z" fill="#508be5"/>
<path d="M612.3 437.9 614.5 438.1 613.2 437.6 611.0 437.6Z" fill="#528ae5"/>
<path d="M615.2 438.4 617.4 438.5 616.0 438.0 613.9 438.0Z" fill="#5887e0"/>
<path d="M618.1 438.9 620.3 439.0 618.9 438.4 616.8 438.4Z" fill="#6284d6"/>
<path d="M621.1 439.5 623.2 439.5 621.8 438.8 619.7 438.9Z" fill="#6980cd"/>
<path d="M624.0 440.1 626.1 439.9 624.7 439.2 622.6 439.4Z" fill="#6574c1"/>
<path d="M626.9 440.6 629.0 440.4 627.5 439.6 625.5 439.9Z" fill="#606ab7"/>
<path d="M629.9 441.1 631.9 440.8 630.4 439.9 628.4 440.3Z" fill="#5861ad"/>
<path d="M581.8 438.8 583.8 438.2 582.4 437.7 580.3 438.3Z" fill="#5d67b5"/>
<path d="M584.7 438.6 586.8 438.0 585.3 437.5 583.3 438.2Z" fill="#6473c0"/>
<path d="M587.6 438.3 589.7 437.7 588.2 437.4 586.2 438.0Z" fill="#6980cd"/>
<path d="M590.4 438.0 592.6 437.5 591.2 437.2 589.1 437.8Z" fill="#6085d8"/>
<path d="M593.3 437.7 595.5 437.3 594.1 437.1 592.0 437.5Z" fill="#558ae4"/>
<path d="M596.2 437.3 598.4 437.1 597.0 437.0 594.9 437.3Z" fill="#558fe6"/>
<path d="M599.1 437.1 601.3 437.0 600.0 437.0 597.8 437.1Z" fill="#5491e5"/>
<path d="M602.0 436.9 604.2 437.1 602.9 437.0 600.7 437.0Z" fill="#5190e5"/>
<path d="M604.9 437.0 607.1 437.2 605.8 437.2 603.6 437.1Z" fill="#4c8ee4"/>
<path d="M607.8 437.2 610.0 437.5 608.7 437.4 606.5 437.2Z" fill="#5190e5"/>
<path d="M610.7 437.6 612.9 437.9 611.6 437.6 609.4 437.5Z" fill="#5592e6"/>
<path d="M613.6 438.0 615.8 438.3 614.5 438.0 612.3 437.8Z" fill="#5992e7"/>
<path d="M616.5 438.5 618.7 438.8 617.4 438.4 615.2 438.3Z" fill="#5c91e7"/>
<path d="M619.4 439.1 621.6 439.4 620.2 438.8 618.1 438.7Z" fill="#648cde"/>
<path d="M622.3 439.8 624.5 439.9 623.1 439.2 621.0 439.3Z" fill="#6a85d2"/>
<path d="M625.3 440.5 627.4 440.4 626.0 439.7 623.9 439.8Z" fill="#697ac5"/>
<path d="M628.2 441.1 630.3 440.9 628.8 440.1 626.8 440.3Z" fill="#626db9"/>
<path d="M631.2 441.7 633.2 441.3 631.7 440.5 629.7 440.8Z" fill="#5861ad"/>
<path d="M580.2 439.2 582.2 438.5 580.8 438.0 578.7 438.7Z" fill="#5d67b4"/>
<path d="M583.1 439.0 585.1 438.3 583.7 437.9 581.6 438.6Z" fill="#6473c0"/>
<path d="M586.0 438.7 588.1 438.1 586.6 437.7 584.6 438.4Z" fill="#6981ce"/>
<path d="M588.8 438.3 591.0 437.8 589.6 437.5 587.5 438.1Z" fill="#5d85da"/>
<path d="M591.7 437.9 593.9 437.5 592.5 437.3 590.4 437.8Z" fill="#558de6"/>
<path d="M594.6 437.5 596.8 437.2 595.4 437.2 593.3 437.5Z" fill="#5993e6"/>
<path d="M597.5 437.1 599.7 437.1 598.4 437.1 596.2 437.3Z" fill="#5997e6"/>
<path d="M600.4 436.8 602.6 437.0 601.3 437.1 599.1 437.1Z" fill="#5797e5"/>
<path d="M603.3 436.8 605.5 437.1 604.2 437.2 602.0 437.0Z" fill="#5296e4"/>
<path d="M606.2 436.9 608.4 437.3 607.1 437.3 604.9 437.1Z" fill="#5296e4"/>
<path d="M609.1 437.2 611.3 437.7 610.0 437.6 607.8 437.3Z" fill="#5898e5"/>
<path d="M612.0 437.6 614.2 438.1 612.9 437.9 610.7 437.6Z" fill="#5d99e6"/>
<path d="M614.9 438.0 617.1 438.6 615.8 438.4 613.6 438.0Z" fill="#629be7"/>
<path d="M617.8 438.5 620.0 439.1 618.7 438.8 616.5 438.5Z" fill="#699ce9"/>
<path d="M620.7 439.2 622.9 439.7 621.6 439.3 619.4 439.0Z" fill="#6d9ae7"/>
<path d="M623.6 440.0 625.8 440.3 624.4 439.7 622.3 439.6Z" fill="#7290d9"/>
<path d="M626.6 440.9 628.7 440.9 627.3 440.1 625.2 440.2Z" fill="#6e7fc9"/>
<path d="M629.5 441.7 631.6 441.5 630.1 440.6 628.1 440.8Z" fill="#646eb9"/>
<path d="M578.6 439.7 580.6 439.0 579.2 438.4 577.1 439.2Z" fill="#5c66b3"/>
<path d="M581.5 439.4 583.5 438.7 582.1 438.3 580.0 439.0Z" fill="#6472bf"/>
<path d="M584.4 439.1 586.4 438.4 585.0 438.1 582.9 438.8Z" fill="#6981ce"/>
<path d="M587.3 438.7 589.4 438.1 587.9 437.8 585.9 438.5Z" fill="#5c86dc"/>
<path d="M590.1 438.2 592.3 437.7 590.9 437.6 588.8 438.1Z" fill="#5790e7"/>
<path d="M593.0 437.7 595.2 437.4 593.8 437.4 591.7 437.8Z" fill="#5c97e6"/>
<path d="M595.9 437.2 598.1 437.1 596.8 437.2 594.6 437.4Z" fill="#5e9ce6"/>
<path d="M598.8 436.8 601.0 436.9 599.7 437.2 597.5 437.1Z" fill="#5d9ee5"/>
<path d="M601.7 436.6 603.9 436.9 602.5 437.2 600.4 437.0Z" fill="#5a9ee4"/>
<path d="M604.7 436.6 606.8 437.1 605.4 437.3 603.3 436.9Z" fill="#549ce3"/>
<path d="M607.6 436.8 609.7 437.4 608.3 437.5 606.2 437.0Z" fill="#5a9fe4"/>
<path d="M610.5 437.2 612.6 437.8 611.2 437.8 609.1 437.3Z" fill="#5fa0e5"/>
<path d="M613.4 437.5 615.5 438.2 614.1 438.2 612.0 437.7Z" fill="#66a2e7"/>
<path d="M616.3 437.9 618.4 438.7 617.0 438.7 614.9 438.1Z" fill="#71a7e9"/>
<path d="M619.2 438.4 621.3 439.3 619.9 439.3 617.8 438.6Z" fill="#7cabeb"/>
<path d="M622.1 439.2 624.2 440.0 622.9 439.8 620.7 439.2Z" fill="#7eaaec"/>
<path d="M624.9 440.3 627.1 440.8 625.8 440.2 623.6 439.9Z" fill="#7a9ae0"/>
<path d="M627.9 441.4 630.0 441.5 628.6 440.7 626.5 440.7Z" fill="#7183cb"/>
<path d="M630.9 442.2 632.9 442.0 631.4 441.1 629.4 441.4Z" fill="#646eb9"/>
<path d="M577.0 440.1 579.0 439.4 577.6 438.9 575.5 439.6Z" fill="#5b64b1"/>
<path d="M579.9 439.9 581.9 439.1 580.5 438.7 578.4 439.4Z" fill="#6370be"/>
<path d="M582.8 439.5 584.8 438.8 583.4 438.5 581.3 439.2Z" fill="#6980cd"/>
<path d="M585.7 439.1 587.7 438.4 586.3 438.2 584.2 438.9Z" fill="#5c86dc"/>
<path d="M588.5 438.5 590.6 438.0 589.3 437.9 587.2 438.5Z" fill="#5991e7"/>
<path d="M591.4 438.0 593.6 437.6 592.2 437.6 590.1 438.1Z" fill="#5e99e6"/>
<path d="M594.3 437.3 596.5 437.2 595.2 437.4 593.0 437.6Z" fill="#61a0e6"/>
<path d="M597.2 436.8 599.4 436.9 598.0 437.2 595.9 437.3Z" fill="#62a4e5"/>
<path d="M600.2 436.4 602.3 436.8 600.9 437.1 598.8 437.0Z" fill="#62a7e4"/>
<path d="M603.1 436.3 605.2 436.8 603.8 437.2 601.7 436.8Z" fill="#5ea6e3"/>
<path d="M606.0 436.4 608.1 437.1 606.7 437.3 604.6 436.8Z" fill="#5da6e3"/>
<path d="M608.9 436.7 611.0 437.4 609.6 437.6 607.5 437.0Z" fill="#62a8e4"/>
<path d="M611.8 437.0 613.9 437.8 612.5 438.0 610.4 437.3Z" fill="#68a9e6"/>
<path d="M614.8 437.3 616.8 438.2 615.3 438.4 613.3 437.7Z" fill="#73aee8"/>
<path d="M617.7 437.7 619.7 438.8 618.2 438.9 616.2 438.1Z" fill="#7ab0e9"/>
<path d="M620.6 438.3 622.6 439.5 621.1 439.5 619.1 438.6Z" fill="#7dafeb"/>
<path d="M623.4 439.3 625.5 440.4 624.1 440.2 622.0 439.3Z" fill="#83aeed"/>
<path d="M626.2 440.7 628.4 441.3 627.1 440.7 624.9 440.2Z" fill="#80a1e5"/>
<path d="M629.2 442.0 631.3 442.1 629.9 441.2 627.8 441.1Z" fill="#7183cb"/>
<path d="M632.2 442.9 634.2 442.6 632.7 441.7 630.7 441.9Z" fill="#646db7"/>
<path d="M575.4 440.6 577.4 439.8 576.0 439.3 573.9 440.0Z" fill="#5962af"/>
<path d="M578.3 440.3 580.3 439.6 578.9 439.1 576.8 439.9Z" fill="#626ebb"/>
<path d="M581.2 440.0 583.2 439.2 581.8 438.9 579.7 439.6Z" fill="#687ecb"/>
<path d="M584.1 439.5 586.1 438.8 584.7 438.6 582.6 439.3Z" fill="#5d85db"/>
<path d="M586.9 439.0 589.0 438.3 587.7 438.2 585.6 438.9Z" fill="#5991e7"/>
<path d="M589.8 438.3 591.9 437.8 590.6 437.9 588.5 438.4Z" fill="#609be7"/>
<path d="M592.7 437.6 594.9 437.3 593.6 437.6 591.4 437.9Z" fill="#64a3e6"/>
<path d="M595.6 436.9 597.8 436.9 596.4 437.3 594.3 437.4Z" fill="#67a9e5"/>
<path d="M598.6 436.3 600.7 436.6 599.3 437.1 597.2 437.0Z" fill="#6aafe5"/>
<path d="M601.5 436.0 603.6 436.5 602.1 437.0 600.1 436.7Z" fill="#6ab2e4"/>
<path d="M604.5 435.9 606.5 436.7 605.0 437.1 603.0 436.5Z" fill="#63b0e3"/>
<path d="M607.4 436.1 609.4 437.0 607.9 437.3 605.9 436.6Z" fill="#66b1e3"/>
<path d="M610.3 436.5 612.3 437.3 610.8 437.6 608.8 436.9Z" fill="#68b1e4"/>
<path d="M613.2 436.7 615.2 437.6 613.7 438.0 611.7 437.3Z" fill="#70b3e6"/>
<path d="M616.1 436.9 618.1 438.0 616.6 438.5 614.6 437.6Z" fill="#72b2e6"/>
<path d="M619.0 437.3 621.0 438.7 619.5 439.0 617.5 437.9Z" fill="#74b1e7"/>
<path d="M621.9 438.2 623.9 439.7 622.4 439.7 620.4 438.5Z" fill="#79b0e9"/>
<path d="M624.7 439.6 626.8 440.8 625.4 440.5 623.3 439.5Z" fill="#81aeec"/>
<path d="M627.5 441.4 629.7 441.9 628.4 441.1 626.2 440.6Z" fill="#80a2e5"/>
<path d="M630.5 442.7 632.6 442.7 631.2 441.7 629.1 441.7Z" fill="#7282c9"/>
<path d="M633.5 443.5 635.5 443.2 634.0 442.3 632.0 442.5Z" fill="#616ab5"/>
<path d="M573.8 441.0 575.8 440.3 574.3 439.7 572.3 440.5Z" fill="#575fac"/>
<path d="M576.7 440.8 578.7 440.0 577.3 439.6 575.2 440.3Z" fill="#606bb8"/>
<path d="M579.6 440.5 581.6 439.7 580.2 439.3 578.1 440.1Z" fill="#677bc8"/>
<path d="M582.5 440.0 584.5 439.2 583.1 439.0 581.0 439.8Z" fill="#5f85d8"/>
<path d="M585.3 439.4 587.4 438.7 586.0 438.6 583.9 439.3Z" fill="#5991e7"/>
<path d="M588.2 438.7 590.3 438.1 589.0 438.2 586.9 438.8Z" fill="#629ce7"/>
<path d="M591.1 437.9 593.2 437.5 591.9 437.8 589.8 438.2Z" fill="#67a5e6"/>
<path d="M594.0 437.1 596.2 437.0 594.8 437.5 592.7 437.7Z" fill="#6cade6"/>
<path d="M597.0 436.3 599.1 436.5 597.7 437.2 595.6 437.1Z" fill="#6db4e5"/>
<path d="M600.0 435.7 602.0 436.2 600.5 436.9 598.5 436.6Z" fill="#66b6e2"/>
<path d="M602.9 435.3 604.9 436.2 603.4 436.8 601.4 436.3Z" fill="#62b8e1"/>
<path d="M605.8 435.3 607.8 436.4 606.3 436.9 604.3 436.2Z" fill="#61b8e0"/>
<path d="M608.7 435.7 610.7 436.8 609.2 437.2 607.2 436.4Z" fill="#63b7e1"/>
<path d="M611.6 436.0 613.6 437.0 612.1 437.6 610.1 436.7Z" fill="#65b7e2"/>
<path d="M614.5 436.1 616.5 437.2 615.0 437.9 613.0 437.0Z" fill="#65b6e2"/>
<path d="M617.4 436.2 619.4 437.6 617.8 438.3 615.9 437.1Z" fill="#66b6e2"/>
<path d="M620.3 436.8 622.3 438.6 620.7 438.9 618.8 437.5Z" fill="#6cb4e4"/>
<path d="M623.2 438.3 625.2 440.0 623.7 439.9 621.7 438.4Z" fill="#76b1e8"/>
<path d="M626.0 440.2 628.1 441.4 626.7 440.9 624.6 439.7Z" fill="#80afec"/>
<path d="M628.9 442.2 631.0 442.6 629.6 441.6 627.5 441.2Z" fill="#83a2e3"/>
<path d="M631.9 443.4 633.9 443.3 632.4 442.3 630.4 442.4Z" fill="#707ec5"/>
<path d="M634.8 444.2 636.8 443.8 635.3 442.9 633.3 443.2Z" fill="#5d66b1"/>
<path d="M575.1 441.3 577.1 440.5 575.7 440.0 573.6 440.8Z" fill="#5e68b5"/>
<path d="M578.0 441.0 580.0 440.2 578.6 439.8 576.5 440.6Z" fill="#6677c4"/>
<path d="M580.9 440.5 582.9 439.7 581.5 439.5 579.4 440.3Z" fill="#6384d5"/>
<path d="M583.8 439.9 585.8 439.1 584.4 439.0 582.3 439.8Z" fill="#5990e7"/>
<path d="M586.6 439.2 588.7 438.5 587.4 438.6 585.3 439.3Z" fill="#639ce7"/>
<path d="M589.5 438.3 591.6 437.8 590.3 438.1 588.2 438.6Z" fill="#6aa7e7"/>
<path d="M592.4 437.3 594.5 437.2 593.2 437.7 591.1 438.0Z" fill="#6fb0e6"/>
<path d="M595.4 436.4 597.4 436.5 596.0 437.3 594.0 437.3Z" fill="#6ab5e3"/>
<path d="M598.4 435.4 600.4 435.9 598.9 436.9 596.9 436.6Z" fill="#60b8e0"/>
<path d="M601.3 434.6 603.3 435.5 601.7 436.5 599.8 436.0Z" fill="#58bcdd"/>
<path d="M604.2 434.3 606.2 435.7 604.6 436.5 602.7 435.6Z" fill="#54bedb"/>
<path d="M607.1 434.7 609.1 436.1 607.5 436.7 605.6 435.6Z" fill="#55bddc"/>
<path d="M610.0 435.2 612.0 436.4 610.4 437.0 608.5 436.0Z" fill="#58bcdd"/>
<path d="M612.9 435.3 614.9 436.4 613.3 437.3 611.4 436.3Z" fill="#59bbdd"/>
<path d="M615.8 435.2 617.8 436.5 616.2 437.5 614.3 436.4Z" fill="#57bcdc"/>
<path d="M618.7 435.4 620.7 437.2 619.1 437.9 617.2 436.4Z" fill="#5abbdd"/>
<path d="M621.6 436.7 623.5 438.7 622.0 438.8 620.1 437.0Z" fill="#64b7e2"/>
<path d="M624.5 438.8 626.4 440.6 625.0 440.1 623.0 438.4Z" fill="#75b1e8"/>
<path d="M627.2 441.2 629.4 442.2 628.1 441.4 625.9 440.3Z" fill="#81aeec"/>
<path d="M630.2 443.1 632.3 443.3 630.9 442.2 628.8 441.9Z" fill="#819adc"/>
<path d="M633.2 444.2 635.2 444.0 633.7 443.0 631.7 443.1Z" fill="#6b76bf"/>
<path d="M636.1 444.8 638.1 444.4 636.6 443.5 634.6 443.8Z" fill="#5861ac"/>
<path d="M573.5 441.8 575.5 441.0 574.0 440.5 572.0 441.3Z" fill="#5b64b1"/>
<path d="M576.4 441.5 578.4 440.7 577.0 440.3 574.9 441.1Z" fill="#6472bf"/>
<path d="M579.3 441.1 581.3 440.2 579.9 439.9 577.8 440.8Z" fill="#6783d1"/>
<path d="M582.2 440.5 584.2 439.6 582.8 439.5 580.7 440.3Z" fill="#598ee5"/>
<path d="M585.0 439.7 587.1 438.9 585.8 439.0 583.6 439.8Z" fill="#639ce7"/>
<path d="M587.9 438.7 590.0 438.2 588.7 438.5 586.6 439.1Z" fill="#6da9e7"/>
<path d="M590.8 437.6 592.9 437.4 591.6 438.0 589.5 438.3Z" fill="#72b2e7"/>
<path d="M593.8 436.5 595.8 436.5 594.4 437.5 592.4 437.5Z" fill="#67b6e3"/>
<path d="M596.8 435.3 598.7 435.6 597.3 436.8 595.3 436.7Z" fill="#5bbbde"/>
<path d="M599.7 433.9 601.7 434.8 600.1 436.2 598.2 435.8Z" fill="#51c0d7"/>
<path d="M602.6 433.0 604.6 434.6 603.0 435.9 601.1 434.9Z" fill="#54c2ce"/>
<path d="M605.5 433.2 607.5 435.0 605.9 435.9 604.0 434.6Z" fill="#54c2cd"/>
<path d="M608.4 434.0 610.4 435.6 608.8 436.3 606.9 434.9Z" fill="#53c1d1"/>
<path d="M611.3 434.5 613.3 435.6 611.7 436.6 609.8 435.5Z" fill="#52c0d4"/>
<path d="M614.2 434.4 616.2 435.4 614.6 436.7 612.7 435.6Z" fill="#53c1d2"/>
<path d="M617.1 434.2 619.1 435.8 617.5 436.8 615.6 435.4Z" fill="#53c1d0"/>
<path d="M620.0 435.1 621.9 437.1 620.4 437.4 618.5 435.6Z" fill="#51c0d8"/>
<path d="M622.9 437.2 624.8 439.3 623.4 438.9 621.4 436.8Z" fill="#61b8e0"/>
<path d="M625.7 439.9 627.7 441.4 626.4 440.6 624.3 438.9Z" fill="#76b1e8"/>
<path d="M628.6 442.5 630.7 443.0 629.4 441.9 627.2 441.1Z" fill="#84aeed"/>
<path d="M631.6 444.0 633.6 444.0 632.1 442.9 630.1 442.8Z" fill="#798dd2"/>
<path d="M634.5 444.9 636.5 444.6 635.0 443.6 633.0 443.8Z" fill="#636db7"/>
<path d="M571.9 442.3 573.9 441.5 572.4 441.0 570.4 441.7Z" fill="#5760ad"/>
<path d="M574.8 442.1 576.8 441.2 575.3 440.8 573.3 441.6Z" fill="#626dbb"/>
<path d="M577.7 441.7 579.7 440.8 578.3 440.5 576.2 441.3Z" fill="#6980cd"/>
<path d="M580.6 441.1 582.6 440.2 581.2 440.0 579.1 440.9Z" fill="#5a8ae2"/>
<path d="M583.4 440.3 585.5 439.4 584.1 439.5 582.0 440.3Z" fill="#649be8"/>
<path d="M586.3 439.2 588.4 438.6 587.1 438.9 585.0 439.6Z" fill="#6fa9e8"/>
<path d="M589.2 438.0 591.3 437.7 590.0 438.3 587.9 438.7Z" fill="#72b2e6"/>
<path d="M592.2 436.8 594.2 436.7 592.8 437.7 590.8 437.9Z" fill="#65b6e2"/>
<path d="M595.2 435.3 597.1 435.5 595.6 436.9 593.7 436.9Z" fill="#57bcdc"/>
<path d="M598.1 433.5 600.0 434.1 598.5 436.0 596.6 435.7Z" fill="#54c2ce"/>
<path d="M601.0 431.8 603.0 433.3 601.4 435.2 599.5 434.3Z" fill="#5ac6bc"/>
<path d="M603.9 431.3 605.9 433.5 604.3 434.9 602.4 433.4Z" fill="#61c7b4"/>
<path d="M606.8 432.2 608.7 434.4 607.2 435.3 605.3 433.4Z" fill="#5bc6ba"/>
<path d="M609.7 433.4 611.7 434.9 610.1 435.8 608.2 434.2Z" fill="#58c4c2"/>
<path d="M612.6 433.7 614.6 434.6 613.0 435.9 611.1 434.8Z" fill="#57c4c3"/>
<path d="M615.5 433.4 617.5 434.5 615.9 435.8 614.0 434.7Z" fill="#59c5be"/>
<path d="M618.4 433.7 620.4 435.5 618.8 436.0 616.9 434.4Z" fill="#58c5c0"/>
<path d="M621.3 435.5 623.2 437.6 621.8 437.3 619.8 435.2Z" fill="#53c1d2"/>
<path d="M624.1 438.4 626.1 440.3 624.7 439.4 622.8 437.2Z" fill="#64b7e1"/>
<path d="M627.0 441.6 629.0 442.5 627.8 441.2 625.6 439.9Z" fill="#7ab0ea"/>
<path d="M630.0 443.7 632.0 443.9 630.6 442.6 628.5 442.1Z" fill="#87abeb"/>
<path d="M632.9 444.9 634.9 444.7 633.4 443.6 631.4 443.7Z" fill="#6f7ec6"/>
<path d="M635.8 445.6 637.8 445.3 636.3 444.3 634.3 444.6Z" fill="#5b64b0"/>
<path d="M573.2 442.6 575.2 441.8 573.7 441.3 571.7 442.1Z" fill="#5e68b6"/>
<path d="M576.1 442.3 578.1 441.3 576.7 441.0 574.6 441.8Z" fill="#6779c6"/>
<path d="M579.0 441.7 581.0 440.7 579.6 440.6 577.5 441.4Z" fill="#5d85da"/>
<path d="M581.9 440.9 583.9 440.0 582.5 440.0 580.4 440.9Z" fill="#639ae8"/>
<path d="M584.7 439.8 586.8 439.0 585.5 439.3 583.4 440.1Z" fill="#70a9e8"/>
<path d="M587.6 438.5 589.7 438.0 588.4 438.7 586.3 439.2Z" fill="#72b2e7"/>
<path d="M590.6 437.1 592.6 436.9 591.2 438.0 589.2 438.2Z" fill="#65b7e2"/>
<path d="M593.6 435.6 595.5 435.5 594.0 437.1 592.1 437.2Z" fill="#54bedb"/>
<path d="M596.5 433.4 598.4 433.6 596.9 435.9 595.0 435.8Z" fill="#56c3c7"/>
<path d="M599.4 430.9 601.3 431.9 599.8 434.5 597.9 433.9Z" fill="#6ec7a9"/>
<path d="M602.3 429.4 604.3 431.6 602.7 433.6 600.8 432.2Z" fill="#8ac894"/>
<path d="M605.2 429.9 607.1 432.7 605.6 433.8 603.7 431.5Z" fill="#87c796"/>
<path d="M608.1 431.8 610.0 433.8 608.5 434.6 606.6 432.4Z" fill="#70c7a7"/>
<path d="M611.0 433.0 613.0 434.0 611.4 435.1 609.5 433.7Z" fill="#63c7b2"/>
<path d="M613.9 433.0 615.9 433.7 614.3 435.0 612.4 434.0Z" fill="#67c7af"/>
<path d="M616.8 432.9 618.8 434.0 617.2 434.8 615.3 433.7Z" fill="#6bc7ab"/>
<path d="M619.7 434.1 621.6 435.9 620.2 435.6 618.2 433.9Z" fill="#5bc6b9"/>
<path d="M622.5 436.9 624.5 438.8 623.1 437.7 621.2 435.6Z" fill="#52c0d6"/>
<path d="M625.4 440.5 627.4 441.6 626.2 440.0 624.1 438.4Z" fill="#6cb4e4"/>
<path d="M628.4 443.1 630.3 443.6 629.0 442.0 626.9 441.2Z" fill="#80afec"/>
<path d="M631.3 444.8 633.3 444.7 631.8 443.5 629.8 443.3Z" fill="#7994da"/>
<path d="M634.2 445.7 636.2 445.4 634.7 444.4 632.7 444.6Z" fill="#6570bc"/>
<path d="M571.6 443.2 573.6 442.3 572.1 441.8 570.1 442.6Z" fill="#5a63b0"/>
<path d="M574.5 442.8 576.5 441.9 575.0 441.5 573.0 442.4Z" fill="#6473c0"/>
<path d="M577.4 442.3 579.4 441.4 578.0 441.1 575.9 442.0Z" fill="#6583d3"/>
<path d="M580.3 441.6 582.3 440.6 580.9 440.5 578.8 441.5Z" fill="#6096e8"/>
<path d="M583.1 440.5 585.2 439.6 583.9 439.8 581.8 440.7Z" fill="#71a8e9"/>
<path d="M585.9 439.1 588.1 438.5 586.8 439.1 584.7 439.8Z" fill="#73b2e7"/>
<path d="M588.9 437.6 591.0 437.3 589.7 438.3 587.6 438.7Z" fill="#65b6e2"/>
<path d="M591.9 436.0 593.9 435.7 592.5 437.3 590.5 437.5Z" fill="#53bedb"/>
<path d="M594.9 433.7 596.8 433.5 595.3 435.9 593.4 436.1Z" fill="#57c4c4"/>
<path d="M597.8 430.7 599.7 431.0 598.2 434.1 596.3 433.9Z" fill="#7fc79c"/>
<path d="M600.7 428.0 602.6 429.5 601.1 432.4 599.2 431.3Z" fill="#b0c47b"/>
<path d="M603.6 427.5 605.5 430.3 604.0 431.9 602.1 429.6Z" fill="#bec273"/>
<path d="M606.5 429.5 608.4 432.2 606.9 432.8 605.0 430.1Z" fill="#a4c682"/>
<path d="M609.4 431.8 611.3 433.4 609.8 434.0 607.9 431.9Z" fill="#84c798"/>
<path d="M612.3 432.7 614.3 433.3 612.7 434.3 610.8 433.2Z" fill="#7ac7a0"/>
<path d="M615.1 432.7 617.2 433.2 615.7 434.0 613.7 433.3Z" fill="#7fc79c"/>
<path d="M618.0 433.4 620.1 434.5 618.7 434.3 616.6 433.1Z" fill="#77c7a2"/>
<path d="M620.8 436.0 622.9 437.3 621.7 435.8 619.6 434.2Z" fill="#59c5be"/>
<path d="M623.8 439.3 625.8 440.5 624.5 438.4 622.5 436.9Z" fill="#58bcdd"/>
<path d="M626.8 442.3 628.7 443.0 627.3 441.1 625.4 440.0Z" fill="#76b1e8"/>
<path d="M629.7 444.5 631.6 444.6 630.2 443.1 628.2 442.7Z" fill="#82aced"/>
<path d="M632.6 445.7 634.6 445.5 633.1 444.4 631.1 444.4Z" fill="#6c7fca"/>
<path d="M635.5 446.5 637.5 446.1 636.0 445.1 634.0 445.4Z" fill="#5c65b2"/>
<path d="M570.0 443.7 572.0 442.9 570.5 442.3 568.5 443.1Z" fill="#565fac"/>
<path d="M572.9 443.4 574.9 442.5 573.4 442.1 571.4 442.9Z" fill="#616cba"/>
<path d="M575.8 443.0 577.8 442.0 576.3 441.7 574.3 442.6Z" fill="#6980cd"/>
<path d="M578.7 442.3 580.7 441.2 579.3 441.2 577.2 442.1Z" fill="#5d8fe5"/>
<path d="M581.6 441.3 583.6 440.2 582.2 440.4 580.1 441.4Z" fill="#70a6e9"/>
<path d="M584.4 439.9 586.5 439.0 585.2 439.6 583.1 440.4Z" fill="#75b1e8"/>
<path d="M587.3 438.2 589.4 437.7 588.1 438.8 586.0 439.2Z" fill="#66b6e2"/>
<path d="M590.3 436.5 592.3 436.1 590.9 437.7 588.9 437.9Z" fill="#54bedb"/>
<path d="M593.3 434.4 595.2 433.9 593.7 436.2 591.8 436.4Z" fill="#57c4c4"/>
<path d="M596.2 431.2 598.1 430.7 596.6 434.0 594.7 434.3Z" fill="#84c799"/>
<path d="M599.1 427.6 601.0 428.1 599.5 431.5 597.6 431.2Z" fill="#c9c16c"/>
<path d="M602.0 425.8 604.0 427.8 602.4 430.0 600.5 428.3Z" fill="#e8c44f"/>
<path d="M604.9 427.1 606.8 430.0 605.3 430.5 603.4 427.7Z" fill="#ddc15c"/>
<path d="M607.8 430.1 609.7 432.3 608.2 432.4 606.3 429.6Z" fill="#b1c47a"/>
<path d="M610.6 432.3 612.7 433.1 611.1 433.5 609.2 432.0Z" fill="#92c88e"/>
<path d="M613.4 433.2 615.6 433.0 614.2 433.5 612.1 433.0Z" fill="#89c68f"/>
<path d="M616.4 433.8 618.5 433.7 617.1 433.0 615.0 432.9Z" fill="#82c48c"/>
<path d="M619.4 435.5 621.3 436.0 619.9 434.1 617.9 433.5Z" fill="#6ec7a9"/>
<path d="M622.3 438.4 624.2 439.3 622.8 436.8 620.9 435.6Z" fill="#54c2ce"/>
<path d="M625.2 441.6 627.1 442.3 625.7 440.0 623.8 438.8Z" fill="#69b5e3"/>
<path d="M628.1 444.0 630.0 444.3 628.6 442.5 626.6 441.9Z" fill="#7eafeb"/>
<path d="M631.0 445.6 633.0 445.5 631.5 444.2 629.5 444.0Z" fill="#6f90db"/>
<path d="M633.9 446.6 635.9 446.3 634.4 445.2 632.4 445.4Z" fill="#6370bd"/>
<path d="M636.8 447.2 638.8 446.7 637.3 445.8 635.3 446.1Z" fill="#5760ac"/>
<path d="M571.3 444.0 573.3 443.1 571.8 442.6 569.8 443.4Z" fill="#5c66b3"/>
<path d="M574.2 443.7 576.2 442.7 574.7 442.3 572.7 443.2Z" fill="#6677c4"/>
<path d="M577.1 443.1 579.1 442.0 577.7 441.8 575.6 442.8Z" fill="#5e85da"/>
<path d="M580.0 442.1 582.0 441.0 580.6 441.1 578.5 442.1Z" fill="#6ba0e9"/>
<path d="M582.8 440.8 584.9 439.7 583.6 440.1 581.5 441.2Z" fill="#77b0e9"/>
<path d="M585.6 439.0 587.8 438.2 586.5 439.2 584.4 439.9Z" fill="#69b5e3"/>
<path d="M588.7 437.1 590.7 436.6 589.3 438.1 587.3 438.5Z" fill="#56bddc"/>
<path d="M591.6 435.2 593.6 434.5 592.1 436.6 590.2 436.9Z" fill="#56c3c6"/>
<path d="M594.6 432.3 596.4 431.3 595.0 434.3 593.1 434.9Z" fill="#7ec79d"/>
<path d="M597.5 428.4 599.3 427.7 597.9 431.3 596.1 431.7Z" fill="#cdc06a"/>
<path d="M600.4 425.3 602.3 425.9 600.8 428.6 598.9 428.1Z" fill="#feca37"/>
<path d="M603.3 425.4 605.2 427.6 603.7 428.1 601.8 426.0Z" fill="#fdd131"/>
<path d="M606.2 428.2 608.1 430.6 606.6 430.1 604.8 427.2Z" fill="#e2c257"/>
<path d="M608.9 431.6 611.0 432.7 609.6 432.4 607.6 430.2Z" fill="#b0c47b"/>
<path d="M611.9 433.5 614.0 433.2 612.7 433.1 610.5 432.4Z" fill="#97c787"/>
<path d="M614.9 434.2 616.9 433.6 615.4 432.7 613.4 433.1Z" fill="#86c282"/>
<path d="M617.8 435.4 619.7 435.3 618.2 433.4 616.3 433.4Z" fill="#7fc79c"/>
<path d="M620.7 437.8 622.6 438.3 621.1 435.6 619.3 435.0Z" fill="#59c5be"/>
<path d="M623.6 440.9 625.5 441.5 624.0 438.8 622.2 437.9Z" fill="#5abbdd"/>
<path d="M626.5 443.6 628.4 443.9 627.0 441.8 625.1 441.1Z" fill="#76b1e8"/>
<path d="M629.4 445.5 631.3 445.5 629.9 443.9 627.9 443.6Z" fill="#79a6ec"/>
<path d="M632.3 446.6 634.3 446.4 632.8 445.2 630.8 445.2Z" fill="#687dca"/>
<path d="M635.2 447.3 637.2 447.0 635.7 445.9 633.7 446.2Z" fill="#5d67b4"/>
<path d="M569.7 444.6 571.7 443.7 570.2 443.1 568.2 443.9Z" fill="#5860ad"/>
<path d="M572.6 444.3 574.6 443.3 573.1 442.9 571.1 443.8Z" fill="#626fbc"/>
<path d="M575.5 443.8 577.5 442.7 576.0 442.4 574.0 443.4Z" fill="#6883d1"/>
<path d="M578.4 443.0 580.4 441.8 579.0 441.8 576.9 442.9Z" fill="#6297e8"/>
<path d="M581.3 441.8 583.3 440.5 581.9 440.8 579.9 442.0Z" fill="#7bafea"/>
<path d="M584.1 440.1 586.2 438.9 584.9 439.7 582.8 440.7Z" fill="#6eb4e5"/>
<path d="M587.0 438.1 589.1 437.2 587.8 438.5 585.7 439.2Z" fill="#59bbdd"/>
<path d="M589.9 436.1 592.0 435.3 590.6 437.0 588.6 437.5Z" fill="#55c2ca"/>
<path d="M592.9 433.6 594.8 432.3 593.4 434.9 591.5 435.6Z" fill="#72c7a6"/>
<path d="M595.8 430.1 597.7 428.5 596.3 431.8 594.5 432.8Z" fill="#bec272"/>
<path d="M598.8 426.4 600.7 425.4 599.2 428.2 597.3 428.9Z" fill="#fecc35"/>
<path d="M601.7 424.9 603.7 425.7 602.2 426.4 600.2 425.6Z" fill="#fbeb1b"/>
<path d="M604.4 426.9 606.5 428.7 605.1 427.7 603.1 425.4Z" fill="#fdd230"/>
<path d="M607.4 430.7 609.4 431.8 608.1 430.6 606.1 428.3Z" fill="#d7c063"/>
<path d="M610.4 433.3 612.3 433.3 611.0 432.3 608.9 431.5Z" fill="#a8c680"/>
<path d="M613.3 434.6 615.3 434.0 613.7 432.8 611.8 433.1Z" fill="#8ec484"/>
<path d="M616.2 435.8 618.1 435.2 616.6 433.3 614.7 433.8Z" fill="#84c798"/>
<path d="M619.1 437.8 621.0 437.7 619.5 434.9 617.6 434.9Z" fill="#61c7b3"/>
<path d="M622.0 440.5 623.9 440.8 622.4 437.8 620.6 437.3Z" fill="#51c0d7"/>
<path d="M624.9 443.2 626.8 443.5 625.3 441.0 623.5 440.4Z" fill="#6eb4e5"/>
<path d="M627.8 445.3 629.7 445.3 628.3 443.5 626.3 443.1Z" fill="#80afec"/>
<path d="M630.7 446.6 632.7 446.4 631.2 445.1 629.2 445.1Z" fill="#698ad9"/>
<path d="M633.6 447.5 635.6 447.1 634.1 446.0 632.1 446.3Z" fill="#6371be"/>
<path d="M636.5 448.1 638.5 447.6 637.0 446.6 635.0 447.0Z" fill="#5861ae"/>
<path d="M571.0 444.9 573.0 444.0 571.5 443.4 569.5 444.3Z" fill="#5d67b4"/>
<path d="M573.9 444.5 575.9 443.5 574.4 443.1 572.4 444.0Z" fill="#677ac7"/>
<path d="M576.8 443.9 578.8 442.7 577.3 442.5 575.3 443.6Z" fill="#5d8ae0"/>
<path d="M579.7 442.8 581.7 441.4 580.3 441.6 578.2 442.8Z" fill="#71a6e9"/>
<path d="M582.6 441.3 584.6 439.8 583.2 440.4 581.2 441.7Z" fill="#73b2e7"/>
<path d="M585.4 439.4 587.5 438.0 586.2 439.0 584.1 440.1Z" fill="#5fb9df"/>
<path d="M588.2 437.3 590.4 436.1 589.1 437.5 587.0 438.3Z" fill="#53c1d0"/>
<path d="M591.1 435.2 593.3 433.7 591.9 435.7 589.9 436.5Z" fill="#64c7b1"/>
<path d="M594.1 432.5 596.1 430.1 594.8 432.8 592.8 434.1Z" fill="#a6c681"/>
<path d="M597.1 429.0 599.0 426.4 597.8 428.8 595.8 430.6Z" fill="#efc647"/>
<path d="M600.0 426.6 602.0 425.1 600.6 425.4 598.6 426.8Z" fill="#fbec1a"/>
<path d="M603.0 427.0 604.9 427.2 603.4 425.4 601.5 425.0Z" fill="#fbeb1b"/>
<path d="M605.9 429.8 607.8 430.7 606.4 428.2 604.5 426.8Z" fill="#f3c744"/>
<path d="M608.8 432.9 610.7 433.2 609.3 431.4 607.3 430.3Z" fill="#bec272"/>
<path d="M611.7 434.9 613.6 434.4 612.1 432.9 610.2 432.9Z" fill="#9ac788"/>
<path d="M614.6 436.3 616.5 435.6 615.0 433.6 613.1 434.2Z" fill="#84c799"/>
<path d="M617.5 438.0 619.4 437.6 617.9 434.8 616.0 435.3Z" fill="#67c7af"/>
<path d="M620.4 440.4 622.3 440.4 620.8 437.2 618.9 437.3Z" fill="#54c2ce"/>
<path d="M623.3 442.9 625.2 443.1 623.7 440.3 621.9 440.0Z" fill="#64b7e2"/>
<path d="M626.2 445.1 628.1 445.1 626.6 443.0 624.7 442.7Z" fill="#7ab0ea"/>
<path d="M629.1 446.6 631.1 446.4 629.6 444.9 627.6 444.8Z" fill="#6f9de9"/>
<path d="M632.0 447.6 634.0 447.3 632.5 446.0 630.5 446.2Z" fill="#687cc9"/>
<path d="M634.9 448.3 636.9 447.8 635.4 446.8 633.4 447.1Z" fill="#5e68b5"/>
<path d="M569.4 445.5 571.4 444.6 569.9 444.0 567.9 444.8Z" fill="#5861ae"/>
<path d="M572.3 445.2 574.3 444.2 572.8 443.7 570.8 444.6Z" fill="#6370bd"/>
<path d="M575.2 444.7 577.2 443.5 575.7 443.2 573.7 444.3Z" fill="#6683d3"/>
<path d="M578.1 443.8 580.1 442.4 578.6 442.5 576.6 443.7Z" fill="#6399e8"/>
<path d="M581.0 442.5 583.0 440.9 581.6 441.3 579.6 442.7Z" fill="#78b0e9"/>
<path d="M583.9 440.8 585.9 439.1 584.5 439.7 582.5 441.2Z" fill="#67b6e3"/>
<path d="M586.8 438.8 588.8 437.1 587.5 438.0 585.4 439.4Z" fill="#51c0d8"/>
<path d="M589.7 436.8 591.7 435.0 590.4 436.2 588.3 437.5Z" fill="#5ac6bc"/>
<path d="M592.6 434.6 594.5 432.1 593.3 433.7 591.2 435.4Z" fill="#8bc893"/>
<path d="M595.6 431.7 597.4 428.6 596.1 430.1 594.1 432.6Z" fill="#d4bf65"/>
<path d="M598.5 428.9 600.4 426.1 598.9 426.4 597.0 429.0Z" fill="#fdd62d"/>
<path d="M601.4 428.0 603.3 426.8 601.8 424.9 599.8 426.3Z" fill="#faec1a"/>
<path d="M604.3 429.6 606.2 429.8 604.7 426.8 602.8 426.5Z" fill="#fdd131"/>
<path d="M607.2 432.4 609.1 432.8 607.6 430.2 605.8 429.3Z" fill="#d7c063"/>
<path d="M610.1 434.8 612.0 434.7 610.5 432.8 608.6 432.4Z" fill="#a4c682"/>
<path d="M613.0 436.5 614.9 436.1 613.4 434.0 611.5 434.4Z" fill="#84c798"/>
<path d="M615.9 438.3 617.8 437.8 616.3 435.2 614.4 435.8Z" fill="#67c7ae"/>
<path d="M618.8 440.4 620.7 440.3 619.2 437.2 617.3 437.5Z" fill="#55c3ca"/>
<path d="M621.7 442.8 623.6 442.8 622.1 439.9 620.2 439.9Z" fill="#5dbadf"/>
<path d="M624.6 444.9 626.5 444.9 625.0 442.6 623.1 442.4Z" fill="#75b1e8"/>
<path d="M627.5 446.5 629.4 446.4 627.9 444.7 626.0 444.6Z" fill="#7baaeb"/>
<path d="M630.4 447.6 632.4 447.4 630.9 446.0 628.9 446.2Z" fill="#6483d4"/>
<path d="M633.3 448.4 635.3 448.0 633.8 446.9 631.8 447.2Z" fill="#6370bd"/>
<path d="M636.2 449.0 638.2 448.5 636.7 447.5 634.7 447.9Z" fill="#5861ae"/>
<path d="M570.7 445.8 572.7 444.9 571.2 444.3 569.2 445.2Z" fill="#5e68b5"/>
<path d="M573.6 445.4 575.6 444.3 574.1 443.9 572.1 444.9Z" fill="#677ac7"/>
<path d="M576.5 444.8 578.5 443.5 577.0 443.3 575.0 444.5Z" fill="#5a8ae1"/>
<path d="M579.4 443.7 581.4 442.1 579.9 442.3 577.9 443.7Z" fill="#6ca4e8"/>
<path d="M582.3 442.2 584.3 440.3 582.8 440.8 580.9 442.4Z" fill="#71b3e6"/>
<path d="M585.2 440.3 587.2 438.4 585.8 439.0 583.8 440.7Z" fill="#59bbdd"/>
<path d="M588.1 438.3 590.1 436.4 588.7 437.0 586.7 438.7Z" fill="#55c3c9"/>
<path d="M591.1 436.4 593.0 434.1 591.6 434.9 589.6 436.7Z" fill="#70c7a8"/>
<path d="M594.0 434.1 595.8 431.2 594.4 432.1 592.5 434.5Z" fill="#abc57e"/>
<path d="M596.9 431.7 598.8 428.4 597.3 428.5 595.4 431.6Z" fill="#e8c450"/>
<path d="M599.8 430.0 601.7 427.6 600.2 426.0 598.3 428.7Z" fill="#fdd72c"/>
<path d="M602.7 430.3 604.6 429.5 603.1 426.4 601.2 427.5Z" fill="#fdd32f"/>
<path d="M605.6 432.2 607.5 432.3 606.0 429.2 604.1 429.1Z" fill="#e4c354"/>
<path d="M608.5 434.5 610.4 434.7 608.9 432.3 607.0 431.9Z" fill="#b3c479"/>
<path d="M611.4 436.6 613.3 436.4 611.8 434.3 609.9 434.3Z" fill="#8ac894"/>
<path d="M614.3 438.5 616.2 438.2 614.7 435.7 612.8 436.1Z" fill="#69c7ad"/>
<path d="M617.2 440.6 619.1 440.3 617.6 437.4 615.7 437.8Z" fill="#56c3c7"/>
<path d="M620.1 442.7 622.0 442.7 620.5 439.8 618.6 439.9Z" fill="#58bcdd"/>
<path d="M623.0 444.8 624.9 444.8 623.4 442.3 621.5 442.3Z" fill="#71b3e6"/>
<path d="M625.9 446.5 627.8 446.4 626.3 444.5 624.4 444.5Z" fill="#7fafeb"/>
<path d="M628.8 447.7 630.8 447.4 629.3 446.0 627.3 446.1Z" fill="#628fe1"/>
<path d="M631.7 448.5 633.7 448.2 632.2 447.0 630.2 447.3Z" fill="#677ac7"/>
<path d="M634.6 449.2 636.6 448.8 635.1 447.7 633.1 448.1Z" fill="#5d67b4"/>
<path d="M569.1 446.4 571.1 445.5 569.6 444.9 567.6 445.7Z" fill="#5860ad"/>
<path d="M572.0 446.1 574.0 445.1 572.5 444.6 570.5 445.6Z" fill="#636fbd"/>
<path d="M574.9 445.7 576.9 444.4 575.4 444.1 573.4 445.2Z" fill="#6683d2"/>
<path d="M577.8 444.9 579.8 443.3 578.3 443.3 576.3 444.6Z" fill="#679be9"/>
<path d="M580.7 443.6 582.7 441.7 581.2 442.0 579.3 443.6Z" fill="#78b0e9"/>
<path d="M583.7 441.9 585.6 439.8 584.1 440.2 582.2 442.1Z" fill="#66b6e2"/>
<path d="M586.6 440.0 588.5 437.9 587.0 438.2 585.1 440.2Z" fill="#51c0d6"/>
<path d="M589.5 438.2 591.4 435.9 589.9 436.3 588.0 438.2Z" fill="#5ac6bb"/>
<path d="M592.4 436.4 594.3 433.7 592.8 434.0 590.9 436.3Z" fill="#85c798"/>
<path d="M595.3 434.3 597.2 431.2 595.7 431.1 593.8 434.0Z" fill="#bdc273"/>
<path d="M598.2 432.5 600.1 429.6 598.6 428.3 596.7 431.5Z" fill="#e9c44e"/>
<path d="M601.1 431.9 603.0 430.1 601.5 427.4 599.5 429.7Z" fill="#f8c83e"/>
<path d="M604.0 432.7 605.9 432.1 604.4 429.0 602.5 429.8Z" fill="#e7c451"/>
<path d="M606.9 434.4 608.8 434.4 607.3 431.8 605.4 431.7Z" fill="#c1c271"/>
<path d="M609.8 436.4 611.7 436.4 610.2 434.2 608.3 434.1Z" fill="#96c88c"/>
<path d="M612.7 438.5 614.6 438.4 613.1 436.0 611.2 436.1Z" fill="#6ec7a9"/>
<path d="M615.6 440.6 617.5 440.4 616.0 437.7 614.1 438.0Z" fill="#57c4c4"/>
<path d="M618.5 442.7 620.4 442.6 618.9 439.8 617.0 440.1Z" fill="#54bedb"/>
<path d="M621.4 444.7 623.3 444.7 621.8 442.2 619.9 442.3Z" fill="#6bb4e4"/>
<path d="M624.3 446.4 626.2 446.3 624.7 444.3 622.8 444.4Z" fill="#7bb0ea"/>
<path d="M627.2 447.7 629.2 447.5 627.6 445.9 625.7 446.0Z" fill="#6599e9"/>
<path d="M630.1 448.7 632.1 448.3 630.6 447.1 628.6 447.3Z" fill="#6882d0"/>
<path d="M633.0 449.4 635.0 449.0 633.5 447.8 631.5 448.2Z" fill="#626fbc"/>
<path d="M635.9 449.9 637.9 449.4 636.4 448.4 634.4 448.9Z" fill="#5760ad"/>
<path d="M570.4 446.8 572.4 445.8 570.9 445.2 568.9 446.1Z" fill="#5d66b3"/>
<path d="M573.3 446.4 575.3 445.3 573.8 444.9 571.8 445.9Z" fill="#6778c5"/>
<path d="M576.2 445.9 578.2 444.5 576.7 444.2 574.7 445.5Z" fill="#628de0"/>
<path d="M579.2 444.9 581.1 443.2 579.6 443.2 577.6 444.7Z" fill="#77aaea"/>
<path d="M582.1 443.5 584.0 441.4 582.5 441.6 580.6 443.4Z" fill="#72b2e7"/>
<path d="M585.0 441.8 586.9 439.5 585.4 439.7 583.5 441.8Z" fill="#5cbade"/>
<path d="M587.9 440.0 589.8 437.7 588.3 437.7 586.4 439.9Z" fill="#54c2cd"/>
<path d="M590.8 438.4 592.7 435.9 591.2 435.8 589.3 438.0Z" fill="#64c7b1"/>
<path d="M593.7 436.8 595.6 433.9 594.1 433.6 592.2 436.2Z" fill="#91c88f"/>
<path d="M596.6 435.1 598.5 432.1 597.0 431.1 595.1 434.2Z" fill="#bfc272"/>
<path d="M599.5 433.9 601.4 431.5 599.9 429.4 598.0 432.3Z" fill="#ddc15c"/>
<path d="M602.4 433.8 604.3 432.5 602.8 429.7 600.9 431.5Z" fill="#dec15b"/>
<path d="M605.3 434.7 607.2 434.3 605.7 431.6 603.8 432.2Z" fill="#c7c16d"/>
<path d="M608.2 436.3 610.1 436.3 608.6 433.9 606.7 434.0Z" fill="#a1c784"/>
<path d="M611.1 438.3 613.0 438.3 611.5 436.0 609.6 436.0Z" fill="#77c7a2"/>
<path d="M614.0 440.5 615.9 440.5 614.4 437.9 612.5 438.0Z" fill="#59c5bf"/>
<path d="M616.9 442.7 618.8 442.6 617.3 440.0 615.4 440.1Z" fill="#51bfd9"/>
<path d="M619.8 444.7 621.7 444.6 620.2 442.2 618.3 442.3Z" fill="#67b6e2"/>
<path d="M622.7 446.4 624.6 446.3 623.1 444.2 621.2 444.3Z" fill="#77b0e9"/>
<path d="M625.6 447.7 627.5 447.5 626.0 445.9 624.1 446.0Z" fill="#6ba0e9"/>
<path d="M628.5 448.8 630.5 448.5 629.0 447.1 627.0 447.3Z" fill="#5f85d9"/>
<path d="M631.4 449.6 633.4 449.2 631.9 448.0 629.9 448.3Z" fill="#6676c4"/>
<path d="M634.3 450.2 636.3 449.7 634.8 448.6 632.8 449.0Z" fill="#5c66b3"/>
<path d="M568.8 447.4 570.8 446.5 569.3 445.8 567.3 446.7Z" fill="#565fac"/>
<path d="M571.7 447.1 573.7 446.1 572.2 445.6 570.2 446.5Z" fill="#616dba"/>
<path d="M574.6 446.7 576.6 445.5 575.1 445.1 573.1 446.2Z" fill="#6982cf"/>
<path d="M577.5 446.0 579.5 444.5 578.0 444.3 576.0 445.7Z" fill="#6a9ce9"/>
<path d="M580.5 445.0 582.4 443.1 580.9 443.0 578.9 444.7Z" fill="#7bb0ea"/>
<path d="M583.4 443.5 585.3 441.3 583.8 441.3 581.9 443.4Z" fill="#6bb4e4"/>
<path d="M586.3 441.9 588.2 439.6 586.7 439.4 584.8 441.6Z" fill="#55bddc"/>
<path d="M589.2 440.4 591.1 437.9 589.6 437.6 587.7 439.9Z" fill="#56c3c7"/>
<path d="M592.1 438.9 594.0 436.3 592.5 435.8 590.6 438.2Z" fill="#69c7ad"/>
<path d="M595.0 437.5 596.9 434.7 595.4 433.8 593.5 436.6Z" fill="#91c88f"/>
<path d="M597.9 436.2 599.8 433.5 598.3 431.9 596.4 434.9Z" fill="#b4c479"/>
<path d="M600.8 435.4 602.7 433.5 601.2 431.3 599.2 433.7Z" fill="#c6c16e"/>
<path d="M603.7 435.5 605.6 434.5 604.1 432.1 602.2 433.4Z" fill="#c0c271"/>
<path d="M606.6 436.5 608.5 436.2 607.0 433.8 605.1 434.3Z" fill="#a7c681"/>
<path d="M609.5 438.2 611.4 438.2 609.9 435.8 608.0 435.9Z" fill="#82c79a"/>
<path d="M612.4 440.3 614.3 440.4 612.8 437.9 610.9 437.8Z" fill="#5bc7b8"/>
<path d="M615.3 442.5 617.2 442.5 615.7 440.0 613.8 440.0Z" fill="#52c1d3"/>
<path d="M618.2 444.6 620.1 444.6 618.6 442.1 616.7 442.2Z" fill="#61b8e0"/>
<path d="M621.1 446.4 623.0 446.2 621.5 444.1 619.6 444.2Z" fill="#74b1e7"/>
<path d="M624.0 447.8 625.9 447.6 624.4 445.8 622.5 446.0Z" fill="#70a5e9"/>
<path d="M626.9 448.9 628.9 448.6 627.3 447.1 625.4 447.3Z" fill="#5b8de4"/>
<path d="M629.8 449.7 631.8 449.3 630.3 448.1 628.3 448.4Z" fill="#697fcc"/>
<path d="M632.7 450.4 634.7 449.9 633.2 448.8 631.2 449.2Z" fill="#616cb9"/>
<path d="M635.6 450.9 637.6 450.4 636.1 449.4 634.1 449.8Z" fill="#565fac"/>
<path d="M570.1 447.8 572.1 446.8 570.6 446.2 568.6 447.1Z" fill="#5a64b1"/>
<path d="M573.0 447.5 575.0 446.4 573.5 445.9 571.5 446.9Z" fill="#6574c1"/>
<path d="M575.9 447.0 577.9 445.7 576.4 445.3 574.4 446.5Z" fill="#6689d9"/>
<path d="M578.9 446.2 580.8 444.6 579.3 444.3 577.3 445.8Z" fill="#77a7eb"/>
<path d="M581.8 445.1 583.7 443.1 582.2 442.9 580.3 444.8Z" fill="#77b1e8"/>
<path d="M584.7 443.8 586.6 441.5 585.1 441.2 583.2 443.4Z" fill="#66b6e2"/>
<path d="M587.6 442.3 589.5 439.9 588.0 439.4 586.1 441.8Z" fill="#52bfda"/>
<path d="M590.5 441.0 592.4 438.5 590.9 437.8 589.0 440.2Z" fill="#56c3c6"/>
<path d="M593.4 439.7 595.3 437.1 593.8 436.2 591.9 438.8Z" fill="#67c7af"/>
<path d="M596.3 438.4 598.2 435.8 596.7 434.5 594.8 437.3Z" fill="#89c895"/>
<path d="M599.2 437.3 601.1 435.1 599.6 433.3 597.7 436.0Z" fill="#a4c682"/>
<path d="M602.1 436.8 604.0 435.3 602.5 433.2 600.5 435.1Z" fill="#aec57c"/>
<path d="M605.0 437.2 606.9 436.3 605.4 434.1 603.5 435.1Z" fill="#a5c682"/>
<path d="M607.9 438.4 609.8 438.1 608.3 435.7 606.4 436.1Z" fill="#8ac894"/>
<path d="M610.8 440.2 612.7 440.2 611.2 437.7 609.3 437.7Z" fill="#65c7b1"/>
<path d="M613.7 442.4 615.6 442.4 614.1 439.9 612.2 439.8Z" fill="#54c2cd"/>
<path d="M616.6 444.5 618.5 444.5 617.0 442.1 615.1 442.0Z" fill="#5cbade"/>
<path d="M619.5 446.3 621.4 446.2 619.9 444.1 618.0 444.1Z" fill="#70b3e6"/>
<path d="M622.4 447.8 624.3 447.6 622.8 445.8 620.9 445.9Z" fill="#74abe9"/>
<path d="M625.3 449.0 627.2 448.7 625.7 447.2 623.8 447.4Z" fill="#5f95e8"/>
<path d="M628.2 449.9 630.2 449.5 628.7 448.2 626.7 448.5Z" fill="#6583d3"/>
<path d="M631.1 450.6 633.1 450.2 631.6 449.0 629.6 449.4Z" fill="#6472c0"/>
<path d="M634.0 451.1 636.0 450.7 634.5 449.6 632.5 450.0Z" fill="#5a63b0"/>
<path d="M571.4 448.2 573.4 447.2 571.9 446.6 569.9 447.5Z" fill="#5f69b6"/>
<path d="M574.3 447.8 576.3 446.7 574.8 446.2 572.8 447.3Z" fill="#687cc9"/>
<path d="M577.2 447.3 579.2 445.9 577.7 445.5 575.7 446.8Z" fill="#6894e4"/>
<path d="M580.2 446.5 582.1 444.7 580.6 444.4 578.6 446.0Z" fill="#7fafeb"/>
<path d="M583.1 445.4 585.0 443.3 583.5 442.9 581.5 445.0Z" fill="#74b1e7"/>
<path d="M586.0 444.2 587.9 441.9 586.4 441.3 584.5 443.6Z" fill="#63b7e1"/>
<path d="M588.9 442.9 590.8 440.6 589.3 439.8 587.4 442.2Z" fill="#51bfda"/>
<path d="M591.8 441.7 593.7 439.3 592.2 438.3 590.3 440.8Z" fill="#56c3c8"/>
<path d="M594.7 440.5 596.6 438.0 595.1 436.9 593.2 439.5Z" fill="#62c7b3"/>
<path d="M597.6 439.4 599.5 436.9 598.0 435.6 596.1 438.2Z" fill="#7ec79d"/>
<path d="M600.5 438.5 602.4 436.5 600.9 434.8 598.9 437.1Z" fill="#94c88d"/>
<path d="M603.4 438.3 605.3 436.9 603.8 434.9 601.8 436.5Z" fill="#99c88a"/>
<path d="M606.3 438.9 608.2 438.2 606.7 435.9 604.8 436.8Z" fill="#8ac894"/>
<path d="M609.2 440.4 611.1 440.1 609.6 437.6 607.7 437.9Z" fill="#6bc7ab"/>
<path d="M612.1 442.3 614.0 442.3 612.5 439.7 610.6 439.7Z" fill="#56c3c6"/>
<path d="M615.0 444.4 616.9 444.4 615.4 441.9 613.5 441.9Z" fill="#56bddc"/>
<path d="M617.9 446.3 619.8 446.2 618.3 444.0 616.4 444.0Z" fill="#6bb4e4"/>
<path d="M620.8 447.8 622.7 447.6 621.2 445.8 619.3 445.9Z" fill="#79b0e9"/>
<path d="M623.7 449.1 625.6 448.8 624.1 447.2 622.2 447.4Z" fill="#669ce8"/>
<path d="M626.6 450.0 628.6 449.7 627.0 448.3 625.1 448.6Z" fill="#5d85da"/>
<path d="M629.5 450.8 631.5 450.4 630.0 449.1 628.0 449.5Z" fill="#6779c6"/>
<path d="M632.4 451.4 634.4 450.9 632.9 449.8 630.9 450.2Z" fill="#5e68b5"/>
<path d="M569.8 448.8 571.8 447.9 570.3 447.2 568.3 448.1Z" fill="#5860ad"/>
<path d="M572.7 448.6 574.7 447.5 573.2 446.9 571.2 447.9Z" fill="#626ebc"/>
<path d="M575.6 448.2 577.6 447.0 576.1 446.4 574.1 447.6Z" fill="#6982d0"/>
<path d="M578.6 447.6 580.5 446.1 579.0 445.7 577.0 447.1Z" fill="#6b9cea"/>
<path d="M581.5 446.8 583.4 445.0 581.9 444.5 579.9 446.3Z" fill="#7dafeb"/>
<path d="M584.4 445.8 586.3 443.8 584.8 443.2 582.8 445.2Z" fill="#73b2e7"/>
<path d="M587.3 444.8 589.2 442.5 587.7 441.7 585.7 444.0Z" fill="#63b7e1"/>
<path d="M590.2 443.7 592.1 441.3 590.6 440.4 588.7 442.8Z" fill="#53bedb"/>
<path d="M593.1 442.6 595.0 440.1 593.5 439.1 591.6 441.6Z" fill="#55c2cb"/>
<path d="M596.0 441.4 597.9 439.0 596.4 437.8 594.5 440.4Z" fill="#5bc7b9"/>
<path d="M598.9 440.4 600.8 438.1 599.3 436.7 597.4 439.2Z" fill="#72c7a6"/>
<path d="M601.8 439.8 603.7 438.0 602.2 436.2 600.2 438.2Z" fill="#81c79b"/>
<path d="M604.7 439.9 606.6 438.7 605.1 436.6 603.1 437.9Z" fill="#7fc79c"/>
<path d="M607.6 440.9 609.5 440.2 608.0 437.8 606.1 438.5Z" fill="#6cc7ab"/>
<path d="M610.5 442.5 612.4 442.2 610.9 439.6 609.0 439.9Z" fill="#58c4c2"/>
<path d="M613.4 444.4 615.3 444.3 613.8 441.8 611.9 441.9Z" fill="#51bfda"/>
<path d="M616.3 446.3 618.2 446.2 616.7 443.9 614.8 443.9Z" fill="#66b6e2"/>
<path d="M619.2 447.9 621.1 447.7 619.6 445.7 617.7 445.8Z" fill="#76b1e8"/>
<path d="M622.1 449.2 624.0 448.9 622.5 447.2 620.6 447.4Z" fill="#6da3e9"/>
<path d="M625.0 450.2 626.9 449.8 625.4 448.4 623.5 448.7Z" fill="#5c8de3"/>
<path d="M627.9 451.0 629.9 450.6 628.3 449.3 626.4 449.7Z" fill="#6980cd"/>
<path d="M630.8 451.7 632.8 451.2 631.3 450.0 629.3 450.4Z" fill="#626dbb"/>
<path d="M633.7 452.2 635.7 451.6 634.2 450.6 632.2 451.1Z" fill="#5760ad"/>
<path d="M571.1 449.2 573.1 448.3 571.6 447.6 569.6 448.5Z" fill="#5b64b1"/>
<path d="M574.0 449.0 576.0 447.9 574.5 447.3 572.5 448.3Z" fill="#6574c1"/>
<path d="M576.9 448.6 578.9 447.3 577.4 446.7 575.4 448.0Z" fill="#6686d6"/>
<path d="M579.9 448.0 581.8 446.5 580.3 445.9 578.3 447.4Z" fill="#6fa0ea"/>
<path d="M582.8 447.3 584.7 445.4 583.2 444.8 581.2 446.6Z" fill="#7cafea"/>
<path d="M585.7 446.4 587.6 444.4 586.1 443.6 584.1 445.7Z" fill="#72b2e7"/>
<path d="M588.6 445.4 590.5 443.3 589.0 442.3 587.0 444.6Z" fill="#64b7e2"/>
<path d="M591.5 444.4 593.4 442.2 591.9 441.1 589.9 443.5Z" fill="#56bddc"/>
<path d="M594.4 443.4 596.3 441.0 594.8 439.9 592.9 442.4Z" fill="#53c1cf"/>
<path d="M597.3 442.4 599.2 440.0 597.7 438.8 595.8 441.2Z" fill="#59c5bf"/>
<path d="M600.2 441.6 602.1 439.5 600.6 437.9 598.6 440.2Z" fill="#65c7b0"/>
<path d="M603.1 441.3 605.0 439.7 603.5 437.7 601.5 439.5Z" fill="#6dc7aa"/>
<path d="M606.0 441.8 607.9 440.7 606.4 438.3 604.5 439.6Z" fill="#65c7b1"/>
<path d="M608.9 443.0 610.8 442.4 609.3 439.8 607.4 440.5Z" fill="#58c4c2"/>
<path d="M611.8 444.7 613.7 444.3 612.2 441.7 610.3 442.1Z" fill="#51c0d7"/>
<path d="M614.7 446.4 616.6 446.2 615.1 443.8 613.2 444.0Z" fill="#62b7e1"/>
<path d="M617.6 448.0 619.5 447.8 618.0 445.7 616.1 445.9Z" fill="#74b2e7"/>
<path d="M620.5 449.4 622.4 449.0 620.9 447.3 619.0 447.5Z" fill="#75a9e9"/>
<path d="M623.4 450.4 625.3 450.0 623.8 448.5 621.9 448.8Z" fill="#6095e8"/>
<path d="M626.3 451.2 628.3 450.8 626.7 449.5 624.8 449.8Z" fill="#6683d2"/>
<path d="M629.2 451.9 631.2 451.4 629.6 450.2 627.7 450.7Z" fill="#6472c0"/>
<path d="M632.1 452.4 634.1 451.9 632.6 450.8 630.6 451.3Z" fill="#5b64b1"/>
<path d="M572.4 449.7 574.4 448.7 572.9 448.0 570.9 449.0Z" fill="#5e68b5"/>
<path d="M575.3 449.4 577.3 448.3 575.8 447.6 573.8 448.7Z" fill="#6779c6"/>
<path d="M578.2 449.0 580.2 447.7 578.7 447.1 576.7 448.4Z" fill="#658adb"/>
<path d="M581.2 448.5 583.1 446.9 581.6 446.2 579.6 447.8Z" fill="#6fa1ea"/>
<path d="M584.1 447.8 586.0 446.0 584.5 445.2 582.5 447.1Z" fill="#7bafea"/>
<path d="M587.0 447.0 588.9 445.0 587.4 444.2 585.4 446.2Z" fill="#73b2e7"/>
<path d="M589.9 446.1 591.8 444.1 590.3 443.1 588.3 445.2Z" fill="#67b6e2"/>
<path d="M592.8 445.2 594.7 443.0 593.2 442.0 591.2 444.2Z" fill="#59bbdd"/>
<path d="M595.7 444.3 597.6 442.0 596.1 440.8 594.1 443.2Z" fill="#52c0d4"/>
<path d="M598.6 443.5 600.5 441.2 599.0 439.8 597.0 442.2Z" fill="#56c3c6"/>
<path d="M601.5 443.0 603.4 441.0 601.9 439.2 599.9 441.3Z" fill="#5ac6bd"/>
<path d="M604.4 443.1 606.3 441.6 604.8 439.3 602.8 441.0Z" fill="#5ac6bc"/>
<path d="M607.3 443.9 609.2 442.8 607.7 440.3 605.8 441.4Z" fill="#56c3c6"/>
<path d="M610.2 445.2 612.1 444.5 610.6 441.9 608.7 442.6Z" fill="#51c0d7"/>
<path d="M613.1 446.7 615.0 446.3 613.5 443.9 611.6 444.2Z" fill="#60b8e0"/>
<path d="M616.0 448.2 617.9 447.9 616.4 445.7 614.5 446.0Z" fill="#72b2e6"/>
<path d="M618.9 449.6 620.8 449.2 619.3 447.3 617.4 447.6Z" fill="#7cafea"/>
<path d="M621.8 450.6 623.7 450.2 622.2 448.6 620.3 449.0Z" fill="#679be9"/>
<path d="M624.7 451.5 626.7 451.0 625.1 449.6 623.2 450.0Z" fill="#6184d7"/>
<path d="M627.6 452.2 629.6 451.7 628.0 450.4 626.1 450.9Z" fill="#6677c4"/>
<path d="M630.5 452.7 632.5 452.2 630.9 451.1 629.0 451.6Z" fill="#5e68b5"/>
<path d="M570.8 450.3 572.8 449.4 571.3 448.6 569.3 449.5Z" fill="#575fac"/>
<path d="M573.7 450.1 575.7 449.1 574.2 448.4 572.2 449.4Z" fill="#616cb9"/>
<path d="M576.6 449.9 578.6 448.7 577.1 448.0 575.1 449.2Z" fill="#687dca"/>
<path d="M579.6 449.5 581.5 448.1 580.0 447.4 578.0 448.8Z" fill="#648ddf"/>
<path d="M582.5 449.0 584.4 447.4 582.9 446.7 580.9 448.2Z" fill="#6ea1e9"/>
<path d="M585.4 448.3 587.3 446.6 585.8 445.8 583.8 447.6Z" fill="#7bafea"/>
<path d="M588.3 447.7 590.2 445.8 588.7 444.8 586.7 446.8Z" fill="#74b2e7"/>
<path d="M591.2 446.9 593.1 444.9 591.6 443.8 589.6 445.9Z" fill="#69b5e3"/>
<path d="M594.1 446.1 596.0 443.9 594.5 442.8 592.5 445.0Z" fill="#5dbadf"/>
<path d="M597.0 445.3 598.9 443.1 597.4 441.8 595.4 444.1Z" fill="#51bfd9"/>
<path d="M599.9 444.7 601.8 442.6 600.3 441.0 598.3 443.2Z" fill="#53c1cf"/>
<path d="M602.8 444.6 604.7 442.8 603.2 440.7 601.2 442.7Z" fill="#55c2ca"/>
<path d="M605.7 445.0 607.6 443.6 606.1 441.2 604.1 442.7Z" fill="#54c2ce"/>
<path d="M608.6 445.9 610.5 445.0 609.0 442.4 607.1 443.4Z" fill="#51bfda"/>
<path d="M611.5 447.2 613.4 446.6 611.9 444.1 610.0 444.7Z" fill="#60b8e0"/>
<path d="M614.4 448.6 616.3 448.1 614.8 445.8 612.9 446.3Z" fill="#70b3e6"/>
<path d="M617.3 449.8 619.2 449.4 617.7 447.4 615.8 447.8Z" fill="#7ab0ea"/>
<path d="M620.2 450.9 622.1 450.4 620.6 448.8 618.7 449.2Z" fill="#6da0e9"/>
<path d="M623.1 451.8 625.0 451.3 623.5 449.8 621.6 450.2Z" fill="#618add"/>
<path d="M626.0 452.5 628.0 452.0 626.4 450.7 624.5 451.1Z" fill="#687cc9"/>
<path d="M628.9 453.0 630.9 452.5 629.3 451.3 627.4 451.8Z" fill="#616bb9"/>
<path d="M631.8 453.5 633.8 452.9 632.3 451.9 630.3 452.4Z" fill="#575fac"/>
<path d="M572.1 450.7 574.1 449.8 572.6 449.1 570.6 450.0Z" fill="#5962af"/>
<path d="M575.0 450.6 577.0 449.5 575.5 448.8 573.5 449.9Z" fill="#626fbc"/>
<path d="M577.9 450.3 579.9 449.1 578.4 448.4 576.4 449.6Z" fill="#6980cd"/>
<path d="M580.9 450.0 582.8 448.6 581.3 447.9 579.3 449.2Z" fill="#618de1"/>
<path d="M583.8 449.5 585.7 448.0 584.2 447.2 582.2 448.7Z" fill="#6da0e9"/>
<path d="M586.7 449.0 588.6 447.3 587.1 446.4 585.1 448.1Z" fill="#7aaeea"/>
<path d="M589.6 448.3 591.5 446.5 590.0 445.6 588.0 447.4Z" fill="#75b1e8"/>
<path d="M592.5 447.7 594.4 445.7 592.9 444.6 590.9 446.7Z" fill="#6cb4e4"/>
<path d="M595.4 447.0 597.3 444.9 595.8 443.7 593.8 445.9Z" fill="#61b8e0"/>
<path d="M598.3 446.4 600.2 444.4 598.7 442.9 596.7 445.1Z" fill="#57bcdc"/>
<path d="M601.2 446.1 603.1 444.2 601.6 442.4 599.6 444.4Z" fill="#51bfda"/>
<path d="M604.1 446.3 606.0 444.7 604.5 442.5 602.5 444.2Z" fill="#51bfda"/>
<path d="M607.0 446.9 608.9 445.7 607.4 443.3 605.5 444.6Z" fill="#57bcdc"/>
<path d="M609.9 447.9 611.8 447.0 610.3 444.6 608.4 445.5Z" fill="#62b7e1"/>
<path d="M612.8 449.0 614.7 448.4 613.2 446.1 611.3 446.8Z" fill="#70b3e6"/>
<path d="M615.7 450.2 617.6 449.6 616.1 447.6 614.2 448.1Z" fill="#7ab0e9"/>
<path d="M618.6 451.2 620.5 450.7 619.0 449.0 617.1 449.4Z" fill="#71a3ea"/>
<path d="M621.5 452.0 623.4 451.5 621.9 450.0 620.0 450.5Z" fill="#628ee1"/>
<path d="M624.4 452.8 626.4 452.2 624.8 450.9 622.9 451.4Z" fill="#6980cd"/>
<path d="M627.3 453.3 629.3 452.8 627.7 451.6 625.8 452.1Z" fill="#626fbc"/>
<path d="M630.2 453.8 632.2 453.2 630.6 452.1 628.7 452.7Z" fill="#5962af"/>
<path d="M573.4 451.2 575.4 450.3 573.9 449.5 571.9 450.5Z" fill="#5b64b1"/>
<path d="M576.3 451.1 578.3 450.0 576.8 449.3 574.8 450.3Z" fill="#6371be"/>
<path d="M579.2 450.8 581.2 449.6 579.7 448.9 577.7 450.1Z" fill="#6982cf"/>
<path d="M582.2 450.5 584.1 449.1 582.6 448.4 580.6 449.7Z" fill="#608de1"/>
<path d="M585.1 450.1 587.0 448.6 585.5 447.7 583.5 449.3Z" fill="#6a9ee9"/>
<path d="M588.0 449.6 589.9 448.0 588.4 447.1 586.4 448.7Z" fill="#76aae9"/>
<path d="M590.9 449.1 592.8 447.3 591.3 446.3 589.3 448.1Z" fill="#77b1e8"/>
<path d="M593.8 448.5 595.7 446.7 594.2 445.5 592.2 447.5Z" fill="#70b3e6"/>
<path d="M596.7 448.0 598.6 446.1 597.1 444.7 595.1 446.8Z" fill="#67b6e3"/>
<path d="M599.6 447.7 601.5 445.8 600.0 444.1 598.0 446.2Z" fill="#60b8e0"/>
<path d="M602.5 447.6 604.4 446.0 602.9 444.0 600.9 445.8Z" fill="#5dbadf"/>
<path d="M605.4 448.0 607.3 446.6 605.8 444.4 603.8 445.9Z" fill="#5fb9e0"/>
<path d="M608.3 448.7 610.2 447.7 608.7 445.3 606.8 446.5Z" fill="#67b6e3"/>
<path d="M611.2 449.6 613.1 448.8 611.6 446.6 609.7 447.5Z" fill="#72b2e6"/>
<path d="M614.1 450.6 616.0 450.0 614.5 448.0 612.6 448.6Z" fill="#7ab0e9"/>
<path d="M617.0 451.6 618.9 451.0 617.4 449.2 615.5 449.8Z" fill="#72a5ea"/>
<path d="M619.9 452.4 621.8 451.8 620.3 450.3 618.4 450.8Z" fill="#6392e4"/>
<path d="M622.8 453.1 624.7 452.5 623.2 451.2 621.3 451.7Z" fill="#6982cf"/>
<path d="M625.7 453.7 627.7 453.1 626.1 451.9 624.2 452.4Z" fill="#6471be"/>
<path d="M628.6 454.1 630.6 453.6 629.0 452.4 627.1 453.0Z" fill="#5b64b1"/>
<path d="M574.7 451.7 576.7 450.8 575.2 450.0 573.2 451.0Z" fill="#5c66b3"/>
<path d="M577.6 451.6 579.6 450.5 578.1 449.7 576.1 450.8Z" fill="#6473c0"/>
<path d="M580.5 451.3 582.5 450.1 581.0 449.4 579.0 450.6Z" fill="#6982cf"/>
<path d="M583.5 451.0 585.4 449.7 583.9 448.9 581.9 450.2Z" fill="#608ce0"/>
<path d="M586.4 450.7 588.3 449.3 586.8 448.4 584.8 449.8Z" fill="#669be9"/>
<path d="M589.3 450.3 591.2 448.7 589.7 447.8 587.7 449.4Z" fill="#72a7e9"/>
<path d="M592.2 449.9 594.1 448.2 592.6 447.1 590.6 448.8Z" fill="#79b0e9"/>
<path d="M595.1 449.5 597.0 447.7 595.5 446.4 593.5 448.3Z" fill="#74b2e7"/>
<path d="M598.0 449.1 599.9 447.4 598.4 445.8 596.4 447.8Z" fill="#6eb4e5"/>
<path d="M600.9 449.0 602.8 447.4 601.3 445.5 599.3 447.4Z" fill="#6ab5e4"/>
<path d="M603.8 449.2 605.7 447.7 604.2 445.7 602.2 447.3Z" fill="#6ab5e3"/>
<path d="M606.7 449.6 608.6 448.5 607.1 446.3 605.1 447.6Z" fill="#6eb3e5"/>
<path d="M609.6 450.3 611.5 449.4 610.0 447.3 608.1 448.3Z" fill="#74b1e7"/>
<path d="M612.5 451.2 614.4 450.4 612.9 448.4 611.0 449.2Z" fill="#7bb0ea"/>
<path d="M615.4 452.0 617.3 451.4 615.8 449.6 613.9 450.2Z" fill="#73a5ea"/>
<path d="M618.3 452.8 620.2 452.2 618.7 450.6 616.8 451.2Z" fill="#6393e5"/>
<path d="M621.2 453.4 623.1 452.9 621.6 451.5 619.7 452.0Z" fill="#6883d1"/>
<path d="M624.1 454.0 626.0 453.4 624.5 452.2 622.6 452.7Z" fill="#6473c0"/>
<path d="M627.0 454.5 629.0 453.9 627.4 452.8 625.5 453.3Z" fill="#5c66b3"/>
<path d="M576.0 452.2 578.0 451.3 576.5 450.5 574.5 451.5Z" fill="#5d67b4"/>
<path d="M578.9 452.1 580.9 451.0 579.4 450.2 577.4 451.3Z" fill="#6573c1"/>
<path d="M581.8 451.9 583.8 450.7 582.3 449.9 580.3 451.1Z" fill="#6982cf"/>
<path d="M584.8 451.6 586.7 450.4 585.2 449.5 583.2 450.8Z" fill="#5f8ade"/>
<path d="M587.7 451.3 589.6 450.0 588.1 449.0 586.1 450.4Z" fill="#6398e8"/>
<path d="M590.6 451.0 592.5 449.5 591.0 448.5 589.0 450.0Z" fill="#6ea3e9"/>
<path d="M593.5 450.7 595.4 449.1 593.9 447.9 591.9 449.6Z" fill="#77ade9"/>
<path d="M596.4 450.4 598.3 448.8 596.8 447.4 594.8 449.2Z" fill="#77b0e9"/>
<path d="M599.3 450.3 601.2 448.7 599.7 447.1 597.7 448.9Z" fill="#74b1e7"/>
<path d="M602.2 450.3 604.1 448.9 602.6 447.0 600.6 448.7Z" fill="#73b2e7"/>
<path d="M605.1 450.6 607.0 449.4 605.5 447.4 603.5 448.8Z" fill="#74b1e7"/>
<path d="M608.0 451.1 609.9 450.1 608.4 448.1 606.4 449.3Z" fill="#78b0e9"/>
<path d="M610.9 451.8 612.8 451.0 611.3 449.0 609.3 450.0Z" fill="#7dafeb"/>
<path d="M613.8 452.5 615.7 451.8 614.2 450.0 612.3 450.8Z" fill="#72a4ea"/>
<path d="M616.7 453.2 618.6 452.6 617.1 451.0 615.2 451.6Z" fill="#6493e5"/>
<path d="M619.6 453.8 621.5 453.2 620.0 451.8 618.1 452.4Z" fill="#6883d1"/>
<path d="M622.5 454.4 624.4 453.8 622.9 452.5 621.0 453.1Z" fill="#6574c1"/>
<path d="M625.4 454.8 627.4 454.2 625.8 453.1 623.9 453.7Z" fill="#5d67b4"/>
<path d="M577.3 452.8 579.3 451.8 577.8 451.0 575.8 452.0Z" fill="#5e68b5"/>
<path d="M580.2 452.6 582.2 451.6 580.7 450.7 578.7 451.8Z" fill="#6473c0"/>
<path d="M583.1 452.5 585.1 451.3 583.6 450.4 581.6 451.6Z" fill="#6981ce"/>
<path d="M586.1 452.2 588.0 451.0 586.5 450.1 584.5 451.4Z" fill="#5f87db"/>
<path d="M589.0 452.0 590.9 450.7 589.4 449.7 587.4 451.1Z" fill="#5f94e8"/>
<path d="M591.9 451.8 593.8 450.4 592.3 449.3 590.3 450.8Z" fill="#699ee9"/>
<path d="M594.8 451.6 596.7 450.1 595.2 448.9 593.2 450.4Z" fill="#71a6e9"/>
<path d="M597.7 451.5 599.6 450.0 598.1 448.5 596.1 450.2Z" fill="#74abe9"/>
<path d="M600.6 451.4 602.5 450.1 601.0 448.4 599.0 450.0Z" fill="#70aae8"/>
<path d="M603.5 451.6 605.4 450.4 603.9 448.6 601.9 450.0Z" fill="#73ace8"/>
<path d="M606.4 452.0 608.3 450.9 606.8 449.0 604.8 450.3Z" fill="#7aaeea"/>
<path d="M609.3 452.5 611.2 451.6 609.7 449.7 607.7 450.8Z" fill="#78aaea"/>
<path d="M612.2 453.1 614.1 452.3 612.6 450.6 610.6 451.4Z" fill="#6ea0ea"/>
<path d="M615.1 453.7 617.0 453.0 615.5 451.4 613.5 452.1Z" fill="#6591e2"/>
<path d="M618.0 454.2 619.9 453.6 618.4 452.2 616.5 452.8Z" fill="#6882d0"/>
<path d="M620.9 454.7 622.8 454.1 621.3 452.8 619.4 453.5Z" fill="#6575c2"/>
<path d="M623.8 455.2 625.7 454.6 624.2 453.4 622.3 454.0Z" fill="#5e68b5"/>
<path d="M578.6 453.3 580.6 452.3 579.1 451.5 577.1 452.5Z" fill="#5e68b5"/>
<path d="M581.5 453.2 583.5 452.1 582.0 451.3 580.0 452.4Z" fill="#6472c0"/>
<path d="M584.4 453.1 586.4 451.9 584.9 451.0 582.9 452.2Z" fill="#697fcc"/>
<path d="M587.4 452.9 589.3 451.7 587.8 450.7 585.8 452.0Z" fill="#6184d6"/>
<path d="M590.3 452.7 592.2 451.5 590.7 450.4 588.7 451.8Z" fill="#5d8fe4"/>
<path d="M593.2 452.6 595.1 451.3 593.6 450.1 591.6 451.5Z" fill="#6398e8"/>
<path d="M596.1 452.5 598.0 451.1 596.5 449.8 594.5 451.3Z" fill="#689ee8"/>
<path d="M599.0 452.5 600.9 451.2 599.4 449.7 597.4 451.2Z" fill="#68a0e8"/>
<path d="M601.9 452.6 603.8 451.4 602.3 449.7 600.3 451.1Z" fill="#659ee7"/>
<path d="M604.8 452.8 606.7 451.7 605.2 450.0 603.2 451.3Z" fill="#6da2e9"/>
<path d="M607.7 453.2 609.6 452.2 608.1 450.5 606.1 451.6Z" fill="#6ea1e9"/>
<path d="M610.6 453.7 612.5 452.8 611.0 451.2 609.0 452.1Z" fill="#689ae9"/>
<path d="M613.5 454.2 615.4 453.4 613.9 451.9 611.9 452.7Z" fill="#668cdd"/>
<path d="M616.4 454.7 618.3 454.0 616.8 452.6 614.8 453.3Z" fill="#6982cf"/>
<path d="M619.3 455.2 621.2 454.5 619.7 453.2 617.7 453.9Z" fill="#6574c1"/>
<path d="M622.2 455.6 624.1 454.9 622.6 453.8 620.7 454.4Z" fill="#5e68b5"/>
<path d="M579.9 453.8 581.9 452.9 580.4 452.0 578.4 453.0Z" fill="#5d67b4"/>
<path d="M582.8 453.8 584.8 452.7 583.3 451.9 581.3 452.9Z" fill="#6371be"/>
<path d="M585.7 453.7 587.7 452.6 586.2 451.7 584.2 452.8Z" fill="#687bc8"/>
<path d="M588.7 453.6 590.6 452.4 589.1 451.4 587.1 452.6Z" fill="#6683d2"/>
<path d="M591.6 453.5 593.5 452.3 592.0 451.2 590.0 452.5Z" fill="#5e87dc"/>
<path d="M594.5 453.4 596.4 452.2 594.9 451.0 592.9 452.3Z" fill="#5d8fe5"/>
<path d="M597.4 453.4 599.3 452.2 597.8 450.9 595.8 452.2Z" fill="#5d94e8"/>
<path d="M600.3 453.5 602.2 452.3 600.7 450.9 598.7 452.2Z" fill="#5b93e7"/>
<path d="M603.2 453.6 605.1 452.6 603.6 451.0 601.6 452.3Z" fill="#5f95e8"/>
<path d="M606.1 453.9 608.0 453.0 606.5 451.4 604.5 452.5Z" fill="#6296e8"/>
<path d="M609.0 454.3 610.9 453.4 609.4 451.9 607.4 452.9Z" fill="#6491e3"/>
<path d="M611.9 454.7 613.8 453.9 612.3 452.5 610.3 453.3Z" fill="#6686d6"/>
<path d="M614.8 455.2 616.7 454.4 615.2 453.1 613.2 453.8Z" fill="#687ecb"/>
<path d="M617.7 455.6 619.6 454.9 618.1 453.6 616.1 454.3Z" fill="#6472bf"/>
<path d="M620.6 456.0 622.5 455.3 621.0 454.2 619.0 454.8Z" fill="#5e68b5"/>
<path d="M581.2 454.4 583.2 453.5 581.7 452.6 579.7 453.6Z" fill="#5c66b3"/>
<path d="M584.1 454.4 586.1 453.4 584.6 452.5 582.6 453.5Z" fill="#626ebc"/>
<path d="M587.0 454.3 589.0 453.3 587.5 452.3 585.5 453.4Z" fill="#6677c4"/>
<path d="M590.0 454.3 591.9 453.2 590.4 452.1 588.4 453.3Z" fill="#6981ce"/>
<path d="M592.9 454.2 594.8 453.1 593.3 452.0 591.3 453.2Z" fill="#6483d4"/>
<path d="M595.8 454.2 597.7 453.1 596.2 451.9 594.2 453.1Z" fill="#5d85da"/>
<path d="M598.7 454.3 600.6 453.2 599.1 451.9 597.1 453.1Z" fill="#5987de"/>
<path d="M601.6 454.4 603.5 453.4 602.0 452.0 600.0 453.2Z" fill="#5887df"/>
<path d="M604.5 454.6 606.4 453.7 604.9 452.2 602.9 453.3Z" fill="#5d88dd"/>
<path d="M607.4 454.9 609.3 454.0 607.8 452.6 605.8 453.6Z" fill="#6285d7"/>
<path d="M610.3 455.3 612.2 454.5 610.7 453.1 608.7 454.0Z" fill="#6882d0"/>
<path d="M613.2 455.7 615.1 454.9 613.6 453.6 611.6 454.4Z" fill="#677ac7"/>
<path d="M616.1 456.0 618.0 455.3 616.5 454.1 614.5 454.8Z" fill="#6370bd"/>
<path d="M619.0 456.4 620.9 455.7 619.4 454.6 617.4 455.2Z" fill="#5d66b3"/>
<path d="M582.5 455.0 584.5 454.1 583.0 453.2 581.0 454.1Z" fill="#5b64b1"/>
<path d="M585.4 455.0 587.4 454.0 585.9 453.1 583.9 454.1Z" fill="#606bb9"/>
<path d="M588.3 455.0 590.3 454.0 588.8 453.0 586.8 454.0Z" fill="#6473c0"/>
<path d="M591.3 455.0 593.2 453.9 591.7 452.9 589.7 454.0Z" fill="#677ac7"/>
<path d="M594.2 455.0 596.1 453.9 594.6 452.8 592.6 453.9Z" fill="#6980cd"/>
<path d="M597.1 455.0 599.0 454.0 597.5 452.8 595.5 453.9Z" fill="#6883d1"/>
<path d="M600.0 455.1 601.9 454.1 600.4 452.9 598.4 454.0Z" fill="#6683d2"/>
<path d="M602.9 455.3 604.8 454.4 603.3 453.0 601.3 454.1Z" fill="#6783d2"/>
<path d="M605.8 455.5 607.7 454.7 606.2 453.3 604.2 454.3Z" fill="#6a82cf"/>
<path d="M608.7 455.8 610.6 455.0 609.1 453.7 607.1 454.6Z" fill="#687cc9"/>
<path d="M611.6 456.2 613.5 455.4 612.0 454.1 610.0 454.9Z" fill="#6574c1"/>
<path d="M614.5 456.5 616.4 455.8 614.9 454.6 612.9 455.3Z" fill="#616cba"/>
<path d="M617.4 456.8 619.3 456.1 617.8 455.0 615.8 455.7Z" fill="#5b65b1"/>
<path d="M583.8 455.6 585.8 454.7 584.3 453.8 582.3 454.7Z" fill="#5962af"/>
<path d="M586.7 455.6 588.7 454.7 587.2 453.7 585.2 454.7Z" fill="#5e68b5"/>
<path d="M589.6 455.6 591.6 454.7 590.1 453.7 588.1 454.7Z" fill="#626ebb"/>
<path d="M592.6 455.6 594.5 454.7 593.0 453.6 591.0 454.7Z" fill="#6473c0"/>
<path d="M595.5 455.7 597.4 454.7 595.9 453.6 593.9 454.7Z" fill="#6677c4"/>
<path d="M598.4 455.8 600.3 454.9 598.8 453.7 596.8 454.7Z" fill="#677ac7"/>
<path d="M601.3 456.0 603.2 455.0 601.7 453.8 599.7 454.8Z" fill="#677ac7"/>
<path d="M604.2 456.2 606.1 455.3 604.6 454.0 602.6 455.0Z" fill="#6778c5"/>
<path d="M607.1 456.4 609.0 455.6 607.5 454.3 605.5 455.2Z" fill="#6574c1"/>
<path d="M610.0 456.7 611.9 455.9 610.4 454.7 608.4 455.5Z" fill="#626fbc"/>
<path d="M612.9 457.0 614.8 456.2 613.3 455.1 611.3 455.8Z" fill="#5e69b6"/>
<path d="M615.8 457.3 617.7 456.6 616.2 455.4 614.2 456.2Z" fill="#5962af"/>
<path d="M585.1 456.2 587.1 455.3 585.6 454.4 583.6 455.3Z" fill="#575fac"/>
<path d="M588.0 456.2 590.0 455.3 588.5 454.4 586.5 455.3Z" fill="#5b64b1"/>
<path d="M590.9 456.3 592.9 455.4 591.4 454.4 589.4 455.3Z" fill="#5e69b6"/>
<path d="M593.8 456.3 595.8 455.4 594.3 454.4 592.3 455.4Z" fill="#616dba"/>
<path d="M596.8 456.4 598.7 455.5 597.2 454.4 595.2 455.4Z" fill="#636fbc"/>
<path d="M599.7 456.6 601.6 455.7 600.1 454.5 598.1 455.5Z" fill="#6370bd"/>
<path d="M602.6 456.7 604.5 455.9 603.0 454.7 601.0 455.6Z" fill="#6370bd"/>
<path d="M605.5 456.9 607.4 456.1 605.9 455.0 603.9 455.8Z" fill="#626dba"/>
<path d="M608.4 457.2 610.3 456.4 608.8 455.2 606.8 456.1Z" fill="#5f69b7"/>
<path d="M611.3 457.4 613.2 456.7 611.7 455.6 609.7 456.3Z" fill="#5b65b2"/>
<path d="M614.2 457.7 616.1 457.0 614.6 455.9 612.6 456.6Z" fill="#5760ac"/>
<path d="M589.3 456.8 591.3 456.0 589.8 455.0 587.8 455.9Z" fill="#5860ad"/>
<path d="M592.2 456.9 594.2 456.1 592.7 455.1 590.7 456.0Z" fill="#5a64b1"/>
<path d="M595.1 457.0 597.1 456.2 595.6 455.1 593.6 456.0Z" fill="#5c66b3"/>
<path d="M598.0 457.1 600.0 456.3 598.5 455.2 596.5 456.1Z" fill="#5e68b5"/>
<path d="M601.0 457.3 602.9 456.5 601.4 455.4 599.4 456.3Z" fill="#5e68b5"/>
<path d="M603.9 457.5 605.8 456.7 604.3 455.6 602.3 456.4Z" fill="#5d66b3"/>
<path d="M606.8 457.7 608.7 456.9 607.2 455.8 605.2 456.6Z" fill="#5b64b1"/>
<path d="M609.7 457.9 611.6 457.2 610.1 456.1 608.1 456.9Z" fill="#5861ae"/>
<path d="M593.5 457.6 595.5 456.7 594.0 455.8 592.0 456.6Z" fill="#565fac"/>
<path d="M596.4 457.7 598.4 456.9 596.9 455.9 594.9 456.7Z" fill="#5860ad"/>
<path d="M599.3 457.8 601.3 457.0 599.8 456.0 597.8 456.8Z" fill="#5861ae"/>
<path d="M602.2 458.0 604.2 457.2 602.7 456.2 600.7 457.0Z" fill="#5861ad"/>
<path d="M605.1 458.2 607.1 457.4 605.6 456.4 603.6 457.2Z" fill="#565fac"/>
<text x="539.5" y="445.6" font-size="10" text-anchor="middle" fill="#222" font-weight="normal">0</text>
<text x="537.0" y="416.5" font-size="10" text-anchor="middle" fill="#222" font-weight="normal">5</text>
<text x="542.3" y="395.5" font-size="9" fill="#222"><tspan font-size="10">×</tspan>10<tspan font-size="6.5" dy="-3.3">-4</tspan></text>
<text x="545.8" y="455.0" font-size="10" text-anchor="middle" fill="#222" font-weight="normal">50</text>
<text x="568.3" y="463.8" font-size="10" text-anchor="middle" fill="#222" font-weight="normal">0</text>
<text x="584.1" y="472.5" font-size="10" text-anchor="middle" fill="#222" font-weight="normal">-50</text>
<text x="608.2" y="472.5" font-size="10" text-anchor="middle" fill="#222" font-weight="normal">-50</text>
<text x="631.8" y="466.6" font-size="10" text-anchor="middle" fill="#222" font-weight="normal">0</text>
<text x="663.0" y="459.4" font-size="10" text-anchor="middle" fill="#222" font-weight="normal">50</text>
<text x="508.0" y="55.2" font-size="10" text-anchor="middle" fill="#222" font-weight="normal" transform="rotate(-90 508 55.2)">Observed</text>
<text x="508.0" y="158.8" font-size="10" text-anchor="middle" fill="#222" font-weight="normal" transform="rotate(-90 508 158.8)">Permuted</text>
<text x="526.5" y="104.0" font-size="10" text-anchor="middle" fill="#222" font-weight="normal" transform="rotate(-90 526.5 104)">Spike Density [arbitrary units]</text>
<text x="508.0" y="320.0" font-size="10" text-anchor="middle" fill="#222" font-weight="normal" transform="rotate(-90 508 320)">Observed</text>
<text x="508.0" y="421.0" font-size="10" text-anchor="middle" fill="#222" font-weight="normal" transform="rotate(-90 508 421)">Permuted</text>
<text x="527.0" y="368.0" font-size="10" text-anchor="middle" fill="#222" font-weight="normal" transform="rotate(-90 527 368)">Spike Density [arbitrary units]</text>
<text x="558.5" y="220.3" font-size="10" text-anchor="middle" fill="#222" font-weight="normal" transform="rotate(29 558.5 220.3)">Feature Dimension 2</text>
<text x="638.5" y="216.2" font-size="10" text-anchor="middle" fill="#222" font-weight="normal" transform="rotate(-18.5 638.5 216.2)">Feature Dimension 1</text>
<text x="557.5" y="483.3" font-size="10" text-anchor="middle" fill="#222" font-weight="normal" transform="rotate(29 557.5 483.3)">Feature Dimension 2</text>
<text x="638.5" y="480.2" font-size="10" text-anchor="middle" fill="#222" font-weight="normal" transform="rotate(-18.5 638.5 480.2)">Feature Dimension 1</text>
<rect x="7.30" y="493.60" width="328.50" height="147.30" fill="none" stroke="#444" stroke-width="2.0"/>
<circle cx="12.90" cy="500.40" r="2.60" fill="#86c250"/>
<text x="22.8" y="503.3" font-size="9.3" text-anchor="start" fill="#222" font-weight="normal">arachnid</text>
<circle cx="12.90" cy="511.37" r="2.60" fill="#6f7a33"/>
<text x="22.8" y="514.3" font-size="9.3" text-anchor="start" fill="#222" font-weight="normal">battery</text>
<circle cx="12.90" cy="522.34" r="2.60" fill="#f0883c"/>
<text x="22.8" y="525.2" font-size="9.3" text-anchor="start" fill="#222" font-weight="normal">bark</text>
<circle cx="12.90" cy="533.31" r="2.60" fill="#e6e034"/>
<text x="22.8" y="536.2" font-size="9.3" text-anchor="start" fill="#222" font-weight="normal">beverage</text>
<circle cx="12.90" cy="544.28" r="2.60" fill="#1b7f80"/>
<text x="22.8" y="547.2" font-size="9.3" text-anchor="start" fill="#222" font-weight="normal">board</text>
<circle cx="12.90" cy="555.25" r="2.60" fill="#5aaa6c"/>
<text x="22.8" y="558.1" font-size="9.3" text-anchor="start" fill="#222" font-weight="normal">bread</text>
<circle cx="12.90" cy="566.22" r="2.60" fill="#6b2a7c"/>
<text x="22.8" y="569.1" font-size="9.3" text-anchor="start" fill="#222" font-weight="normal">brier</text>
<circle cx="12.90" cy="577.19" r="2.60" fill="#7cbb6e"/>
<text x="22.8" y="580.1" font-size="9.3" text-anchor="start" fill="#222" font-weight="normal">building</text>
<circle cx="12.90" cy="588.16" r="2.60" fill="#e8308a"/>
<text x="22.8" y="591.1" font-size="9.3" text-anchor="start" fill="#222" font-weight="normal">car</text>
<circle cx="12.90" cy="599.13" r="2.60" fill="#e0827c"/>
<text x="22.8" y="602.0" font-size="9.3" text-anchor="start" fill="#222" font-weight="normal">cat</text>
<circle cx="12.90" cy="610.10" r="2.60" fill="#e6e38a"/>
<text x="22.8" y="613.0" font-size="9.3" text-anchor="start" fill="#222" font-weight="normal">collection</text>
<circle cx="12.90" cy="621.07" r="2.60" fill="#3a78c2"/>
<text x="22.8" y="624.0" font-size="9.3" text-anchor="start" fill="#222" font-weight="normal">crustacean</text>
<circle cx="12.90" cy="632.04" r="2.60" fill="#43b7da"/>
<text x="22.8" y="634.9" font-size="9.3" text-anchor="start" fill="#222" font-weight="normal">dainty</text>
<circle cx="75.00" cy="500.40" r="2.60" fill="#5b52a2"/>
<text x="84.4" y="503.3" font-size="9.3" text-anchor="start" fill="#222" font-weight="normal">dog</text>
<circle cx="75.00" cy="511.37" r="2.60" fill="#7281c2"/>
<text x="84.4" y="514.3" font-size="9.3" text-anchor="start" fill="#222" font-weight="normal">electrical device</text>
<circle cx="75.00" cy="522.34" r="2.60" fill="#86cce0"/>
<text x="84.4" y="525.2" font-size="9.3" text-anchor="start" fill="#222" font-weight="normal">electronic device</text>
<circle cx="75.00" cy="533.31" r="2.60" fill="#a553a8"/>
<text x="84.4" y="536.2" font-size="9.3" text-anchor="start" fill="#222" font-weight="normal">equipment</text>
<circle cx="75.00" cy="544.28" r="2.60" fill="#d596c4"/>
<text x="84.4" y="547.2" font-size="9.3" text-anchor="start" fill="#222" font-weight="normal">fare</text>
<circle cx="75.00" cy="555.25" r="2.60" fill="#2e0810"/>
<text x="84.4" y="558.1" font-size="9.3" text-anchor="start" fill="#222" font-weight="normal">fern</text>
<circle cx="75.00" cy="566.22" r="2.60" fill="#4c0a12"/>
<text x="84.4" y="569.1" font-size="9.3" text-anchor="start" fill="#222" font-weight="normal">fish</text>
<circle cx="75.00" cy="577.19" r="2.60" fill="#6b0c16"/>
<text x="84.4" y="580.1" font-size="9.3" text-anchor="start" fill="#222" font-weight="normal">flower</text>
<circle cx="75.00" cy="588.16" r="2.60" fill="#820c1a"/>
<text x="84.4" y="591.1" font-size="9.3" text-anchor="start" fill="#222" font-weight="normal">frog</text>
<circle cx="75.00" cy="599.13" r="2.60" fill="#9c1222"/>
<text x="84.4" y="602.0" font-size="9.3" text-anchor="start" fill="#222" font-weight="normal">fruit</text>
<circle cx="75.00" cy="610.10" r="2.60" fill="#b8202e"/>
<text x="84.4" y="613.0" font-size="9.3" text-anchor="start" fill="#222" font-weight="normal">fungus</text>
<circle cx="75.00" cy="621.07" r="2.60" fill="#d82432"/>
<text x="84.4" y="624.0" font-size="9.3" text-anchor="start" fill="#222" font-weight="normal">furniture</text>
<circle cx="75.00" cy="632.04" r="2.60" fill="#e82c3c"/>
<text x="84.4" y="634.9" font-size="9.3" text-anchor="start" fill="#222" font-weight="normal">game bird</text>
<circle cx="163.00" cy="500.40" r="2.60" fill="#0b2a12"/>
<text x="172.7" y="503.3" font-size="9.3" text-anchor="start" fill="#222" font-weight="normal">gymnast</text>
<circle cx="163.00" cy="511.37" r="2.60" fill="#0d3d1c"/>
<text x="172.7" y="514.3" font-size="9.3" text-anchor="start" fill="#222" font-weight="normal">herb</text>
<circle cx="163.00" cy="522.34" r="2.60" fill="#0b5a2c"/>
<text x="172.7" y="525.2" font-size="9.3" text-anchor="start" fill="#222" font-weight="normal">hole</text>
<circle cx="163.00" cy="533.31" r="2.60" fill="#0b7a3c"/>
<text x="172.7" y="536.2" font-size="9.3" text-anchor="start" fill="#222" font-weight="normal">insect</text>
<circle cx="163.00" cy="544.28" r="2.60" fill="#12a04a"/>
<text x="172.7" y="547.2" font-size="9.3" text-anchor="start" fill="#222" font-weight="normal">light</text>
<circle cx="163.00" cy="555.25" r="2.60" fill="#22b054"/>
<text x="172.7" y="558.1" font-size="9.3" text-anchor="start" fill="#222" font-weight="normal">man clothing</text>
<circle cx="163.00" cy="566.22" r="2.60" fill="#43b052"/>
<text x="172.7" y="569.1" font-size="9.3" text-anchor="start" fill="#222" font-weight="normal">moped</text>
<circle cx="163.00" cy="577.19" r="2.60" fill="#62b462"/>
<text x="172.7" y="580.1" font-size="9.3" text-anchor="start" fill="#222" font-weight="normal">musical instrument</text>
<circle cx="163.00" cy="588.16" r="2.60" fill="#0b0b2e"/>
<text x="172.7" y="591.1" font-size="9.3" text-anchor="start" fill="#222" font-weight="normal">needlework</text>
<circle cx="163.00" cy="599.13" r="2.60" fill="#1c1c52"/>
<text x="172.7" y="602.0" font-size="9.3" text-anchor="start" fill="#222" font-weight="normal">nest</text>
<circle cx="163.00" cy="610.10" r="2.60" fill="#2b2c6c"/>
<text x="172.7" y="613.0" font-size="9.3" text-anchor="start" fill="#222" font-weight="normal">plate</text>
<circle cx="163.00" cy="621.07" r="2.60" fill="#313c8c"/>
<text x="172.7" y="624.0" font-size="9.3" text-anchor="start" fill="#222" font-weight="normal">reptile</text>
<circle cx="163.00" cy="632.04" r="2.60" fill="#3242a2"/>
<text x="172.7" y="634.9" font-size="9.3" text-anchor="start" fill="#222" font-weight="normal">ridge</text>
<circle cx="260.10" cy="500.40" r="2.60" fill="#3252b2"/>
<text x="269.8" y="503.3" font-size="9.3" text-anchor="start" fill="#222" font-weight="normal">rock</text>
<circle cx="260.10" cy="511.37" r="2.60" fill="#3b5cb8"/>
<text x="269.8" y="514.3" font-size="9.3" text-anchor="start" fill="#222" font-weight="normal">rodent</text>
<circle cx="260.10" cy="522.34" r="2.60" fill="#4262c2"/>
<text x="269.8" y="525.2" font-size="9.3" text-anchor="start" fill="#222" font-weight="normal">star</text>
<circle cx="260.10" cy="533.31" r="2.60" fill="#222"/>
<text x="269.8" y="536.2" font-size="9.3" text-anchor="start" fill="#222" font-weight="normal">sugar maple</text>
<circle cx="260.10" cy="544.28" r="2.60" fill="#444"/>
<text x="269.8" y="547.2" font-size="9.3" text-anchor="start" fill="#222" font-weight="normal">support</text>
<circle cx="260.10" cy="555.25" r="2.60" fill="#5f5f5f"/>
<text x="269.8" y="558.1" font-size="9.3" text-anchor="start" fill="#222" font-weight="normal">tool</text>
<circle cx="260.10" cy="566.22" r="2.60" fill="#737373"/>
<text x="269.8" y="569.1" font-size="9.3" text-anchor="start" fill="#222" font-weight="normal">utensil</text>
<circle cx="260.10" cy="577.19" r="2.60" fill="#8a8a8a"/>
<text x="269.8" y="580.1" font-size="9.3" text-anchor="start" fill="#222" font-weight="normal">vegetable</text>
<circle cx="260.10" cy="588.16" r="2.60" fill="#a2a2a2"/>
<text x="269.8" y="591.1" font-size="9.3" text-anchor="start" fill="#222" font-weight="normal">vessel</text>
<circle cx="260.10" cy="599.13" r="2.60" fill="#bababa"/>
<text x="269.8" y="602.0" font-size="9.3" text-anchor="start" fill="#222" font-weight="normal">weapon</text>
<circle cx="260.10" cy="610.10" r="2.60" fill="#d4d4d4"/>
<text x="269.8" y="613.0" font-size="9.3" text-anchor="start" fill="#222" font-weight="normal">young mammal</text>
<defs><clipPath id="cclip"><rect x="372.5" y="519.5" width="116.10000000000002" height="99.29999999999995"/></clipPath><linearGradient id="parg" x1="0" y1="1" x2="0" y2="0"><stop offset="0" stop-color="#3d4ea6"/><stop offset="0.2" stop-color="#3f5fbd"/><stop offset="0.35" stop-color="#2f86d8"/><stop offset="0.45" stop-color="#19a6d4"/><stop offset="0.56" stop-color="#1fa596"/><stop offset="0.7" stop-color="#7ab65e"/><stop offset="0.82" stop-color="#eea23c"/><stop offset="0.93" stop-color="#f0d830"/><stop offset="1" stop-color="#f2ec2a"/></linearGradient><filter id="cblur" x="-30%" y="-30%" width="160%" height="160%"><feGaussianBlur stdDeviation="1.3"/></filter><filter id="cblur2" x="-30%" y="-30%" width="160%" height="160%"><feGaussianBlur stdDeviation="0.6"/></filter></defs>
<rect x="372.5" y="519.5" width="116.10000000000002" height="99.29999999999995" fill="#4049a2"/>
<g clip-path="url(#cclip)">
<g filter="url(#cblur2)">
<path d="M466.8 529.8 464.6 533.7 456.6 536.8 444.5 538.8 429.5 538.5 414.6 537.3 406.7 533.2 396.8 530.1 390.9 526.0 396.0 522.4 402.9 519.0 417.7 518.9 430.5 518.1 443.5 519.9 456.0 522.2 463.9 525.8Z" fill="#4868bd" opacity="1"/>
<path d="M437.4 546.7 438.3 551.8 434.3 557.9 428.5 564.9 417.1 569.9 406.1 571.0 394.5 573.6 389.5 569.5 383.2 566.5 386.2 560.1 391.0 554.2 395.6 547.2 407.5 543.6 418.0 540.8 430.1 537.8 438.0 540.4Z" fill="#4764ba" opacity="1"/>
<path d="M483.1 560.0 484.2 565.9 477.7 570.0 470.7 573.4 462.0 573.2 452.8 574.1 445.9 570.3 439.8 565.9 438.3 560.0 442.5 554.9 446.9 550.4 454.1 547.9 462.0 547.0 469.7 548.2 476.9 550.5 482.7 554.5Z" fill="#4766bb" opacity="1"/>
<path d="M402.4 595.0 403.3 602.9 398.9 608.7 393.9 612.8 388.0 616.3 381.9 613.4 377.1 608.6 373.3 602.6 371.3 595.0 374.5 588.0 375.6 579.5 382.5 578.3 388.0 574.0 394.5 575.2 398.2 582.2 403.6 586.9Z" fill="#4664b9" opacity="1"/>
<path d="M465.3 600.0 464.4 604.7 456.6 607.7 449.0 610.1 440.0 611.2 429.1 612.1 422.7 608.0 414.8 604.8 411.8 600.0 413.9 595.0 422.2 591.8 430.3 589.2 440.0 587.9 450.5 588.3 456.9 592.2 465.2 595.2Z" fill="#4766bb" opacity="1"/>
<path d="M489.0 596.0 487.8 600.9 482.3 603.7 478.7 608.1 472.0 607.0 466.1 606.7 460.4 604.7 456.0 601.0 456.5 596.0 456.0 591.0 460.6 587.4 466.1 585.3 472.0 584.4 477.7 585.6 482.4 588.2 485.7 591.7Z" fill="#4663b9" opacity="0.9"/>
<path d="M470.4 612.0 470.2 614.9 466.6 616.6 463.5 617.9 460.0 619.7 456.1 618.5 453.1 616.9 451.2 614.5 449.8 612.0 450.2 609.1 453.0 607.1 456.2 605.6 460.0 605.6 464.1 605.0 466.4 607.5 469.2 609.3Z" fill="#4562b8" opacity="0.8"/>
<path d="M410.8 612.0 408.3 614.1 406.9 616.4 403.0 618.0 398.0 618.2 393.1 617.9 390.2 615.9 387.1 614.3 386.8 612.0 386.1 609.5 389.9 607.9 393.5 606.5 398.0 605.4 402.9 606.1 407.3 607.4 409.0 609.7Z" fill="#4461b6" opacity="0.7"/>
<path d="M432.0 580.0 431.6 583.2 428.4 585.6 424.4 587.1 420.0 587.8 415.7 586.9 411.7 585.5 407.8 583.4 406.9 580.0 408.6 576.9 411.5 574.3 415.6 572.8 420.0 572.7 424.4 572.9 429.0 574.0 431.9 576.7Z" fill="#4562b8" opacity="0.8"/>
<path d="M489.8 575.0 489.8 580.7 488.0 585.4 485.2 588.4 482.0 589.5 478.8 588.6 476.5 584.6 474.3 580.6 474.4 575.0 474.6 569.7 476.0 564.6 478.8 561.6 482.0 561.6 485.3 560.9 487.8 564.8 489.5 569.6Z" fill="#4562b8" opacity="0.6"/>
</g>
<g filter="url(#cblur)">
<path d="M432.0 529.1 432.4 531.5 427.9 532.5 423.4 533.7 417.1 532.9 410.6 531.9 405.8 529.6 402.0 527.1 402.8 524.7 403.2 522.4 406.8 520.8 412.4 520.1 418.9 521.3 425.4 522.1 430.9 524.3 433.6 526.9Z" fill="#3f86cc" opacity="0.8"/>
<path d="M456.9 527.0 456.2 529.5 453.7 531.3 451.1 532.6 448.0 532.5 444.7 533.0 441.7 531.7 440.6 529.3 439.6 527.0 440.2 524.6 442.0 522.5 445.2 521.9 448.0 520.6 451.1 521.3 453.9 522.6 455.3 524.7Z" fill="#3a8ed0" opacity="0.8"/>
<path d="M452.6 539.0 451.7 544.3 446.3 548.5 439.5 551.6 431.0 550.5 423.6 550.0 416.4 548.1 410.9 544.2 411.4 539.0 410.7 533.8 415.7 529.5 423.8 528.3 431.0 526.1 438.5 527.8 444.3 530.8 448.7 534.5Z" fill="#1ea2d0" opacity="0.95"/>
<path d="M445.3 539.0 443.7 542.7 440.5 545.9 435.4 547.6 430.0 549.4 424.1 548.4 418.4 546.6 414.9 543.1 415.0 539.0 413.8 534.6 420.0 532.5 424.0 529.5 430.0 529.1 436.0 529.5 440.3 532.3 446.0 534.7Z" fill="#3aae96" opacity="0.95"/>
<path d="M440.2 538.0 438.4 540.7 437.4 543.8 433.0 544.7 429.0 546.1 424.8 545.1 420.7 543.8 417.2 541.4 416.6 538.0 418.6 535.0 420.3 531.9 424.4 530.4 429.0 530.3 433.0 531.2 437.3 532.2 439.8 534.9Z" fill="#a6b85a" opacity="1"/>
<path d="M437.4 538.0 436.7 540.8 434.2 542.7 431.1 543.8 428.0 545.1 425.1 543.3 422.6 542.2 420.0 540.5 419.3 538.0 420.8 535.7 421.8 533.3 424.4 531.4 428.0 531.7 431.2 532.1 433.6 533.7 435.5 535.6Z" fill="#efa83a" opacity="1"/>
<path d="M435.6 536.0 434.5 537.7 433.9 539.5 432.1 540.6 430.0 540.6 428.2 539.9 426.1 539.5 425.4 537.7 425.1 536.0 425.6 534.4 426.1 532.4 428.1 531.9 430.0 531.7 431.9 531.9 433.2 533.1 434.8 534.2Z" fill="#f2d038" opacity="1"/>
<path d="M409.4 551.0 408.5 552.6 407.5 554.4 403.5 557.2 398.2 559.4 393.4 561.9 389.4 562.9 384.7 564.4 383.5 563.5 385.6 561.3 387.7 559.3 391.5 556.8 395.5 554.0 400.4 552.4 405.2 550.6 408.1 550.4Z" fill="#2c8cd2" opacity="0.8"/>
<path d="M479.5 573.0 478.2 577.3 475.2 581.2 469.2 582.2 464.0 584.7 458.5 582.7 453.3 580.8 450.7 577.0 449.7 573.0 450.0 568.8 453.5 565.3 458.5 563.2 464.0 561.4 469.9 562.6 473.4 566.1 477.0 569.0Z" fill="#1aa4d6" opacity="0.95"/>
<path d="M465.9 575.0 466.1 577.5 464.4 579.6 461.7 580.6 459.0 580.3 456.1 580.9 454.1 579.2 452.4 577.3 451.7 575.0 452.3 572.6 454.1 570.8 456.1 568.9 459.0 569.2 461.6 569.6 464.4 570.4 465.0 572.9Z" fill="#29a89a" opacity="0.9"/>
<path d="M477.7 567.0 478.0 569.9 475.8 571.4 474.5 574.0 472.0 574.3 469.7 573.4 468.0 571.7 466.1 569.9 465.4 567.0 466.9 564.6 467.8 562.1 469.7 560.5 472.0 560.0 474.2 560.8 475.9 562.5 477.7 564.3Z" fill="#1aa6d4" opacity="0.85"/>
<path d="M391.7 589.0 389.5 592.4 388.0 595.6 385.7 598.9 382.0 599.7 378.4 598.6 376.4 595.3 373.2 593.0 372.0 589.0 372.7 584.7 375.3 581.6 378.9 580.8 382.0 578.2 385.2 580.4 388.6 581.7 391.2 584.8Z" fill="#1ca6d8" opacity="1"/>
<path d="M390.3 591.0 389.2 592.7 388.4 594.4 387.1 596.1 385.0 595.6 383.0 595.7 381.5 594.5 380.8 592.8 379.9 591.0 380.9 589.3 381.8 587.8 383.1 586.5 385.0 586.5 386.7 586.9 388.6 587.4 389.9 589.0Z" fill="#2aa89e" opacity="0.9"/>
<path d="M436.9 604.0 434.4 607.1 433.0 610.3 429.7 611.9 426.0 613.2 422.2 612.3 418.2 611.0 417.0 607.3 417.1 604.0 416.3 600.4 419.5 598.2 422.1 595.4 426.0 595.0 430.2 594.9 433.2 597.6 435.5 600.5Z" fill="#1ca4d6" opacity="1"/>
<path d="M432.7 604.0 432.7 605.9 431.3 607.3 430.0 608.9 428.0 609.0 426.3 608.2 424.7 607.3 423.5 605.9 422.7 604.0 423.7 602.2 424.3 600.3 426.0 599.2 428.0 599.5 430.0 599.2 431.2 600.8 432.2 602.3Z" fill="#28a89c" opacity="0.9"/>
<path d="M435.1 602.0 434.5 604.2 434.1 606.6 432.5 607.5 431.0 607.7 429.4 607.9 428.5 605.8 427.1 604.4 427.4 602.0 427.6 599.9 427.9 597.3 429.4 596.2 431.0 596.4 432.4 597.0 434.1 597.3 434.8 599.6Z" fill="#1aa4d6" opacity="0.8"/>
</g></g>
<rect x="372.5" y="519.5" width="116.10000000000002" height="99.29999999999995" fill="none" stroke="#111" stroke-width="1.4"/>
<text x="485.6" y="531.5" font-size="10" text-anchor="end" fill="#fff" font-weight="normal">63.43%</text>
<line x1="372.5" y1="522.8" x2="374.5" y2="522.8" stroke="#111" stroke-width="1"/>
<text x="369.7" y="526.4" font-size="10" text-anchor="end" fill="#222" font-weight="normal">40</text>
<line x1="372.5" y1="547.9" x2="374.5" y2="547.9" stroke="#111" stroke-width="1"/>
<text x="369.7" y="551.5" font-size="10" text-anchor="end" fill="#222" font-weight="normal">20</text>
<line x1="372.5" y1="572.0" x2="374.5" y2="572.0" stroke="#111" stroke-width="1"/>
<text x="369.7" y="575.6" font-size="10" text-anchor="end" fill="#222" font-weight="normal">0</text>
<line x1="372.5" y1="596.3" x2="374.5" y2="596.3" stroke="#111" stroke-width="1"/>
<text x="369.7" y="599.9" font-size="10" text-anchor="end" fill="#222" font-weight="normal">-20</text>
<line x1="400.0" y1="618.8" x2="400.0" y2="616.8" stroke="#111" stroke-width="1"/>
<text x="399.0" y="629.5" font-size="10" text-anchor="middle" fill="#222" font-weight="normal">-20</text>
<line x1="429.8" y1="618.8" x2="429.8" y2="616.8" stroke="#111" stroke-width="1"/>
<text x="428.8" y="629.5" font-size="10" text-anchor="middle" fill="#222" font-weight="normal">0</text>
<line x1="460.3" y1="618.8" x2="460.3" y2="616.8" stroke="#111" stroke-width="1"/>
<text x="459.3" y="629.5" font-size="10" text-anchor="middle" fill="#222" font-weight="normal">20</text>
<text x="429.0" y="639.5" font-size="10" text-anchor="middle" fill="#222" font-weight="normal">Feature Dimension 1</text>
<text x="354.8" y="571.0" font-size="10" text-anchor="middle" fill="#222" font-weight="normal" transform="rotate(-90 354.8 571)">Feature Dimension 2</text>
<rect x="492.3" y="519.5" width="10.2" height="99.29999999999995" fill="url(#parg)" stroke="#bbb" stroke-width="0.6"/>
<text x="504.0" y="534.3" font-size="10" text-anchor="start" fill="#222" font-weight="normal">15</text>
<text x="504.0" y="622.5" font-size="10" text-anchor="start" fill="#222" font-weight="normal">0</text>
<text x="523.5" y="569.5" font-size="10" text-anchor="middle" fill="#222" font-weight="normal" transform="rotate(-90 523.5 569.5)">Neuron Counts</text>
<line x1="582.7" y1="522.1" x2="582.7" y2="628.5" stroke="#111" stroke-width="1.8"/>
<line x1="581.8000000000001" y1="627.6" x2="685" y2="627.6" stroke="#111" stroke-width="1.8"/>
<line x1="582.7" y1="627.6" x2="585.2" y2="627.6" stroke="#111" stroke-width="1"/>
<text x="578.2" y="631.2" font-size="10" text-anchor="end" fill="#222" font-weight="normal">0.4</text>
<line x1="582.7" y1="606.6" x2="585.2" y2="606.6" stroke="#111" stroke-width="1"/>
<text x="578.2" y="610.2" font-size="10" text-anchor="end" fill="#222" font-weight="normal">0.5</text>
<line x1="582.7" y1="585.6" x2="585.2" y2="585.6" stroke="#111" stroke-width="1"/>
<text x="578.2" y="589.2" font-size="10" text-anchor="end" fill="#222" font-weight="normal">0.6</text>
<line x1="582.7" y1="564.6" x2="585.2" y2="564.6" stroke="#111" stroke-width="1"/>
<text x="578.2" y="568.2" font-size="10" text-anchor="end" fill="#222" font-weight="normal">0.7</text>
<line x1="582.7" y1="543.6" x2="585.2" y2="543.6" stroke="#111" stroke-width="1"/>
<text x="578.2" y="547.2" font-size="10" text-anchor="end" fill="#222" font-weight="normal">0.8</text>
<line x1="582.7" y1="522.6" x2="585.2" y2="522.6" stroke="#111" stroke-width="1"/>
<text x="578.2" y="526.2" font-size="10" text-anchor="end" fill="#222" font-weight="normal">0.9</text>
<line x1="611.7" y1="627.6" x2="611.7" y2="625.1" stroke="#111" stroke-width="1"/>
<text x="611.7" y="639.0" font-size="10" text-anchor="middle" fill="#222" font-weight="normal">S-S</text>
<line x1="662.6" y1="627.6" x2="662.6" y2="625.1" stroke="#111" stroke-width="1"/>
<text x="662.6" y="639.0" font-size="10" text-anchor="middle" fill="#222" font-weight="normal">S-NS</text>
<text x="559.5" y="575.5" font-size="10" text-anchor="middle" fill="#222" font-weight="normal" transform="rotate(-90 559.5 575.5)">Normalized Feature Distance</text>
<line x1="611.7" y1="548.9" x2="611.7" y2="567.5" stroke="#c4203c" stroke-width="1.6" stroke-dasharray="4,2"/>
<line x1="611.7" y1="583.5" x2="611.7" y2="607.6" stroke="#c4203c" stroke-width="1.6" stroke-dasharray="4,2"/>
<line x1="606.7" y1="548.9" x2="616.7" y2="548.9" stroke="#c4203c" stroke-width="1.6"/>
<line x1="606.7" y1="607.6" x2="616.7" y2="607.6" stroke="#c4203c" stroke-width="1.6"/>
<rect x="602.2" y="567.5" width="19" height="16.0" fill="none" stroke="#c4203c" stroke-width="1.8"/>
<line x1="602.2" y1="578.9" x2="621.2" y2="578.9" stroke="#c4203c" stroke-width="1.8"/>
<path d="M609.7,526.8h4M611.7,524.8v4" stroke="#c8c8c8" stroke-width="1"/>
<path d="M609.7,535.2h4M611.7,533.2v4" stroke="#c8c8c8" stroke-width="1"/>
<path d="M609.7,538.4h4M611.7,536.4v4" stroke="#c8c8c8" stroke-width="1"/>
<path d="M609.7,619.2h4M611.7,617.2v4" stroke="#c8c8c8" stroke-width="1"/>
<path d="M609.7,623.4h4M611.7,621.4v4" stroke="#c8c8c8" stroke-width="1"/>
<line x1="662.8" y1="560.4" x2="662.8" y2="569.6" stroke="#9a9ea2" stroke-width="1.6" stroke-dasharray="4,2"/>
<line x1="662.8" y1="576.6" x2="662.8" y2="585.6" stroke="#9a9ea2" stroke-width="1.6" stroke-dasharray="4,2"/>
<line x1="657.8" y1="560.4" x2="667.8" y2="560.4" stroke="#333" stroke-width="1.6"/>
<line x1="657.8" y1="585.6" x2="667.8" y2="585.6" stroke="#333" stroke-width="1.6"/>
<rect x="654.3" y="569.6" width="17" height="6.9" fill="none" stroke="#9a9ea2" stroke-width="1.8"/>
<line x1="654.3" y1="573.4" x2="671.3" y2="573.4" stroke="#9a9ea2" stroke-width="1.8"/>
<path d="M660.8,555.2h4M662.8,553.2v4" stroke="#c8c8c8" stroke-width="1"/>
<path d="M660.8,557.2h4M662.8,555.2v4" stroke="#c8c8c8" stroke-width="1"/>
<path d="M660.8,589.8h4M662.8,587.8v4" stroke="#c8c8c8" stroke-width="1"/>
<line x1="662.8" y1="570.4" x2="662.8" y2="576.4" stroke="#9a9ea2" stroke-width="0"/>
<polyline points="611.7,524.7 611.7,520.4 663.2,520.4 663.2,532.4" fill="none" stroke="#111" stroke-width="1.6"/>
<text x="637.5" y="520.5" font-size="14" text-anchor="middle" fill="#111" font-weight="normal">***</text>
</svg></body></html>
